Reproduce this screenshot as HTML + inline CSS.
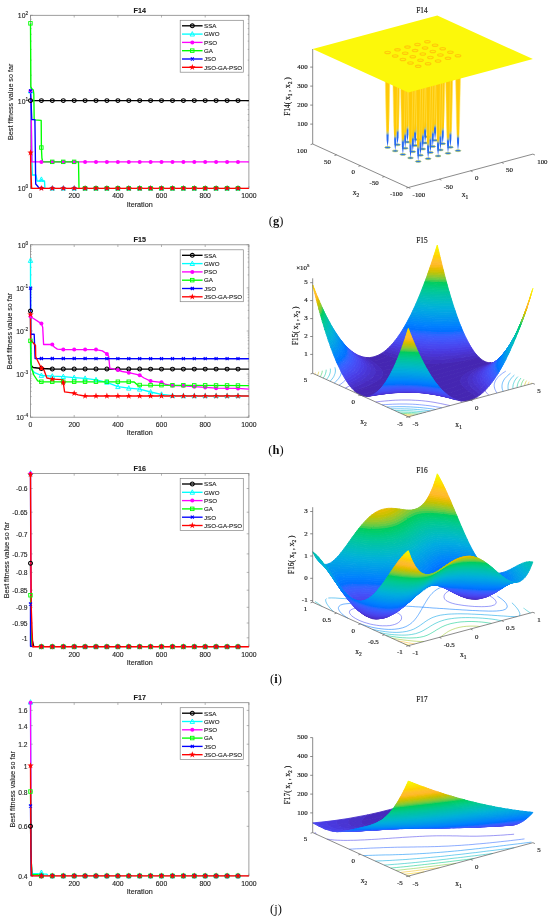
<!DOCTYPE html>
<html><head><meta charset="utf-8"><title>Convergence curves and test functions F14-F17</title>
<style>html,body{margin:0;padding:0;background:#fff}svg{display:block}</style></head>
<body>
<svg width="550" height="921" viewBox="0 0 550 921">
<rect width="550" height="921" fill="#fff"/>
<defs><filter id="sb" x="-5%" y="-5%" width="110%" height="110%"><feGaussianBlur stdDeviation="0.45"/></filter></defs>
<defs><g id="mSSA"><circle cx="0" cy="0" r="1.95" fill="none" stroke="#000000" stroke-width="1.05"/></g><g id="mGWO"><path d="M0,-2.5L-2.2,1.9L2.2,1.9Z" fill="none" stroke="#00ffff" stroke-width="0.95"/></g><g id="mPSO"><circle cx="0" cy="0" r="2" fill="#ff00ff" stroke="none"/></g><g id="mGA"><rect x="-1.8" y="-1.8" width="3.5" height="3.5" fill="none" stroke="#00ff00" stroke-width="0.9"/></g><g id="mJSO"><path d="M-1.5,-1.5L1.5,1.5M-1.5,1.5L1.5,-1.5" stroke="#0000ff" stroke-width="1.15" fill="none"/></g><g id="mHYB"><polygon points="0,-3.4 0.8,-1.1 3.2,-1 1.2,0.4 2,2.7 0,1.3 -2,2.7 -1.2,0.4 -3.2,-1 -0.8,-1.1" fill="#ff0000" stroke="none"/></g></defs>
<g font-family="Liberation Sans, sans-serif" font-size="6.8" fill="#1c1c1c" stroke="#1c1c1c" stroke-width="0.12">
<rect x="30.5" y="15.3" width="218.4" height="173" fill="none" stroke="#858585" stroke-width="0.8"/>
<text x="30.5" y="198.4" text-anchor="middle">0</text>
<text x="74.2" y="198.4" text-anchor="middle">200</text>
<text x="117.9" y="198.4" text-anchor="middle">400</text>
<text x="161.5" y="198.4" text-anchor="middle">600</text>
<text x="205.2" y="198.4" text-anchor="middle">800</text>
<text x="248.9" y="198.4" text-anchor="middle">1000</text>
<text x="28.1" y="18.3" text-anchor="end">10<tspan dy="-3.2" font-size="4.8">2</tspan></text>
<text x="28.1" y="104" text-anchor="end">10<tspan dy="-3.2" font-size="4.8">1</tspan></text>
<text x="28.1" y="191.3" text-anchor="end">10<tspan dy="-3.2" font-size="4.8">0</tspan></text>
<path d="M30.5,188.3v-2.2M30.5,15.3v2.2M74.2,188.3v-2.2M74.2,15.3v2.2M117.9,188.3v-2.2M117.9,15.3v2.2M161.5,188.3v-2.2M161.5,15.3v2.2M205.2,188.3v-2.2M205.2,15.3v2.2M248.9,188.3v-2.2M248.9,15.3v2.2M30.5,15.3h2.2M248.9,15.3h-2.2M30.5,101h2.2M248.9,101h-2.2M30.5,188.3h2.2M248.9,188.3h-2.2M30.5,162h1.2M248.9,162h-1.2M30.5,146.6h1.2M248.9,146.6h-1.2M30.5,135.7h1.2M248.9,135.7h-1.2M30.5,127.3h1.2M248.9,127.3h-1.2M30.5,120.4h1.2M248.9,120.4h-1.2M30.5,114.5h1.2M248.9,114.5h-1.2M30.5,109.5h1.2M248.9,109.5h-1.2M30.5,105h1.2M248.9,105h-1.2M30.5,75.2h1.2M248.9,75.2h-1.2M30.5,60.1h1.2M248.9,60.1h-1.2M30.5,49.4h1.2M248.9,49.4h-1.2M30.5,41.1h1.2M248.9,41.1h-1.2M30.5,34.3h1.2M248.9,34.3h-1.2M30.5,28.6h1.2M248.9,28.6h-1.2M30.5,23.6h1.2M248.9,23.6h-1.2M30.5,19.2h1.2M248.9,19.2h-1.2" stroke="#858585" stroke-width="0.6" fill="none"/>
<path d="M30.5,100.6L248.9,100.6" fill="none" stroke="#000000" stroke-width="1.35" stroke-linejoin="round"/>
<path d="M30.5,91L31.2,120L32.2,175L36,175L37.1,181L40.3,181L41.4,179.4L42.5,181L44.5,181L44.9,188.3" fill="none" stroke="#00ffff" stroke-width="1.35" stroke-linejoin="round"/>
<path d="M30.5,91L31.2,110L31.8,161.9L248.9,161.9" fill="none" stroke="#ff00ff" stroke-width="1.35" stroke-linejoin="round"/>
<path d="M30.5,23.4L30.9,86.5L31.6,88.5L33.3,90L33.8,94L34.2,119.8L41.2,120.4L41.4,147.6L41.9,158L42.7,161.9L78.5,161.9L79,188.3" fill="none" stroke="#00ff00" stroke-width="1.35" stroke-linejoin="round"/>
<path d="M30.5,91L31.2,105L31.8,119.6L34.9,119.6L35.7,184L37.5,186L39.2,188.3" fill="none" stroke="#0000ff" stroke-width="1.35" stroke-linejoin="round"/>
<path d="M30.5,152.7L30.9,170L31.6,188.3L248.9,188.3" fill="none" stroke="#ff0000" stroke-width="1.35" stroke-linejoin="round"/>
<use href="#mSSA" x="30.5" y="100.6"/>
<use href="#mSSA" x="41.4" y="100.6"/>
<use href="#mSSA" x="52.3" y="100.6"/>
<use href="#mSSA" x="63.3" y="100.6"/>
<use href="#mSSA" x="74.2" y="100.6"/>
<use href="#mSSA" x="85.1" y="100.6"/>
<use href="#mSSA" x="96" y="100.6"/>
<use href="#mSSA" x="106.9" y="100.6"/>
<use href="#mSSA" x="117.9" y="100.6"/>
<use href="#mSSA" x="128.8" y="100.6"/>
<use href="#mSSA" x="139.7" y="100.6"/>
<use href="#mSSA" x="150.6" y="100.6"/>
<use href="#mSSA" x="161.5" y="100.6"/>
<use href="#mSSA" x="172.5" y="100.6"/>
<use href="#mSSA" x="183.4" y="100.6"/>
<use href="#mSSA" x="194.3" y="100.6"/>
<use href="#mSSA" x="205.2" y="100.6"/>
<use href="#mSSA" x="216.1" y="100.6"/>
<use href="#mSSA" x="227.1" y="100.6"/>
<use href="#mSSA" x="238" y="100.6"/>
<use href="#mGWO" x="30.5" y="91"/>
<use href="#mGWO" x="41.4" y="179.4"/>
<use href="#mGWO" x="52.3" y="188.3"/>
<use href="#mGWO" x="63.3" y="188.3"/>
<use href="#mGWO" x="74.2" y="188.3"/>
<use href="#mGWO" x="85.1" y="188.3"/>
<use href="#mGWO" x="96" y="188.3"/>
<use href="#mGWO" x="106.9" y="188.3"/>
<use href="#mGWO" x="117.9" y="188.3"/>
<use href="#mGWO" x="128.8" y="188.3"/>
<use href="#mGWO" x="139.7" y="188.3"/>
<use href="#mGWO" x="150.6" y="188.3"/>
<use href="#mGWO" x="161.5" y="188.3"/>
<use href="#mGWO" x="172.5" y="188.3"/>
<use href="#mGWO" x="183.4" y="188.3"/>
<use href="#mGWO" x="194.3" y="188.3"/>
<use href="#mGWO" x="205.2" y="188.3"/>
<use href="#mGWO" x="216.1" y="188.3"/>
<use href="#mGWO" x="227.1" y="188.3"/>
<use href="#mGWO" x="238" y="188.3"/>
<use href="#mPSO" x="30.5" y="91"/>
<use href="#mPSO" x="41.4" y="161.9"/>
<use href="#mPSO" x="52.3" y="161.9"/>
<use href="#mPSO" x="63.3" y="161.9"/>
<use href="#mPSO" x="74.2" y="161.9"/>
<use href="#mPSO" x="85.1" y="161.9"/>
<use href="#mPSO" x="96" y="161.9"/>
<use href="#mPSO" x="106.9" y="161.9"/>
<use href="#mPSO" x="117.9" y="161.9"/>
<use href="#mPSO" x="128.8" y="161.9"/>
<use href="#mPSO" x="139.7" y="161.9"/>
<use href="#mPSO" x="150.6" y="161.9"/>
<use href="#mPSO" x="161.5" y="161.9"/>
<use href="#mPSO" x="172.5" y="161.9"/>
<use href="#mPSO" x="183.4" y="161.9"/>
<use href="#mPSO" x="194.3" y="161.9"/>
<use href="#mPSO" x="205.2" y="161.9"/>
<use href="#mPSO" x="216.1" y="161.9"/>
<use href="#mPSO" x="227.1" y="161.9"/>
<use href="#mPSO" x="238" y="161.9"/>
<use href="#mGA" x="30.5" y="23.4"/>
<use href="#mGA" x="41.4" y="147.6"/>
<use href="#mGA" x="52.3" y="161.9"/>
<use href="#mGA" x="63.3" y="161.9"/>
<use href="#mGA" x="74.2" y="161.9"/>
<use href="#mGA" x="85.1" y="188.3"/>
<use href="#mGA" x="96" y="188.3"/>
<use href="#mGA" x="106.9" y="188.3"/>
<use href="#mGA" x="117.9" y="188.3"/>
<use href="#mGA" x="128.8" y="188.3"/>
<use href="#mGA" x="139.7" y="188.3"/>
<use href="#mGA" x="150.6" y="188.3"/>
<use href="#mGA" x="161.5" y="188.3"/>
<use href="#mGA" x="172.5" y="188.3"/>
<use href="#mGA" x="183.4" y="188.3"/>
<use href="#mGA" x="194.3" y="188.3"/>
<use href="#mGA" x="205.2" y="188.3"/>
<use href="#mGA" x="216.1" y="188.3"/>
<use href="#mGA" x="227.1" y="188.3"/>
<use href="#mGA" x="238" y="188.3"/>
<use href="#mJSO" x="30.5" y="91"/>
<use href="#mJSO" x="41.4" y="188.3"/>
<use href="#mJSO" x="52.3" y="188.3"/>
<use href="#mJSO" x="63.3" y="188.3"/>
<use href="#mJSO" x="74.2" y="188.3"/>
<use href="#mJSO" x="85.1" y="188.3"/>
<use href="#mJSO" x="96" y="188.3"/>
<use href="#mJSO" x="106.9" y="188.3"/>
<use href="#mJSO" x="117.9" y="188.3"/>
<use href="#mJSO" x="128.8" y="188.3"/>
<use href="#mJSO" x="139.7" y="188.3"/>
<use href="#mJSO" x="150.6" y="188.3"/>
<use href="#mJSO" x="161.5" y="188.3"/>
<use href="#mJSO" x="172.5" y="188.3"/>
<use href="#mJSO" x="183.4" y="188.3"/>
<use href="#mJSO" x="194.3" y="188.3"/>
<use href="#mJSO" x="205.2" y="188.3"/>
<use href="#mJSO" x="216.1" y="188.3"/>
<use href="#mJSO" x="227.1" y="188.3"/>
<use href="#mJSO" x="238" y="188.3"/>
<use href="#mHYB" x="30.5" y="152.7"/>
<use href="#mHYB" x="41.4" y="188.3"/>
<use href="#mHYB" x="52.3" y="188.3"/>
<use href="#mHYB" x="63.3" y="188.3"/>
<use href="#mHYB" x="74.2" y="188.3"/>
<use href="#mHYB" x="85.1" y="188.3"/>
<use href="#mHYB" x="96" y="188.3"/>
<use href="#mHYB" x="106.9" y="188.3"/>
<use href="#mHYB" x="117.9" y="188.3"/>
<use href="#mHYB" x="128.8" y="188.3"/>
<use href="#mHYB" x="139.7" y="188.3"/>
<use href="#mHYB" x="150.6" y="188.3"/>
<use href="#mHYB" x="161.5" y="188.3"/>
<use href="#mHYB" x="172.5" y="188.3"/>
<use href="#mHYB" x="183.4" y="188.3"/>
<use href="#mHYB" x="194.3" y="188.3"/>
<use href="#mHYB" x="205.2" y="188.3"/>
<use href="#mHYB" x="216.1" y="188.3"/>
<use href="#mHYB" x="227.1" y="188.3"/>
<use href="#mHYB" x="238" y="188.3"/>
<text x="139.7" y="12.7" text-anchor="middle" font-weight="bold" font-size="7.2">F14</text>
<text x="139.7" y="206.5" text-anchor="middle" font-size="7.2">Iteration</text>
<text transform="translate(13.3,101.8) rotate(-90)" text-anchor="middle" font-size="7.2">Best fitness value so far</text>
<rect x="180.2" y="20.3" width="63.1" height="51.9" fill="#fff" stroke="#858585" stroke-width="0.7"/>
<path d="M182,25.8H202.6" stroke="#000000" stroke-width="1.35"/>
<use href="#mSSA" x="192.3" y="25.8"/>
<text x="204" y="28.1" font-size="6.2">SSA</text>
<path d="M182,34.1H202.6" stroke="#00ffff" stroke-width="1.35"/>
<use href="#mGWO" x="192.3" y="34.1"/>
<text x="204" y="36.4" font-size="6.2">GWO</text>
<path d="M182,42.4H202.6" stroke="#ff00ff" stroke-width="1.35"/>
<use href="#mPSO" x="192.3" y="42.4"/>
<text x="204" y="44.7" font-size="6.2">PSO</text>
<path d="M182,50.7H202.6" stroke="#00ff00" stroke-width="1.35"/>
<use href="#mGA" x="192.3" y="50.7"/>
<text x="204" y="53" font-size="6.2">GA</text>
<path d="M182,59H202.6" stroke="#0000ff" stroke-width="1.35"/>
<use href="#mJSO" x="192.3" y="59"/>
<text x="204" y="61.2" font-size="6.2">JSO</text>
<path d="M182,67.3H202.6" stroke="#ff0000" stroke-width="1.35"/>
<use href="#mHYB" x="192.3" y="67.3"/>
<text x="204" y="69.5" font-size="6.2">JSO-GA-PSO</text>
</g>
<g font-family="Liberation Sans, sans-serif" font-size="6.8" fill="#1c1c1c" stroke="#1c1c1c" stroke-width="0.12">
<rect x="30.5" y="244.8" width="218.4" height="172.4" fill="none" stroke="#858585" stroke-width="0.8"/>
<text x="30.5" y="427.3" text-anchor="middle">0</text>
<text x="74.2" y="427.3" text-anchor="middle">200</text>
<text x="117.9" y="427.3" text-anchor="middle">400</text>
<text x="161.5" y="427.3" text-anchor="middle">600</text>
<text x="205.2" y="427.3" text-anchor="middle">800</text>
<text x="248.9" y="427.3" text-anchor="middle">1000</text>
<text x="28.1" y="247.8" text-anchor="end">10<tspan dy="-3.2" font-size="4.8">0</tspan></text>
<text x="28.1" y="290.9" text-anchor="end">10<tspan dy="-3.2" font-size="4.8">-1</tspan></text>
<text x="28.1" y="334" text-anchor="end">10<tspan dy="-3.2" font-size="4.8">-2</tspan></text>
<text x="28.1" y="377.1" text-anchor="end">10<tspan dy="-3.2" font-size="4.8">-3</tspan></text>
<text x="28.1" y="420.2" text-anchor="end">10<tspan dy="-3.2" font-size="4.8">-4</tspan></text>
<path d="M30.5,417.2v-2.2M30.5,244.8v2.2M74.2,417.2v-2.2M74.2,244.8v2.2M117.9,417.2v-2.2M117.9,244.8v2.2M161.5,417.2v-2.2M161.5,244.8v2.2M205.2,417.2v-2.2M205.2,244.8v2.2M248.9,417.2v-2.2M248.9,244.8v2.2M30.5,244.8h2.2M248.9,244.8h-2.2M30.5,287.9h2.2M248.9,287.9h-2.2M30.5,331h2.2M248.9,331h-2.2M30.5,374.1h2.2M248.9,374.1h-2.2M30.5,417.2h2.2M248.9,417.2h-2.2M30.5,404.2h1.2M248.9,404.2h-1.2M30.5,396.6h1.2M248.9,396.6h-1.2M30.5,391.3h1.2M248.9,391.3h-1.2M30.5,387.1h1.2M248.9,387.1h-1.2M30.5,383.7h1.2M248.9,383.7h-1.2M30.5,380.8h1.2M248.9,380.8h-1.2M30.5,378.3h1.2M248.9,378.3h-1.2M30.5,376.1h1.2M248.9,376.1h-1.2M30.5,361.1h1.2M248.9,361.1h-1.2M30.5,353.5h1.2M248.9,353.5h-1.2M30.5,348.2h1.2M248.9,348.2h-1.2M30.5,344h1.2M248.9,344h-1.2M30.5,340.6h1.2M248.9,340.6h-1.2M30.5,337.7h1.2M248.9,337.7h-1.2M30.5,335.2h1.2M248.9,335.2h-1.2M30.5,333h1.2M248.9,333h-1.2M30.5,318h1.2M248.9,318h-1.2M30.5,310.4h1.2M248.9,310.4h-1.2M30.5,305.1h1.2M248.9,305.1h-1.2M30.5,300.9h1.2M248.9,300.9h-1.2M30.5,297.5h1.2M248.9,297.5h-1.2M30.5,294.6h1.2M248.9,294.6h-1.2M30.5,292.1h1.2M248.9,292.1h-1.2M30.5,289.9h1.2M248.9,289.9h-1.2M30.5,274.9h1.2M248.9,274.9h-1.2M30.5,267.3h1.2M248.9,267.3h-1.2M30.5,262h1.2M248.9,262h-1.2M30.5,257.8h1.2M248.9,257.8h-1.2M30.5,254.4h1.2M248.9,254.4h-1.2M30.5,251.5h1.2M248.9,251.5h-1.2M30.5,249h1.2M248.9,249h-1.2M30.5,246.8h1.2M248.9,246.8h-1.2" stroke="#858585" stroke-width="0.6" fill="none"/>
<path d="M30.5,310.9L30.7,362L31.6,366L33.1,367.5L41.4,368.5L52.3,369L248.9,369.1" fill="none" stroke="#000000" stroke-width="1.35" stroke-linejoin="round"/>
<path d="M30.5,260.5L30.7,345L31.2,369L34.6,372.7L41.4,375.5L52.3,376.2L63.3,376.6L74.2,377.6L85.1,378.4L96,379.8L106.9,382.3L117.9,386.7L128.8,388.2L139.7,389.2L150.6,392L161.5,394.3L172.5,395.6L183.4,395.8L248.9,395.8" fill="none" stroke="#00ffff" stroke-width="1.35" stroke-linejoin="round"/>
<path d="M30.5,316.4L32.7,318L41.4,323.6L42.7,327.3L43.6,344.5L52.3,344.5L54.5,347.3L57.4,349.1L62.8,349.5L96,349.6L102.4,350.9L106.9,354L108.7,356.4L109.8,368.2L117.6,369.8L122.2,371.5L128.8,372.7L139.7,375.2L144.1,378L150.6,381.1L161.5,382.3L165.9,384.5L172.5,385.6L183.4,385.8L194.3,386.7L205.2,387.4L216.1,388.2L238,388.4L248.9,389.2" fill="none" stroke="#ff00ff" stroke-width="1.35" stroke-linejoin="round"/>
<path d="M30.5,340.9L30.9,360L31.6,368L33.8,375L37.7,380.9L41.4,381.8L128.8,381.8L134.2,382L137.5,385.1L248.9,385.6" fill="none" stroke="#00ff00" stroke-width="1.35" stroke-linejoin="round"/>
<path d="M30.5,288.2L30.7,334.2L34.2,334.2L35.1,358.5L248.9,358.7" fill="none" stroke="#0000ff" stroke-width="1.35" stroke-linejoin="round"/>
<path d="M30.5,314.5L30.7,340L35.5,345.5L35.7,356.4L36.4,358.2L41.4,368.2L43.6,369.1L46.9,378L52.3,379.1L62.8,379.6L64.6,391.8L73.7,393.1L78.1,394.9L84.7,396L248.9,396" fill="none" stroke="#ff0000" stroke-width="1.35" stroke-linejoin="round"/>
<use href="#mSSA" x="30.5" y="310.9"/>
<use href="#mSSA" x="41.4" y="368.5"/>
<use href="#mSSA" x="52.3" y="369"/>
<use href="#mSSA" x="63.3" y="369"/>
<use href="#mSSA" x="74.2" y="369"/>
<use href="#mSSA" x="85.1" y="369"/>
<use href="#mSSA" x="96" y="369"/>
<use href="#mSSA" x="106.9" y="369"/>
<use href="#mSSA" x="117.9" y="369"/>
<use href="#mSSA" x="128.8" y="369"/>
<use href="#mSSA" x="139.7" y="369"/>
<use href="#mSSA" x="150.6" y="369.1"/>
<use href="#mSSA" x="161.5" y="369.1"/>
<use href="#mSSA" x="172.5" y="369.1"/>
<use href="#mSSA" x="183.4" y="369.1"/>
<use href="#mSSA" x="194.3" y="369.1"/>
<use href="#mSSA" x="205.2" y="369.1"/>
<use href="#mSSA" x="216.1" y="369.1"/>
<use href="#mSSA" x="227.1" y="369.1"/>
<use href="#mSSA" x="238" y="369.1"/>
<use href="#mGWO" x="30.5" y="260.5"/>
<use href="#mGWO" x="41.4" y="375.5"/>
<use href="#mGWO" x="52.3" y="376.2"/>
<use href="#mGWO" x="63.3" y="376.6"/>
<use href="#mGWO" x="74.2" y="377.6"/>
<use href="#mGWO" x="85.1" y="378.4"/>
<use href="#mGWO" x="96" y="379.8"/>
<use href="#mGWO" x="106.9" y="382.3"/>
<use href="#mGWO" x="117.9" y="386.7"/>
<use href="#mGWO" x="128.8" y="388.2"/>
<use href="#mGWO" x="139.7" y="389.2"/>
<use href="#mGWO" x="150.6" y="392"/>
<use href="#mGWO" x="161.5" y="394.3"/>
<use href="#mGWO" x="172.5" y="395.6"/>
<use href="#mGWO" x="183.4" y="395.8"/>
<use href="#mGWO" x="194.3" y="395.8"/>
<use href="#mGWO" x="205.2" y="395.8"/>
<use href="#mGWO" x="216.1" y="395.8"/>
<use href="#mGWO" x="227.1" y="395.8"/>
<use href="#mGWO" x="238" y="395.8"/>
<use href="#mPSO" x="30.5" y="316.4"/>
<use href="#mPSO" x="41.4" y="323.6"/>
<use href="#mPSO" x="52.3" y="344.5"/>
<use href="#mPSO" x="63.3" y="349.5"/>
<use href="#mPSO" x="74.2" y="349.5"/>
<use href="#mPSO" x="85.1" y="349.6"/>
<use href="#mPSO" x="96" y="349.6"/>
<use href="#mPSO" x="106.9" y="354"/>
<use href="#mPSO" x="117.9" y="369.9"/>
<use href="#mPSO" x="128.8" y="372.7"/>
<use href="#mPSO" x="139.7" y="375.2"/>
<use href="#mPSO" x="150.6" y="381.1"/>
<use href="#mPSO" x="161.5" y="382.3"/>
<use href="#mPSO" x="172.5" y="385.6"/>
<use href="#mPSO" x="183.4" y="385.8"/>
<use href="#mPSO" x="194.3" y="386.7"/>
<use href="#mPSO" x="205.2" y="387.4"/>
<use href="#mPSO" x="216.1" y="388.2"/>
<use href="#mPSO" x="227.1" y="388.3"/>
<use href="#mPSO" x="238" y="388.4"/>
<use href="#mGA" x="30.5" y="340.9"/>
<use href="#mGA" x="41.4" y="381.8"/>
<use href="#mGA" x="52.3" y="381.8"/>
<use href="#mGA" x="63.3" y="381.8"/>
<use href="#mGA" x="74.2" y="381.8"/>
<use href="#mGA" x="85.1" y="381.8"/>
<use href="#mGA" x="96" y="381.8"/>
<use href="#mGA" x="106.9" y="381.8"/>
<use href="#mGA" x="117.9" y="381.8"/>
<use href="#mGA" x="128.8" y="381.8"/>
<use href="#mGA" x="139.7" y="385.1"/>
<use href="#mGA" x="150.6" y="385.2"/>
<use href="#mGA" x="161.5" y="385.2"/>
<use href="#mGA" x="172.5" y="385.3"/>
<use href="#mGA" x="183.4" y="385.3"/>
<use href="#mGA" x="194.3" y="385.4"/>
<use href="#mGA" x="205.2" y="385.4"/>
<use href="#mGA" x="216.1" y="385.5"/>
<use href="#mGA" x="227.1" y="385.5"/>
<use href="#mGA" x="238" y="385.6"/>
<use href="#mJSO" x="30.5" y="288.2"/>
<use href="#mJSO" x="41.4" y="358.5"/>
<use href="#mJSO" x="52.3" y="358.5"/>
<use href="#mJSO" x="63.3" y="358.5"/>
<use href="#mJSO" x="74.2" y="358.5"/>
<use href="#mJSO" x="85.1" y="358.5"/>
<use href="#mJSO" x="96" y="358.6"/>
<use href="#mJSO" x="106.9" y="358.6"/>
<use href="#mJSO" x="117.9" y="358.6"/>
<use href="#mJSO" x="128.8" y="358.6"/>
<use href="#mJSO" x="139.7" y="358.6"/>
<use href="#mJSO" x="150.6" y="358.6"/>
<use href="#mJSO" x="161.5" y="358.6"/>
<use href="#mJSO" x="172.5" y="358.6"/>
<use href="#mJSO" x="183.4" y="358.6"/>
<use href="#mJSO" x="194.3" y="358.6"/>
<use href="#mJSO" x="205.2" y="358.7"/>
<use href="#mJSO" x="216.1" y="358.7"/>
<use href="#mJSO" x="227.1" y="358.7"/>
<use href="#mJSO" x="238" y="358.7"/>
<use href="#mHYB" x="30.5" y="314.5"/>
<use href="#mHYB" x="41.4" y="368.2"/>
<use href="#mHYB" x="52.3" y="379.1"/>
<use href="#mHYB" x="63.3" y="382.7"/>
<use href="#mHYB" x="74.2" y="393.3"/>
<use href="#mHYB" x="85.1" y="396"/>
<use href="#mHYB" x="96" y="396"/>
<use href="#mHYB" x="106.9" y="396"/>
<use href="#mHYB" x="117.9" y="396"/>
<use href="#mHYB" x="128.8" y="396"/>
<use href="#mHYB" x="139.7" y="396"/>
<use href="#mHYB" x="150.6" y="396"/>
<use href="#mHYB" x="161.5" y="396"/>
<use href="#mHYB" x="172.5" y="396"/>
<use href="#mHYB" x="183.4" y="396"/>
<use href="#mHYB" x="194.3" y="396"/>
<use href="#mHYB" x="205.2" y="396"/>
<use href="#mHYB" x="216.1" y="396"/>
<use href="#mHYB" x="227.1" y="396"/>
<use href="#mHYB" x="238" y="396"/>
<text x="139.7" y="242.2" text-anchor="middle" font-weight="bold" font-size="7.2">F15</text>
<text x="139.7" y="435.4" text-anchor="middle" font-size="7.2">Iteration</text>
<text transform="translate(12,331) rotate(-90)" text-anchor="middle" font-size="7.2">Best fitness value so far</text>
<rect x="180.2" y="249.8" width="63.1" height="51.9" fill="#fff" stroke="#858585" stroke-width="0.7"/>
<path d="M182,255.3H202.6" stroke="#000000" stroke-width="1.35"/>
<use href="#mSSA" x="192.3" y="255.3"/>
<text x="204" y="257.6" font-size="6.2">SSA</text>
<path d="M182,263.6H202.6" stroke="#00ffff" stroke-width="1.35"/>
<use href="#mGWO" x="192.3" y="263.6"/>
<text x="204" y="265.9" font-size="6.2">GWO</text>
<path d="M182,271.9H202.6" stroke="#ff00ff" stroke-width="1.35"/>
<use href="#mPSO" x="192.3" y="271.9"/>
<text x="204" y="274.2" font-size="6.2">PSO</text>
<path d="M182,280.2H202.6" stroke="#00ff00" stroke-width="1.35"/>
<use href="#mGA" x="192.3" y="280.2"/>
<text x="204" y="282.4" font-size="6.2">GA</text>
<path d="M182,288.5H202.6" stroke="#0000ff" stroke-width="1.35"/>
<use href="#mJSO" x="192.3" y="288.5"/>
<text x="204" y="290.8" font-size="6.2">JSO</text>
<path d="M182,296.8H202.6" stroke="#ff0000" stroke-width="1.35"/>
<use href="#mHYB" x="192.3" y="296.8"/>
<text x="204" y="299.1" font-size="6.2">JSO-GA-PSO</text>
</g>
<g font-family="Liberation Sans, sans-serif" font-size="6.8" fill="#1c1c1c" stroke="#1c1c1c" stroke-width="0.12">
<rect x="30.5" y="473.5" width="218.4" height="173.2" fill="none" stroke="#858585" stroke-width="0.8"/>
<text x="30.5" y="656.8" text-anchor="middle">0</text>
<text x="74.2" y="656.8" text-anchor="middle">200</text>
<text x="117.9" y="656.8" text-anchor="middle">400</text>
<text x="161.5" y="656.8" text-anchor="middle">600</text>
<text x="205.2" y="656.8" text-anchor="middle">800</text>
<text x="248.9" y="656.8" text-anchor="middle">1000</text>
<text x="27.6" y="491.4" text-anchor="end" font-size="6.7">-0.6</text>
<text x="27.6" y="515.1" text-anchor="end" font-size="6.7">-0.65</text>
<text x="27.6" y="536.7" text-anchor="end" font-size="6.7">-0.7</text>
<text x="27.6" y="556.8" text-anchor="end" font-size="6.7">-0.75</text>
<text x="27.6" y="575.3" text-anchor="end" font-size="6.7">-0.8</text>
<text x="27.6" y="593.1" text-anchor="end" font-size="6.7">-0.85</text>
<text x="27.6" y="610.2" text-anchor="end" font-size="6.7">-0.9</text>
<text x="27.6" y="625.9" text-anchor="end" font-size="6.7">-0.95</text>
<text x="27.6" y="640.7" text-anchor="end" font-size="6.7">-1</text>
<path d="M30.5,646.7v-2.2M30.5,473.5v2.2M74.2,646.7v-2.2M74.2,473.5v2.2M117.9,646.7v-2.2M117.9,473.5v2.2M161.5,646.7v-2.2M161.5,473.5v2.2M205.2,646.7v-2.2M205.2,473.5v2.2M248.9,646.7v-2.2M248.9,473.5v2.2M30.5,488.5h2.2M248.9,488.5h-2.2M30.5,512.2h2.2M248.9,512.2h-2.2M30.5,533.8h2.2M248.9,533.8h-2.2M30.5,553.9h2.2M248.9,553.9h-2.2M30.5,572.4h2.2M248.9,572.4h-2.2M30.5,590.2h2.2M248.9,590.2h-2.2M30.5,607.3h2.2M248.9,607.3h-2.2M30.5,623h2.2M248.9,623h-2.2M30.5,637.8h2.2M248.9,637.8h-2.2" stroke="#858585" stroke-width="0.6" fill="none"/>
<path d="M30.5,563.2L31.2,630L32.2,640L33.8,646.7" fill="none" stroke="#000000" stroke-width="1.35" stroke-linejoin="round"/>
<path d="M30.5,473L30.9,600L31.6,646.7" fill="none" stroke="#00ffff" stroke-width="1.35" stroke-linejoin="round"/>
<path d="M30.5,473.5L30.9,600L31.6,646.7" fill="none" stroke="#ff00ff" stroke-width="1.35" stroke-linejoin="round"/>
<path d="M30.5,595.3L31.2,635L32.2,646.7" fill="none" stroke="#00ff00" stroke-width="1.35" stroke-linejoin="round"/>
<path d="M30.5,604L30.5,646.2L33.6,646.7" fill="none" stroke="#0000ff" stroke-width="1.35" stroke-linejoin="round"/>
<path d="M30.5,474.5L30.9,560L31.2,606L32.7,646.7L248.9,646.7" fill="none" stroke="#ff0000" stroke-width="1.35" stroke-linejoin="round"/>
<use href="#mSSA" x="30.5" y="563.2"/>
<use href="#mSSA" x="41.4" y="646.7"/>
<use href="#mSSA" x="52.3" y="646.7"/>
<use href="#mSSA" x="63.3" y="646.7"/>
<use href="#mSSA" x="74.2" y="646.7"/>
<use href="#mSSA" x="85.1" y="646.7"/>
<use href="#mSSA" x="96" y="646.7"/>
<use href="#mSSA" x="106.9" y="646.7"/>
<use href="#mSSA" x="117.9" y="646.7"/>
<use href="#mSSA" x="128.8" y="646.7"/>
<use href="#mSSA" x="139.7" y="646.7"/>
<use href="#mSSA" x="150.6" y="646.7"/>
<use href="#mSSA" x="161.5" y="646.7"/>
<use href="#mSSA" x="172.5" y="646.7"/>
<use href="#mSSA" x="183.4" y="646.7"/>
<use href="#mSSA" x="194.3" y="646.7"/>
<use href="#mSSA" x="205.2" y="646.7"/>
<use href="#mSSA" x="216.1" y="646.7"/>
<use href="#mSSA" x="227.1" y="646.7"/>
<use href="#mSSA" x="238" y="646.7"/>
<use href="#mGWO" x="30.5" y="473"/>
<use href="#mGWO" x="41.4" y="646.7"/>
<use href="#mGWO" x="52.3" y="646.7"/>
<use href="#mGWO" x="63.3" y="646.7"/>
<use href="#mGWO" x="74.2" y="646.7"/>
<use href="#mGWO" x="85.1" y="646.7"/>
<use href="#mGWO" x="96" y="646.7"/>
<use href="#mGWO" x="106.9" y="646.7"/>
<use href="#mGWO" x="117.9" y="646.7"/>
<use href="#mGWO" x="128.8" y="646.7"/>
<use href="#mGWO" x="139.7" y="646.7"/>
<use href="#mGWO" x="150.6" y="646.7"/>
<use href="#mGWO" x="161.5" y="646.7"/>
<use href="#mGWO" x="172.5" y="646.7"/>
<use href="#mGWO" x="183.4" y="646.7"/>
<use href="#mGWO" x="194.3" y="646.7"/>
<use href="#mGWO" x="205.2" y="646.7"/>
<use href="#mGWO" x="216.1" y="646.7"/>
<use href="#mGWO" x="227.1" y="646.7"/>
<use href="#mGWO" x="238" y="646.7"/>
<use href="#mPSO" x="30.5" y="473.5"/>
<use href="#mPSO" x="41.4" y="646.7"/>
<use href="#mPSO" x="52.3" y="646.7"/>
<use href="#mPSO" x="63.3" y="646.7"/>
<use href="#mPSO" x="74.2" y="646.7"/>
<use href="#mPSO" x="85.1" y="646.7"/>
<use href="#mPSO" x="96" y="646.7"/>
<use href="#mPSO" x="106.9" y="646.7"/>
<use href="#mPSO" x="117.9" y="646.7"/>
<use href="#mPSO" x="128.8" y="646.7"/>
<use href="#mPSO" x="139.7" y="646.7"/>
<use href="#mPSO" x="150.6" y="646.7"/>
<use href="#mPSO" x="161.5" y="646.7"/>
<use href="#mPSO" x="172.5" y="646.7"/>
<use href="#mPSO" x="183.4" y="646.7"/>
<use href="#mPSO" x="194.3" y="646.7"/>
<use href="#mPSO" x="205.2" y="646.7"/>
<use href="#mPSO" x="216.1" y="646.7"/>
<use href="#mPSO" x="227.1" y="646.7"/>
<use href="#mPSO" x="238" y="646.7"/>
<use href="#mGA" x="30.5" y="595.3"/>
<use href="#mGA" x="41.4" y="646.7"/>
<use href="#mGA" x="52.3" y="646.7"/>
<use href="#mGA" x="63.3" y="646.7"/>
<use href="#mGA" x="74.2" y="646.7"/>
<use href="#mGA" x="85.1" y="646.7"/>
<use href="#mGA" x="96" y="646.7"/>
<use href="#mGA" x="106.9" y="646.7"/>
<use href="#mGA" x="117.9" y="646.7"/>
<use href="#mGA" x="128.8" y="646.7"/>
<use href="#mGA" x="139.7" y="646.7"/>
<use href="#mGA" x="150.6" y="646.7"/>
<use href="#mGA" x="161.5" y="646.7"/>
<use href="#mGA" x="172.5" y="646.7"/>
<use href="#mGA" x="183.4" y="646.7"/>
<use href="#mGA" x="194.3" y="646.7"/>
<use href="#mGA" x="205.2" y="646.7"/>
<use href="#mGA" x="216.1" y="646.7"/>
<use href="#mGA" x="227.1" y="646.7"/>
<use href="#mGA" x="238" y="646.7"/>
<use href="#mJSO" x="30.5" y="604"/>
<use href="#mJSO" x="41.4" y="646.7"/>
<use href="#mJSO" x="52.3" y="646.7"/>
<use href="#mJSO" x="63.3" y="646.7"/>
<use href="#mJSO" x="74.2" y="646.7"/>
<use href="#mJSO" x="85.1" y="646.7"/>
<use href="#mJSO" x="96" y="646.7"/>
<use href="#mJSO" x="106.9" y="646.7"/>
<use href="#mJSO" x="117.9" y="646.7"/>
<use href="#mJSO" x="128.8" y="646.7"/>
<use href="#mJSO" x="139.7" y="646.7"/>
<use href="#mJSO" x="150.6" y="646.7"/>
<use href="#mJSO" x="161.5" y="646.7"/>
<use href="#mJSO" x="172.5" y="646.7"/>
<use href="#mJSO" x="183.4" y="646.7"/>
<use href="#mJSO" x="194.3" y="646.7"/>
<use href="#mJSO" x="205.2" y="646.7"/>
<use href="#mJSO" x="216.1" y="646.7"/>
<use href="#mJSO" x="227.1" y="646.7"/>
<use href="#mJSO" x="238" y="646.7"/>
<use href="#mHYB" x="30.5" y="474.5"/>
<use href="#mHYB" x="41.4" y="646.7"/>
<use href="#mHYB" x="52.3" y="646.7"/>
<use href="#mHYB" x="63.3" y="646.7"/>
<use href="#mHYB" x="74.2" y="646.7"/>
<use href="#mHYB" x="85.1" y="646.7"/>
<use href="#mHYB" x="96" y="646.7"/>
<use href="#mHYB" x="106.9" y="646.7"/>
<use href="#mHYB" x="117.9" y="646.7"/>
<use href="#mHYB" x="128.8" y="646.7"/>
<use href="#mHYB" x="139.7" y="646.7"/>
<use href="#mHYB" x="150.6" y="646.7"/>
<use href="#mHYB" x="161.5" y="646.7"/>
<use href="#mHYB" x="172.5" y="646.7"/>
<use href="#mHYB" x="183.4" y="646.7"/>
<use href="#mHYB" x="194.3" y="646.7"/>
<use href="#mHYB" x="205.2" y="646.7"/>
<use href="#mHYB" x="216.1" y="646.7"/>
<use href="#mHYB" x="227.1" y="646.7"/>
<use href="#mHYB" x="238" y="646.7"/>
<text x="139.7" y="470.9" text-anchor="middle" font-weight="bold" font-size="7.2">F16</text>
<text x="139.7" y="664.9" text-anchor="middle" font-size="7.2">Iteration</text>
<text transform="translate(8.5,560.1) rotate(-90)" text-anchor="middle" font-size="7.2">Best fitness value so far</text>
<rect x="180.2" y="478.5" width="63.1" height="51.9" fill="#fff" stroke="#858585" stroke-width="0.7"/>
<path d="M182,484H202.6" stroke="#000000" stroke-width="1.35"/>
<use href="#mSSA" x="192.3" y="484"/>
<text x="204" y="486.2" font-size="6.2">SSA</text>
<path d="M182,492.3H202.6" stroke="#00ffff" stroke-width="1.35"/>
<use href="#mGWO" x="192.3" y="492.3"/>
<text x="204" y="494.6" font-size="6.2">GWO</text>
<path d="M182,500.6H202.6" stroke="#ff00ff" stroke-width="1.35"/>
<use href="#mPSO" x="192.3" y="500.6"/>
<text x="204" y="502.9" font-size="6.2">PSO</text>
<path d="M182,508.9H202.6" stroke="#00ff00" stroke-width="1.35"/>
<use href="#mGA" x="192.3" y="508.9"/>
<text x="204" y="511.1" font-size="6.2">GA</text>
<path d="M182,517.2H202.6" stroke="#0000ff" stroke-width="1.35"/>
<use href="#mJSO" x="192.3" y="517.2"/>
<text x="204" y="519.5" font-size="6.2">JSO</text>
<path d="M182,525.5H202.6" stroke="#ff0000" stroke-width="1.35"/>
<use href="#mHYB" x="192.3" y="525.5"/>
<text x="204" y="527.8" font-size="6.2">JSO-GA-PSO</text>
</g>
<g font-family="Liberation Sans, sans-serif" font-size="6.8" fill="#1c1c1c" stroke="#1c1c1c" stroke-width="0.12">
<rect x="30.5" y="702.7" width="218.4" height="173.2" fill="none" stroke="#858585" stroke-width="0.8"/>
<text x="30.5" y="886" text-anchor="middle">0</text>
<text x="74.2" y="886" text-anchor="middle">200</text>
<text x="117.9" y="886" text-anchor="middle">400</text>
<text x="161.5" y="886" text-anchor="middle">600</text>
<text x="205.2" y="886" text-anchor="middle">800</text>
<text x="248.9" y="886" text-anchor="middle">1000</text>
<text x="27.6" y="713.3" text-anchor="end" font-size="6.7">1.6</text>
<text x="27.6" y="728.5" text-anchor="end" font-size="6.7">1.4</text>
<text x="27.6" y="747.1" text-anchor="end" font-size="6.7">1.2</text>
<text x="27.6" y="768.5" text-anchor="end" font-size="6.7">1</text>
<text x="27.6" y="794.5" text-anchor="end" font-size="6.7">0.8</text>
<text x="27.6" y="829.2" text-anchor="end" font-size="6.7">0.6</text>
<text x="27.6" y="878.8" text-anchor="end" font-size="6.7">0.4</text>
<path d="M30.5,875.9v-2.2M30.5,702.7v2.2M74.2,875.9v-2.2M74.2,702.7v2.2M117.9,875.9v-2.2M117.9,702.7v2.2M161.5,875.9v-2.2M161.5,702.7v2.2M205.2,875.9v-2.2M205.2,702.7v2.2M248.9,875.9v-2.2M248.9,702.7v2.2M30.5,710.4h2.2M248.9,710.4h-2.2M30.5,725.6h2.2M248.9,725.6h-2.2M30.5,744.2h2.2M248.9,744.2h-2.2M30.5,765.6h2.2M248.9,765.6h-2.2M30.5,791.6h2.2M248.9,791.6h-2.2M30.5,826.3h2.2M248.9,826.3h-2.2M30.5,875.9h2.2M248.9,875.9h-2.2" stroke="#858585" stroke-width="0.6" fill="none"/>
<path d="M30.5,826.3L31.2,860L31.8,874.9L33.1,875.9" fill="none" stroke="#000000" stroke-width="1.35" stroke-linejoin="round"/>
<path d="M30.5,702.2L31.2,860L31.8,873.5L37.1,873.7L40.3,873.9L41.4,872.5L42.5,873.9L46.9,874.1L48,875.9" fill="none" stroke="#00ffff" stroke-width="1.35" stroke-linejoin="round"/>
<path d="M30.5,702.7L30.9,800L31.4,874.9L32.7,875.9" fill="none" stroke="#ff00ff" stroke-width="1.35" stroke-linejoin="round"/>
<path d="M30.5,791.6L31.2,860L31.8,874.3L38.1,874.7L39.2,875.9" fill="none" stroke="#00ff00" stroke-width="1.35" stroke-linejoin="round"/>
<path d="M30.5,806L30.9,850L31.6,875.9" fill="none" stroke="#0000ff" stroke-width="1.35" stroke-linejoin="round"/>
<path d="M30.5,765.6L30.9,850L31.6,875.9L248.9,875.9" fill="none" stroke="#ff0000" stroke-width="1.35" stroke-linejoin="round"/>
<use href="#mSSA" x="30.5" y="826.3"/>
<use href="#mSSA" x="41.4" y="875.9"/>
<use href="#mSSA" x="52.3" y="875.9"/>
<use href="#mSSA" x="63.3" y="875.9"/>
<use href="#mSSA" x="74.2" y="875.9"/>
<use href="#mSSA" x="85.1" y="875.9"/>
<use href="#mSSA" x="96" y="875.9"/>
<use href="#mSSA" x="106.9" y="875.9"/>
<use href="#mSSA" x="117.9" y="875.9"/>
<use href="#mSSA" x="128.8" y="875.9"/>
<use href="#mSSA" x="139.7" y="875.9"/>
<use href="#mSSA" x="150.6" y="875.9"/>
<use href="#mSSA" x="161.5" y="875.9"/>
<use href="#mSSA" x="172.5" y="875.9"/>
<use href="#mSSA" x="183.4" y="875.9"/>
<use href="#mSSA" x="194.3" y="875.9"/>
<use href="#mSSA" x="205.2" y="875.9"/>
<use href="#mSSA" x="216.1" y="875.9"/>
<use href="#mSSA" x="227.1" y="875.9"/>
<use href="#mSSA" x="238" y="875.9"/>
<use href="#mGWO" x="30.5" y="702.2"/>
<use href="#mGWO" x="41.4" y="872.5"/>
<use href="#mGWO" x="52.3" y="875.9"/>
<use href="#mGWO" x="63.3" y="875.9"/>
<use href="#mGWO" x="74.2" y="875.9"/>
<use href="#mGWO" x="85.1" y="875.9"/>
<use href="#mGWO" x="96" y="875.9"/>
<use href="#mGWO" x="106.9" y="875.9"/>
<use href="#mGWO" x="117.9" y="875.9"/>
<use href="#mGWO" x="128.8" y="875.9"/>
<use href="#mGWO" x="139.7" y="875.9"/>
<use href="#mGWO" x="150.6" y="875.9"/>
<use href="#mGWO" x="161.5" y="875.9"/>
<use href="#mGWO" x="172.5" y="875.9"/>
<use href="#mGWO" x="183.4" y="875.9"/>
<use href="#mGWO" x="194.3" y="875.9"/>
<use href="#mGWO" x="205.2" y="875.9"/>
<use href="#mGWO" x="216.1" y="875.9"/>
<use href="#mGWO" x="227.1" y="875.9"/>
<use href="#mGWO" x="238" y="875.9"/>
<use href="#mPSO" x="30.5" y="702.7"/>
<use href="#mPSO" x="41.4" y="875.9"/>
<use href="#mPSO" x="52.3" y="875.9"/>
<use href="#mPSO" x="63.3" y="875.9"/>
<use href="#mPSO" x="74.2" y="875.9"/>
<use href="#mPSO" x="85.1" y="875.9"/>
<use href="#mPSO" x="96" y="875.9"/>
<use href="#mPSO" x="106.9" y="875.9"/>
<use href="#mPSO" x="117.9" y="875.9"/>
<use href="#mPSO" x="128.8" y="875.9"/>
<use href="#mPSO" x="139.7" y="875.9"/>
<use href="#mPSO" x="150.6" y="875.9"/>
<use href="#mPSO" x="161.5" y="875.9"/>
<use href="#mPSO" x="172.5" y="875.9"/>
<use href="#mPSO" x="183.4" y="875.9"/>
<use href="#mPSO" x="194.3" y="875.9"/>
<use href="#mPSO" x="205.2" y="875.9"/>
<use href="#mPSO" x="216.1" y="875.9"/>
<use href="#mPSO" x="227.1" y="875.9"/>
<use href="#mPSO" x="238" y="875.9"/>
<use href="#mGA" x="30.5" y="791.6"/>
<use href="#mGA" x="41.4" y="875.9"/>
<use href="#mGA" x="52.3" y="875.9"/>
<use href="#mGA" x="63.3" y="875.9"/>
<use href="#mGA" x="74.2" y="875.9"/>
<use href="#mGA" x="85.1" y="875.9"/>
<use href="#mGA" x="96" y="875.9"/>
<use href="#mGA" x="106.9" y="875.9"/>
<use href="#mGA" x="117.9" y="875.9"/>
<use href="#mGA" x="128.8" y="875.9"/>
<use href="#mGA" x="139.7" y="875.9"/>
<use href="#mGA" x="150.6" y="875.9"/>
<use href="#mGA" x="161.5" y="875.9"/>
<use href="#mGA" x="172.5" y="875.9"/>
<use href="#mGA" x="183.4" y="875.9"/>
<use href="#mGA" x="194.3" y="875.9"/>
<use href="#mGA" x="205.2" y="875.9"/>
<use href="#mGA" x="216.1" y="875.9"/>
<use href="#mGA" x="227.1" y="875.9"/>
<use href="#mGA" x="238" y="875.9"/>
<use href="#mJSO" x="30.5" y="806"/>
<use href="#mJSO" x="41.4" y="875.9"/>
<use href="#mJSO" x="52.3" y="875.9"/>
<use href="#mJSO" x="63.3" y="875.9"/>
<use href="#mJSO" x="74.2" y="875.9"/>
<use href="#mJSO" x="85.1" y="875.9"/>
<use href="#mJSO" x="96" y="875.9"/>
<use href="#mJSO" x="106.9" y="875.9"/>
<use href="#mJSO" x="117.9" y="875.9"/>
<use href="#mJSO" x="128.8" y="875.9"/>
<use href="#mJSO" x="139.7" y="875.9"/>
<use href="#mJSO" x="150.6" y="875.9"/>
<use href="#mJSO" x="161.5" y="875.9"/>
<use href="#mJSO" x="172.5" y="875.9"/>
<use href="#mJSO" x="183.4" y="875.9"/>
<use href="#mJSO" x="194.3" y="875.9"/>
<use href="#mJSO" x="205.2" y="875.9"/>
<use href="#mJSO" x="216.1" y="875.9"/>
<use href="#mJSO" x="227.1" y="875.9"/>
<use href="#mJSO" x="238" y="875.9"/>
<use href="#mHYB" x="30.5" y="765.6"/>
<use href="#mHYB" x="41.4" y="875.9"/>
<use href="#mHYB" x="52.3" y="875.9"/>
<use href="#mHYB" x="63.3" y="875.9"/>
<use href="#mHYB" x="74.2" y="875.9"/>
<use href="#mHYB" x="85.1" y="875.9"/>
<use href="#mHYB" x="96" y="875.9"/>
<use href="#mHYB" x="106.9" y="875.9"/>
<use href="#mHYB" x="117.9" y="875.9"/>
<use href="#mHYB" x="128.8" y="875.9"/>
<use href="#mHYB" x="139.7" y="875.9"/>
<use href="#mHYB" x="150.6" y="875.9"/>
<use href="#mHYB" x="161.5" y="875.9"/>
<use href="#mHYB" x="172.5" y="875.9"/>
<use href="#mHYB" x="183.4" y="875.9"/>
<use href="#mHYB" x="194.3" y="875.9"/>
<use href="#mHYB" x="205.2" y="875.9"/>
<use href="#mHYB" x="216.1" y="875.9"/>
<use href="#mHYB" x="227.1" y="875.9"/>
<use href="#mHYB" x="238" y="875.9"/>
<text x="139.7" y="700.1" text-anchor="middle" font-weight="bold" font-size="7.2">F17</text>
<text x="139.7" y="894.1" text-anchor="middle" font-size="7.2">Iteration</text>
<text transform="translate(14.8,789.3) rotate(-90)" text-anchor="middle" font-size="7.2">Best fitness value so far</text>
<rect x="180.2" y="707.7" width="63.1" height="51.9" fill="#fff" stroke="#858585" stroke-width="0.7"/>
<path d="M182,713.2H202.6" stroke="#000000" stroke-width="1.35"/>
<use href="#mSSA" x="192.3" y="713.2"/>
<text x="204" y="715.5" font-size="6.2">SSA</text>
<path d="M182,721.5H202.6" stroke="#00ffff" stroke-width="1.35"/>
<use href="#mGWO" x="192.3" y="721.5"/>
<text x="204" y="723.8" font-size="6.2">GWO</text>
<path d="M182,729.8H202.6" stroke="#ff00ff" stroke-width="1.35"/>
<use href="#mPSO" x="192.3" y="729.8"/>
<text x="204" y="732.1" font-size="6.2">PSO</text>
<path d="M182,738.1H202.6" stroke="#00ff00" stroke-width="1.35"/>
<use href="#mGA" x="192.3" y="738.1"/>
<text x="204" y="740.4" font-size="6.2">GA</text>
<path d="M182,746.4H202.6" stroke="#0000ff" stroke-width="1.35"/>
<use href="#mJSO" x="192.3" y="746.4"/>
<text x="204" y="748.7" font-size="6.2">JSO</text>
<path d="M182,754.7H202.6" stroke="#ff0000" stroke-width="1.35"/>
<use href="#mHYB" x="192.3" y="754.7"/>
<text x="204" y="757" font-size="6.2">JSO-GA-PSO</text>
</g>
<g fill="#1f6ff0" stroke="#cfd82e" stroke-width="0.55"><ellipse cx="427.4" cy="136.7" rx="2.95" ry="1.0"/><ellipse cx="417.5" cy="139.4" rx="2.95" ry="1.0"/><ellipse cx="407.5" cy="142.1" rx="2.95" ry="1.0"/><ellipse cx="397.5" cy="144.8" rx="2.95" ry="1.0"/><ellipse cx="387.6" cy="147.4" rx="2.95" ry="1.0"/><ellipse cx="435.1" cy="140.2" rx="2.95" ry="1.0"/><ellipse cx="425.1" cy="142.9" rx="2.95" ry="1.0"/><ellipse cx="415.1" cy="145.6" rx="2.95" ry="1.0"/><ellipse cx="405.2" cy="148.2" rx="2.95" ry="1.0"/><ellipse cx="395.2" cy="150.9" rx="2.95" ry="1.0"/><ellipse cx="442.7" cy="143.7" rx="2.95" ry="1.0"/><ellipse cx="432.8" cy="146.4" rx="2.95" ry="1.0"/><ellipse cx="422.8" cy="149" rx="2.95" ry="1.0"/><ellipse cx="412.8" cy="151.7" rx="2.95" ry="1.0"/><ellipse cx="402.9" cy="154.4" rx="2.95" ry="1.0"/><ellipse cx="450.4" cy="147.2" rx="2.95" ry="1.0"/><ellipse cx="440.4" cy="149.9" rx="2.95" ry="1.0"/><ellipse cx="430.4" cy="152.5" rx="2.95" ry="1.0"/><ellipse cx="420.5" cy="155.2" rx="2.95" ry="1.0"/><ellipse cx="410.5" cy="157.9" rx="2.95" ry="1.0"/><ellipse cx="458" cy="150.7" rx="2.95" ry="1.0"/><ellipse cx="448" cy="153.3" rx="2.95" ry="1.0"/><ellipse cx="438.1" cy="156" rx="2.95" ry="1.0"/><ellipse cx="428.1" cy="158.7" rx="2.95" ry="1.0"/><ellipse cx="418.2" cy="161.4" rx="2.95" ry="1.0"/></g>
<defs><linearGradient id="spk" x1="0" y1="0" x2="0" y2="1"><stop offset="0" stop-color="#ffc905"/><stop offset="0.825" stop-color="#ffc905"/><stop offset="0.85" stop-color="#b9c07a"/><stop offset="0.875" stop-color="#2a6ff2"/><stop offset="1" stop-color="#1b5cf0"/></linearGradient><linearGradient id="spk2" x1="0" y1="0" x2="0" y2="1"><stop offset="0" stop-color="#ffe45a"/><stop offset="0.7" stop-color="#ffe45a"/><stop offset="0.8" stop-color="#ffe45a" stop-opacity="0"/><stop offset="1" stop-color="#ffe45a" stop-opacity="0"/></linearGradient></defs>
<g fill="url(#spk)" stroke="url(#spk2)" stroke-width="0.55"><path d="M424.6,42.3L430.3,42.3L428.7,117.7L428.4,129.1L427.4,136.6L426.5,129.1L426.1,117.7Z"/><path d="M414.6,45L420.3,45L418.8,120.4L418.4,131.8L417.5,139.2L416.5,131.8L416.2,120.4Z"/><path d="M404.6,47.7L410.3,47.7L408.8,123.1L408.4,134.5L407.5,141.9L406.5,134.5L406.2,123.1Z"/><path d="M394.7,50.3L400.4,50.3L398.8,125.8L398.5,137.2L397.5,144.6L396.6,137.2L396.2,125.8Z"/><path d="M384.7,53L390.4,53L388.9,128.4L388.5,139.8L387.6,147.2L386.6,139.8L386.3,128.4Z"/><path d="M432.2,45.8L437.9,45.8L436.4,121.2L436,132.6L435.1,140L434.1,132.6L433.8,121.2Z"/><path d="M422.3,48.5L428,48.5L426.4,123.9L426.1,135.3L425.1,142.7L424.2,135.3L423.8,123.9Z"/><path d="M412.3,51.1L418,51.1L416.4,126.6L416.1,138L415.1,145.4L414.2,138L413.8,126.6Z"/><path d="M402.3,53.8L408,53.8L406.5,129.2L406.1,140.6L405.2,148L404.2,140.6L403.9,129.2Z"/><path d="M392.4,56.5L398.1,56.5L396.5,131.9L396.2,143.3L395.2,150.7L394.3,143.3L393.9,131.9Z"/><path d="M439.9,49.3L445.6,49.3L444,124.7L443.7,136.1L442.7,143.5L441.8,136.1L441.4,124.7Z"/><path d="M429.9,51.9L435.6,51.9L434.1,127.4L433.7,138.8L432.8,146.2L431.8,138.8L431.5,127.4Z"/><path d="M419.9,54.6L425.6,54.6L424.1,130L423.7,141.4L422.8,148.9L421.8,141.4L421.5,130Z"/><path d="M410,57.3L415.7,57.3L414.1,132.7L413.8,144.1L412.8,151.5L411.9,144.1L411.5,132.7Z"/><path d="M400,60L405.7,60L404.2,135.4L403.8,146.8L402.9,154.2L401.9,146.8L401.6,135.4Z"/><path d="M447.5,52.8L453.2,52.8L451.7,128.2L451.3,139.6L450.4,147L449.4,139.6L449.1,128.2Z"/><path d="M437.6,55.4L443.3,55.4L441.7,130.9L441.4,142.3L440.4,149.7L439.5,142.3L439.1,130.9Z"/><path d="M427.6,58.1L433.3,58.1L431.7,133.5L431.4,144.9L430.4,152.3L429.5,144.9L429.1,133.5Z"/><path d="M417.6,60.8L423.3,60.8L421.8,136.2L421.4,147.6L420.5,155L419.5,147.6L419.2,136.2Z"/><path d="M407.7,63.4L413.4,63.4L411.8,138.9L411.5,150.3L410.5,157.7L409.6,150.3L409.2,138.9Z"/><path d="M455.2,56.2L460.9,56.2L459.3,131.7L459,143.1L458,150.5L457.1,143.1L456.7,131.7Z"/><path d="M445.2,58.9L450.9,58.9L449.3,134.3L449,145.7L448,153.1L447.1,145.7L446.7,134.3Z"/><path d="M435.2,61.6L440.9,61.6L439.4,137L439,148.4L438.1,155.8L437.1,148.4L436.8,137Z"/><path d="M425.3,64.2L431,64.2L429.4,139.7L429.1,151.1L428.1,158.5L427.2,151.1L426.8,139.7Z"/><path d="M415.3,66.9L421,66.9L419.5,142.4L419.1,153.8L418.2,161.2L417.2,153.8L416.9,142.4Z"/></g>
<polygon points="312.7,49 437.3,15.6 532.9,59.1 408.3,92.5" fill="#fcf80a"/>
<g fill="#fdf208" stroke="#ffc90a" stroke-width="1.1"><ellipse cx="427.4" cy="41.7" rx="2.8" ry="1.2"/><ellipse cx="417.5" cy="44.4" rx="2.8" ry="1.2"/><ellipse cx="407.5" cy="47.1" rx="2.8" ry="1.2"/><ellipse cx="397.5" cy="49.8" rx="2.8" ry="1.2"/><ellipse cx="387.6" cy="52.4" rx="2.8" ry="1.2"/><ellipse cx="435.1" cy="45.2" rx="2.8" ry="1.2"/><ellipse cx="425.1" cy="47.9" rx="2.8" ry="1.2"/><ellipse cx="415.1" cy="50.6" rx="2.8" ry="1.2"/><ellipse cx="405.2" cy="53.2" rx="2.8" ry="1.2"/><ellipse cx="395.2" cy="55.9" rx="2.8" ry="1.2"/><ellipse cx="442.7" cy="48.7" rx="2.8" ry="1.2"/><ellipse cx="432.8" cy="51.4" rx="2.8" ry="1.2"/><ellipse cx="422.8" cy="54" rx="2.8" ry="1.2"/><ellipse cx="412.8" cy="56.7" rx="2.8" ry="1.2"/><ellipse cx="402.9" cy="59.4" rx="2.8" ry="1.2"/><ellipse cx="450.4" cy="52.2" rx="2.8" ry="1.2"/><ellipse cx="440.4" cy="54.9" rx="2.8" ry="1.2"/><ellipse cx="430.4" cy="57.5" rx="2.8" ry="1.2"/><ellipse cx="420.5" cy="60.2" rx="2.8" ry="1.2"/><ellipse cx="410.5" cy="62.9" rx="2.8" ry="1.2"/><ellipse cx="458" cy="55.7" rx="2.8" ry="1.2"/><ellipse cx="448" cy="58.3" rx="2.8" ry="1.2"/><ellipse cx="438.1" cy="61" rx="2.8" ry="1.2"/><ellipse cx="428.1" cy="63.7" rx="2.8" ry="1.2"/><ellipse cx="418.2" cy="66.3" rx="2.8" ry="1.2"/></g>
<g font-family="Liberation Serif, serif" font-size="6.9" fill="#1a1a1a" stroke="#1a1a1a" stroke-width="0.18">
<text x="412.6" y="197">-100</text>
<text x="443.7" y="188.7">-50</text>
<text x="474.9" y="180.3">0</text>
<text x="506" y="172">50</text>
<text x="537.2" y="163.6">100</text>
<text x="402.7" y="196.2" text-anchor="end">-100</text>
<text x="378.8" y="185.3" text-anchor="end">-50</text>
<text x="354.9" y="174.4" text-anchor="end">0</text>
<text x="331" y="163.6" text-anchor="end">50</text>
<text x="307.1" y="152.7" text-anchor="end">100</text>
<text x="307.6" y="125.8" text-anchor="end">100</text>
<text x="307.6" y="106.8" text-anchor="end">200</text>
<text x="307.6" y="87.8" text-anchor="end">300</text>
<text x="307.6" y="68.8" text-anchor="end">400</text>
<path d="M532.9,154.1L408.3,187.5L312.7,144L312.7,49M408.3,187.5l2,0.9M439.4,179.2l2,0.9M470.6,170.8l2,0.9M501.7,162.5l2,0.9M532.9,154.1l2,0.9M408.3,187.5l-2.1,0.6M384.4,176.6l-2.1,0.6M360.5,165.7l-2.1,0.6M336.6,154.9l-2.1,0.6M312.7,144l-2.1,0.6M312.7,124.1h-2.5M312.7,105.1h-2.5M312.7,86.1h-2.5M312.7,67.1h-2.5" fill="none" stroke="#646464" stroke-width="0.75"/>
<text x="421.9" y="13.4" text-anchor="middle" font-size="7.3">F14</text>
<text x="465" y="197.2" text-anchor="middle" font-size="7.6">x<tspan dy="2" font-size="5.4">1</tspan></text>
<text x="356" y="194.5" text-anchor="middle" font-size="7.6">x<tspan dy="2" font-size="5.4">2</tspan></text>
<text transform="translate(289.8,96.5) rotate(-90)" text-anchor="middle" font-size="7.4">F14( x<tspan dy="2" font-size="5.4">1</tspan><tspan dy="-2" font-size="7.4"> , x</tspan><tspan dy="2" font-size="5.4">2</tspan><tspan dy="-2" font-size="7.4"> )</tspan></text>
</g>
<g fill="none" stroke-width="0.55"><path d="M450,405.6L447.3,405L444.1,404.3L440.4,403.5L437.1,402.9L434,402.3L430.8,401.8L428,401.4L425.3,401.1L421.8,400.7L417.9,400.4L415.5,400.3L411.4,400.1L409,400L405,400L401.3,400L398.4,400.1L395.3,400.2L392.1,400.4L388.5,400.7L384.7,401L380.6,401.4L377.3,401.8L375.7,402M499.7,368.3L497.8,369.3L495.2,370.7L493.4,371.7L491.7,372.8L490.1,373.8L488.6,375L487.2,376.1L486,377.3L485.2,378.2L484.3,379.3L483.5,380.7L483.2,381.5L482.8,383L482.7,384L482.7,385.1L482.9,386.4L483.3,387.7L483.9,388.9L484.6,390.1L485.4,391.3L486.3,392.4L487.3,393.6L488.4,394.7L488.9,395.2M345.3,388.1L347.1,387.2L348.9,386.2L350.7,385.1L352.3,384.1L353.9,383L355.3,381.9L356.7,380.7L357.9,379.4L358.8,378.2L359.4,377.4L360.1,375.9L360.4,375L360.6,373.6L360.7,372.6L360.5,371.5L360.2,370.2L359.7,369L359.1,367.8L358.4,366.6L357.5,365.4L356.6,364.3L355.2,362.9L354.4,362.1M393.3,351.7L396.1,352.3L398.9,353L402.2,353.7L405.7,354.3L408.9,354.9L411.9,355.4L414.8,355.8L417.8,356.2L421.5,356.6L425.1,356.9L427.5,357L431.8,357.2L434.3,357.3L438,357.3L441.8,357.3L444.9,357.2L448,357.1L451.3,356.9L454.8,356.6L458.6,356.3L462.6,355.9L465.7,355.5L468.8,355.2L470.4,355" stroke="#4941e9"/><path d="M441.9,407.8L438.7,407.2L435.5,406.7L432.4,406.2L429,405.7L425.5,405.3L421.8,404.9L419.3,404.7L415.8,404.4L412.4,404.2L409.2,404.1L406,404L402,404L399.2,404L396.2,404.1L392.5,404.2L388.9,404.4L385.4,404.6L382,404.8L382,404.8M505.8,371.1L504.2,372.2L502.6,373.2L501.1,374.4L499.7,375.5L498.5,376.7L497.6,377.6L496.8,378.7L495.8,380.1L495.3,381L494.8,382.3L494.5,383.3L494.2,384.7L494.2,385.6L494.3,386.8L494.6,388.1L495,389.4L495.6,390.6L496.2,391.8L497,393L497,393M339,385.2L340.6,384.2L342.1,383L343.5,381.9L344.8,380.7L345.7,379.6L346.5,378.7L347.4,377.4L348.1,376.3L348.5,375.2L348.9,374L349.1,372.7L349.1,371.8L349,370.5L348.7,369.2L348.3,367.9L347.8,366.7L347.2,365.5L346.3,364.3L346.3,364.3M401.4,349.5L404.5,350.1L407.6,350.6L410.9,351.1L414.3,351.6L417.9,352L421.1,352.3L423.6,352.6L427.6,352.9L430.5,353L434.1,353.2L436.9,353.3L441,353.3L444.1,353.3L446.9,353.2L450.5,353.1L454.1,352.9L457.5,352.7L461,352.5L464.3,352.2L464.3,352.2" stroke="#3363ff"/><path d="M435.7,409.5L432.7,409L429.9,408.6L427.2,408.3L423.5,407.9L419.7,407.5L417.2,407.3L413.6,407.1L410.4,406.9L406.9,406.8L404,406.7L400,406.7L396.9,406.7L394.1,406.8L390.5,406.9L386.9,407L386.9,407M510.5,373.2L509,374.4L507.7,375.6L506.6,376.6L505.7,377.6L504.7,378.7L503.8,380.1L503.3,381L502.7,382.3L502.4,383.3L502.1,384.7L502,385.6L502,386.8L502.1,388.2L502.4,389.4L502.8,390.4L503.2,391.4M334.2,383L335.5,381.9L336.8,380.7L337.6,379.7L338.5,378.7L339.4,377.3L340,376.3L340.6,375.2L341,374L341.2,372.8L341.3,371.8L341.4,370.4L341.2,369.1L341,368.1L340.6,367.1L340.2,365.9L340.2,365.9M407.6,347.8L410.9,348.3L414.4,348.8L418,349.2L420.8,349.5L423.6,349.8L427.7,350.1L430.3,350.2L434.1,350.4L436.8,350.5L441,350.6L443.8,350.6L446.9,350.6L450.6,350.5L454.3,350.3L457.9,350.2L459.6,350.1" stroke="#0086fb"/><path d="M430.5,410.9L427,410.4L423.3,410L420.5,409.8L417.5,409.5L413.5,409.2L411.2,409.1L406.9,408.9L404.4,408.9L400.6,408.8L396.8,408.8L394.2,408.8L391,408.9L391,408.9M514.4,375L513.1,376.2L512.2,377.2L511.4,378.1L510.4,379.5L509.7,380.6L509.1,381.6L508.6,383L508.3,383.9L508.1,385.2L508,386.5L508,387.4L508.1,388.7L508.4,390L508.4,390M330.1,381.2L331.1,380.1L331.9,379.2L332.9,377.9L333.7,376.7L334.1,375.8L334.7,374.3L335,373.5L335.3,372.1L335.4,371L335.4,370L335.2,368.6L334.9,367.3L334.9,367.3M412.8,346.4L416.4,346.9L419.8,347.2L422.3,347.5L425.9,347.8L429.4,348L432.1,348.2L436.1,348.3L439,348.4L442.3,348.5L446.3,348.5L449.2,348.5L452,348.4L455.7,348.3L455.7,348.3" stroke="#00a4e5"/><path d="M425.9,412.1L423,411.8L420.2,411.5L416.3,411.2L413.4,411L409.9,410.8L406.8,410.7L403.1,410.6L400.5,410.6L396.5,410.5L394.6,410.5M517.9,376.6L516.7,377.9L515.9,379L515.2,379.9L514.4,381.3L514,382.3L513.5,383.6L513.2,384.5L513,386L512.9,386.9L512.9,388.1L513,388.7M326.5,379.5L327.4,378.3L328,377.5L328.9,376.1L329.4,375L329.8,373.9L330.1,372.8L330.4,371.4L330.4,370.5L330.4,369.2L330.3,368.6M417.4,345.2L421.2,345.6L424.8,345.9L427.2,346.1L431.2,346.4L434,346.5L437.9,346.6L440.4,346.7L444.4,346.8L447.8,346.8L450.5,346.7L452.2,346.7" stroke="#00bac6"/><path d="M421.7,413.2L417.8,412.9L415,412.7L411.6,412.4L408.3,412.3L405,412.2L401.9,412.1L397.8,412L397.8,412M521,378L520.1,379.2L519.5,380.1L518.7,381.5L518.2,382.5L517.8,383.7L517.5,384.8L517.2,386.2L517.2,387.1L517.2,387.6M323.2,378.1L324.1,376.7L324.7,375.6L325.2,374.5L325.6,373.3L325.9,372.1L326.1,371.1L326.2,369.7L326.2,369.7M421.6,344.1L425.5,344.4L427.8,344.6L431.7,344.9L434.6,345L438.3,345.1L441,345.2L445.1,345.3L448.1,345.3L449.1,345.3" stroke="#00c797"/><path d="M417.9,414.2L413.9,413.9L411.6,413.8L407.4,413.6L405,413.5L400.8,413.4L400.8,413.4M523.9,379.3L523.2,380.5L522.6,381.4L521.9,382.9L521.6,383.7L521.2,385.1L521,386.1L521,386.6M320.2,376.7L321,375.3L321.4,374.4L321.9,373L322.1,372.2L322.3,370.7L322.3,370.7M425.4,343.1L429,343.3L431.6,343.5L435.8,343.7L438.2,343.8L442.1,343.9L445.4,344L446.2,344" stroke="#2fcc54"/><path d="M414.3,415.2L412.4,415.1L412.3,415L410.1,414.9L410.1,414.9L408,414.8L407.9,414.8L405.7,414.7L405.7,414.7L403.6,414.7M526.6,380.6L525.9,381.8L525.5,382.7L524.9,384.2L524.7,385.1L524.5,385.6M317.5,375.4L317.8,374.7L317.8,374.7L318.1,373.9L318.1,373.9L318.4,373.2L318.4,373.1L318.6,372.4L318.6,372.4L318.8,371.7M429,342.1L432.8,342.3L435.4,342.5L439.3,342.6L442.2,342.7L443.5,342.7" stroke="#d1c000"/><path d="M411,416.1L410.6,416.1L408.9,416L408.4,415.9L406.7,415.9L406.2,415.8M529.1,381.7L528.8,382.4L528.8,382.4L528.4,383.2L528.4,383.2L528.1,384L528.1,384L527.9,384.7M314.8,374.3L314.9,374.1L315.1,373.5L315.2,373.3L315.4,372.7L315.4,372.6M432.3,341.2L434.5,341.3L434.5,341.3L436.7,341.4L436.7,341.4L438.9,341.5L438.9,341.5L441,341.6" stroke="#ffc128"/><path d="M531.5,382.8L531.4,383.1L531.2,383.5L531,383.9M435.5,340.4L436.5,340.4L437.7,340.5L438.6,340.5" stroke="#fbe600"/></g>
<g filter="url(#sb)" stroke-width="0.9" stroke-linejoin="round" fill-rule="evenodd"><path d="M370.9,360.5l4.9,-0.1 4.1,-0.8 4.2,-1.5 4.8,-2.4 -7.1,-2.4 -3.7,2 -4.1,1.5 -4.2,0.8 -3.8,-0.1z" fill="#4528b2" stroke="#4528b2"/><path d="M367.1,360.1l3.8,0.4 -4.9,-3 -3.3,-0.6zM388.9,355.7l3.7,-2.5 -7.5,-2.3 -3.3,2.4z" fill="#472cbd" stroke="#472cbd"/><path d="M364.2,359.4l2.9,0.7 -4.4,-3.2 -2.5,-0.8zM392.6,353.2l2.9,-2.2 -7.9,-2.2 -2.5,2.1z" fill="#4830c8" stroke="#4830c8"/><path d="M361.8,358.5l2.4,0.9 -4,-3.3 -2.1,-0.9zM394.5,350.7l1,0.3 2.5,-2.2 -8.3,-2.1 -2.1,2.1z" fill="#4934d3" stroke="#4934d3"/><path d="M359.6,357.6l2.2,0.9 -0.5,-0.4 -3.2,-2.9 -1.9,-1zM398,348.8l2.1,-2 -8.5,-2.1 -1.9,2z" fill="#4a39dd" stroke="#4a39dd"/><path d="M357.7,356.6l1.9,1 -0.4,-0.4 -3,-3 -1.7,-1zM400.1,346.8l1.9,-2 -8.7,-2 -1.7,1.9z" fill="#4a3ee5" stroke="#4a3ee5"/><path d="M355.9,355.6l1.8,1 -0.7,-0.8 -2.5,-2.6 -1.6,-1.1zM400.9,344.5l1.1,0.3 1.8,-2 -9,-1.9 -1.5,1.9z" fill="#4944ec" stroke="#4944ec"/><path d="M354.3,354.6l1.6,1 -0.7,-0.9 -2.3,-2.6 -1.4,-1.1zM402.6,342.6l1.2,0.2 1.7,-1.9 -9.2,-1.9 -1.5,1.9z" fill="#4749f1" stroke="#4749f1"/><path d="M352.7,353.5l1.6,1.1 -0.7,-0.9 -2.1,-2.7 -1.4,-1.1zM405.5,340.9l1.5,-1.9 -9.3,-1.8 -1.4,1.8z" fill="#454ff6" stroke="#454ff6"/><path d="M351.2,352.4l1.5,1.1 -0.6,-0.9 -2,-2.7 -1.3,-1.1zM405.8,338.8l1.2,0.2 1.5,-1.9 -9.6,-1.8 -1.2,1.9z" fill="#4254fa" stroke="#4254fa"/><path d="M349.8,351.3l1.4,1.1 -0.5,-0.9 -1.9,-2.7 -1.2,-1.2 1.2,1.8zM408.5,337.1l1.4,-1.9 -9.7,-1.7 -1.3,1.8z" fill="#3d5afd" stroke="#3d5afd"/><path d="M348.5,350.2l1.3,1.1 -0.7,-1.4 -1.5,-2.3 -1.2,-1.2 1.2,1.9zM409.9,335.2l1.3,-1.8 -9.9,-1.7 -1.1,1.8z" fill="#385fff" stroke="#385fff"/><path d="M347.2,349.1l1.3,1.1 -0.6,-1.4 -1.5,-2.4 -1.1,-1.1 1.1,1.8zM409.9,333.2l1.3,0.2 1.3,-1.8 -10,-1.7 -1.2,1.8z" fill="#2f65ff" stroke="#2f65ff"/><path d="M346,347.9l1.2,1.2 -0.5,-1.4 -1.4,-2.4 -1.1,-1.2 1.1,1.8zM411.2,331.4l1.3,0.2 1.2,-1.9 -10.2,-1.5 -1,1.7z" fill="#1b6bff" stroke="#1b6bff"/><path d="M344.8,346.7l1.2,1.2 -0.5,-1.5 -1.3,-2.3 -1,-1.2 0.9,1.9zM413.7,329.7l1.2,-1.8 -10.3,-1.5 -1.1,1.8z" fill="#0071ff" stroke="#0071ff"/><path d="M343.6,345.6l1.2,1.1 -0.5,-1.5 -1.1,-2.3 -1,-1.3 0.9,2zM414.9,327.9l1.2,-1.8 -10.5,-1.5 -1,1.8z" fill="#0077ff" stroke="#0077ff"/><path d="M342.5,344.4l1.1,1.2 -0.4,-1.5 -1,-2.5 -1,-1.2 0.8,2zM416.1,326.1l1.1,-1.7 -10.6,-1.5 -1,1.7z" fill="#007dff" stroke="#007dff"/><path d="M341.4,343.2l1.1,1.2 -0.3,-1.5 -1,-2.5 -0.9,-1.2 0.7,1.9zM417.2,324.4l1.1,-1.8 -10.8,-1.4 -0.9,1.7z" fill="#0083fd" stroke="#0083fd"/><path d="M340.4,342l1,1.2 -0.2,-1.6 -0.9,-2.4 -1,-1.3 0.7,2zM418.3,322.6l1,-1.8 -10.9,-1.4 -0.9,1.8z" fill="#0088f9" stroke="#0088f9"/><path d="M339.4,340.8l1,1.2 -0.2,-1.6 -0.9,-2.5 -0.9,-1.2 0.7,2zM419.3,320.8l1.1,-1.7 -11.1,-1.4 -0.9,1.7z" fill="#008df5" stroke="#008df5"/><path d="M338.4,339.6l1,1.2 -0.2,-1.6 -0.8,-2.5 -0.8,-1.2 0.5,2zM420.4,319.1l1,-1.8 -11.2,-1.3 -0.9,1.7z" fill="#0092f1" stroke="#0092f1"/><path d="M337.4,338.3l1,1.3 -0.2,-1.6 -0.6,-2.5 -0.9,-1.3 0.5,2zM421.4,317.3l0.9,-1.7 -11.2,-1.3 -0.9,1.7z" fill="#0097ed" stroke="#0097ed"/><path d="M336.4,337.1l1,1.2 -0.1,-1.6 -0.6,-2.5 -0.8,-1.3 0.4,2.1zM422.3,315.6l1,-1.8 -11.4,-1.2 -0.8,1.7z" fill="#009cea" stroke="#009cea"/><path d="M335.5,335.9l0.9,1.2 0,-1.6 -0.5,-2.6 -0.8,-1.2 0.4,2zM423.3,313.8l0.9,-1.7 -11.5,-1.2 -0.8,1.7z" fill="#00a1e7" stroke="#00a1e7"/><path d="M334.6,334.6l0.9,1.3 0,-1.6 -0.4,-2.6 -0.8,-1.3 0.3,2.1zM422.7,312l1.5,0.1 1,-1.7 -11.7,-1.2 -0.8,1.7z" fill="#00a5e4" stroke="#00a5e4"/><path d="M333.7,333.4l0.9,1.2 0,-1.6 -0.3,-2.6 -0.8,-1.3 0.3,2.1zM423.6,310.2l1.6,0.2 0.8,-1.8 -11.7,-1.1 -0.8,1.7z" fill="#00aae1" stroke="#00aae1"/><path d="M332.8,332.1l0.9,1.3 0.1,-1.7 -0.3,-2.6 -0.8,-1.2 0.2,2zM424.5,308.5l1.5,0.1 0.9,-1.7 -11.8,-1.1 -0.8,1.7z" fill="#00aedc" stroke="#00aedc"/><path d="M331.9,330.9l0.9,1.2 0.2,-1.7 -0.3,-2.5 -0.7,-1.3 0.1,2.1zM425.4,306.8l1.5,0.1 0.9,-1.7 -12,-1.1 -0.7,1.7z" fill="#00b1d7" stroke="#00b1d7"/><path d="M331.1,329.6l0.8,1.3 0.2,-1.7 -0.1,-2.6 -0.8,-1.3 0.1,2.1zM426.2,305.1l1.6,0.1 0.8,-1.7 -12,-1.1 -0.8,1.7z" fill="#00b5d1" stroke="#00b5d1"/><path d="M330.2,328.4l0.9,1.2 0.2,-1.6 -0.1,-2.7 -0.7,-1.3 0.1,2.1zM428.6,303.5l0.9,-1.7 -12.2,-1.1 -0.7,1.7z" fill="#00b8ca" stroke="#00b8ca"/><path d="M329.4,327.1l0.8,1.3 0.3,-1.7 0,-2.7 -0.7,-1.3 0,2.2zM427.9,301.7l1.6,0.1 0.8,-1.7 -12.3,-1.1 -0.7,1.7z" fill="#00bbc4" stroke="#00bbc4"/><path d="M328.6,325.8l0.8,1.3 0.4,-1.8 0,-2.6 -0.7,-1.3 0,2.2zM428.7,300l1.6,0.1 0.8,-1.7 -12.4,-1 -0.7,1.6z" fill="#00bdbc" stroke="#00bdbc"/><path d="M327.8,324.6l0.8,1.2 0.4,-1.7 0.1,-2.7 -0.7,-1.3 -0.1,2.2zM429.5,298.3l1.6,0.1 0.8,-1.7 -12.5,-1 -0.7,1.7z" fill="#00bfb5" stroke="#00bfb5"/><path d="M327,323.3l0.8,1.3 0.4,-1.8 0.2,-2.7 -0.7,-1.3 -0.1,2.2zM430.2,296.6l1.7,0.1 0.8,-1.7 -12.6,-1 -0.7,1.7z" fill="#00c1ae" stroke="#00c1ae"/><path d="M326.3,322l0.7,1.3 0.5,-2 0.2,-2.5 -0.7,-1.3 -0.1,2.2zM431,294.9l1.7,0.1 0.8,-1.7 -12.7,-0.9 -0.7,1.6z" fill="#00c3a6" stroke="#00c3a6"/><path d="M325.5,320.7l0.8,1.3 0.5,-1.8 0.2,-2.7 -0.7,-1.3 -0.2,2.2zM431.8,293.2l1.7,0.1 0.7,-1.7 -12.8,-0.9 -0.6,1.7z" fill="#00c69e" stroke="#00c69e"/><path d="M324.8,319.5l0.7,1.2 0.5,-1.7 0.3,-2.8 -0.6,-1.3 -0.2,2.2zM432.5,291.5l1.7,0.1 0.8,-1.7 -12.9,-0.9 -0.7,1.7z" fill="#00c895" stroke="#00c895"/><path d="M324,318.2l0.8,1.3 0.6,-2.1 0.3,-2.5 -0.7,-1.3 -0.2,2.2zM433.3,289.8l1.7,0.1 0.7,-1.7 -13,-0.8 -0.6,1.6z" fill="#00ca8c" stroke="#00ca8c"/><path d="M323.3,316.9l0.7,1.3 0.6,-1.9 0.4,-2.7 -0.6,-1.3 -0.3,2.3zM434,288.2l1.7,0 0.7,-1.6 -13,-0.9 -0.7,1.7z" fill="#00cb81" stroke="#00cb81"/><path d="M322.6,315.6l0.7,1.3 0.6,-1.8 0.5,-2.8 -0.6,-1.3 -0.4,2.2zM434.7,286.5l1.7,0.1 0.8,-1.7 -13.2,-0.8 -0.6,1.6z" fill="#00cc76" stroke="#00cc76"/><path d="M321.9,314.3l0.7,1.3 0.7,-2.1 0.5,-2.5 -0.7,-1.4 -0.4,2.3zM435.4,284.8l1.8,0.1 0.7,-1.7 -13.3,-0.8 -0.6,1.7z" fill="#00cd6a" stroke="#00cd6a"/><path d="M321.2,313l0.7,1.3 0.7,-1.9 0.5,-2.8 -0.6,-1.3 -0.4,2.4zM436.1,283.1l1.8,0.1 0.7,-1.7 -13.3,-0.7 -0.7,1.6z" fill="#00cd5e" stroke="#00cd5e"/><path d="M320.5,311.7l0.7,1.3 0.9,-2.3 0.4,-2.4 -0.6,-1.3 -0.5,2.3zM436.8,281.5l1.8,0 0.7,-1.6 -13.4,-0.8 -0.6,1.7z" fill="#3ecc51" stroke="#3ecc51"/><path d="M319.8,310.4l0.7,1.3 0.8,-2.1 0.6,-2.6 -0.6,-1.3 -0.5,2.3zM437.5,279.8l1.8,0.1 0.7,-1.7 -13.5,-0.7 -0.6,1.6z" fill="#67cb44" stroke="#67cb44"/><path d="M319.1,309.1l0.7,1.3 1,-2.4 0.5,-2.3 -0.6,-1.4 -0.5,2.4zM438.2,278.1l1.8,0.1 0.6,-1.7 -13.5,-0.7 -0.6,1.7z" fill="#82c936" stroke="#82c936"/><path d="M318.7,308.3l0.4,0.8 1.2,-3 0.4,-1.8 -0.6,-1.3 -0.6,2.3 -1,2.3zM438.8,276.5l1.8,0 0.7,-1.6 -13.7,-0.7 -0.5,1.6z" fill="#9ac727" stroke="#9ac727"/><path d="M318.1,305.9l0.4,1.7 1,-2.3 0.6,-2.3 -0.5,-1.3 -0.7,2.3zM439.5,274.8l1.8,0.1 0.7,-1.7 -13.8,-0.6 -0.6,1.6z" fill="#afc517" stroke="#afc517"/><path d="M318,305.6l0.1,0.3 0.6,-1.3 0.9,-2.9 -0.6,-1.3 -0.6,2 -0.8,1.9zM440.1,273.1l1.9,0.1 0.6,-1.7 -13.8,-0.6 -0.6,1.7z" fill="#c2c205" stroke="#c2c205"/><path d="M440.8,271.5l1.8,0 0.6,-1.6 -13.8,-0.6 -0.6,1.6zM317.2,302.7l0.4,1.6 0.9,-2.2 0.5,-1.7 -0.6,-1.4z" fill="#d3c000" stroke="#d3c000"/><path d="M441.4,269.8l1.8,0.1 -0.4,-1.7 -12.9,-0.6 -0.5,1.7zM316.7,300.9l0.5,1.7 0.7,-1.8 0.5,-1.8 -0.6,-1.3z" fill="#e3bd00" stroke="#e3bd00"/><path d="M442,268.2l0.8,0 -0.4,-1.7 -11.9,-0.5 -0.6,1.6zM316.5,299.9l0.2,1 1.1,-3.2 -0.5,-1.3 -1,2.8z" fill="#f1bb0a" stroke="#f1bb0a"/><path d="M440.8,266.5l1.6,0 -0.4,-1.7 -11,-0.4 -0.5,1.6zM315.9,297.5l0.4,1.7 0.5,-1.3 0.5,-1.5 -0.6,-1.4z" fill="#fcba1c" stroke="#fcba1c"/><path d="M441.4,264.8l0.6,0 -0.4,-1.6 -10,-0.4 -0.6,1.6zM315.7,297l0.2,0.5 0.8,-2.5 -0.5,-1.3 -0.8,2.1z" fill="#ffba2b" stroke="#ffba2b"/><path d="M440.2,263.1l1.4,0.1 -0.4,-1.7 -9.1,-0.4 -0.5,1.7zM315,294.2l0.4,1.6 0.4,-0.9 0.4,-1.2 -0.6,-1.4z" fill="#ffbc2d" stroke="#ffbc2d"/><path d="M440.8,261.5l0.4,0 -0.4,-1.7 -8.1,-0.3 -0.6,1.6zM315,294l0.6,-1.7 -0.5,-1.3 -0.5,1.5z" fill="#ffc127" stroke="#ffc127"/><path d="M439.6,259.8l1.2,0 -0.4,-1.6 -7.2,-0.3 -0.5,1.6zM314.2,291l0.4,1.5 0.5,-1.5 -0.5,-1.3z" fill="#ffc71d" stroke="#ffc71d"/><path d="M440.1,258.2l0.3,0 -0.4,-1.7 -6.3,-0.3 -0.5,1.7zM313.8,289.1l0.4,1.7 0.4,-1.1 -0.6,-1.4z" fill="#ffcd09" stroke="#ffcd09"/><path d="M438.9,256.5l1.1,0 -0.4,-1.7 -5.3,-0.2 -0.6,1.6zM313.5,288l0.3,1.1 0.2,-0.8 -0.5,-1.3 -0.2,0.5z" fill="#ffd300" stroke="#ffd300"/><path d="M439.5,254.8l-0.3,-1.6 -4.4,-0.2 -0.5,1.6zM312.9,285.8l0.4,1.7 0.2,-0.5 -0.5,-1.4z" fill="#ffda00" stroke="#ffda00"/><path d="M438.2,253.1l1,0.1 -0.4,-1.7 -3.5,-0.1 -0.5,1.6zM312.7,284.9l0.2,0.9 0.1,-0.2z" fill="#fde000" stroke="#fde000"/><path d="M438.8,251.5l-0.4,-1.6 -2.6,-0.2 -0.5,1.7z" fill="#fae600" stroke="#fae600"/><path d="M437.5,249.8l0.9,0.1 -0.4,-1.7 -1.7,-0.1 -0.5,1.6z" fill="#f9ec00" stroke="#f9ec00"/><path d="M436.3,248.1l1.7,0.1 -0.4,-1.7 -0.8,0z" fill="#f8f200" stroke="#f8f200"/><path d="M436.8,246.5l0.8,0 -0.3,-1.5z" fill="#f8f800" stroke="#f8f800"/><path d="M375.3,363.7l5.4,-0.4 5.2,-1 5.2,-1.8 5.3,-2.5 -7.5,-2.3 -4.8,2.4 -4.2,1.5 -4.1,0.8 -4.9,0.1z" fill="#4528b2" stroke="#4528b2"/><path d="M370.9,363.4l4.4,0.3 -4.4,-3.2 -3.8,-0.4zM395.4,357.7l1,0.3 4.4,-2.6 -8.2,-2.2 -3.7,2.5z" fill="#472cbd" stroke="#472cbd"/><path d="M367.6,362.8l3.3,0.6 -3.8,-3.3 -2.9,-0.7zM400.8,355.4l3.3,-2.4 -8.6,-2 -2.9,2.2z" fill="#4830c8" stroke="#4830c8"/><path d="M364.7,362.1l2.9,0.7 -3.4,-3.4 -2.4,-0.9zM404.1,353l2.9,-2.3 -9,-1.9 -2.5,2.2z" fill="#4934d3" stroke="#4934d3"/><path d="M362.2,361.2l2.5,0.9 -0.3,-0.5 -2.6,-3.1 -2.2,-0.9 1.5,1.8zM405.8,350.5l1.2,0.2 2.5,-2.1 -9.4,-1.8 -2.1,2z" fill="#4a39dd" stroke="#4a39dd"/><path d="M360,360.4l2.2,0.8 -0.2,-0.4 -2.4,-3.2 -1.9,-1 1.3,1.9zM409.5,348.6l2.2,-2.1 -9.7,-1.7 -1.9,2z" fill="#4a3ee5" stroke="#4a3ee5"/><path d="M357.9,359.4l2.1,1 -0.5,-1 -1.8,-2.8 -1.8,-1 1.2,1.9zM411.7,346.5l2.1,-2.1 -10,-1.6 -1.8,2z" fill="#4944ec" stroke="#4944ec"/><path d="M356,358.5l1.9,0.9 -0.4,-1 -1.6,-2.8 -1.6,-1 1,1.9zM413.8,344.4l1.9,-2 -10.2,-1.5 -1.7,1.9z" fill="#4749f1" stroke="#4749f1"/><path d="M354.1,357.5l1.9,1 -0.3,-1 -1.4,-2.9 -1.6,-1.1 0.9,2zM415.7,342.4l1.8,-1.9 -10.5,-1.5 -1.5,1.9z" fill="#454ff6" stroke="#454ff6"/><path d="M352.4,356.4l1.7,1.1 -0.3,-1.4 -1.1,-2.6 -1.5,-1.1 0.8,2zM416.1,340.3l1.4,0.2 1.8,-2 -10.8,-1.4 -1.5,1.9z" fill="#4254fa" stroke="#4254fa"/><path d="M350.8,355.4l1.6,1 -0.2,-1.5 -1,-2.5 -1.4,-1.1 0.7,2zM417.8,338.4l1.5,0.1 1.6,-1.9 -11,-1.4 -1.4,1.9z" fill="#3d5afd" stroke="#3d5afd"/><path d="M349.2,354.3l1.6,1.1 -0.2,-1.5 -0.8,-2.6 -1.3,-1.1 0.6,2zM420.9,336.6l1.5,-1.9 -11.2,-1.3 -1.3,1.8z" fill="#385fff" stroke="#385fff"/><path d="M347.7,353.2l1.5,1.1 0,-1.6 -0.7,-2.5 -1.3,-1.1 0.5,2zM420.9,334.6l1.5,0.1 1.5,-1.9 -11.4,-1.2 -1.3,1.8z" fill="#2f65ff" stroke="#2f65ff"/><path d="M346.3,352.1l1.4,1.1 0,-1.6 -0.5,-2.5 -1.2,-1.2 0.4,2.1zM422.4,332.7l1.5,0.1 1.5,-1.9 -11.7,-1.2 -1.2,1.9z" fill="#1b6bff" stroke="#1b6bff"/><path d="M344.9,351l1.4,1.1 0.1,-1.6 -0.4,-2.6 -1.2,-1.2 0.3,2.1zM423.8,330.8l1.6,0.1 1.4,-1.8 -11.9,-1.2 -1.2,1.8z" fill="#0071ff" stroke="#0071ff"/><path d="M343.6,349.9l1.3,1.1 0.2,-1.6 -0.3,-2.7 -1.2,-1.1 0.2,2.1zM425.2,329l1.6,0.1 1.3,-1.9 -12,-1.1 -1.2,1.8z" fill="#0077ff" stroke="#0077ff"/><path d="M342.3,348.8l1.3,1.1 0.2,-1.7 -0.2,-2.6 -1.1,-1.2 0.1,2.1zM426.5,327.1l1.6,0.1 1.3,-1.8 -12.2,-1 -1.1,1.7z" fill="#007dff" stroke="#007dff"/><path d="M341,347.6l1.3,1.2 0.3,-1.7 -0.1,-2.7 -1.1,-1.2 0.1,2.2zM429.4,325.4l1.3,-1.8 -12.4,-1 -1.1,1.8z" fill="#0083fd" stroke="#0083fd"/><path d="M339.8,346.5l1.2,1.1 0.4,-1.7 0,-2.7 -1,-1.2 -0.1,2.2zM429,323.5l1.7,0.1 1.2,-1.8 -12.6,-1 -1,1.8z" fill="#0088f9" stroke="#0088f9"/><path d="M338.6,345.3l1.2,1.2 0.4,-1.8 0.2,-2.7 -1,-1.2 -0.2,2.2zM430.2,321.7l1.7,0.1 1.2,-1.8 -12.7,-0.9 -1.1,1.7z" fill="#008df5" stroke="#008df5"/><path d="M337.4,344.1l1.2,1.2 0.5,-1.8 0.3,-2.7 -1,-1.2 -0.3,2.2zM431.4,319.9l1.7,0.1 1.2,-1.8 -12.9,-0.9 -1,1.8z" fill="#0092f1" stroke="#0092f1"/><path d="M336.3,343l1.1,1.1 0.6,-1.7 0.4,-2.8 -1,-1.3 -0.3,2.3zM432.5,318.1l1.8,0.1 1.1,-1.8 -13.1,-0.8 -0.9,1.7z" fill="#0097ed" stroke="#0097ed"/><path d="M335.2,341.8l1.1,1.2 0.6,-1.9 0.5,-2.8 -1,-1.2 -0.3,2.3zM433.6,316.3l1.8,0.1 1.1,-1.8 -13.2,-0.8 -1,1.8z" fill="#009cea" stroke="#009cea"/><path d="M334.1,340.6l1.1,1.2 0.7,-1.9 0.5,-2.8 -0.9,-1.2 -0.4,2.3zM434.7,314.5l1.8,0.1 1.1,-1.8 -13.4,-0.7 -0.9,1.7z" fill="#00a1e7" stroke="#00a1e7"/><path d="M333,339.4l1.1,1.2 0.8,-1.9 0.6,-2.8 -0.9,-1.3 -0.5,2.3zM435.8,312.8l1.8,0 1.1,-1.7 -13.5,-0.7 -1,1.7z" fill="#00a5e4" stroke="#00a5e4"/><path d="M332,338.2l1,1.2 0.9,-1.9 0.7,-2.9 -0.9,-1.2 -0.6,2.3zM436.9,311l1.8,0.1 1,-1.8 -13.7,-0.7 -0.8,1.8z" fill="#00aae1" stroke="#00aae1"/><path d="M330.9,337l1.1,1.2 0.9,-1.9 0.8,-2.9 -0.9,-1.3 -0.7,2.4zM437.9,309.2l1.8,0.1 1.1,-1.8 -13.9,-0.6 -0.9,1.7z" fill="#00aedc" stroke="#00aedc"/><path d="M329.9,335.8l1,1.2 1,-1.9 0.9,-3 -0.9,-1.2 -0.7,2.5zM438.9,307.5l1.9,0 1,-1.7 -14,-0.6 -0.9,1.7z" fill="#00b1d7" stroke="#00b1d7"/><path d="M328.9,334.5l1,1.3 1.1,-1.9 0.9,-3 -0.8,-1.3 -0.8,2.4zM439.9,305.7l1.9,0.1 1,-1.8 -14.2,-0.5 -0.8,1.7z" fill="#00b5d1" stroke="#00b5d1"/><path d="M328,333.3l0.9,1.2 1.3,-2.3 0.9,-2.6 -0.9,-1.2 -0.8,2.4zM440.8,304l2,0 0.9,-1.7 -14.2,-0.5 -0.9,1.7z" fill="#00b8ca" stroke="#00b8ca"/><path d="M327,332.1l1,1.2 1.3,-2.3 0.9,-2.6 -0.8,-1.3 -0.9,2.4zM441.8,302.3l1.9,0 1,-1.8 -14.4,-0.4 -0.8,1.7z" fill="#00bbc4" stroke="#00bbc4"/><path d="M326.1,330.9l0.9,1.2 1.4,-2.2 1,-2.8 -0.8,-1.3 -0.9,2.5zM442.7,300.5l2,0 0.9,-1.7 -14.5,-0.4 -0.8,1.7z" fill="#00bdbc" stroke="#00bdbc"/><path d="M325.1,329.6l1,1.3 1.3,-2.2 1.2,-2.9 -0.8,-1.2 -1,2.4zM443.7,298.8l1.9,0 0.9,-1.7 -14.6,-0.4 -0.8,1.7z" fill="#00bfb5" stroke="#00bfb5"/><path d="M324.7,329l0.4,0.6 1.4,-2 0.9,-1.8 0.4,-1.2 -0.8,-1.3 -1,2.4 -1.6,2.4zM444.6,297.1l1.9,0 1,-1.8 -14.8,-0.3 -0.8,1.7z" fill="#00c1ae" stroke="#00c1ae"/><path d="M323.9,326.6l0.5,1.5 1.8,-2.9 0.8,-1.9 -0.7,-1.3 -0.8,1.9 -1.6,2.5zM445.5,295.3l2,0 0.9,-1.7 -14.9,-0.3 -0.8,1.7z" fill="#00c3a6" stroke="#00c3a6"/><path d="M446.3,293.6l2.1,0 0.8,-1.7 -15,-0.3 -0.7,1.7zM323.4,324.7l0.5,1.7 1.5,-2.3 0.9,-2.1 -0.8,-1.3 -0.8,1.9z" fill="#00c69e" stroke="#00c69e"/><path d="M447.2,291.9l2,0 -0.5,-1.7 -13.7,-0.3 -0.8,1.7zM323.2,324.1l0.2,0.6 0.1,-0.2 1.2,-1.9 0.8,-1.9 -0.7,-1.2 -2,3.5z" fill="#00c895" stroke="#00c895"/><path d="M448.1,290.2l0.6,0 -0.5,-1.7 -12.5,-0.3 -0.7,1.7zM322.4,321.6l0.4,1.4 1.7,-2.9 0.3,-0.6 -0.8,-1.3 -1.7,3.1z" fill="#00ca8c" stroke="#00ca8c"/><path d="M446.9,288.5l1.3,0 -0.4,-1.7 -11.4,-0.2 -0.7,1.6zM321.8,319.5l0.5,1.8 1.1,-1.8 0.6,-1.3 -0.7,-1.3z" fill="#00cb81" stroke="#00cb81"/><path d="M447.7,286.8l-0.4,-1.7 -10.1,-0.2 -0.8,1.7zM321.7,319l0.1,0.5 1.5,-2.6 -0.7,-1.3 -1.3,2.2z" fill="#00cc76" stroke="#00cc76"/><path d="M446.5,285.1l0.8,0 -0.5,-1.7 -8.9,-0.2 -0.7,1.7zM320.9,316.4l0.4,1.4 1.3,-2.2 -0.7,-1.3 -1,1.8z" fill="#00cd6a" stroke="#00cd6a"/><path d="M445.3,283.4l1.5,0 -0.5,-1.7 -7.7,-0.2 -0.7,1.7zM320.4,314.4l0.5,1.7 1,-1.8 -0.7,-1.3z" fill="#00cd5e" stroke="#00cd5e"/><path d="M446.1,281.7l0.2,0 -0.4,-1.7 -6.6,-0.1 -0.7,1.6zM320.2,313.8l0.2,0.6 0.8,-1.4 -0.7,-1.3 -0.6,1z" fill="#3ecc51" stroke="#3ecc51"/><path d="M444.9,280l1,0 -0.5,-1.7 -5.4,-0.1 -0.7,1.7zM319.4,311.1l0.5,1.6 0.6,-1 -0.7,-1.3z" fill="#67cb44" stroke="#67cb44"/><path d="M443.7,278.3l1.7,0 -0.4,-1.7 -4.4,-0.1 -0.6,1.7zM319,309.3l0.4,1.7 0.4,-0.6 -0.7,-1.3z" fill="#82c936" stroke="#82c936"/><path d="M444.4,276.6l0.6,0 -0.5,-1.7 -3.2,0 -0.7,1.6zM318.7,308.3l0.3,1 0.1,-0.2z" fill="#9ac727" stroke="#9ac727"/><path d="M443.2,274.9l1.3,0 -0.4,-1.7 -2.1,0 -0.7,1.7z" fill="#afc517" stroke="#afc517"/><path d="M443.8,273.2l0.3,0 -0.4,-1.6 -1.1,-0.1 -0.6,1.7z" fill="#c2c205" stroke="#c2c205"/><path d="M442.6,271.5l1.1,0.1 -0.4,-1.7z" fill="#d3c000" stroke="#d3c000"/><path d="M379.2,367l6.5,-0.7 6.2,-1.3 6.2,-2 6.4,-2.8 -8.1,-2.2 -5.3,2.5 -5.2,1.8 -5.2,1 -5.4,0.4z" fill="#4528b2" stroke="#4528b2"/><path d="M373.9,366.9l5.3,0.1 -3.9,-3.3 -4.4,-0.3 1.6,1.7zM403.4,359.9l1.1,0.3 5.2,-2.9 -8.9,-1.9 -4.4,2.6z" fill="#472cbd" stroke="#472cbd"/><path d="M369.9,366.5l4,0.4 -1.4,-1.8 -1.6,-1.7 -3.3,-0.6 1.3,1.8zM408.5,357.1l1.2,0.2 4.1,-2.6 -9.7,-1.7 -3.3,2.4z" fill="#4830c8" stroke="#4830c8"/><path d="M366.5,365.9l3.4,0.6 -0.2,-0.5 -2.1,-3.2 -2.9,-0.7 1.1,1.8zM412.5,354.5l1.3,0.2 3.4,-2.4 -10.2,-1.6 -2.9,2.3z" fill="#4934d3" stroke="#4934d3"/><path d="M363.5,365.2l3,0.7 -0.3,-1 -1.5,-2.8 -2.5,-0.9 0.9,2zM415.8,352.1l1.4,0.2 3,-2.3 -10.7,-1.4 -2.5,2.1z" fill="#4a39dd" stroke="#4a39dd"/><path d="M360.8,364.5l2.7,0.7 -0.2,-1 -1.1,-3 -2.2,-0.8 0.6,1.9zM418.7,349.9l1.5,0.1 2.7,-2.2 -11.2,-1.3 -2.2,2.1z" fill="#4a3ee5" stroke="#4a3ee5"/><path d="M358.3,363.6l2.5,0.9 -0.1,-1.1 -0.2,-1.6 -0.5,-1.4 -2.1,-1 0.4,2.1zM422.9,347.8l2.5,-2.1 -11.6,-1.3 -2.1,2.1z" fill="#4944ec" stroke="#4944ec"/><path d="M356,362.8l2.3,0.8 0.1,-1.1 -0.1,-1.6 -0.4,-1.5 -1.9,-0.9 0.2,2.1zM423.8,345.5l1.6,0.2 2.3,-2.1 -12,-1.2 -1.9,2z" fill="#4749f1" stroke="#4749f1"/><path d="M353.8,361.9l2.2,0.9 0.2,-1.7 -0.2,-2.6 -1.9,-1 0.1,2.1zM426.1,343.5l1.6,0.1 2.2,-2.1 -12.4,-1 -1.8,1.9z" fill="#454ff6" stroke="#454ff6"/><path d="M351.7,361l2.1,0.9 0.4,-1.7 -0.1,-2.7 -1.7,-1.1 0,2.2zM428.2,341.4l1.7,0.1 2,-2 -12.6,-1 -1.8,2z" fill="#4254fa" stroke="#4254fa"/><path d="M349.8,360l1.9,1 0.6,-1.8 0.1,-2.8 -1.6,-1 -0.2,2.3zM430.2,339.4l1.7,0.1 2,-2.1 -13,-0.8 -1.6,1.9z" fill="#3d5afd" stroke="#3d5afd"/><path d="M347.9,359l1.9,1 0.7,-1.8 0.3,-2.8 -1.6,-1.1 -0.3,2.3zM432.1,337.4l1.8,0 1.8,-1.9 -13.3,-0.8 -1.5,1.9z" fill="#385fff" stroke="#385fff"/><path d="M346.1,358l1.8,1 0.8,-1.8 0.5,-2.9 -1.5,-1.1 -0.4,2.3zM433.9,335.4l1.8,0.1 1.8,-2 -13.6,-0.7 -1.5,1.9z" fill="#2f65ff" stroke="#2f65ff"/><path d="M344.4,357l1.7,1 0.9,-1.9 0.7,-2.9 -1.4,-1.1 -0.6,2.4zM435.7,333.5l1.8,0 1.8,-2 -13.9,-0.6 -1.5,1.9z" fill="#1b6bff" stroke="#1b6bff"/><path d="M342.7,355.9l1.7,1.1 1,-1.9 0.9,-3 -1.4,-1.1 -0.7,2.4zM437.4,331.5l1.9,0 1.6,-1.9 -14.1,-0.5 -1.4,1.8z" fill="#0071ff" stroke="#0071ff"/><path d="M341.1,354.9l1.6,1 1.2,-1.9 1,-3 -1.3,-1.1 -0.9,2.4zM439,329.6l1.9,0 1.6,-1.9 -14.4,-0.5 -1.3,1.9z" fill="#0077ff" stroke="#0077ff"/><path d="M339.5,353.8l1.6,1.1 1.3,-2 1.2,-3 -1.3,-1.1 -1.1,2.5zM440.6,327.7l1.9,0 1.6,-1.9 -14.7,-0.4 -1.3,1.8z" fill="#007dff" stroke="#007dff"/><path d="M338,352.8l1.5,1 1.4,-2 1.4,-3 -1.3,-1.2 -1.1,2.5zM442.1,325.8l2,0 1.5,-1.9 -14.9,-0.3 -1.3,1.8z" fill="#0083fd" stroke="#0083fd"/><path d="M336.5,351.7l1.5,1.1 1.6,-2.2 1.4,-3 -1.2,-1.1 -1.4,2.8zM443.6,323.9l2,0 1.5,-1.9 -15.2,-0.2 -1.2,1.8z" fill="#0088f9" stroke="#0088f9"/><path d="M335.1,350.6l1.4,1.1 1.9,-2.4 1.4,-2.8 -1.2,-1.2 -1.4,2.7zM445,322l2.1,0 1.4,-1.8 -7.4,0 -8,-0.2 -1.2,1.8z" fill="#008df5" stroke="#008df5"/><path d="M333.7,349.5l1.4,1.1 1.7,-2.1 1.8,-3.2 -1.2,-1.2 -1.4,2.6zM446.4,320.2l2.1,0 1.4,-1.9 -8,0.1 -7.6,-0.2 -1.2,1.8z" fill="#0092f1" stroke="#0092f1"/><path d="M332.3,348.3l1.4,1.2 1.9,-2.2 1.8,-3.2 -1.1,-1.1 -1.5,2.5zM447.8,318.3l2.1,0 1.4,-1.9 -6.8,0.1 -9.1,-0.1 -1.1,1.8z" fill="#0097ed" stroke="#0097ed"/><path d="M331,347.2l1.3,1.1 2.1,-2.3 1.9,-3 -1.1,-1.2 -1.9,2.9zM449.1,316.5l2.2,-0.1 1.3,-1.8 -7.2,0.1 -8.9,-0.1 -1.1,1.8z" fill="#009cea" stroke="#009cea"/><path d="M330.6,346.9l0.4,0.3 0.8,-0.8 1.7,-2 1.3,-2 0.4,-0.6 -1.1,-1.2 -1.5,2.3 -2.4,2.7zM450.4,314.7l2.2,-0.1 1.3,-1.8 -7.5,0.1 -8.8,-0.1 -1.1,1.8z" fill="#00a1e7" stroke="#00a1e7"/><path d="M329.9,344.8l0.3,0.8 1.9,-2.1 1.6,-2.3 0.4,-0.6 -1.1,-1.2 -1.6,2.3 -1.8,2.1zM451.7,312.8l2.2,0 1.3,-1.9 -7.9,0.2 -8.6,0 -1.1,1.7z" fill="#00a5e4" stroke="#00a5e4"/><path d="M452.9,311l2.3,-0.1 -0.6,-1.7 -14.9,0.1 -1,1.8zM329.2,342.7l0.4,1.1 1.8,-2.1 1.2,-1.7 0.4,-0.6 -1,-1.2 -1.4,2 -1.7,1.9z" fill="#00aae1" stroke="#00aae1"/><path d="M454.2,309.2l0.4,0 -0.6,-1.8 -13.2,0.1 -1.1,1.8zM328.4,340.5l0.5,1.6 2.3,-2.7 0.8,-1.2 -1.1,-1.2 -2.6,3.3z" fill="#00aedc" stroke="#00aedc"/><path d="M453.1,307.5l0.9,-0.1 -0.6,-1.7 -11.6,0.1 -1,1.7zM327.7,338.6l0.6,1.7 2.6,-3.3 -1,-1.2z" fill="#00b1d7" stroke="#00b1d7"/><path d="M452,305.7l1.4,0 -0.5,-1.7 -10.1,0 -1,1.8zM327.7,338.3l0,0.3 0.5,-0.6 1.7,-2.2 -1,-1.3 -1.7,2.3z" fill="#00b5d1" stroke="#00b5d1"/><path d="M450.9,304l2,0 -0.6,-1.8 -8.6,0.1 -0.9,1.7zM326.9,336l0.3,0.8 1.7,-2.3 -0.9,-1.2 -1.4,1.8z" fill="#00b8ca" stroke="#00b8ca"/><path d="M452,302.2l0.3,0 -0.5,-1.7 -7.1,0 -1,1.8zM326.2,333.7l0.4,1.4 1.4,-1.8 -1,-1.2 -1,1.2z" fill="#00bbc4" stroke="#00bbc4"/><path d="M450.8,300.5l1,0 -0.5,-1.7 -5.7,0 -0.9,1.7zM325.5,331.6l0.5,1.7 1,-1.2 -0.9,-1.2z" fill="#00bdbc" stroke="#00bdbc"/><path d="M449.7,298.8l1.6,0 -0.6,-1.8 -4.2,0.1 -0.9,1.7zM325.4,331.4l0.1,0.2 0.6,-0.7 -1,-1.3 -0.2,0.3z" fill="#00bfb5" stroke="#00bfb5"/><path d="M450.7,297l-0.5,-1.7 -2.7,0 -1,1.8zM324.7,329l0.2,0.9 0.2,-0.3z" fill="#00c1ae" stroke="#00c1ae"/><path d="M449.5,295.3l0.7,0 -0.5,-1.7 -1.3,0 -0.9,1.7z" fill="#00c3a6" stroke="#00c3a6"/><path d="M448.4,293.6l1.3,0 -0.5,-1.7z" fill="#00c69e" stroke="#00c69e"/><path d="M382,370.5l7.6,-0.9 8.3,-1.9 8.3,-2.6 7.4,-3.1 -9.1,-1.8 -6.4,2.8 -6.2,2 -6.2,1.3 -6.5,0.7 1.5,1.7z" fill="#4528b2" stroke="#4528b2"/><path d="M375.4,370.8l6.6,-0.3 -1.3,-1.8 -1.5,-1.7 -5.3,-0.1 1,1.9zM412.4,361.8l1.2,0.2 6.6,-3.2 -10.5,-1.5 -5.2,2.9z" fill="#472cbd" stroke="#472cbd"/><path d="M370.3,370.7l5.1,0.1 -0.5,-2 -1,-1.9 -4,-0.4 0.5,2zM418.8,358.6l1.4,0.2 5,-2.8 -11.4,-1.3 -4.1,2.6z" fill="#4830c8" stroke="#4830c8"/><path d="M366.1,370.3l4.2,0.4 0.1,-2.2 -0.5,-2 -3.4,-0.6 0.1,2.1zM423.7,355.8l1.5,0.2 4.3,-2.7 -6.5,-0.4 -5.8,-0.6 -3.4,2.4z" fill="#4934d3" stroke="#4934d3"/><path d="M362.4,369.8l3.7,0.5 0.5,-2.3 -0.1,-2.1 -3,-0.7 -0.2,2.2zM427.8,353.2l1.7,0.1 3.7,-2.5 -6.9,-0.3 -6.1,-0.5 -3,2.3z" fill="#4a39dd" stroke="#4a39dd"/><path d="M359,369.3l3.4,0.5 0.9,-2.4 0.2,-2.2 -2.7,-0.7 -0.5,2.3zM431.4,350.8l1.8,0 3.4,-2.3 -7.3,-0.3 -6.4,-0.4 -2.7,2.2z" fill="#4a3ee5" stroke="#4a3ee5"/><path d="M355.9,368.6l3.1,0.7 1.3,-2.5 0.5,-2.3 -2.5,-0.9 -0.8,2.4zM434.7,348.4l1.9,0.1 3.1,-2.4 -7.3,-0.1 -7,-0.3 -2.5,2.1z" fill="#4944ec" stroke="#4944ec"/><path d="M353,367.9l2.9,0.7 1.6,-2.6 0.8,-2.4 -2.3,-0.8 -1.2,2.7zM437.7,346.1l2,0 2.9,-2.2 -7.9,-0.1 -7,-0.2 -2.3,2.1z" fill="#4749f1" stroke="#4749f1"/><path d="M350.2,367.2l2.8,0.7 1.8,-2.4 1.2,-2.7 -2.2,-0.9 -1.3,2.6zM440.5,343.9l2.1,0 2.7,-2.2 -7.6,0 -7.8,-0.2 -2.2,2.1z" fill="#454ff6" stroke="#454ff6"/><path d="M347.7,366.4l2.5,0.8 2.3,-2.7 1.3,-2.6 -2.1,-0.9 -1.5,2.5zM443.2,341.7l2.1,0 2.6,-2.2 -8.3,0.1 -7.7,-0.1 -2,2z" fill="#4254fa" stroke="#4254fa"/><path d="M345.2,365.5l2.5,0.9 2.5,-2.9 1.5,-2.5 -1.9,-1 -1.7,2.6zM445.7,339.6l2.2,-0.1 2.5,-2.2 -8.8,0.2 -7.7,-0.1 -2,2.1z" fill="#3d5afd" stroke="#3d5afd"/><path d="M342.9,364.7l2.3,0.8 2.9,-2.9 1.7,-2.6 -1.9,-1 -2.3,3.2zM448,337.4l2.4,-0.1 2.3,-2.1 -7.4,0.3 -9.6,0 -1.8,1.9z" fill="#385fff" stroke="#385fff"/><path d="M340.6,363.8l2.3,0.9 2.7,-2.5 2.3,-3.2 -1.8,-1 -2.6,3.2zM450.3,335.3l2.4,-0.1 2.3,-2.1 -9.2,0.4 -8.3,0 -1.8,2z" fill="#2f65ff" stroke="#2f65ff"/><path d="M338.5,362.9l2.1,0.9 2.9,-2.6 2.6,-3.2 -1.7,-1 -2.4,2.8zM452.5,333.3l2.5,-0.2 2.1,-2 -9.1,0.4 -8.7,0 -1.8,2 6.7,0z" fill="#1b6bff" stroke="#1b6bff"/><path d="M336.6,362.1l1.9,0.8 3.5,-3.1 2.4,-2.8 -1.7,-1.1 -2.1,2.5 -4.1,3.5zM454.6,331.2l2.5,-0.1 2.1,-2.1 -9.1,0.5 -9.2,0.1 -1.6,1.9 7.1,0z" fill="#0071ff" stroke="#0071ff"/><path d="M335.9,360.3l0.6,1.6 3.5,-2.9 2.7,-3.1 -1.6,-1 -2.5,2.7 -2.9,2.4zM456.6,329.2l2.6,-0.2 2,-2 -8.9,0.5 -9.8,0.2 -1.6,1.9 7.7,-0.1z" fill="#0077ff" stroke="#0077ff"/><path d="M458.5,327.2l2.7,-0.2 -0.8,-1.8 -8.9,0.5 -7.4,0.1 -1.6,1.9 8.3,-0.1zM335.1,358.5l0.6,1.5 2.9,-2.4 2.5,-2.7 -1.6,-1.1 -2.2,2.4 -2.3,2z" fill="#007dff" stroke="#007dff"/><path d="M457.8,325.4l2.6,-0.2 -0.7,-1.8 -14.1,0.5 -1.5,1.9zM334.4,356.7l0.6,1.5 2.3,-2 2.2,-2.4 -1.5,-1 -3.8,3.6z" fill="#0083fd" stroke="#0083fd"/><path d="M459.6,323.4l-0.6,-1.8 -11.9,0.4 -1.5,1.9zM333.6,354.8l0.6,1.6 3.8,-3.6 -1.5,-1.1 -3,2.9z" fill="#0088f9" stroke="#0088f9"/><path d="M458.7,321.6l0.3,0 -0.7,-1.8 -9.8,0.4 -1.4,1.8zM332.9,352.9l0.6,1.7 3,-2.9 -1.4,-1.1 -2.3,2.1z" fill="#008df5" stroke="#008df5"/><path d="M457.8,319.8l0.5,0 -0.6,-1.8 -7.8,0.3 -1.4,1.9zM332.1,351l0.7,1.7 2.3,-2.1 -1.4,-1.1z" fill="#0092f1" stroke="#0092f1"/><path d="M456.9,318.1l0.8,-0.1 -0.7,-1.8 -5.7,0.2 -1.4,1.9zM331.5,349.2l0.6,1.7 1.6,-1.4 -1.4,-1.2z" fill="#0097ed" stroke="#0097ed"/><path d="M455.9,316.3l1.1,-0.1 -0.6,-1.7 -3.8,0.1 -1.3,1.8zM331.4,349l0.1,0.2 0.8,-0.9 -1.3,-1.1 -0.2,0.2z" fill="#009cea" stroke="#009cea"/><path d="M454.9,314.5l1.5,0 -0.6,-1.8 -1.9,0.1 -1.3,1.8zM330.6,346.9l0.2,0.5 0.2,-0.2z" fill="#00a1e7" stroke="#00a1e7"/><path d="M453.9,312.8l1.9,-0.1 -0.6,-1.7z" fill="#00a5e4" stroke="#00a5e4"/><path d="M382.7,374.7l10.8,-1.8 10.3,-2.4 10.4,-3.2 10.7,-4 -6,-0.5 -5.3,-0.8 -7.4,3.1 -8.3,2.6 -8.3,1.9 -7.6,0.9 0.7,2z" fill="#4528b2" stroke="#4528b2"/><path d="M373.9,375.5l8.8,-0.8 0,-2.2 -0.7,-2 -6.6,0.3 -0.3,2.4zM423.3,363.2l1.6,0.1 8.8,-3.8 -6.6,-0.2 -6.9,-0.5 -6.6,3.2z" fill="#472cbd" stroke="#472cbd"/><path d="M367.2,375.8l6.7,-0.3 1.2,-2.3 0.3,-2.4 -5.1,-0.1 -0.9,2.4 -0.9,1.3zM431.7,359.5l2,0 6.7,-3.3 -8.2,0.1 -7,-0.3 -5,2.8 6.2,0.5z" fill="#4830c8" stroke="#4830c8"/><path d="M361.5,375.9l5.7,-0.1 1.3,-1.4 0.9,-1.3 0.9,-2.4 -4.2,-0.4 -1.6,2.6zM438.2,356.3l2.2,-0.1 5.6,-3 -8.7,0.3 -7.8,-0.2 -4.3,2.7 6.7,0.3z" fill="#4934d3" stroke="#4934d3"/><path d="M356.5,375.7l5,0.2 3,-3 1.6,-2.6 -3.7,-0.5 -1.1,1.6 -1.5,1.6zM443.6,353.3l2.4,-0.1 5,-2.8 -8.1,0.4 -9.7,0 -3.7,2.5 6.1,0.2z" fill="#4a39dd" stroke="#4a39dd"/><path d="M352,375.5l4.5,0.2 3.3,-2.7 1.5,-1.6 1.1,-1.6 -3.4,-0.5 -2.7,2.9zM448.4,350.6l2.6,-0.2 4.5,-2.7 -9.9,0.6 -9,0.2 -3.4,2.3 6.6,0.1z" fill="#4a3ee5" stroke="#4a3ee5"/><path d="M347.8,375.1l4.2,0.4 4.3,-3.3 2.7,-2.9 -3.1,-0.7 -1.8,1.9 -1.7,1.5zM452.7,347.9l2.8,-0.2 4.2,-2.6 -9.7,0.7 -10.3,0.3 -3.1,2.4 7.5,-0.1z" fill="#4944ec" stroke="#4944ec"/><path d="M344,374.6l3.8,0.5 4.6,-3.1 1.7,-1.5 1.8,-1.9 -2.9,-0.7 -3.8,3.4zM456.7,345.4l3,-0.3 3.9,-2.5 -10.6,0.9 -10.4,0.4 -2.9,2.2 7.3,-0.1z" fill="#4749f1" stroke="#4749f1"/><path d="M342.6,374.4l1.4,0.2 2.6,-1.5 3.8,-2.8 2.6,-2.4 -2.8,-0.7 -3.5,2.9 -4.8,3.1zM460.4,342.9l3.2,-0.3 3.5,-2.5 -11,1 -10.8,0.6 -2.7,2.2 9,-0.4z" fill="#454ff6" stroke="#454ff6"/><path d="M341.8,373.1l0.1,0.1 4.2,-2.6 4.1,-3.4 -2.5,-0.8 -3.4,2.7 -3.4,2.2zM463.9,340.5l3.2,-0.4 -0.9,-1.9 -9.7,0.8 -8.6,0.5 -2.6,2.2 9.4,-0.5z" fill="#4254fa" stroke="#4254fa"/><path d="M464,338.4l2.2,-0.2 -1,-1.9 -14.8,1 -2.5,2.2 8.6,-0.5zM340.4,370.1l0.5,1.2 3.4,-2.2 3.4,-2.7 -2.5,-0.9 -2.6,2.1 -2.6,1.8z" fill="#3d5afd" stroke="#3d5afd"/><path d="M463.8,336.4l1.4,-0.1 -0.8,-1.9 -11.7,0.8 -2.3,2.1zM339.6,368.6l0.4,0.8 2.6,-1.8 2.6,-2.1 -2.3,-0.8 -3.8,2.8z" fill="#385fff" stroke="#385fff"/><path d="M463.5,334.5l0.9,-0.1 -0.9,-1.9 -8.5,0.6 -2.3,2.1zM338.9,367l0.2,0.5 3.8,-2.8 -2.3,-0.9 -2.4,1.8z" fill="#2f65ff" stroke="#2f65ff"/><path d="M463.1,332.6l0.4,-0.1 -0.8,-1.8 -5.6,0.4 -2.1,2zM338.1,365.4l0.1,0.2 2.4,-1.8 -2.1,-0.9 -1.2,0.8z" fill="#1b6bff" stroke="#1b6bff"/><path d="M462.6,330.7l0.1,0 -0.8,-1.9 -2.7,0.2 -2.1,2.1zM336.6,362.1l0.7,1.6 1.2,-0.8z" fill="#0071ff" stroke="#0071ff"/><path d="M461.9,328.8l-0.7,-1.8 -2,2z" fill="#0077ff" stroke="#0077ff"/><path d="M378.1,380.2l16.1,-3.2 15.6,-3.8 15.6,-4.5 16.1,-5.5 -8.4,0.4 -8.2,-0.3 -10.7,4 -10.4,3.2 -10.3,2.4 -10.8,1.8 -0.5,1.2 -1,1.5 -1.6,1.6z" fill="#4528b2" stroke="#4528b2"/><path d="M364.9,382.2l13.2,-2 1.5,-1.2 1.6,-1.6 1,-1.5 0.5,-1.2 -8.8,0.8 -1.5,1.7 -1.7,1.5 -2.7,1.8zM438.8,363.4l2.7,-0.2 13.1,-5 -11.2,1 -9.7,0.3 -8.8,3.8 6.6,0.3z" fill="#472cbd" stroke="#472cbd"/><path d="M354.8,383.5l10.1,-1.3 3.1,-1.7 2.7,-1.8 1.7,-1.5 1.5,-1.7 -6.7,0.3 -2.2,1.8 -2.6,1.8 -3.6,2.1zM451.2,358.6l3.4,-0.4 10.1,-4.2 -13,1.5 -11.3,0.7 -6.7,3.3 8.2,-0.2z" fill="#4830c8" stroke="#4830c8"/><path d="M348.6,384.1l6.2,-0.6 4,-2 3.6,-2.1 2.6,-1.8 2.2,-1.8 -5.7,0.1 -2.7,1.9 -3.6,2.2 -7.1,3.5zM460.7,354.6l4,-0.6 8.4,-3.7 -14,1.8 -13.1,1.1 -5.6,3 9.9,-0.6z" fill="#4934d3" stroke="#4934d3"/><path d="M347.8,383l0.3,0.5 5.6,-2.7 4.4,-2.5 3.4,-2.4 -5,-0.2 -3.7,2.4 -6.1,3.2zM468.7,350.9l4.4,-0.6 -1.4,-2.2 -10.3,1.4 -10.4,0.9 -5,2.8 10.4,-0.8z" fill="#4a39dd" stroke="#4a39dd"/><path d="M471.3,348.2l0.4,-0.1 -1.3,-2 -14.9,1.6 -4.5,2.7 10.4,-0.9zM346.3,380.8l0.4,0.5 1.6,-0.8 4.5,-2.4 3.7,-2.4 -4.5,-0.2 -6.6,3.7z" fill="#4a3ee5" stroke="#4a3ee5"/><path d="M468.9,346.3l1.5,-0.2 -1.1,-2 -9.6,1 -4.2,2.6zM344.8,378.4l0.6,0.8 6.6,-3.7 -4.2,-0.4 -3.7,2.1z" fill="#4944ec" stroke="#4944ec"/><path d="M344.1,377.1l3.7,-2 -3.8,-0.5 -1,0.6zM466.3,344.4l3,-0.3 -1.1,-2 -4.6,0.5 -3.9,2.5z" fill="#4749f1" stroke="#4749f1"/><path d="M466.9,342.2l1.3,-0.1 -1.1,-2 -3.5,2.5zM342.6,374.4l0.4,0.8 1,-0.6z" fill="#454ff6" stroke="#454ff6"/><path d="M354.5,390.9l31.2,-7.3 31.1,-8 31.2,-8.7 31.1,-9.4 -11.6,2.2 -9.6,1.6 -8.9,1.2 -7.5,0.7 -16.1,5.5 -15.6,4.5 -15.6,3.8 -16.1,3.2 -3.9,2.3 -4.7,2.4 -6.9,2.8 -8.3,3z" fill="#4528b2" stroke="#4528b2"/><path d="M353.8,390.2l0.5,0.5 11.8,-4.4 7.4,-3.4 4.6,-2.7 -13.2,2 -6.2,3 -6.9,2.9zM471.4,359l7.7,-1.6 -2.5,-2.6 -12,2.1 -10,1.3 -13.1,5 12.7,-1.3z" fill="#472cbd" stroke="#472cbd"/><path d="M351.6,387.9l0.2,0.2 4.3,-1.8 8.8,-4.1 -10.1,1.3 -5,2.2zM472.5,355.6l4.1,-0.8 -1.9,-2.3 -10,1.5 -10.1,4.2 8.7,-1.1z" fill="#4830c8" stroke="#4830c8"/><path d="M474,352.6l0.7,-0.1 -1.6,-2.2 -8.4,3.7zM349.3,385.1l0.5,0.6 5,-2.2 -6.2,0.6z" fill="#4934d3" stroke="#4934d3"/><path d="M360.5,395l124.6,-33.3 -3,-1.8 -3,-2.4 -31.1,9.4 -31.2,8.7 -31.1,8 -31.2,7.3 3,2.4z" fill="#4528b2" stroke="#4528b2"/><path d="M366.5,396.4l31.1,-7.3 31.2,-8 31.1,-8.8 31.1,-9.4 -2.9,-0.3 -3,-0.9 -124.6,33.3 3,1.1z" fill="#4528b2" stroke="#4528b2"/><path d="M491,362.9z" fill="#472cbd" stroke="#472cbd"/><path d="M399,391.3l2.9,-0.2 3.8,-0.7 15.5,-3.2 13.5,-3.4 12.5,-3.6 18.1,-6.1 3.9,-2.4 5.6,-2.7 7,-2.8 9.2,-3.3 -31.1,9.4 -31.1,8.8 -31.2,8 -31.1,7.3 17.9,-3.2 7.5,-1.1z" fill="#4528b2" stroke="#4528b2"/><path d="M385,393.6l16.9,-2.5 -7.4,0.7 -8.9,1.2 -18.9,3.4zM465.3,374.1l13.1,-5 6.4,-3 8.7,-3.6 -2.5,0.4 -13.6,5 -7.4,3.4z" fill="#472cbd" stroke="#472cbd"/><path d="M374.3,395l14.4,-1.9 -9.7,1.4 -9.7,1.6 1.9,-0.6zM478.4,369.1l17,-7.2 -8.9,3.4z" fill="#4830c8" stroke="#4830c8"/><path d="M372.5,395l6.2,-0.6 -7.5,1.1zM488.5,364.9l8.5,-3.7z" fill="#4934d3" stroke="#4934d3"/><path d="M497,361.2l0,-0.1 0,0.1z" fill="#4a39dd" stroke="#4a39dd"/><path d="M416.8,390.9l1.7,0.1 3.5,-0.5 10.4,-1.9 9.3,-2.4 9.4,-2.9 9.6,-3.6 0.4,-1.2 1.1,-1.7 1.6,-1.5 1.5,-1.2 -16,5.4 -15.6,4.6 -15.6,3.8 -16.2,3.2 7.2,-0.3z" fill="#4528b2" stroke="#4528b2"/><path d="M407.6,391.9l4,-0.2 6.9,-0.7 -8,-0.2 -7.7,0.2 -14.1,2.1 10.1,-0.9zM460.7,379.7l8.7,-3.9 1.6,-1.7 1.8,-1.5 2.6,-1.8 3,-1.7 -13.1,5 -1.5,1.2 -1.6,1.5 -1.1,1.7z" fill="#472cbd" stroke="#472cbd"/><path d="M400.6,392.3l9.1,-0.4 -6.5,0.1 -7.3,0.4 -17.2,2 11.8,-1.4zM469.4,375.8l6.8,-3.2 2.2,-1.9 2.6,-1.8 3.7,-2.1 3.8,-1.9 -10.1,4.2 -1.5,0.9 -4.7,3.1 -1.7,1.5z" fill="#4830c8" stroke="#4830c8"/><path d="M394.7,392.4l8.3,-0.2 -12.5,0.8 -18,2 0.4,-0.2 9.5,-1.3zM476.2,372.6l5.6,-3.1 2.8,-2 3.6,-2.1 8.8,-4.2 -8.5,3.7 -4.6,2.3 -4.2,2.6z" fill="#4934d3" stroke="#4934d3"/><path d="M389.5,392.3l2.8,-0.2 5,0.1 -11.5,0.9 -12.9,1.7 1.5,-0.9zM481.8,369.5l5,-2.8 4.6,-2.8 7,-3.6 -1.4,0.8 -8.8,4.3 -3.6,2.1z" fill="#4a39dd" stroke="#4a39dd"/><path d="M384.8,392.1l3,-0.3 4.5,0.3 -9,0.8 -8.9,1 1.3,-0.9zM486.8,366.7l7.5,-4.5 5.4,-2.8 -1.3,0.9 -7.1,3.6z" fill="#4a3ee5" stroke="#4a3ee5"/><path d="M380.5,391.7l3.1,-0.3 4.2,0.4 -12.1,1.2 1.2,-0.9zM491.3,364l5.1,-3.1 4.5,-2.4 -1.2,0.9 -4.6,2.4z" fill="#4944ec" stroke="#4944ec"/><path d="M377.7,391.5l0.3,-0.3 1.8,-0.2 3.8,0.4 -6.7,0.7zM495.5,361.4l3.8,-2.5 2.7,-1.4 -1.1,1z" fill="#4749f1" stroke="#4749f1"/><path d="M378.4,390.8l1.4,0.2 -1.8,0.2zM499.3,358.9l3.7,-2.5 -1,1.1z" fill="#454ff6" stroke="#454ff6"/><path d="M503,356.5l0,-0.1z" fill="#4254fa" stroke="#4254fa"/><path d="M429.7,392.3l6.6,-0.8 7.3,-1.5 7.2,-2.1 6.3,-2.2 4.3,-1.9 -0.8,-2 0.1,-2.1 -10.6,3.9 -10.4,3.2 -10.4,2.4 -10.8,1.8 6,0.5z" fill="#4528b2" stroke="#4528b2"/><path d="M421.7,392.4l2.1,0.2 5.9,-0.3 -5.2,-0.8 -6,-0.5 -8.8,0.9 5.6,0.1zM461.4,383.8l6.5,-3.2 0,-1.2 0.3,-1.3 1.2,-2.3 -8.7,3.9 -0.1,2.1z" fill="#472cbd" stroke="#472cbd"/><path d="M416.5,392.3l5.3,0.3 1.3,0 -1.4,-0.2 -10.5,-0.5 -8.2,0.3 7,-0.1zM467.9,380.6l5.1,-2.9 0.9,-2.4 0.9,-1.3 1.4,-1.4 -6.8,3.2 -1.2,2.3 -0.3,1.3z" fill="#4830c8" stroke="#4830c8"/><path d="M412.1,392l6,0.4 -8.1,-0.3 -12.7,0.1 7.4,-0.2zM473,377.7l4.2,-2.6 1.7,-2.7 2.9,-2.9 -5.6,3.1 -1.4,1.4 -0.9,1.3z" fill="#4934d3" stroke="#4934d3"/><path d="M408.2,391.6l1.9,0 3.8,0.5 -7.6,-0.2 -9,0.3 -5,-0.1 8.4,-0.5zM477.2,375.1l3.8,-2.5 2.1,-2.7 3.7,-3.2 -5,2.8 -0.9,0.8 -2.1,2.2z" fill="#4a39dd" stroke="#4a39dd"/><path d="M404.7,391l2,0 3.4,0.6 -8.1,0 -9.7,0.5 -4.5,-0.3 8.6,-0.6zM481,372.6l3.4,-2.4 2.7,-3 4.2,-3.2 -4.5,2.7 -2.1,1.6 -2.1,2.1z" fill="#4a3ee5" stroke="#4a3ee5"/><path d="M401.5,390.4l2.1,0 3.1,0.6 -8.7,0.2 -10.2,0.6 -4.2,-0.4 8.5,-0.6zM484.4,370.2l3.1,-2.3 1.8,-1.9 1.7,-1.5 4.5,-3.1 -4.7,3 -2.5,1.8 -2.2,2z" fill="#4944ec" stroke="#4944ec"/><path d="M398.5,389.7l2.2,0 2.9,0.7 -9,0.2 -11,0.8 -3.8,-0.4 9.3,-0.8zM487.5,367.9l2.9,-2.3 3.4,-3 5.5,-3.7 -7.7,5.1 -2.3,2z" fill="#4749f1" stroke="#4749f1"/><path d="M395.7,389l2.3,-0.1 2.7,0.8 -10.2,0.4 -10.7,0.9 -1.4,-0.2 0.7,-0.7 9.1,-0.7zM490.4,365.6l6.3,-5.2 6.3,-3.9 -8.8,5.7 -2.3,1.9z" fill="#454ff6" stroke="#454ff6"/><path d="M393,388.2l2.4,-0.1 2.6,0.8 -9.8,0.5 -9.1,0.7 1,-1zM493.1,363.4l5.4,-4.5 5.5,-3.5 -1,1.1 -6.3,3.9z" fill="#4254fa" stroke="#4254fa"/><path d="M390.5,387.4l2.5,-0.1 2.4,0.8 -15.3,1 1,-1zM495.7,361.3l4.4,-3.8 4.8,-3.2 -0.9,1.1 -4.9,3.1z" fill="#3d5afd" stroke="#3d5afd"/><path d="M388.1,386.6l2.5,-0.2 2.4,0.9 -11.9,0.8 0.9,-1.1zM498.1,359.1l3.4,-2.9 4.3,-2.9 -0.9,1 -3.6,2.3z" fill="#385fff" stroke="#385fff"/><path d="M385.8,385.7l2.6,-0.1 2.2,0.8 -8.6,0.6 0.9,-1.1zM500.5,357l2.2,-2.1 3.9,-2.7 -0.8,1.1z" fill="#2f65ff" stroke="#2f65ff"/><path d="M383.7,384.9l2.5,-0.2 2.2,0.9 -5.5,0.3zM502.7,354.9l2.2,-2.1 2.5,-1.8 -0.8,1.2z" fill="#1b6bff" stroke="#1b6bff"/><path d="M384.4,383.8l1.8,0.9 -2.5,0.1zM504.9,352.8l2,-2 1.3,-0.9 -0.8,1.1z" fill="#0071ff" stroke="#0071ff"/><path d="M506.9,350.8l2.1,-2 -0.8,1.1z" fill="#0077ff" stroke="#0077ff"/><path d="M509,348.8z" fill="#007dff" stroke="#007dff"/><path d="M438.9,394.2l6.5,-0.7 6.2,-1.3 6.2,-2 6.4,-2.8 -1.6,-1.8 -1.2,-1.8 -7.4,3.1 -8.4,2.6 -8.3,1.8 -7.6,1z" fill="#4528b2" stroke="#4528b2"/><path d="M433.6,394.1l5.3,0.1 -9.2,-1.9 -6.6,0.3zM464.2,387.4l5.2,-2.9 -1,-1.9 -0.5,-2 -6.5,3.2 1.2,1.8z" fill="#472cbd" stroke="#472cbd"/><path d="M429.6,393.7l4,0.4 -1.2,-0.2 -9.3,-1.3 -5,-0.2zM469.4,384.5l4.1,-2.6 -0.6,-2 0.1,-2.2 -5.1,2.9 0.5,2z" fill="#4830c8" stroke="#4830c8"/><path d="M424.8,392.9l4.8,0.8 -6.9,-0.9 -8.8,-0.7zM473.5,381.9l3.4,-2.4 -0.2,-2.1 0.5,-2.3 -4.2,2.6 -0.1,2.2z" fill="#4934d3" stroke="#4934d3"/><path d="M421.7,392.3l1.5,0.1 3,0.7 -5.8,-0.6 -6.5,-0.4 -3.8,-0.5zM476.9,379.5l3,-2.3 0.1,-2.2 1,-2.4 -3.8,2.5 -0.5,2.3z" fill="#4a39dd" stroke="#4a39dd"/><path d="M420.5,391.7l2.7,0.7 -6.2,-0.5 -6.9,-0.3 -3.4,-0.6 7.3,0.2zM479.9,377.2l2.7,-2.2 0.4,-2.3 1.4,-2.5 -3.4,2.4 -1,2.4z" fill="#4a3ee5" stroke="#4a3ee5"/><path d="M416.4,390.7l1.6,0.2 2.5,0.8 -6.5,-0.5 -7.3,-0.2 -3.1,-0.6zM482.6,375l2.5,-2.1 0.8,-2.5 1.6,-2.5 -3.3,2.5 -1.2,2.3z" fill="#4944ec" stroke="#4944ec"/><path d="M414,389.9l1.7,0.1 2.3,0.9 -6.7,-0.4 -7.7,-0.1 -2.9,-0.7zM485.1,372.9l2.3,-2.1 1,-2.5 2,-2.7 -2.9,2.3 -0.5,0.7 -1.2,1.9z" fill="#4749f1" stroke="#4749f1"/><path d="M411.8,389l1.7,0.1 2.2,0.9 -7,-0.3 -8,0 -2.7,-0.8zM487.4,370.8l2.2,-2.1 1.3,-2.7 2.2,-2.6 -2.7,2.2 -1,1.2 -1.4,2.2z" fill="#454ff6" stroke="#454ff6"/><path d="M409.6,388.1l1.8,0.1 2.1,0.9 -7.5,-0.2 -8,0 -2.6,-0.8zM489.6,368.7l2,-2 1.6,-2.7 2.5,-2.7 -2.6,2.1 -1.3,1.5 -1.4,1.9z" fill="#4254fa" stroke="#4254fa"/><path d="M407.6,387.1l1.9,0.1 1.9,1 -7.4,-0.2 -8.6,0.1 -2.4,-0.8zM491.6,366.7l2,-2 0.9,-1.6 1.3,-1.6 2.3,-2.4 -4.1,3.8 -1.4,1.9z" fill="#3d5afd" stroke="#3d5afd"/><path d="M405.7,386.2l1.9,0 1.9,1 -7.7,-0.1 -8.8,0.2 -2.4,-0.9 7.7,-0.2zM493.6,364.7l1.8,-2 2,-2.7 3.1,-3 -4.7,4.3 -1.3,1.8z" fill="#385fff" stroke="#385fff"/><path d="M403.9,385.2l1.9,0 1.8,1 -7.9,0 -9.1,0.2 -2.2,-0.8 7.8,-0.4zM495.4,362.7l1.8,-2 2.2,-2.8 3.3,-3 -4.8,4.5 -1.4,1.7z" fill="#2f65ff" stroke="#2f65ff"/><path d="M402.1,384.2l2,0 1.7,1 -8.1,0 -9.3,0.4 -2.2,-0.9 7.9,-0.4zM497.2,360.7l4.1,-4.7 3.6,-3.2 -5,4.6 -1.4,1.6z" fill="#1b6bff" stroke="#1b6bff"/><path d="M400.4,383.2l2,0 1.7,1 -8.5,0 -9.4,0.5 -1.8,-0.9 0.1,-0.1 4.8,-0.3zM499,358.8l3.9,-4.6 4,-3.4 -5.5,5z" fill="#0071ff" stroke="#0071ff"/><path d="M398.7,382.1l2.1,0 1.6,1.1 -8.4,0.1 -9.5,0.4 0.8,-1.1zM500.6,356.8l3.7,-4.2 2.2,-1.9 2.5,-1.9 -2.1,2 -3.8,3.2z" fill="#0077ff" stroke="#0077ff"/><path d="M397.1,381.1l2.1,-0.1 1.6,1.1 -15.5,0.5 0.8,-1.2zM502.2,354.9l3.4,-3.9 4.1,-3.4 -0.7,1.2 -4.1,3.2z" fill="#007dff" stroke="#007dff"/><path d="M395.6,380l2.1,0 1.5,1 -13.1,0.4 0.7,-1.1zM503.8,353l2.9,-3.3 3.7,-3.2 -0.7,1.1 -3.6,2.9z" fill="#0083fd" stroke="#0083fd"/><path d="M394.1,378.9l2.1,0 1.5,1.1 -10.9,0.3 0.7,-1.2zM505.3,351.1l2.4,-2.8 3.4,-3 -0.7,1.2 -2.9,2.4z" fill="#0088f9" stroke="#0088f9"/><path d="M392.6,377.8l2.2,0 1.4,1.1 -8.7,0.2 0.7,-1.1zM506.8,349.2l1.7,-2.1 3.3,-3 -0.7,1.2 -2.3,1.9z" fill="#008df5" stroke="#008df5"/><path d="M391.2,376.7l2.2,0 1.4,1.1 -6.6,0.2 0.7,-1.2zM508.2,347.4l1.4,-1.9 2.8,-2.6 -0.6,1.2z" fill="#0092f1" stroke="#0092f1"/><path d="M389.8,375.6l2.2,-0.1 1.4,1.2 -4.5,0.1 0.7,-1.2zM509.6,345.5l1.4,-1.9 2.1,-1.8 -0.7,1.1z" fill="#0097ed" stroke="#0097ed"/><path d="M390.7,374.4l1.3,1.1 -2.4,0.1 0.6,-1.2zM511,343.6l1.3,-1.8 1.4,-1.2 -0.6,1.2z" fill="#009cea" stroke="#009cea"/><path d="M390.4,374.1l0.3,0.3 -0.5,0zM512.3,341.8l1.3,-1.8 0.7,-0.6 -0.6,1.2z" fill="#00a1e7" stroke="#00a1e7"/><path d="M513.6,340l1.3,-1.9 -0.6,1.3z" fill="#00a5e4" stroke="#00a5e4"/><path d="M514.9,338.1z" fill="#00aae1" stroke="#00aae1"/><path d="M447,396.3l5.4,-0.3 5.2,-1.1 5.2,-1.7 5.2,-2.5 -3.8,-3.3 -6.4,2.8 -6.2,2 -6.2,1.3 -6.5,0.7z" fill="#4528b2" stroke="#4528b2"/><path d="M442.6,396l4.4,0.3 -8.1,-2.1 -5.3,-0.1zM468,390.7l4.4,-2.7 -1.6,-1.7 -1.4,-1.8 -5.2,2.9z" fill="#472cbd" stroke="#472cbd"/><path d="M438.1,395.2l4.5,0.8 -9,-1.9 -4,-0.4zM472.4,388l3.4,-2.4 -1.3,-1.8 -1,-1.9 -4.1,2.6 1.4,1.8z" fill="#4830c8" stroke="#4830c8"/><path d="M436.4,394.7l2.8,0.7 -13,-2.3zM475.8,385.6l2.8,-2.2 -1.1,-1.9 -0.6,-2 -3.4,2.4 1,1.9z" fill="#4934d3" stroke="#4934d3"/><path d="M432.6,393.7l1.3,0.2 2.5,0.8 -10.2,-1.6 -3,-0.7zM478.6,383.4l2.5,-2.2 -0.8,-1.9 -0.4,-2.1 -3,2.3 0.6,2z" fill="#4a39dd" stroke="#4a39dd"/><path d="M431.6,393l2.3,0.9 -10.7,-1.5 -2.7,-0.7zM481.1,381.2l2.3,-2.1 -0.7,-2 -0.1,-2.1 -2.7,2.2 0.4,2.1z" fill="#4a3ee5" stroke="#4a3ee5"/><path d="M429.5,392.1l2.1,0.9 -11.1,-1.3 -2.5,-0.8zM483.4,379.1l2,-2 -0.4,-2.1 0.1,-2.1 -2.5,2.1 0.1,2.1z" fill="#4944ec" stroke="#4944ec"/><path d="M426.2,390.9l1.4,0.2 1.9,1 -11.5,-1.2 -2.3,-0.9zM485.4,377.1l2,-2 -0.3,-2.1 0.3,-2.2 -2.3,2.1 -0.1,2.1z" fill="#4749f1" stroke="#4749f1"/><path d="M424.4,389.9l1.4,0.2 1.8,1 -11.9,-1.1 -2.2,-0.9zM487.4,375.1l1.8,-2 -0.1,-2.1 0.5,-2.3 -2.2,2.1 -0.3,2.2z" fill="#454ff6" stroke="#454ff6"/><path d="M424.1,389.1l1.7,1 -12.3,-1 -2.1,-0.9zM489.2,373.1l1.7,-1.9 0.1,-2.2 0.6,-2.3 -2,2 -0.5,2.3z" fill="#4254fa" stroke="#4254fa"/><path d="M421,387.9l1.5,0.1 1.6,1.1 -12.7,-0.9 -1.9,-1zM490.9,371.2l1.6,-1.9 0.2,-2.3 0.9,-2.3 -2,2 -0.6,2.3z" fill="#3d5afd" stroke="#3d5afd"/><path d="M419.4,386.8l1.5,0.2 1.6,1 -13,-0.8 -1.9,-1zM492.5,369.3l1.6,-2 0.3,-2.2 1,-2.4 -2,2.2 -0.7,2.1z" fill="#385fff" stroke="#385fff"/><path d="M417.8,385.8l1.6,0.1 1.5,1.1 -13.3,-0.8 -1.8,-1zM494.1,367.3l1.5,-1.8 0.5,-2.4 1.1,-2.4 -1.8,2 -0.3,0.7 -0.7,1.9z" fill="#2f65ff" stroke="#2f65ff"/><path d="M418,384.8l1.4,1.1 -13.6,-0.7 -1.7,-1zM495.6,365.5l1.4,-1.9 0.6,-2.3 1.4,-2.5 -1.8,1.9 -0.6,1.2 -0.7,1.9z" fill="#1b6bff" stroke="#1b6bff"/><path d="M415,383.6l1.6,0.1 1.4,1.1 -13.9,-0.6 -1.7,-1zM497,363.6l1.4,-1.9 0.8,-2.4 1.4,-2.5 -1.6,2 -0.8,1.2 -0.8,1.9z" fill="#0071ff" stroke="#0071ff"/><path d="M413.6,382.5l1.6,0.1 1.4,1.1 -14.2,-0.5 -1.6,-1.1zM498.4,361.7l1.4,-1.8 0.8,-2.4 1.6,-2.6 -2.4,3.2 -0.9,1.9z" fill="#0077ff" stroke="#0077ff"/><path d="M413.9,381.4l1.3,1.2 -14.4,-0.5 -1.6,-1.1zM499.8,359.9l1.3,-1.8 1.3,-3.1 1.4,-2 -2.6,3.5 -0.9,1.6z" fill="#007dff" stroke="#007dff"/><path d="M411,380.2l1.7,0.1 1.2,1.1 -14.7,-0.4 -1.5,-1zM501.1,358.1l1.2,-1.9 1.5,-3 1.5,-2.1 -2.8,3.8 -0.8,1.4z" fill="#0083fd" stroke="#0083fd"/><path d="M409.7,379l1.7,0.1 1.3,1.2 -15,-0.3 -1.5,-1.1zM502.3,356.2l1.3,-1.8 1.4,-2.9 1.8,-2.3 -3,3.9z" fill="#0088f9" stroke="#0088f9"/><path d="M408.5,377.9l1.7,0.1 1.2,1.1 -15.2,-0.2 -1.4,-1.1zM503.6,354.4l1.2,-1.8 1.4,-2.7 2,-2.5 -3.2,4.1z" fill="#008df5" stroke="#008df5"/><path d="M407.3,376.7l1.8,0.1 1.1,1.2 -7.2,-0.3 -8.2,0.1 -1.4,-1.1zM504.8,352.6l2.5,-4.3 2.3,-2.8 -3.4,4.4z" fill="#0092f1" stroke="#0092f1"/><path d="M406.1,375.5l1.8,0.1 1.2,1.2 -7.4,-0.2 -8.3,0.1 -1.4,-1.2zM505.9,350.8l2.7,-4.3 2.4,-2.9 -3.6,4.6z" fill="#0097ed" stroke="#0097ed"/><path d="M405,374.4l1.8,0 1.1,1.2 -7.5,-0.1 -8.4,0 -1.3,-1.1zM507.1,349l2.6,-4.3 2.6,-2.9 -3.7,4.7z" fill="#009cea" stroke="#009cea"/><path d="M403.9,373.2l1.8,0 1.1,1.2 -7.6,-0.1 -8.5,0.1 -0.3,-0.3 0.5,-0.9zM508.2,347.2l2.6,-4.2 2.8,-3 -1.3,1.8 -2.5,2.8z" fill="#00a1e7" stroke="#00a1e7"/><path d="M402.8,372l1.9,0 1,1.2 -14.8,0 0.6,-1.2zM509.3,345.5l2.7,-4.2 2.9,-3.2 -1.3,1.9 -2.8,3z" fill="#00a5e4" stroke="#00a5e4"/><path d="M401.7,370.8l1.9,0 1.1,1.2 -13.2,0 0.6,-1.2zM510.3,343.7l2.3,-3.6 2.9,-3.2 -0.6,1.2 -2.8,3z" fill="#00aae1" stroke="#00aae1"/><path d="M400.7,369.6l1.9,0 1,1.2 -11.5,0 0.6,-1.2zM511.4,341.9l1.9,-3 2.8,-3.2 -0.6,1.2 -2.5,2.7z" fill="#00aedc" stroke="#00aedc"/><path d="M399.6,368.4l2,0 1,1.2 -9.9,0 0.6,-1.2zM512.4,340.2l1.9,-3 2.4,-2.7 -0.6,1.2 -2,2.1z" fill="#00b1d7" stroke="#00b1d7"/><path d="M398.6,367.2l2,0 1,1.2 -8.3,0 0.6,-1.2zM513.4,338.4l1.5,-2.5 2.3,-2.7 -0.5,1.3 -1.8,1.9z" fill="#00b5d1" stroke="#00b5d1"/><path d="M397.6,365.9l2,0.1 1,1.2 -6.7,0 0.5,-1.2zM514.4,336.7l1.1,-2 2.3,-2.7 -0.6,1.2z" fill="#00b8ca" stroke="#00b8ca"/><path d="M396.7,364.7l2,0 0.9,1.3 -5.2,0 0.6,-1.3zM515.4,334.9l0.9,-1.7 2,-2.4 -0.5,1.2z" fill="#00bbc4" stroke="#00bbc4"/><path d="M395.7,363.5l2,0 1,1.2 -3.7,0zM516.3,333.2l1,-1.8 1.6,-1.9 -0.6,1.3z" fill="#00bdbc" stroke="#00bdbc"/><path d="M396.8,362.3l0.9,1.2 -2.1,0 0.5,-1.2zM517.3,331.4l0.9,-1.7 1.2,-1.4 -0.5,1.2z" fill="#00bfb5" stroke="#00bfb5"/><path d="M396.4,361.7l0.4,0.6 -0.7,0zM518.2,329.7l0.9,-1.7 0.8,-1 -0.5,1.3z" fill="#00c1ae" stroke="#00c1ae"/><path d="M519.1,328l1.3,-2.2 -0.5,1.2z" fill="#00c3a6" stroke="#00c3a6"/><path d="M520,326.3l0.9,-1.8 -0.5,1.3z" fill="#00c69e" stroke="#00c69e"/><path d="M520.9,324.5z" fill="#00c895" stroke="#00c895"/><path d="M454.5,398.6l4.9,-0.1 4.2,-0.9 4.1,-1.4 4.8,-2.4 -4.5,-3.1 -5.2,2.5 -5.2,1.7 -5.2,1.1 -5.4,0.3z" fill="#4528b2" stroke="#4528b2"/><path d="M450.7,398.1l3.8,0.5 -7.5,-2.3 -4.4,-0.3zM472.5,393.8l3.7,-2.5 -3.8,-3.3 -4.4,2.7z" fill="#472cbd" stroke="#472cbd"/><path d="M447.8,397.4l-5.2,-1.4 -3.4,-0.6zM476.2,391.3l2.9,-2.3 -3.3,-3.4 -3.4,2.4z" fill="#4830c8" stroke="#4830c8"/><path d="M445.4,396.6l2.4,0.8 -11.4,-2.7zM479.1,389l2.5,-2.1 -3,-3.5 -2.8,2.2z" fill="#4934d3" stroke="#4934d3"/><path d="M443.2,395.7l2.2,0.9 -9,-1.9 -2.5,-0.8zM481.6,386.9l2.1,-2.1 -1.4,-1.7 -1.2,-1.9 -2.5,2.2z" fill="#4a39dd" stroke="#4a39dd"/><path d="M441.3,394.7l1.9,1 -9.3,-1.8 -2.3,-0.9zM483.7,384.8l1.9,-2 -1.2,-1.8 -1,-1.9 -2.3,2.1 1.2,1.9z" fill="#4a3ee5" stroke="#4a3ee5"/><path d="M439.5,393.7l1.8,1 -9.7,-1.7 -2.1,-0.9zM485.6,382.8l1.8,-1.9 -1.1,-1.9 -0.9,-1.9 -2,2 1,1.9z" fill="#4944ec" stroke="#4944ec"/><path d="M436.7,392.5l1.2,0.2 1.6,1 -10,-1.6 -1.9,-1zM487.4,380.9l1.7,-1.9 -1,-1.9 -0.7,-2 -2,2 0.9,1.9z" fill="#4749f1" stroke="#4749f1"/><path d="M436.3,391.6l1.6,1.1 -10.3,-1.6 -1.8,-1zM489.1,379l1.5,-2 -0.9,-1.9 -0.5,-2 -1.8,2 0.7,2z" fill="#454ff6" stroke="#454ff6"/><path d="M433.6,390.3l1.2,0.2 1.5,1.1 -10.5,-1.5 -1.7,-1zM490.6,377l1.5,-1.8 -0.8,-2 -0.4,-2 -1.7,1.9 0.5,2z" fill="#4254fa" stroke="#4254fa"/><path d="M433.4,389.4l1.4,1.1 -10.7,-1.4 -1.6,-1.1zM492.1,375.2l1.4,-1.9 -0.7,-2 -0.3,-2 -1.6,1.9 0.4,2z" fill="#3d5afd" stroke="#3d5afd"/><path d="M432.1,388.3l1.3,1.1 -10.9,-1.4 -1.6,-1zM493.5,373.3l1.3,-1.8 -0.5,-2 -0.2,-2.2 -1.6,2 0.3,2z" fill="#385fff" stroke="#385fff"/><path d="M429.5,387l1.3,0.1 1.3,1.2 -11.2,-1.3 -1.5,-1.1zM494.8,371.5l1.3,-1.9 -0.5,-2 0,-2.1 -1.5,1.8 0.2,2.2z" fill="#2f65ff" stroke="#2f65ff"/><path d="M428.2,385.8l1.4,0.2 1.2,1.1 -11.4,-1.2 -1.4,-1.1zM496.1,369.6l1.3,-1.8 -0.4,-2 0,-2.2 -1.4,1.9 0,2.1z" fill="#1b6bff" stroke="#1b6bff"/><path d="M427,384.7l1.4,0.1 1.2,1.2 -11.6,-1.2 -1.4,-1.1zM497.4,367.8l1.1,-1.8 -0.2,-2.1 0.1,-2.2 -1.4,1.9 0,2.2z" fill="#0071ff" stroke="#0071ff"/><path d="M425.8,383.5l1.4,0.2 1.2,1.1 -11.8,-1.1 -1.4,-1.1zM498.5,366l1.2,-1.8 -0.2,-2.1 0.3,-2.2 -1.4,1.8 -0.1,2.2z" fill="#0077ff" stroke="#0077ff"/><path d="M426.1,382.5l1.1,1.2 -12,-1.1 -1.3,-1.2zM499.7,364.2l1.1,-1.8 -0.1,-2.1 0.4,-2.2 -1.3,1.8 -0.3,2.2z" fill="#007dff" stroke="#007dff"/><path d="M425,381.3l1.1,1.2 -12.2,-1.1 -1.2,-1.1zM500.8,362.4l1.1,-1.7 0,-2.2 0.4,-2.3 -1.2,1.9 -0.2,0.5 -0.2,1.7z" fill="#0083fd" stroke="#0083fd"/><path d="M424,380.1l1,1.2 -12.3,-1 -1.3,-1.2zM501.9,360.7l1,-1.8 0.1,-2.3 0.6,-2.2 -1.3,1.8 -0.1,0.6 -0.3,1.7z" fill="#0088f9" stroke="#0088f9"/><path d="M423,378.9l1,1.2 -12.6,-1 -1.2,-1.1zM502.9,358.9l1.1,-1.8 0.1,-2.2 0.7,-2.3 -1.2,1.8 -0.2,0.6 -0.4,1.7z" fill="#008df5" stroke="#008df5"/><path d="M422,377.6l1,1.3 -12.8,-0.9 -1.1,-1.2zM504,357.1l1,-1.7 0.2,-2.2 0.7,-2.4 -1.1,1.8 -0.4,0.9 -0.4,2z" fill="#0092f1" stroke="#0092f1"/><path d="M421,376.4l1,1.2 -12.9,-0.8 -1.2,-1.2zM505,355.4l1,-1.8 0.2,-2.2 0.9,-2.4 -1.2,1.8 -0.4,1 -0.4,1.9z" fill="#0097ed" stroke="#0097ed"/><path d="M418.5,375.1l1.5,0.1 1,1.2 -13.1,-0.8 -1.1,-1.2zM506,353.6l0.9,-1.7 0.4,-2.3 0.9,-2.4 -1.1,1.8 -0.5,1.2 -0.5,1.8z" fill="#009cea" stroke="#009cea"/><path d="M417.5,373.8l1.6,0.2 0.9,1.2 -13.2,-0.8 -1.1,-1.2zM506.9,351.9l0.9,-1.7 0.5,-2.3 1,-2.4 -1.7,3 -0.5,1.7z" fill="#00a1e7" stroke="#00a1e7"/><path d="M416.6,372.6l1.6,0.1 0.9,1.3 -13.4,-0.8 -1,-1.2zM507.8,350.2l1,-1.8 0.5,-2.3 1,-2.4 -1.6,3 -0.6,1.8z" fill="#00a5e4" stroke="#00a5e4"/><path d="M415.7,371.4l1.6,0.1 0.9,1.2 -13.5,-0.7 -1.1,-1.2zM508.8,348.4l0.9,-1.7 0.6,-2.4 1.1,-2.4 -1.9,3.5z" fill="#00aae1" stroke="#00aae1"/><path d="M414.8,370.1l1.6,0.1 0.9,1.3 -13.7,-0.7 -1,-1.2zM509.7,346.7l0.8,-1.7 0.9,-2.9 1,-1.9 -1.9,3.5z" fill="#00aedc" stroke="#00aedc"/><path d="M413.9,368.9l1.6,0.1 0.9,1.2 -13.8,-0.6 -1,-1.2zM510.5,345l0.9,-1.7 0.8,-2.6 1.2,-2.3 -2,3.7z" fill="#00b1d7" stroke="#00b1d7"/><path d="M414.7,367.7l0.8,1.3 -13.9,-0.6 -1,-1.2zM511.4,343.3l0.8,-1.7 0.9,-2.7 1.3,-2.2 -2,3.6z" fill="#00b5d1" stroke="#00b5d1"/><path d="M412.2,366.4l1.7,0.1 0.8,1.2 -14.1,-0.5 -1,-1.2zM512.2,341.6l0.9,-1.7 0.8,-2.4 1.5,-2.6 -2.3,4z" fill="#00b8ca" stroke="#00b8ca"/><path d="M411.4,365.1l1.6,0.1 0.9,1.3 -14.3,-0.5 -0.9,-1.3zM513.1,339.9l1.7,-4.1 1.5,-2.6 -2.2,3.9z" fill="#00bbc4" stroke="#00bbc4"/><path d="M410.6,363.8l1.6,0.1 0.8,1.3 -14.3,-0.5 -1,-1.2zM513.9,338.2l1.8,-4.2 1.6,-2.6 -2.3,3.9z" fill="#00bdbc" stroke="#00bdbc"/><path d="M409.7,362.6l1.7,0.1 0.8,1.2 -14.5,-0.4 -0.9,-1.2zM514.7,336.5l1.8,-4.2 1.7,-2.6 -2.5,4.3z" fill="#00bfb5" stroke="#00bfb5"/><path d="M408.9,361.3l1.8,0.1 0.7,1.3 -14.6,-0.4 -0.4,-0.6 0.2,-0.7zM515.5,334.8l1.9,-4.2 1.7,-2.6 -2.5,4.3z" fill="#00c1ae" stroke="#00c1ae"/><path d="M408.2,360l1.7,0.1 0.8,1.3 -14.1,-0.4 0.6,-1.2zM516.3,333.1l1.7,-3.9 2,-2.9 -0.9,1.7 -1.7,2.6z" fill="#00c3a6" stroke="#00c3a6"/><path d="M407.4,358.7l1.7,0.1 0.8,1.3 -12.7,-0.3 0.5,-1.3zM517.1,331.4l1.8,-4 2,-2.9 -0.9,1.8 -1.8,2.6z" fill="#00c69e" stroke="#00c69e"/><path d="M406.6,357.5l1.8,0 0.7,1.3 -11.4,-0.3 0.5,-1.2zM517.8,329.7l1.7,-3.6 1.9,-2.8 -0.5,1.2 -1.9,2.7z" fill="#00c895" stroke="#00c895"/><path d="M405.9,356.2l1.7,0.1 0.8,1.2 -10.2,-0.2 0.5,-1.3zM518.6,328l1.6,-3.6 1.7,-2.4 -0.5,1.3 -1.6,2.2z" fill="#00ca8c" stroke="#00ca8c"/><path d="M405.1,354.9l1.8,0.1 0.7,1.3 -8.9,-0.3 0.5,-1.2zM519.3,326.3l1.3,-2.9 1.8,-2.7 -0.5,1.3 -1.6,2.3z" fill="#00cb81" stroke="#00cb81"/><path d="M404.4,353.6l1.8,0.1 0.7,1.3 -7.7,-0.2 0.5,-1.3zM520,324.6l1.3,-2.8 1.5,-2.3 -0.4,1.2 -1.4,2.1z" fill="#00cc76" stroke="#00cc76"/><path d="M403.7,352.3l1.8,0.1 0.7,1.3 -6.5,-0.2 0.5,-1.3zM520.8,323l1,-2.5 1.5,-2.3 -0.5,1.3z" fill="#00cd6a" stroke="#00cd6a"/><path d="M403,351l1.8,0.1 0.7,1.3 -5.3,-0.2 0.5,-1.2zM521.5,321.3l1,-2.3 1.3,-2.1 -0.5,1.3z" fill="#00cd5e" stroke="#00cd5e"/><path d="M402.2,349.7l1.9,0.1 0.7,1.3 -4.1,-0.1 0.4,-1.3zM522.2,319.6l0.7,-1.7 1.3,-2.2 -0.4,1.2z" fill="#3ecc51" stroke="#3ecc51"/><path d="M401.6,348.5l1.8,0 0.7,1.3 -3,-0.1zM522.9,317.9l0.7,-1.6 1.1,-1.9 -0.5,1.3z" fill="#67cb44" stroke="#67cb44"/><path d="M402.7,347.2l0.7,1.3 -1.8,-0.1 0.5,-1.2zM523.6,316.3l0.6,-1.7 0.9,-1.5 -0.4,1.3z" fill="#82c936" stroke="#82c936"/><path d="M402.3,346.5l0.4,0.7 -0.6,0zM524.2,314.6l1.4,-2.8 -0.5,1.3z" fill="#9ac727" stroke="#9ac727"/><path d="M524.9,312.9l1.1,-2.4 -0.4,1.3z" fill="#afc517" stroke="#afc517"/><path d="M525.6,311.3l0.9,-2.1z" fill="#c2c205" stroke="#c2c205"/><path d="M526.2,309.6l0.7,-1.6z" fill="#d3c000" stroke="#d3c000"/><path d="M526.9,308l0,-0.1 0,0.1z" fill="#e3bd00" stroke="#e3bd00"/><path d="M461.6,401l3.8,0.1 4.1,-0.7 4.2,-1.6 3.6,-2 -4.8,-3 -4.8,2.4 -4.1,1.4 -4.2,0.9 -4.9,0.1z" fill="#4528b2" stroke="#4528b2"/><path d="M457.3,400.1l4.3,0.9 -7.1,-2.4 -3.8,-0.5zM477.3,396.8l3.3,-2.3 -4.4,-3.2 -3.7,2.5z" fill="#472cbd" stroke="#472cbd"/><path d="M455.8,399.6l-8,-2.2zM480.6,394.5l2.5,-2.2 -4,-3.3 -2.9,2.3z" fill="#4830c8" stroke="#4830c8"/><path d="M453.6,398.7l2.2,0.9 -10.4,-3zM483.1,392.3l2.2,-2.1 -3.7,-3.3 -2.5,2.1z" fill="#4934d3" stroke="#4934d3"/><path d="M451.7,397.7l1.9,1 -8.2,-2.1 -2.2,-0.9zM485.3,390.2l1.8,-2 -3.4,-3.4 -2.1,2.1z" fill="#4a39dd" stroke="#4a39dd"/><path d="M449,396.4l1.1,0.3 1.6,1 -8.5,-2 -1.9,-1zM487.1,388.2l1.7,-1.9 -3.2,-3.5 -1.9,2z" fill="#4a3ee5" stroke="#4a3ee5"/><path d="M448.5,395.6l1.6,1.1 -8.8,-2 -1.8,-1zM488.8,386.3l1.6,-1.9 -3,-3.5 -1.8,1.9z" fill="#4944ec" stroke="#4944ec"/><path d="M445.9,394.3l1.1,0.2 1.5,1.1 -9,-1.9 -1.6,-1zM490.4,384.4l1.4,-1.9 -2.7,-3.5 -1.7,1.9z" fill="#4749f1" stroke="#4749f1"/><path d="M444.6,393.2l1.1,0.2 1.3,1.1 -9.1,-1.8 -1.6,-1.1zM491.8,382.5l1.4,-1.8 -2.6,-3.7 -1.5,2z" fill="#454ff6" stroke="#454ff6"/><path d="M444.4,392.3l1.3,1.1 -9.4,-1.8 -1.5,-1.1zM493.2,380.7l1.3,-1.8 -1.3,-1.9 -1.1,-1.8 -1.5,1.8z" fill="#4254fa" stroke="#4254fa"/><path d="M443.2,391.1l1.2,1.2 -9.6,-1.8 -1.4,-1.1zM494.5,378.9l1.2,-1.9 -1.2,-1.8 -1,-1.9 -1.4,1.9 1.1,1.8z" fill="#3d5afd" stroke="#3d5afd"/><path d="M442,390l1.2,1.1 -9.8,-1.7 -1.3,-1.1zM495.7,377l1.2,-1.8 -1.2,-1.8 -0.9,-1.9 -1.3,1.8 1,1.9z" fill="#385fff" stroke="#385fff"/><path d="M439.7,388.6l1.2,0.2 1.1,1.2 -9.9,-1.7 -1.3,-1.2zM496.9,375.2l1.1,-1.7 -1.1,-1.9 -0.8,-2 -1.3,1.9 0.9,1.9z" fill="#2f65ff" stroke="#2f65ff"/><path d="M438.6,387.4l1.2,0.2 1.1,1.2 -10.1,-1.7 -1.2,-1.1zM498,373.5l1.1,-1.8 -1,-1.9 -0.7,-2 -1.3,1.8 0.8,2z" fill="#1b6bff" stroke="#1b6bff"/><path d="M437.5,386.2l1.3,0.2 1,1.2 -10.2,-1.6 -1.2,-1.2zM499.1,371.7l1,-1.8 -0.9,-1.9 -0.7,-2 -1.1,1.8 0.7,2z" fill="#0071ff" stroke="#0071ff"/><path d="M436.5,385l1.3,0.2 1,1.2 -10.4,-1.6 -1.2,-1.1zM500.1,369.9l1,-1.7 -0.8,-2 -0.6,-2 -1.2,1.8 0.7,2z" fill="#0077ff" stroke="#0077ff"/><path d="M435.5,383.7l1.3,0.2 1,1.3 -10.6,-1.5 -1.1,-1.2zM501.1,368.2l1,-1.8 -0.8,-1.9 -0.5,-2.1 -1.1,1.8 0.6,2z" fill="#007dff" stroke="#007dff"/><path d="M435.8,382.7l1,1.2 -10.7,-1.4 -1.1,-1.2zM502.1,366.4l1,-1.7 -0.8,-2 -0.4,-2 -1.1,1.7 0.5,2.1z" fill="#0083fd" stroke="#0083fd"/><path d="M434.9,381.5l0.9,1.2 -10.8,-1.4 -1,-1.2zM503.1,364.7l0.9,-1.8 -0.7,-1.9 -0.4,-2.1 -1,1.8 0.4,2z" fill="#0088f9" stroke="#0088f9"/><path d="M434,380.2l0.9,1.3 -10.9,-1.4 -1,-1.2zM504,362.9l0.9,-1.7 -0.6,-2 -0.3,-2.1 -1.1,1.8 0.4,2.1z" fill="#008df5" stroke="#008df5"/><path d="M433.1,379l0.9,1.2 -11,-1.3 -1,-1.3zM504.9,361.2l0.9,-1.7 -0.6,-2 -0.2,-2.1 -1,1.7 0.3,2.1z" fill="#0092f1" stroke="#0092f1"/><path d="M430.9,377.5l1.4,0.2 0.8,1.3 -11.1,-1.4 -1,-1.2zM505.8,359.5l0.8,-1.7 -0.5,-2 -0.1,-2.2 -1,1.8 0.2,2.1z" fill="#0097ed" stroke="#0097ed"/><path d="M430.1,376.3l1.3,0.2 0.9,1.2 -11.3,-1.3 -1,-1.2zM506.6,357.8l0.8,-1.7 -0.4,-2.1 -0.1,-2.1 -0.9,1.7 0.1,2.2z" fill="#009cea" stroke="#009cea"/><path d="M429.3,375l1.3,0.2 0.8,1.3 -11.4,-1.3 -0.9,-1.2zM507.4,356.1l0.9,-1.7 -0.4,-2.1 -0.1,-2.1 -0.9,1.7 0.1,2.1z" fill="#00a1e7" stroke="#00a1e7"/><path d="M429.8,373.9l0.8,1.3 -11.5,-1.2 -0.9,-1.3zM508.3,354.4l0.8,-1.7 -0.4,-2.1 0.1,-2.2 -1,1.8 0.1,2.1z" fill="#00a5e4" stroke="#00a5e4"/><path d="M429,372.6l0.8,1.3 -11.6,-1.2 -0.9,-1.2zM509.1,352.7l0.8,-1.7 -0.3,-2.1 0.1,-2.2 -0.9,1.7 -0.1,2.2z" fill="#00aae1" stroke="#00aae1"/><path d="M426.9,371.2l1.4,0.2 0.7,1.2 -11.7,-1.1 -0.9,-1.3zM509.9,351l0.7,-1.7 -0.2,-2.1 0.1,-2.2 -0.9,2 0,1.9z" fill="#00aedc" stroke="#00aedc"/><path d="M426.1,369.9l1.4,0.2 0.8,1.3 -11.9,-1.2 -0.9,-1.2zM510.6,349.3l0.8,-1.7 -0.2,-2.1 0.2,-2.2 -0.9,1.7 0,0.6 -0.1,1.8z" fill="#00b1d7" stroke="#00b1d7"/><path d="M426.8,368.8l0.7,1.3 -12,-1.1 -0.8,-1.3zM511.4,347.6l0.7,-1.7 -0.1,-2.1 0.2,-2.2 -0.8,1.7 -0.1,0.5 -0.1,2.2z" fill="#00b5d1" stroke="#00b5d1"/><path d="M424.6,367.4l1.4,0.1 0.8,1.3 -12.1,-1.1 -0.8,-1.2zM512.1,345.9l0.8,-1.7 -0.1,-2.1 0.3,-2.2 -0.9,1.7 -0.1,0.6 -0.1,1.6z" fill="#00b8ca" stroke="#00b8ca"/><path d="M423.9,366.1l1.4,0.1 0.7,1.3 -12.1,-1 -0.9,-1.3zM512.9,344.2l0.7,-1.6 -0.1,-2.2 0.4,-2.2 -0.9,2.2 -0.2,1.7z" fill="#00bbc4" stroke="#00bbc4"/><path d="M424.6,364.9l0.7,1.3 -12.3,-1 -0.8,-1.3zM513.6,342.6l0.7,-1.7 0,-2.2 0.4,-2.2 -0.8,1.7 -0.2,1 -0.2,1.8z" fill="#00bdbc" stroke="#00bdbc"/><path d="M422.4,363.5l1.5,0.1 0.7,1.3 -12.4,-1 -0.8,-1.2zM514.3,340.9l0.7,-1.7 0,-2.2 0.5,-2.2 -0.8,1.7 -0.3,1.1z" fill="#00bfb5" stroke="#00bfb5"/><path d="M421.8,362.2l1.4,0.1 0.7,1.3 -12.5,-0.9 -0.7,-1.3zM515,339.2l0.7,-1.6 0.1,-2.2 0.5,-2.3 -0.8,1.7 -0.3,1.1z" fill="#00c1ae" stroke="#00c1ae"/><path d="M422.6,361l0.6,1.3 -12.5,-0.9 -0.8,-1.3zM515.7,337.6l0.6,-1.7 0.2,-2.2 0.6,-2.3 -1.1,2.9z" fill="#00c3a6" stroke="#00c3a6"/><path d="M420.4,359.6l1.5,0.1 0.7,1.3 -12.7,-0.9 -0.8,-1.3zM516.3,335.9l0.7,-1.7 0.2,-2.2 0.6,-2.3 -1.1,2.8z" fill="#00c69e" stroke="#00c69e"/><path d="M419.7,358.3l1.5,0.1 0.7,1.3 -12.8,-0.9 -0.7,-1.3zM517,334.2l0.7,-1.6 0.2,-2.3 0.7,-2.3 -1.2,3.2z" fill="#00c895" stroke="#00c895"/><path d="M420.6,357.1l0.6,1.3 -12.8,-0.9 -0.8,-1.2zM517.7,332.6l0.6,-1.7 0.3,-2.2 0.7,-2.4 -1.2,3z" fill="#00ca8c" stroke="#00ca8c"/><path d="M418.4,355.7l1.5,0.1 0.7,1.3 -13,-0.8 -0.7,-1.3zM518.3,330.9l0.6,-1.6 0.4,-2.3 0.7,-2.4 -1.3,3.5z" fill="#00cb81" stroke="#00cb81"/><path d="M417.8,354.3l1.5,0.2 0.6,1.3 -13,-0.8 -0.7,-1.3zM518.9,329.3l0.7,-1.7 0.4,-2.6 0.8,-2 -1.4,3.4z" fill="#00cc76" stroke="#00cc76"/><path d="M417.1,353l1.6,0.2 0.6,1.3 -13.1,-0.8 -0.7,-1.3zM519.6,327.6l0.6,-1.7 0.6,-2.8 0.7,-1.8 -1.4,3.5z" fill="#00cd6a" stroke="#00cd6a"/><path d="M416.5,351.7l1.6,0.1 0.6,1.4 -13.2,-0.8 -0.7,-1.3zM520.2,325.9l0.6,-1.6 0.5,-2.5 0.9,-2.2 -1.4,3.5z" fill="#00cd5e" stroke="#00cd5e"/><path d="M417.5,350.5l0.6,1.3 -13.3,-0.7 -0.7,-1.3zM520.8,324.3l0.6,-1.7 0.6,-2.7 0.9,-2 -1.5,3.5z" fill="#3ecc51" stroke="#3ecc51"/><path d="M415.3,349.1l1.6,0.1 0.6,1.3 -13.4,-0.7 -0.7,-1.3zM521.4,322.6l0.6,-1.6 0.6,-2.3 1,-2.4 -1.6,3.6z" fill="#67cb44" stroke="#67cb44"/><path d="M414.7,347.8l1.6,0.1 0.6,1.3 -13.5,-0.7 -0.7,-1.3zM522,321l1.2,-3.9 1,-2.5 -1.5,3.5z" fill="#82c936" stroke="#82c936"/><path d="M414.1,346.4l1.6,0.1 0.6,1.4 -13.6,-0.7 -0.4,-0.7 0.2,-0.6zM522.6,319.4l1.2,-4 1.1,-2.5 -1.6,3.9z" fill="#9ac727" stroke="#9ac727"/><path d="M413.5,345.1l1.6,0.1 0.6,1.3 -13.2,-0.6 0.5,-1.3zM523.2,317.7l1.2,-4 1.2,-2.4 -1.8,4.1z" fill="#afc517" stroke="#afc517"/><path d="M412.9,343.8l1.6,0.1 0.6,1.3 -12.1,-0.6 0.4,-1.3zM523.8,316.1l1.2,-4 1.2,-2.5 -1.7,4z" fill="#c2c205" stroke="#c2c205"/><path d="M412.3,342.4l1.7,0.2 0.5,1.3 -11.1,-0.6 0.5,-1.2zM524.4,314.4l1.2,-4 1.3,-2.4 -1.9,4.1z" fill="#d3c000" stroke="#d3c000"/><path d="M413.4,341.2l0.6,1.4 -10.1,-0.5 0.4,-1.3zM524.9,312.8l1.2,-3.7 1.2,-2.4 -0.4,1.3 -1.3,2.4z" fill="#e3bd00" stroke="#e3bd00"/><path d="M411.2,339.8l1.6,0.1 0.6,1.3 -9.1,-0.4 0.5,-1.3zM525.5,311.2l1.1,-3.4 1.1,-2.4 -0.4,1.3 -1.2,2.4z" fill="#f1bb0a" stroke="#f1bb0a"/><path d="M410.6,338.4l1.7,0.1 0.5,1.4 -8,-0.4 0.4,-1.3zM526,309.5l1.2,-3.4 0.9,-2 -1.5,3.7z" fill="#fcba1c" stroke="#fcba1c"/><path d="M410.1,337.1l1.6,0.1 0.6,1.3 -7.1,-0.3 0.4,-1.3zM526.6,307.9l1.1,-3.3 0.9,-1.8z" fill="#ffba2b" stroke="#ffba2b"/><path d="M409.5,335.8l1.7,0.1 0.5,1.3 -6.1,-0.3 0.4,-1.3zM527.1,306.3l1,-3 0.9,-1.8z" fill="#ffbc2d" stroke="#ffbc2d"/><path d="M409,334.4l1.7,0.1 0.5,1.4 -5.2,-0.3 0.5,-1.3zM527.7,304.6l1.7,-4.4z" fill="#ffc127" stroke="#ffc127"/><path d="M408.4,333.1l1.7,0.1 0.6,1.3 -4.2,-0.2 0.4,-1.3zM528.2,303l1.6,-4.1z" fill="#ffc71d" stroke="#ffc71d"/><path d="M407.9,331.8l1.7,0 0.5,1.4 -3.2,-0.2 0.4,-1.3zM528.8,301.4l1.4,-3.8z" fill="#ffcd09" stroke="#ffcd09"/><path d="M409.1,330.5l0.5,1.3 -2.3,-0.1 0.4,-1.3zM529.3,299.8l1.3,-3.5z" fill="#ffd300" stroke="#ffd300"/><path d="M408.6,329.2l0.5,1.3 -1.4,-0.1 0.4,-1.3zM529.8,298.1l1.2,-3.1z" fill="#ffda00" stroke="#ffda00"/><path d="M408.3,328.5l0.3,0.7 -0.5,-0.1zM530.3,296.5l1,-2.8z" fill="#fde000" stroke="#fde000"/><path d="M530.8,294.9l0.9,-2.6z" fill="#fae600" stroke="#fae600"/><path d="M531.3,293.3l0.8,-2.3z" fill="#f9ec00" stroke="#f9ec00"/><path d="M531.9,291.6l0.6,-1.9z" fill="#f8f200" stroke="#f8f200"/><path d="M532.4,290l0.5,-1.6 -0.4,1.3z" fill="#f8f800" stroke="#f8f800"/></g>
<g font-family="Liberation Serif, serif" font-size="6.9" fill="#1a1a1a" stroke="#1a1a1a" stroke-width="0.18">
<text x="412.6" y="426.3">-5</text>
<text x="474.9" y="409.6">0</text>
<text x="537.2" y="392.9">5</text>
<text x="402.7" y="425.5" text-anchor="end">-5</text>
<text x="354.9" y="403.7" text-anchor="end">0</text>
<text x="307.1" y="382" text-anchor="end">5</text>
<text x="307.6" y="356.1" text-anchor="end">1</text>
<text x="307.6" y="338.2" text-anchor="end">2</text>
<text x="307.6" y="320.3" text-anchor="end">3</text>
<text x="307.6" y="302.3" text-anchor="end">4</text>
<text x="307.6" y="284.4" text-anchor="end">5</text>
<path d="M532.9,383.4L408.3,416.8L312.7,373.3L312.7,278.3M408.3,416.8l2,0.9M470.6,400.1l2,0.9M532.9,383.4l2,0.9M408.3,416.8l-2.1,0.6M360.5,395l-2.1,0.6M312.7,373.3l-2.1,0.6M312.7,354.4h-2.5M312.7,336.5h-2.5M312.7,318.6h-2.5M312.7,300.6h-2.5M312.7,282.7h-2.5" fill="none" stroke="#646464" stroke-width="0.75"/>
<text x="421.9" y="242.9" text-anchor="middle" font-size="7.3">F15</text>
<text x="296.2" y="269.7" font-size="6.9">×10<tspan dy="-2.7" font-size="4.8">5</tspan></text>
<text x="458.6" y="426.8" text-anchor="middle" font-size="7.6">x<tspan dy="2" font-size="5.4">1</tspan></text>
<text x="363.5" y="423.8" text-anchor="middle" font-size="7.6">x<tspan dy="2" font-size="5.4">2</tspan></text>
<text transform="translate(297.5,325.8) rotate(-90)" text-anchor="middle" font-size="7.4">F15( x<tspan dy="2" font-size="5.4">1</tspan><tspan dy="-2" font-size="7.4"> , x</tspan><tspan dy="2" font-size="5.4">2</tspan><tspan dy="-2" font-size="7.4"> )</tspan></text>
</g>
<g fill="none" stroke-width="0.55"><path d="M476.3,599.2L472.9,599.4L470.3,599.2L467,598.2L465.4,596.9L466.4,595.6L470.2,595.2L473.4,595.8L476.5,597L477.4,598.1L476.3,599.2L476.3,599.2M376,619.3L373.5,619.1L370,618L368.2,616.6L369.1,615.4L370.7,615.1L374.8,615.3L377.6,615.9L380,617.3L380,618.4L376,619.3L376,619.3" stroke="#4528b1"/><path d="M488.2,606.4L484.8,606.6L481.6,606.7L478.9,606.6L474.7,606.5L472.2,606.3L468.6,606L464.9,605.6L461.9,605.2L458.8,604.7L455.4,604.1L452.7,603.4L450,602.5L447.4,601.3L445.9,600.4L444.9,599.3L444.2,598.1L444,596.7L444.2,595.4L444.6,594.5L445.5,593.3L446.9,592.1L448.5,591L451,590L453.5,589.3L457.4,588.8L461,588.6L463.6,588.7L467.5,589L470.9,589.5L473.9,590.1L476.6,590.8L479.1,591.5L482.6,592.6L485.7,593.8L488.5,595.2L491,596.6L492.5,597.6L494.4,599.1L495.3,600.2L496,601.5L496.2,602.8L495.9,603.6L494.6,604.8L491.2,606L488.2,606.4M392.6,625L389.8,625.6L386.4,625.8L382.5,625.8L379.9,625.7L376.3,625.2L373.2,624.7L370.3,624.1L366.5,623L364.1,622.3L360.9,621.1L358,619.8L355.4,618.4L353.2,617L351.8,615.9L350.7,614.8L349.9,613.7L349.4,612.4L349.7,611L350.5,610L353.1,608.8L357.4,608.1L360.8,607.9L363.9,607.8L366.7,607.8L370.9,608L373.4,608.2L376.9,608.5L380.6,608.9L383.7,609.3L386.7,609.8L390.2,610.4L392.9,611.1L395.5,612L398.2,613.2L399.6,614.1L400.7,615.2L401.4,616.4L401.6,617.8L401.4,619.1L401,620L400.1,621.2L398.7,622.4L397,623.5L394.5,624.5L392.6,625" stroke="#464cf4"/><path d="M497.4,596.2L499,597.2L501.2,598.7L502.5,599.7L503.9,600.9L505.3,602.4L506.2,603.6L506.8,604.8L507.2,606L507.2,606.9L506.5,608.3L505.1,609.4L502.6,610.3L499.7,610.7L496.4,611L492.6,611.1L488.7,611.1L486,611L482.3,610.9L479.2,610.8L475.8,610.6L472.6,610.5L469,610.3L466.2,610.1L462.2,609.9L459.9,609.7L455.8,609.5L453,609.3L449.6,609.1L446,608.8L443.4,608.6L439.2,608.4L436.7,608.2L433,608L429.7,607.7L426.8,607.5L422.8,607.2L421.9,608.7L421.5,609.7L420.7,610.8L420,612.1L419.5,613L418.6,614.4L417.9,615.5L417.3,616.4L416.3,617.8L415.4,618.9L414.7,619.8L413.5,621.1L412.3,622.3L410.9,623.5L409.4,624.6L407.7,625.6L405.9,626.6L402.6,627.8L398.8,628.7L394.9,629.2L391.7,629.4L388.3,629.4L384.8,629.2L381.1,628.8L378.2,628.4L375,627.9L371.7,627.2L369,626.5L366.4,625.8L362.8,624.7L360.5,623.9M348.1,618.3L346.5,617.3L344.4,615.8L343.1,614.8L341.6,613.5L340.3,612.1L339.4,610.9L338.8,609.7L338.4,608.5L338.4,607.6L339.1,606.2L340.5,605.1L343,604.2L345.9,603.8L349.2,603.5L352.9,603.4L356.9,603.4L359.6,603.4L363.2,603.6L366.4,603.7L369.8,603.9L373,604L376.6,604.2L379.3,604.4L383.4,604.6L385.7,604.8L389.8,605L392.6,605.2L396,605.4L399.5,605.7L402.2,605.8L406.3,606.1L408.8,606.3L412.5,606.5L415.8,606.8L418.7,606.9L422.8,607.2L423.6,605.8L424.1,604.8L424.8,603.7L425.6,602.4L426.1,601.5L427,600.1L427.6,599L428.3,598.1L429.3,596.7L430.1,595.6L430.9,594.7L432,593.4L433.3,592.2L434.7,591L436.2,589.9L437.8,588.9L439.7,587.9L442.9,586.7L446.8,585.8L450.6,585.3L453.9,585.1L457.3,585.1L460.8,585.3L464.5,585.7L467.3,586.1L470.5,586.6L473.9,587.3L476.6,588L479.2,588.7L482.8,589.8L485.1,590.6" stroke="#0077ff"/><path d="M517.3,616.5L514.2,616.6L510.4,616.5L507.6,616.3L503.5,616L501.1,615.9L497.4,615.6L494,615.4L491.3,615.2L487.1,614.9L484.8,614.8L480.8,614.5L478,614.4L474.2,614.2L471.4,614.1L467.4,613.9L465.1,613.9L461,613.8L457.5,613.8L454.8,613.9L451.5,614L448,614.2L444.5,614.6L440.3,615.2L436.4,616.2L433.1,617.3L431.1,618.2L428.7,619.5L426.7,620.7L425.1,621.8L423.6,622.9L422,624L420.5,625.1L418.9,626.2L417.2,627.2L415.5,628.2L413.6,629.2L410.3,630.4L406.6,631.4L402.6,632L399,632.3L396.2,632.4L392.7,632.3L389.4,632.1L385.7,631.7L382.7,631.3L379.6,630.8L376.3,630.2L373.1,629.6L372.6,629.4M511.9,602.8L513.6,604.3L514.6,605.4L515.6,606.6L516.6,607.7L517.5,608.9L518.4,610.2L519,611.4L519.5,612.6L519.9,613.7L519.8,615.1L519,616L519,616M333.7,611.7L332,610.2L330.9,609.1L329.9,607.9L329,606.8L328.1,605.6L327.2,604.3L326.5,603.1L326,601.9L325.7,600.8L325.8,599.4L326.6,598.5L326.6,598.5M328.3,598L331.4,597.9L335.2,598L338,598.2L342.1,598.5L344.5,598.6L348.2,598.9L351.5,599.1L354.3,599.3L358.5,599.6L360.8,599.7L364.8,600L367.6,600.1L371.3,600.3L374.1,600.4L378.1,600.5L380.5,600.6L384.6,600.7L388,600.7L390.8,600.6L394.1,600.5L397.6,600.3L401.1,599.9L405.3,599.3L409.2,598.3L412.5,597.2L414.5,596.3L416.9,595L418.9,593.8L420.5,592.7L422,591.6L423.6,590.5L425.1,589.4L426.7,588.3L428.3,587.2L430.1,586.3L432,585.3L435.2,584.1L439,583.1L443,582.5L446.6,582.2L449.4,582.1L452.9,582.2L456.1,582.4L459.9,582.8L462.9,583.2L465.9,583.6L469.3,584.3L472.5,584.9L473,585.1" stroke="#009ee8"/><path d="M501.4,620.7L498.4,620.2L495.3,619.6L491.9,619.1L488.3,618.7L484.9,618.4L482.5,618.2L478.3,617.9L475.7,617.8L471.6,617.7L469.2,617.6L465.4,617.6L461.6,617.7L458.1,617.9L454.7,618.2L451.6,618.6L448.1,619.1L444.6,619.9L441.1,621L438.9,621.8L436,623.1L434,624.1L432.3,625.1L430.6,626.1L428.9,627.2L427.3,628.2L425.3,629.4L423,630.7L421,631.7L419,632.5L415.5,633.7L411.4,634.5L408.3,634.9L404.8,635.1L401.4,635.1L398.8,635L394.8,634.8L391.6,634.5L389,634.2L385.8,633.8L382.6,633.2L379.8,632.7M523.7,608.1L524.1,608.4L524.7,609L525.4,609.5L526.1,610L526.6,610.4L526.8,610.5L527.5,611L528.2,611.5L529,612L529.7,612.5L530.5,612.9M321.9,606.4L321.5,606L320.9,605.5L320.2,605L319.5,604.5L318.9,604.1L318.8,604L318.1,603.5L317.4,603L316.6,602.5L315.9,602L315,601.6M344.2,593.7L347.2,594.3L350.3,594.9L353.7,595.3L357.3,595.8L360.7,596.1L363.1,596.3L367.3,596.6L369.9,596.7L374,596.8L376.4,596.9L380.2,596.9L384,596.8L387.5,596.6L390.9,596.3L394,595.9L397.5,595.4L400.9,594.6L404.5,593.5L406.7,592.7L409.5,591.4L411.5,590.4L413.3,589.4L415,588.4L416.7,587.3L418.3,586.3L420.2,585.1L422.6,583.8L424.6,582.8L426.6,582L430.1,580.8L434.1,580L437.3,579.6L440.8,579.4L444.2,579.4L446.8,579.4L450.8,579.7L454,580L456.6,580.3L459.8,580.7L463,581.3L465.8,581.8" stroke="#00bac4"/><path d="M491.4,623.4L488.4,622.9L485,622.4L481.3,622L478.4,621.8L475.1,621.6L471.9,621.5L468,621.5L464.5,621.7L461,621.9L457.8,622.3L454.9,622.8L450.9,623.6L447.3,624.7L445.1,625.5L442.1,626.8L440.2,627.8L438.5,628.8L436.7,629.8L434.9,631L432.9,632.2L430.8,633.4L429,634.4L427,635.3L423.6,636.5L419.6,637.3L416.5,637.7L413,637.9L409.1,638L406.5,637.9L402.5,637.7L400.1,637.5L396.6,637.1L393.1,636.6L389.8,636.1L386.6,635.6L385.9,635.5M354.1,591.1L357.2,591.6L360.6,592.1L364.3,592.5L367.2,592.7L370.5,592.9L373.7,593L377.6,593L381.1,592.8L384.6,592.6L387.8,592.2L390.7,591.7L394.7,590.9L398.3,589.8L400.5,589L403.5,587.7L405.4,586.7L407.1,585.7L408.8,584.7L410.7,583.5L412.6,582.3L414.8,581.1L416.6,580.1L418.6,579.2L422,578L426,577.2L429.1,576.8L432.6,576.6L436.4,576.5L439.1,576.6L443.1,576.8L445.5,577L449,577.4L452.5,577.9L455.8,578.3L459,578.9L459.7,579" stroke="#00ca87"/><path d="M423.9,641.5L420.8,641.5L416.9,641.3L414,641.1L411,640.8L407.3,640.4L403.8,640L400.9,639.6L397.9,639.2L394.9,638.7L391.7,638.1L391.7,638.1M479.8,626.5L476.4,626.2L473.6,626.1L470.2,626.1L466.6,626.3L463.4,626.6L459.1,627.4L455.4,628.4L452.1,629.6L450.1,630.5L448.2,631.5L446.3,632.8L444.7,633.9L443.2,635L441.9,636L440.4,637.1L440.4,637.1M365.8,588L369.2,588.3L372,588.4L375.4,588.4L378.9,588.2L382.2,587.8L386.4,587.1L390.2,586.1L393.5,584.9L395.4,584L397.4,583L399.3,581.7L400.9,580.6L402.3,579.5L403.7,578.5L405.1,577.4L405.1,577.4M421.7,573L424.7,573L428.6,573.2L431.5,573.4L434.6,573.7L438.3,574.1L441.8,574.5L444.7,574.9L447.7,575.3L450.7,575.8L453.9,576.4L453.9,576.4" stroke="#9ac727"/><path d="M414.7,644L411.7,643.4L408.6,642.9L405.5,642.3L402.4,641.7L399.4,641.2L397.6,640.8M430.8,570.5L433.9,571.1L437,571.6L440.1,572.2L443.2,572.8L446.2,573.3L447.9,573.6" stroke="#ffbb2e"/><path d="M410,645.2L408.7,644.9L408.4,644.9L407.3,644.6L405.9,644.3L404.5,644L404.4,643.9M435.5,569.3L436.9,569.6L437.1,569.6L438.3,569.9L439.7,570.2L441.1,570.5L441.2,570.6" stroke="#fae600"/></g>
<g filter="url(#sb)" stroke-width="0.9" stroke-linejoin="round" fill-rule="evenodd"><path d="M330.7,570.5l1.5,0.1 2.1,-0.4 3,-1.5 -3.9,0.5 -1.8,0.6z" fill="#0092f1" stroke="#0092f1"/><path d="M328.1,569.7l2.6,0.8 0.9,-0.7 1.8,-0.6 3.9,-0.5 3.1,-2.3 -6.5,0 -3.8,0.5 -1.4,0.9 -0.4,0.5z" fill="#0097ed" stroke="#0097ed"/><path d="M326.4,568.7l1.7,1 0.2,-1.4 0.4,-0.5 1.4,-0.9 3.8,-0.5 6.5,0 2.2,-2.1 -11.4,-0.6 -2.6,0.1 -2.3,0.6 -0.5,0.6 -0.2,0.6 0.2,1.6z" fill="#009cea" stroke="#009cea"/><path d="M325.1,567.6l1.3,1.1 -0.6,-1.5 -0.2,-1.6 0.2,-0.6 0.5,-0.6 -2.2,0 -1.6,-0.5zM341,564.2l1.6,0.1 1.9,-1.9 -11.5,-1.3 -2.6,1.8 -1.8,0.9 4.3,-0.1z" fill="#00a1e7" stroke="#00a1e7"/><path d="M324,566.4l1.1,1.2 -2.6,-3.7 -1.8,-0.9zM344.5,562.4l1.7,-2 -10.8,-1.4 -2.4,2.1z" fill="#00a5e4" stroke="#00a5e4"/><path d="M323.1,565.2l0.9,1.2 -2.4,-2.6 -2.3,-1.9zM344.8,560.3l1.4,0.1 1.6,-1.9 -10.5,-1.5 -1.9,2z" fill="#00aae1" stroke="#00aae1"/><path d="M322.2,563.9l0.9,1.3 -5,-4.5zM346.4,558.4l1.4,0.1 1.5,-1.9 -10.2,-1.5 -1.8,1.9z" fill="#00aedc" stroke="#00aedc"/><path d="M321.4,562.6l0.8,1.3 -4.1,-3.2 -1,-1.2zM347.9,556.5l1.4,0.1 1.4,-1.8 -10.1,-1.7 -1.5,2z" fill="#00b1d7" stroke="#00b1d7"/><path d="M320.7,561.3l0.7,1.3 -4.3,-3.1 -0.9,-1.3zM350.7,554.8l1.4,-1.9 -10,-1.6 -1.5,1.8z" fill="#00b5d1" stroke="#00b5d1"/><path d="M320,560l0.7,1.3 -4.5,-3.1 -0.8,-1.2zM350.7,552.7l1.4,0.2 1.4,-1.9 -10,-1.6 -1.4,1.9z" fill="#00b8ca" stroke="#00b8ca"/><path d="M319.4,558.7l0.6,1.3 -4.6,-3 -0.7,-1.3zM352.1,550.9l1.4,0.1 1.4,-1.8 -10,-1.7 -1.4,1.9z" fill="#00bbc4" stroke="#00bbc4"/><path d="M318.7,557.4l0.7,1.3 -4.7,-3 -0.7,-1.3zM354.9,549.2l1.3,-1.9 -5.2,-0.7 -4.7,-0.9 -1.4,1.8z" fill="#00bdbc" stroke="#00bdbc"/><path d="M318.7,557.3l-4.7,-2.9 -0.7,-1.3 3.1,1.8zM354.8,547.2l1.4,0.1 1.4,-1.8 -5.3,-0.7 -4.7,-0.9 -1.3,1.8z" fill="#00bfb5" stroke="#00bfb5"/><path d="M356.2,545.3l1.4,0.2 1.4,-1.9 -5.4,-0.7 -4.7,-0.9 -1.3,1.9zM315.7,554.2l0.7,0.7 -3.1,-1.8 -0.6,-1.4z" fill="#00c1ae" stroke="#00c1ae"/><path d="M359,543.6l1.4,-1.8 -5.4,-0.7 -4.8,-0.9 -1.3,1.8 4.7,0.9z" fill="#00c3a6" stroke="#00c3a6"/><path d="M358.9,541.6l1.5,0.2 1.4,-1.9 -5.5,-0.7 -4.8,-0.9 -1.3,1.9z" fill="#00c69e" stroke="#00c69e"/><path d="M360.3,539.8l1.5,0.1 1.4,-1.9 -5.5,-0.6 -4.9,-0.9 -1.3,1.8z" fill="#00c895" stroke="#00c895"/><path d="M363.2,538l1.6,-1.9 -5.7,-0.6 -4.9,-0.8 -1.4,1.8 4.9,0.9z" fill="#00ca8c" stroke="#00ca8c"/><path d="M363.3,536l1.5,0.1 1.6,-1.9 -5.9,-0.6 -5,-0.8 -1.3,1.9z" fill="#00cb81" stroke="#00cb81"/><path d="M366.4,534.2l1.6,-1.9 -6,-0.6 -5.1,-0.7 -1.4,1.8 5,0.8zM414.2,519.9l4.1,0 3.2,-0.6 3.1,-1.3 2.3,-1.5 -3,0.4 -3.4,0.6 -3,0.9z" fill="#00cc76" stroke="#00cc76"/><path d="M366.4,532.2l1.6,0.1 1.8,-2 -6.2,-0.5 -5.2,-0.7 -1.5,1.9 3.8,0.6zM410.4,519.5l3.8,0.4 3.3,-1.5 3,-0.9 3.4,-0.6 3,-0.4 2.3,-2.1 -6.3,0.5 -4.6,0.9 -3.6,1.4z" fill="#00cd6a" stroke="#00cd6a"/><path d="M368.2,530.2l1.6,0.1 2,-2 -6,-0.3 -5.9,-0.8 -1.5,1.9 5.2,0.7zM407.1,518.8l3.3,0.7 4.3,-2.3 3.6,-1.4 4.6,-0.9 6.3,-0.5 1.8,-1.9 -3.6,0 -4.3,0.2 -3.8,0.6 -2.1,0.5 -4.5,1.7z" fill="#00cd5e" stroke="#00cd5e"/><path d="M370,528.3l1.8,0 2.2,-2.1 -5.9,-0.2 -6.7,-0.7 -1.5,1.9 5.3,0.7zM403.9,518.2l3.2,0.6 4.8,-2.9 4.3,-1.8 3.1,-0.8 3.8,-0.6 4.3,-0.2 3.6,0 1.3,-1.9 -4.3,-0.1 -4.7,0.1 -4,0.4 -3.4,0.8 -2.8,0.9 -2.4,1.2z" fill="#3ecc51" stroke="#3ecc51"/><path d="M372.1,526.2l1.9,0 2.6,-2.1 -6.3,-0.1 -7.2,-0.6 -1.7,1.9 4.7,0.6zM400.5,517.7l3.4,0.5 6.8,-4.3 2.4,-1.2 2.8,-0.9 3.4,-0.8 4,-0.4 4.7,-0.1 4.3,0.1 1.2,-1.8 -6.6,-0.3 -4.8,0.1 -4.1,0.4 -3.4,0.6 -2.9,1 -2.4,1.2z" fill="#67cb44" stroke="#67cb44"/><path d="M374.4,524.1l2.2,0 3.5,-2.4 -7.9,0.2 -7.3,-0.5 -1.8,2 5.3,0.5zM396.4,517.3l4.1,0.4 8.8,-5.9 2.4,-1.2 2.9,-1 3.4,-0.6 4.1,-0.4 4.8,-0.1 6.6,0.3 1.1,-1.7 -7.1,-0.6 -7.1,0 -2.8,1.8 -3.2,1.2 -3.1,0.5 -4.1,0.1 -7.1,5z" fill="#82c936" stroke="#82c936"/><path d="M377.3,521.8l2.8,-0.1 4,-2.2 4.1,-1.4 4.2,-0.7 4,-0.1 3.7,-2.2 7.1,-5 -4,-0.5 -4.3,3.4 -3.6,2.2 -4.2,1.8 -5.1,1.5 -4.8,0.8 -4.1,0.3 -4.8,0.1 -5.5,-0.3 -1.9,2 6.2,0.5zM433.1,506.9l1.5,0.2 0.9,-1.8 -11,-0.9 -1.7,0 -2.4,2.1 5.3,0z" fill="#9ac727" stroke="#9ac727"/><path d="M381.5,519.3l6.7,-1.4 5.5,-1.9 4.4,-2.5 5.1,-3.9 -3.5,-0.5 -3.3,2.5 -3.2,1.9 -4.4,1.8 -4.1,1.1 -3.6,0.6 -4.1,0.4 -4.5,0.1 -3.5,-0.2 -2.2,2.1 7.2,0.3zM434.1,505.2l1.4,0.1 0.9,-1.7 -11.4,-1.1 -0.4,0 -1.8,1.9z" fill="#afc517" stroke="#afc517"/><path d="M435,503.4l1.4,0.2 0.8,-1.7 -9.3,-1.1 -1.9,-0.2 -1.4,1.9zM384.5,516.4l4.3,-1.1 4.4,-1.8 3.2,-1.9 3.3,-2.5 -3.7,-0.5 -2.7,1.9 -3.2,1.6 -3.6,1.3 -3.3,0.8 -5,0.8 -6.6,0.1 -2.6,2.2 3.5,0.2 4.5,-0.1 4.1,-0.4z" fill="#c2c205" stroke="#c2c205"/><path d="M435.8,501.7l1.4,0.2 0.7,-1.7 -9.1,-1.2 -1.6,-0.2 -1.2,1.8zM382.6,514.4l3.9,-1 3.6,-1.3 3.2,-1.6 2.7,-1.9 -4.2,-0.3 -4,2 -3.9,1.2 -4.7,0.9 -4.2,0.3 -3.4,2.4 5.2,0z" fill="#d3c000" stroke="#d3c000"/><path d="M437.9,500.2l0.7,-1.6 -8.7,-1.4 -1.7,-0.2 -1,1.8zM381.9,512l5,-1.4 2.5,-1 2.4,-1.3 -3.3,0 -3.1,0.4 -3.1,0.7 -2.1,0.7 -2.1,0.9 -3.1,1.7 2.9,-0.1z" fill="#e3bd00" stroke="#e3bd00"/><path d="M438.6,498.6l0.7,-1.7 -8.1,-1.3 -2,-0.3 -1,1.7z" fill="#f1bb0a" stroke="#f1bb0a"/><path d="M438,496.7l1.3,0.2 0.6,-1.7 -9.9,-1.7 -0.8,1.8z" fill="#fcba1c" stroke="#fcba1c"/><path d="M439.9,495.2l0.6,-1.6 -9.1,-1.7 -0.6,0 -0.8,1.6z" fill="#ffba2b" stroke="#ffba2b"/><path d="M439.3,493.4l1.2,0.2 0.6,-1.6 -8.2,-1.6 -1.3,-0.2 -0.8,1.7z" fill="#ffbc2d" stroke="#ffbc2d"/><path d="M441.1,492l0.5,-1.7 -9.3,-1.8 -0.7,1.7z" fill="#ffc127" stroke="#ffc127"/><path d="M440.4,490.1l1.2,0.2 0.5,-1.6 -8.7,-1.8 -0.4,-0.1 -0.7,1.7z" fill="#ffc71d" stroke="#ffc71d"/><path d="M442.1,488.7l0.5,-1.6 -7.3,-1.6 -1.7,-0.3 -0.6,1.6z" fill="#ffcd09" stroke="#ffcd09"/><path d="M442.6,487.1l0.5,-1.6 -8.9,-2 -0.6,1.7z" fill="#ffd300" stroke="#ffd300"/><path d="M443.1,485.5l0.2,-0.6 -0.7,-1.3 -6.4,-1.4 -1.5,-0.3 -0.5,1.6z" fill="#ffda00" stroke="#ffda00"/><path d="M442.4,483.6l0.2,0 -0.9,-1.9 -6.4,-1.4 -0.6,1.6z" fill="#fde000" stroke="#fde000"/><path d="M440.7,481.5l1,0.2 -1.1,-1.9 -4.8,-1.1 -0.5,1.6z" fill="#fae600" stroke="#fae600"/><path d="M440.1,479.7l0.5,0.1 -1,-2 -3.3,-0.8 -0.5,1.7z" fill="#f9ec00" stroke="#f9ec00"/><path d="M439.5,477.8l-1,-2 -1.7,-0.4 -0.5,1.6z" fill="#f8f200" stroke="#f8f200"/><path d="M437.8,475.7l0.7,0.1 -1.2,-2 -0.5,1.6z" fill="#f8f800" stroke="#f8f800"/><path d="M339.1,578.5l2.3,-0.6z" fill="#007dff" stroke="#007dff"/><path d="M335.2,578.1l1.9,0.5 2,-0.1 3.2,-1 3.6,-2.3 -3.6,0.2 -3.6,0.6 -2.6,1.1z" fill="#0083fd" stroke="#0083fd"/><path d="M333.3,577.1l1.9,1 0.9,-1 2.6,-1.1 3.6,-0.6 3.6,-0.2 2.5,-2.1 -6.2,0.1 -5.1,0.6 -2.6,1.1 -0.9,1.1z" fill="#0088f9" stroke="#0088f9"/><path d="M331.9,576l1.4,1.1 0.3,-1.1 0.4,-0.6 0.5,-0.5 1.6,-0.8 2.1,-0.5 2.6,-0.4 7.6,-0.1 2,-2.1 -9.7,0 -2.9,0.1 -2.4,0.4 -1.9,0.7 -1.2,0.9 -0.6,1.3z" fill="#008df5" stroke="#008df5"/><path d="M330.7,574.9l1.2,1.1 -0.2,-1.6 0.6,-1.3 1.2,-0.9 1.9,-0.7 2.4,-0.4 2.9,-0.1 9.7,0 1.8,-1.9 -9.9,-0.4 -5,0 -3,1.5 -2.1,0.4 -1.5,-0.1 -0.6,0.9 -0.1,0.7 0.2,1.6z" fill="#0092f1" stroke="#0092f1"/><path d="M329.7,573.6l1,1.3 -0.5,-1.2 -0.2,-1.6 0.1,-0.7 0.6,-0.9 -2.6,-0.8 0.4,1.8zM350.5,569l1.7,0.1 1.6,-1.9 -13.3,-0.8 -3.2,2.3 5,0z" fill="#0097ed" stroke="#0097ed"/><path d="M328.8,572.4l0.9,1.2 -1.2,-2.1 -0.4,-1.8 -1.7,-1zM352.2,567.1l1.6,0.1 1.6,-1.9 -12.8,-1 -2.2,2.1z" fill="#009cea" stroke="#009cea"/><path d="M327.9,571.1l-1.5,-2.4 -1.3,-1.1zM353.8,565.1l1.6,0.2 1.5,-1.9 -12.1,-1 -0.3,0 -1.9,1.9z" fill="#00a1e7" stroke="#00a1e7"/><path d="M327.2,569.9l0.7,1.2 -3.9,-4.7zM355.3,563.3l1.6,0.1 1.4,-1.9 -12.1,-1.1 -1.7,2z" fill="#00a5e4" stroke="#00a5e4"/><path d="M326.5,568.6l0.7,1.3 -4.1,-4.7zM356.8,561.4l1.5,0.1 1.5,-1.9 -12,-1.1 -1.6,1.9z" fill="#00aae1" stroke="#00aae1"/><path d="M325.8,567.2l0.7,1.4 -3.4,-3.4 -0.9,-1.3zM359.8,559.6l1.4,-1.8 -11.9,-1.2 -1.5,1.9z" fill="#00aedc" stroke="#00aedc"/><path d="M325.2,565.9l0.6,1.3 -3.6,-3.3 -0.8,-1.3zM359.6,557.6l1.6,0.2 1.4,-1.9 -11.9,-1.1 -1.4,1.8z" fill="#00b1d7" stroke="#00b1d7"/><path d="M324.7,564.7l0.5,1.2 -3.8,-3.3 -0.7,-1.3zM361,555.8l1.6,0.1 1.4,-1.9 -11.9,-1.1 -1.4,1.9z" fill="#00b5d1" stroke="#00b5d1"/><path d="M323.9,563.7l0.6,0.8 -3.8,-3.2 -0.7,-1.3 2.8,2.2zM364,554l1.5,-1.9 -12,-1.1 -1.4,1.9z" fill="#00b8ca" stroke="#00b8ca"/><path d="M363.9,552l1.6,0.1 1.5,-1.8 -12.1,-1.1 -1.4,1.8zM322.4,561.8l0.4,0.4 -2.8,-2.2 -0.6,-1.3 1.6,1.2z" fill="#00bbc4" stroke="#00bbc4"/><path d="M365.3,550.2l1.7,0.1 1.5,-1.9 -12.3,-1.1 -1.3,1.9zM320.9,559.9l-1.5,-1.2 -0.7,-1.3z" fill="#00bdbc" stroke="#00bdbc"/><path d="M366.8,548.3l1.7,0.1 1.5,-1.9 -12.4,-1 -1.4,1.8zM425,531.7l2.4,-0.4 2.8,-0.9zM318.7,557.3l0.2,0.2 -0.2,-0.1z" fill="#00bfb5" stroke="#00bfb5"/><path d="M368.3,546.4l1.7,0.1 1.7,-1.9 -6.8,-0.4 -5.9,-0.6 -1.4,1.9zM420,531.6l2.2,0.2 2.8,-0.1 5.2,-1.3 2.4,-1.4 1.5,-1.2 -4.4,0.6 -3.3,0.7 -2.9,1z" fill="#00c1ae" stroke="#00c1ae"/><path d="M369.9,544.5l1.8,0.1 1.7,-2 -7,-0.3 -6,-0.5 -1.4,1.8zM416.6,531l3.4,0.6 3.5,-1.5 2.9,-1 3.3,-0.7 4.4,-0.6 2.1,-2 -6.2,0.5 -4.5,0.9 -4.7,1.7z" fill="#00c3a6" stroke="#00c3a6"/><path d="M371.5,542.6l1.9,0 1.8,-2 -6.5,-0.2 -6.9,-0.5 -1.4,1.9zM413.6,530.3l3,0.7 4.2,-2.1 4.7,-1.7 4.5,-0.9 6.2,-0.5 1.6,-1.9 -7.4,0.3 -5.9,1.1 -2.9,0.9 -2.6,1.1z" fill="#00c69e" stroke="#00c69e"/><path d="M373.3,540.6l1.9,0 2.1,-2 -6.2,-0.1 -7.9,-0.5 -1.4,1.9 5,0.4zM410.7,529.6l2.9,0.7 4.6,-2.6 4.3,-1.8 3.1,-0.9 3.5,-0.6 4.1,-0.4 4.6,-0.1 1.3,-1.9 -3.8,0 -4.5,0.2 -3.9,0.5 -3.3,0.7 -3,0.9 -2.5,1.1 -3.1,1.6z" fill="#00c895" stroke="#00c895"/><path d="M375.2,538.6l2.1,0 2.3,-2.1 -8,0 -6.8,-0.4 -1.6,1.9 6.1,0.5zM407.7,529l3,0.6 5.8,-3.4 5.1,-2.2 4.2,-1.1 3.7,-0.6 4.3,-0.3 5.3,0 1.1,-1.7 -5.8,-0.2 -4.5,0.2 -3.9,0.5 -3.4,0.7 -3,0.9 -3.3,1.4z" fill="#00ca8c" stroke="#00ca8c"/><path d="M377.3,536.6l2.3,-0.1 2.7,-2.2 -6.9,0.3 -9,-0.4 -1.6,1.9 6.8,0.4zM404.3,528.4l3.4,0.6 8.6,-5.2 3.3,-1.4 3,-0.9 3.4,-0.7 3.9,-0.5 4.5,-0.2 5.8,0.2 1,-1.8 -6,-0.3 -4.8,0.1 -4.2,0.3 -4.6,0.9 -3,0.9 -3.4,1.5z" fill="#00cb81" stroke="#00cb81"/><path d="M379.7,534.4l2.6,-0.1 3.8,-2.5 -8.7,0.7 -9.4,-0.2 -1.6,1.9 7.4,0.3zM400,528.1l4.3,0.3 10.9,-6.5 3.4,-1.5 3,-0.9 4.6,-0.9 4.2,-0.3 4.8,-0.1 6,0.3 0.9,-1.7 -7.8,-0.5 -7.4,0.2 -2.3,1.5 -3.1,1.3 -3.2,0.6 -4.1,0 -9.9,6z" fill="#00cc76" stroke="#00cc76"/><path d="M382.7,532.2l3.4,-0.4 4,-1.9 3.1,-1 3.1,-0.6 3.7,-0.2 4.3,-2.2 9.9,-6 -3.8,-0.4 -5.9,3.7 -4.3,2.4 -4.4,1.7 -5.1,1.5 -4.7,0.8 -5.3,0.6 -4.5,0.2 -6.4,-0.1 -1.8,2 7.8,0.2zM440.6,516.7l1.5,0.1 0.9,-1.7 -6,-0.5 -5.3,-0.2 -2.5,0 -2.3,2.1 5.7,-0.2z" fill="#00cd6a" stroke="#00cd6a"/><path d="M387.1,529.5l5.8,-1.3 5.6,-1.9 4.7,-2.3 7.2,-4.5 -3.3,-0.7 -4.3,2.8 -4.5,2.4 -4.5,1.7 -4.2,1.1 -4.7,0.8 -4,0.5 -9.1,0.2 -2,2 9.4,0zM443,515.1l0.7,-1.7 -9.5,-0.8 -3.2,-0.1 -1.8,1.9 6,0.1z" fill="#00cd5e" stroke="#00cd5e"/><path d="M443.7,513.4l0.7,-1.7 -9.2,-0.9 -2.9,-0.2 -1.3,1.9 7.1,0.3zM389.2,526.9l4.6,-1.2 4.5,-1.7 4.5,-2.4 4.3,-2.8 -3.2,-0.6 -3.6,2.2 -3.9,2 -3.7,1.3 -4.2,1.1 -7.4,1.1 -7.1,0.3 -2.2,2.1 9.1,-0.2 4,-0.5z" fill="#3ecc51" stroke="#3ecc51"/><path d="M443,511.5l1.4,0.2 0.7,-1.7 -8.8,-1 -2.8,-0.2 -1.2,1.8zM385,525.5l5.7,-1.2 4.8,-1.6 4.1,-1.9 4.3,-2.6 -3.4,-0.5 -5.3,2.7 -5.7,1.9 -5.7,1.1 -7.2,0.7 -2.6,2.1 5.7,-0.2z" fill="#67cb44" stroke="#67cb44"/><path d="M443.8,509.9l1.3,0.1 0.7,-1.6 -10.5,-1.3 -0.7,0 -1.1,1.7zM387.4,522.8l3.2,-0.8 3.8,-1.3 3.3,-1.5 2.8,-1.5 -4.1,-0.4 -3.2,1.4 -3.8,1.3 -4.4,1 -4.9,0.7 -3.5,2.4 5.9,-0.5z" fill="#82c936" stroke="#82c936"/><path d="M445.8,508.4l0.6,-1.7 -7.7,-1 -3.2,-0.4 -0.9,1.8zM383.8,521.2l6.6,-1.5 2.8,-1 3.2,-1.4 -5,0.2 -4.2,0.9 -3.1,1.1 -4,2.2z" fill="#9ac727" stroke="#9ac727"/><path d="M445.1,506.5l1.3,0.2 0.5,-1.6 -9.1,-1.3 -1.4,-0.2 -0.9,1.7z" fill="#afc517" stroke="#afc517"/><path d="M446.9,505.1l0.6,-1.6 -8.3,-1.3 -2,-0.3 -0.8,1.7z" fill="#c2c205" stroke="#c2c205"/><path d="M446.2,503.3l1.3,0.2 0.5,-1.7 -9.8,-1.6 -0.3,0 -0.7,1.7z" fill="#d3c000" stroke="#d3c000"/><path d="M448,501.8l0.5,-1.6 -8.7,-1.5 -1.2,-0.1 -0.7,1.6z" fill="#e3bd00" stroke="#e3bd00"/><path d="M447.3,500l1.2,0.2 0.5,-1.6 -7.6,-1.4 -2.1,-0.3 -0.7,1.7z" fill="#f1bb0a" stroke="#f1bb0a"/><path d="M449,498.6l0.2,-0.7 -0.4,-1.1 -8.3,-1.5 -0.6,-0.1 -0.6,1.7z" fill="#fcba1c" stroke="#fcba1c"/><path d="M448.3,496.8l0.5,0 -0.9,-1.8 -5.6,-1.1 -1.8,-0.3 -0.6,1.6z" fill="#ffba2b" stroke="#ffba2b"/><path d="M447.6,494.9l0.3,0.1 -0.8,-1.9 -5.7,-1.1 -0.3,0 -0.6,1.6z" fill="#ffbc2d" stroke="#ffbc2d"/><path d="M446.9,493.1l0.2,0 -0.9,-1.9 -4.6,-0.9 -0.5,1.7z" fill="#ffc127" stroke="#ffc127"/><path d="M446.2,491.2l-0.8,-1.9 -3.3,-0.6 -0.5,1.6z" fill="#ffc71d" stroke="#ffc71d"/><path d="M444.4,489.2l1,0.1 -0.9,-1.8 -1.9,-0.4 -0.5,1.6z" fill="#ffcd09" stroke="#ffcd09"/><path d="M443.7,487.3l0.8,0.2 -0.9,-1.9 -0.5,-0.1 -0.5,1.6z" fill="#ffd300" stroke="#ffd300"/><path d="M443.1,485.5l0.5,0.1 -0.3,-0.7z" fill="#ffda00" stroke="#ffda00"/><path d="M343.5,587.6l2.7,-0.1 2.1,-0.7 1.7,-0.9 -4.3,0.7z" fill="#2f65ff" stroke="#2f65ff"/><path d="M340.8,586.9l2.7,0.7 2.2,-1 4.3,-0.7 3.3,-2.4 -5.5,0.4 -3.4,0.6 -2.6,1.2z" fill="#1b6bff" stroke="#1b6bff"/><path d="M339.1,585.8l1.7,1.1 1,-1.2 2.6,-1.2 3.4,-0.6 5.5,-0.4 2.3,-2.1 -7.8,0.2 -4.8,0.8 -1.8,0.7 -1.3,0.9 -0.4,0.6z" fill="#0071ff" stroke="#0071ff"/><path d="M337.7,584.7l1.4,1.1 0.4,-1.2 0.4,-0.6 1.3,-0.9 1.8,-0.7 4.8,-0.8 7.8,-0.2 2,-2 -9.7,0 -4,0.4 -2.3,0.5 -1.8,0.7 -1.3,0.9 -0.7,1.2z" fill="#0077ff" stroke="#0077ff"/><path d="M336.6,583.5l1.1,1.2 0.1,-1.6 0.7,-1.2 1.3,-0.9 1.8,-0.7 2.3,-0.5 4,-0.4 9.7,0 1.8,-2 -6.4,-0.1 -6.4,0.1 -4.1,0.3 -3.4,0.8 -1.5,0.8 -1,1 -0.4,1.3z" fill="#007dff" stroke="#007dff"/><path d="M335.6,582.3l1,1.2 -0.4,-1.9 0.4,-1.3 1,-1 1.5,-0.8 -2,0.1 -1.9,-0.5 -0.3,0.7 -0.1,1.5zM357.6,577.4l1.8,0 1.6,-1.9 -14.3,-0.3 -0.8,0 -2.5,1.8 -2,0.9 2.4,-0.3 4.3,-0.3z" fill="#0083fd" stroke="#0083fd"/><path d="M334.7,581l0.9,1.3 -0.8,-2 0.1,-1.5 0.3,-0.7 -1.9,-1 0.3,1.9zM359.3,575.4l1.7,0.1 1.6,-1.9 -14,-0.5 -0.2,0 -2.5,2.1 5.8,0z" fill="#0088f9" stroke="#0088f9"/><path d="M333.9,579.8l0.8,1.2 -1.1,-2 -0.3,-1.9 -1.4,-1.1 0.7,1.8zM360.9,573.5l1.7,0.1 1.5,-1.9 -13.3,-0.6 -0.4,-0.1 -2,2.1z" fill="#008df5" stroke="#008df5"/><path d="M333.2,578.5l0.7,1.3 -1.3,-2 -0.7,-1.8 -1.2,-1.1 1.1,1.8zM362.4,571.6l1.7,0.1 1.5,-1.9 -12.5,-0.7 -0.9,0 -1.8,1.9z" fill="#0092f1" stroke="#0092f1"/><path d="M332.5,577.2l0.7,1.3 -0.7,-0.9 -1.8,-2.7 -1,-1.3zM364,569.7l1.6,0.1 1.5,-1.9 -13.3,-0.7 -1.6,1.9z" fill="#0097ed" stroke="#0097ed"/><path d="M331.9,575.9l0.6,1.3 -0.8,-0.9 -2.9,-3.9zM365.4,567.8l1.7,0.1 1.5,-1.9 -13.2,-0.7 -1.6,1.9z" fill="#009cea" stroke="#009cea"/><path d="M331.3,574.6l0.6,1.3 -0.5,-0.4 -2.3,-2.6 -1.2,-1.8zM366.9,565.9l1.7,0.1 1.5,-1.9 -13.2,-0.7 -1.5,1.9z" fill="#00a1e7" stroke="#00a1e7"/><path d="M330.7,573.2l0.6,1.4 -3.4,-3.5 -0.7,-1.2zM368.4,564.1l1.7,0 1.5,-1.9 -13.3,-0.7 -1.4,1.9z" fill="#00a5e4" stroke="#00a5e4"/><path d="M330.6,573.2l-3.4,-3.3 -0.7,-1.3 2.7,2.5zM369.9,562.2l1.7,0 1.6,-1.8 -13.4,-0.8 -1.5,1.9zM431.8,544.6l2.6,-0.5 2.2,-0.8z" fill="#00aae1" stroke="#00aae1"/><path d="M371.4,560.3l1.8,0.1 1.5,-2 -13.5,-0.6 -1.4,1.8zM426.9,544.5l2.4,0.2 2.5,-0.1 4.8,-1.3 2,-1 1.9,-1.5 -3.7,0.5 -3.3,0.7 -3,0.9zM329.2,571l-2.7,-2.4 -0.7,-1.4 1.9,1.7z" fill="#00aedc" stroke="#00aedc"/><path d="M372.9,558.4l1.8,0 1.7,-1.9 -13.8,-0.6 -1.4,1.9zM423.6,543.9l3.3,0.6 3.6,-1.6 3,-0.9 3.3,-0.7 3.7,-0.5 2.1,-2 -5.3,0.4 -4.7,0.9 -4.7,1.6zM327.7,568.9l-1.9,-1.7 -0.6,-1.3 0.9,0.8z" fill="#00b1d7" stroke="#00b1d7"/><path d="M374.5,556.5l1.9,0 1.7,-1.9 -14.1,-0.6 -1.4,1.9zM420.8,543.1l2.8,0.8 4.3,-2.2 4.7,-1.6 4.7,-0.9 5.3,-0.4 1.5,-1.9 -6.4,0.3 -5.9,1.1 -3,0.9 -2.6,1zM325.4,565.7l0.7,1 -0.9,-0.8 -0.5,-1.2z" fill="#00b5d1" stroke="#00b5d1"/><path d="M376.2,554.5l1.9,0.1 1.9,-2 -7.7,-0.1 -6.8,-0.4 -1.5,1.9zM418.1,542.4l2.7,0.7 5.4,-2.9 2.6,-1 3,-0.9 5.9,-1.1 6.4,-0.3 1.3,-1.8 -7.1,0.1 -4,0.5 -3.4,0.7 -2.9,0.9 -3.5,1.4z" fill="#00b8ca" stroke="#00b8ca"/><path d="M378,552.6l2,0 2,-2.1 -7.4,0.1 -7.6,-0.3 -1.5,1.8zM415.4,541.6l2.7,0.8 4.1,-2.5 3.1,-1.6 3.6,-1.3 3.1,-0.9 6.3,-0.9 7.1,-0.1 1.2,-1.8 -4.6,-0.1 -4.6,0.2 -3.9,0.4 -4.5,1 -2.8,0.9 -3.4,1.5z" fill="#00bbc4" stroke="#00bbc4"/><path d="M379.9,550.6l2.1,-0.1 2.3,-2.1 -7.4,0.2 -8.4,-0.2 -1.5,1.9zM412.6,540.9l2.8,0.7 7.4,-4.4 3.4,-1.5 2.8,-0.9 4.5,-1 3.9,-0.4 4.6,-0.2 4.6,0.1 0.9,-1.8 -6.4,-0.2 -4.5,0.2 -4,0.4 -4.4,1 -2.9,1 -3.4,1.4z" fill="#00bdbc" stroke="#00bdbc"/><path d="M382,548.5l2.3,-0.1 2.8,-2.2 -8,0.4 -9.1,-0.1 -1.5,1.9 6.7,0.2zM409.4,540.3l3.2,0.6 9.3,-5.6 3.4,-1.4 2.9,-1 4.4,-1 4,-0.4 4.5,-0.2 6.4,0.2 0.9,-1.7 -6.4,-0.3 -6.2,0.1 -5.2,0.7 -3.2,1 -2.4,0.4 -2.3,1 -3.2,1.5z" fill="#00bfb5" stroke="#00bfb5"/><path d="M384.3,546.4l2.8,-0.2 3.6,-2.4 -9.6,0.8 -9.4,0 -1.7,1.9 7.4,0.1zM405.3,539.9l4.1,0.4 10.1,-6.1 3.2,-1.5 2.3,-1 -2.8,0.1 -2.2,-0.2 -10,5.9zM446.9,529.7l1.5,0.1 0.9,-1.7 -6.4,-0.4 -6.5,0 -2.3,0.1 -1.5,1.2 -2.4,1.4 2.8,-0.5 4.2,-0.4 4.8,0z" fill="#00c1ae" stroke="#00c1ae"/><path d="M387.2,544.2l3.5,-0.4 3.3,-1.7 4.1,-1.5 3.1,-0.6 4.1,-0.1 4.7,-2.4 10,-5.9 -3.4,-0.6 -7.5,4.5 -3.9,2 -4.3,1.8 -5.1,1.4 -4.7,0.9 -5.2,0.6 -5.9,0.4 -6.6,0 -1.7,2 7.9,0zM447.7,528l1.6,0.1 0.7,-1.7 -6,-0.5 -5.3,-0.2 -2.5,0.1 -2.1,2 7.1,-0.2z" fill="#00c3a6" stroke="#00c3a6"/><path d="M391.3,541.6l6.6,-1.4 5.7,-1.9 4.8,-2.3 8.2,-5 -3,-0.7 -5.4,3.3 -3.9,2 -4.4,1.8 -5.1,1.4 -4.7,0.9 -3.9,0.4 -5.8,0.4 -5.2,0.1 -1.8,2 9.6,-0.2zM448.6,526.3l1.4,0.1 0.7,-1.7 -9.4,-0.8 -3.5,0 -1.6,1.9 5.9,0z" fill="#00c69e" stroke="#00c69e"/><path d="M450.7,524.7l0.7,-1.6 -9.1,-0.9 -3.2,-0.2 -1.3,1.9 7.3,0.3zM392.2,539.3l5.7,-1.3 4.7,-1.6 4.8,-2.4 6.2,-3.7 -2.9,-0.7 -4.2,2.5 -4,2 -4.6,1.7 -4.1,1.1 -7.3,1.1 -9.2,0.6 -2.1,2 9.6,-0.3z" fill="#00c895" stroke="#00c895"/><path d="M450,522.9l1.4,0.2 0.7,-1.7 -8.6,-0.9 -3.3,-0.2 -1.1,1.7 5.2,0.3zM394.4,536.7l4.5,-1.3 3.6,-1.3 4,-2 4.2,-2.5 -3,-0.6 -6.2,3.1 -3.6,1.4 -3,0.9 -6.9,1.4 -8.4,0.7 -2.3,2.1 9.2,-0.6 3.8,-0.5z" fill="#00ca8c" stroke="#00ca8c"/><path d="M452.1,521.4l0.6,-1.6 -8,-1 -3.5,-0.3 -1,1.8 5.3,0.3zM388.9,535.6l4.9,-0.9 5,-1.5 4.4,-1.8 4.5,-2.4 -3.4,-0.6 -5.5,2.5 -4.9,1.5 -5.7,1.2 -5.9,0.7 -2.7,2.2 4.5,-0.3z" fill="#00cb81" stroke="#00cb81"/><path d="M451.3,519.6l1.4,0.2 0.5,-1.7 -9.3,-1.2 -1.8,-0.1 -0.9,1.7zM390,533.3l3.9,-0.9 4,-1.2 3.5,-1.4 2.9,-1.4 -4.3,-0.3 -6.1,2.1 -3.2,0.8 -4.6,0.8 -3.8,2.5z" fill="#00cc76" stroke="#00cc76"/><path d="M451.9,517.9l1.3,0.2 0.6,-1.6 -8.6,-1.2 -2.2,-0.2 -0.9,1.7zM386.1,531.8l4.6,-0.8 3.2,-0.8 6.1,-2.1 -3.7,0.2 -3.1,0.6 -3.1,1z" fill="#00cd6a" stroke="#00cd6a"/><path d="M453.8,516.5l0.5,-1.6 -7.7,-1.2 -2.9,-0.3 -0.7,1.7z" fill="#00cd5e" stroke="#00cd5e"/><path d="M453,514.7l1.3,0.2 0.5,-1.6 -6.6,-1.1 -3.8,-0.5 -0.7,1.7z" fill="#3ecc51" stroke="#3ecc51"/><path d="M454.8,513.3l0.4,-1.4 -0.2,-0.3 -7.6,-1.3 -2.3,-0.3 -0.7,1.7z" fill="#67cb44" stroke="#67cb44"/><path d="M454.1,511.4l0.9,0.2 -0.7,-1.9 -5.2,-0.8 -3.3,-0.5 -0.7,1.6z" fill="#82c936" stroke="#82c936"/><path d="M453.3,509.6l1,0.1 -0.8,-1.8 -5.2,-0.9 -1.9,-0.3 -0.6,1.7z" fill="#9ac727" stroke="#9ac727"/><path d="M452.6,507.8l0.9,0.1 -0.8,-1.8 -5.3,-0.9 -0.5,-0.1 -0.5,1.6z" fill="#afc517" stroke="#afc517"/><path d="M451.9,505.9l0.8,0.2 -0.8,-1.9 -4.4,-0.7 -0.6,1.6z" fill="#c2c205" stroke="#c2c205"/><path d="M451.2,504.1l0.7,0.1 -0.7,-1.8 -3.2,-0.6 -0.5,1.7z" fill="#d3c000" stroke="#d3c000"/><path d="M450.4,502.3l0.8,0.1 -0.8,-1.9 -1.9,-0.3 -0.5,1.6z" fill="#e3bd00" stroke="#e3bd00"/><path d="M449.7,500.4l0.7,0.1 -0.8,-1.8 -0.6,-0.1 -0.5,1.6z" fill="#f1bb0a" stroke="#f1bb0a"/><path d="M449,498.6l0.6,0.1 -0.4,-0.8z" fill="#fcba1c" stroke="#fcba1c"/><path d="M348.4,596.6l2.7,0.2 2.1,-0.3 2.1,-0.8 2.9,-1.8 -3.8,0.4 -2.3,0.4 -1.9,0.7z" fill="#454ff6" stroke="#454ff6"/><path d="M346.3,595.6l2.1,1 1.8,-1.2 1.9,-0.7 2.3,-0.4 3.8,-0.4 2.7,-2.2 -5.2,0.2 -5,0.7 -1.9,0.6 -1.5,0.9 -0.5,0.5z" fill="#4254fa" stroke="#4254fa"/><path d="M344.8,594.6l1.5,1 0.5,-1 0.5,-0.5 2.4,-1.2 4.7,-0.9 6.5,-0.3 2.2,-2.1 -8.7,0.2 -5,0.7 -2,0.6 -1.5,0.9 -0.9,1 -0.2,0.7z" fill="#3d5afd" stroke="#3d5afd"/><path d="M343.5,593.4l1.3,1.2 0,-0.9 0.2,-0.7 0.9,-1 1.5,-0.9 3.1,-0.8 5.4,-0.6 7.2,-0.1 1.9,-2 -10.4,0.1 -4.2,0.3 -3.4,0.7 -1.7,0.7 -1.3,1 -0.7,1.2 0,0.7z" fill="#385fff" stroke="#385fff"/><path d="M342.5,592.2l1,1.2 -0.2,-1.1 0,-0.7 0.7,-1.2 1.3,-1 1.7,-0.7 3.4,-0.7 4.2,-0.3 10.4,-0.1 1.8,-1.9 -8.8,-0.2 -6.2,0.2 -1.8,0.2 -1.7,0.9 -2.1,0.7 -2.7,0.1 -0.9,0.6 -0.7,1.2 0,1.5z" fill="#2f65ff" stroke="#2f65ff"/><path d="M341.5,591l1,1.2 -0.6,-1.3 0,-1.5 0.7,-1.2 0.9,-0.6 -2.7,-0.7 -0.4,1.1 0.1,0.8zM365,585.6l1.8,0.1 1.6,-1.9 -13.3,-0.4 -1.8,0.1 -3.3,2.4 6.4,-0.4z" fill="#1b6bff" stroke="#1b6bff"/><path d="M340.7,589.7l0.8,1.3 -1,-2.2 -0.1,-0.8 0.4,-1.1 -1.7,-1.1 0.2,1.7zM366.7,583.7l1.7,0.1 1.6,-2 -12.8,-0.4 -1.6,0 -2.3,2.1z" fill="#0071ff" stroke="#0071ff"/><path d="M339.9,588.5l0.8,1.2 -1.4,-2.2 -0.2,-1.7 -1.4,-1.1 0.7,1.7zM368.3,581.8l1.7,0 1.6,-1.9 -12.2,-0.5 -1.8,0 -2,2z" fill="#0077ff" stroke="#0077ff"/><path d="M339.2,587.2l0.7,1.3 -1.5,-2.1 -0.7,-1.7 -1.1,-1.2 1,1.8zM369.9,579.8l1.7,0.1 1.6,-1.9 -11.5,-0.5 -2.3,-0.1 -1.8,2z" fill="#007dff" stroke="#007dff"/><path d="M338.5,585.9l0.7,1.3 -1.2,-1.3 -1.4,-2.4 -1,-1.2 1.3,1.8zM371.5,577.9l1.7,0.1 1.5,-1.9 -12.3,-0.6 -1.4,0 -1.6,1.9z" fill="#0083fd" stroke="#0083fd"/><path d="M337.8,584.5l0.7,1.4 -1.2,-1.3 -2.6,-3.6 1.5,1.8zM373,576l1.7,0.1 1.6,-1.9 -13.3,-0.6 -0.4,0 -1.6,1.9zM437.8,557.7l2.6,-0.3 3.2,-1.2 -3.4,0.7z" fill="#0088f9" stroke="#0088f9"/><path d="M337.3,583.2l0.5,1.3 -0.8,-0.8 -1.6,-1.7 -1.5,-2.2zM374.6,574.1l1.7,0.1 1.6,-1.9 -13.8,-0.6 -1.5,1.9zM433.3,557.4l1.9,0.3 2.6,0 2.4,-0.8 3.4,-0.7 2,-1.2 1.5,-1.2 -4.4,0.5 -3.3,0.8 -2.9,0.9z" fill="#008df5" stroke="#008df5"/><path d="M336.7,581.9l0.6,1.3 -1.4,-1.2 -2,-2.2 -0.7,-1.3zM376.1,572.2l1.8,0.1 1.6,-1.9 -13.9,-0.6 -1.5,1.9zM430.3,556.8l3,0.6 3.2,-1.4 2.9,-0.9 3.3,-0.8 4.4,-0.5 2,-2 -6.1,0.5 -4.5,0.9 -4.6,1.7z" fill="#0092f1" stroke="#0092f1"/><path d="M336.6,581.8l-3.4,-3.3 -0.7,-1.3 2.7,2.6zM377.7,570.3l1.8,0.1 1.7,-1.9 -14.1,-0.6 -1.5,1.9zM427.6,556l2.7,0.8 3.6,-1.9 4.6,-1.7 4.5,-0.9 6.1,-0.5 1.5,-1.9 -7.1,0.3 -5.8,1.1 -2.9,1 -2.6,1.1z" fill="#0097ed" stroke="#0097ed"/><path d="M379.4,568.4l1.8,0.1 1.8,-2 -14.4,-0.5 -1.5,1.9zM425.1,555.2l2.5,0.8 4.6,-2.6 2.6,-1.1 2.9,-1 5.8,-1.1 7.1,-0.3 1.3,-1.9 -3.5,0 -4.4,0.2 -3.8,0.5 -3.4,0.8 -2.9,0.9 -2.5,1.1 -3.1,1.6zM335.1,579.7l-2.6,-2.5 -0.6,-1.3 1.8,1.7z" fill="#009cea" stroke="#009cea"/><path d="M381.1,566.5l1.9,0 1.8,-2 -14.7,-0.4 -1.5,1.9zM422.6,554.4l2.5,0.8 4.7,-2.9 5,-2.2 4.2,-1.2 3.6,-0.5 4.3,-0.4 5,0 1.1,-1.8 -5.4,-0.1 -4.4,0.3 -3.9,0.5 -3.3,0.7 -2.9,0.9 -3.4,1.5 -3,1.6zM333.6,577.5l-1.7,-1.6 -0.6,-1.3 0.9,0.8z" fill="#00a1e7" stroke="#00a1e7"/><path d="M382.9,564.5l1.9,0 2.1,-2 -15.3,-0.3 -1.5,1.9zM420.1,553.6l2.5,0.8 4.1,-2.8 3,-1.6 3.4,-1.5 2.9,-0.9 3.3,-0.7 3.9,-0.5 4.4,-0.3 5.4,0.1 1,-1.7 -5.6,-0.2 -4.6,0.1 -4.1,0.4 -4.5,0.9 -3.9,1.3 -3.3,1.5 -3.5,2.1zM332.1,575.3l-0.8,-0.7 -0.6,-1.4z" fill="#00a5e4" stroke="#00a5e4"/><path d="M384.8,562.5l2.1,0 2.3,-2.1 -7.4,0.1 -8.6,-0.1 -1.6,1.8zM417.4,552.8l2.7,0.8 4.4,-3 3.5,-2.1 3.3,-1.5 3.9,-1.3 4.5,-0.9 4.1,-0.4 4.6,-0.1 5.6,0.2 0.9,-1.7 -5.6,-0.4 -4.9,0.1 -4.2,0.3 -3.6,0.5 -2.2,0.8 -3,0.7 -3.4,1.4 -3.7,2.1zM330.6,573.2l0.1,0.1 0,-0.1z" fill="#00aae1" stroke="#00aae1"/><path d="M386.9,560.5l2.3,-0.1 2.7,-2.2 -7.9,0.3 -9.3,-0.1 -1.5,2zM414.3,552.2l3.1,0.6 8.3,-5.4 3.1,-1.6 3,-1.2 -2.5,0.1 -2.4,-0.2 -3.5,1.9zM454.9,542.8l0.8,-1.7 -5.4,-0.4 -6.7,-0.1 -3.1,0.2 -1.9,1.5 -2,1 3.6,-0.5 4.2,-0.3 4.9,-0.1z" fill="#00aedc" stroke="#00aedc"/><path d="M389.3,558.3l2.6,-0.1 3.6,-2.5 -8,0.7 -11.1,0.1 -1.7,1.9 7.7,0.1zM410.4,551.7l3.9,0.5 9.1,-5.8 3.5,-1.9 -3.3,-0.6 -8.7,5.4zM454.2,540.9l1.5,0.2 0.7,-1.7 -5,-0.5 -5.4,-0.2 -3.4,0.1 -2.1,2 6.3,-0.2z" fill="#00b1d7" stroke="#00b1d7"/><path d="M392.1,556.1l3.4,-0.4 3.4,-1.8 4.1,-1.4 3.2,-0.6 4.2,-0.2 4.5,-2.4 8.7,-5.4 -2.8,-0.8 -6.8,4.3 -3.8,2 -4.4,1.8 -5.1,1.5 -4.6,0.8 -5.3,0.6 -5.9,0.4 -6.8,0.1 -1.7,1.9 8.1,0zM455,539.3l1.4,0.1 0.7,-1.7 -4.5,-0.5 -5.7,-0.3 -2.8,0 -1.5,1.9 5.1,-0.1z" fill="#00b5d1" stroke="#00b5d1"/><path d="M396.2,553.5l6.7,-1.4 5.6,-1.9 4.7,-2.4 7.6,-4.7 -2.7,-0.7 -5.8,3.5 -3.9,2 -4.5,1.7 -4.2,1.1 -4.7,0.9 -3.9,0.4 -5.7,0.4 -5.4,0.2 -1.9,2 9.8,-0.3zM455.7,537.6l1.4,0.1 0.7,-1.6 -8,-0.9 -4.4,-0.1 -1.3,1.8 6.5,0.2z" fill="#00b8ca" stroke="#00b8ca"/><path d="M457.8,536.1l0.6,-1.7 -7.4,-0.9 -4.4,-0.2 -1.2,1.8 6.4,0.3zM397.2,551.2l5.7,-1.3 4.6,-1.6 4.8,-2.4 5.8,-3.5 -2.7,-0.8 -4,2.4 -4,2 -4.5,1.6 -4.2,1.2 -7.3,1.1 -9.4,0.6 -2,2.1 9.7,-0.4z" fill="#00bbc4" stroke="#00bbc4"/><path d="M457.1,534.2l1.3,0.2 0.6,-1.6 -8.7,-1.1 -2.8,-0.2 -0.9,1.8 4.4,0.2zM399.6,548.5l3.3,-0.9 3.6,-1.3 3.3,-1.5 3,-1.6 2.6,-1.6 -2.8,-0.7 -5.3,2.8 -5.4,2 -4.2,1.1 -3.5,0.7 -5.2,0.6 -4.7,0.3 -2.3,2.1 9.4,-0.6 3.8,-0.5z" fill="#00bdbc" stroke="#00bdbc"/><path d="M459,532.8l0.6,-1.7 -8.1,-1 -3.1,-0.3 -0.9,1.7 4.8,0.4zM393.9,547.5l4.9,-0.9 5,-1.5 4.3,-1.8 4.5,-2.4 -3.2,-0.6 -4.8,2.2 -5.8,1.9 -5.6,1.1 -6.1,0.7 -2.8,2.2 4.7,-0.3z" fill="#00bfb5" stroke="#00bfb5"/><path d="M458.3,530.9l1.3,0.2 0.5,-1.6 -7.2,-1 -3.6,-0.4 -0.9,1.7zM394.9,545.2l3.9,-0.8 4,-1.2 3.5,-1.4 3.1,-1.5 -4.1,-0.4 -3.5,1.3 -2.9,0.9 -4.4,1.1 -3.8,0.6 -3.6,2.4z" fill="#00c1ae" stroke="#00c1ae"/><path d="M460.1,529.5l0.5,-1.6 -6.1,-1 -4.5,-0.5 -0.7,1.7zM397.1,542.6l3.8,-1.1 4.4,-1.6 -3,0 -2.1,0.3 -4.2,1.1 -3.1,1.3 -2.2,1.2z" fill="#00c3a6" stroke="#00c3a6"/><path d="M460.6,527.9l0.5,-1.6 -5,-0.9 -5.4,-0.7 -0.7,1.7z" fill="#00c69e" stroke="#00c69e"/><path d="M461.1,526.3l-0.6,-1.9 -5.2,-0.8 -3.9,-0.5 -0.7,1.6z" fill="#00c895" stroke="#00c895"/><path d="M460.4,524.4l-0.7,-1.8 -5.2,-0.9 -2.4,-0.3 -0.7,1.7z" fill="#00ca8c" stroke="#00ca8c"/><path d="M458.5,522.4l1.2,0.2 -0.8,-1.9 -2.6,-0.4 -3.6,-0.5 -0.6,1.6z" fill="#00cb81" stroke="#00cb81"/><path d="M457.7,520.6l1.2,0.1 -0.8,-1.8 -2.6,-0.4 -2.3,-0.4 -0.5,1.7z" fill="#00cc76" stroke="#00cc76"/><path d="M457,518.7l1.1,0.2 -0.7,-1.8 -3.6,-0.6 -0.6,1.6z" fill="#00cd6a" stroke="#00cd6a"/><path d="M456.3,516.9l1.1,0.2 -0.8,-1.9 -2.3,-0.3 -0.5,1.6z" fill="#00cd5e" stroke="#00cd5e"/><path d="M455.5,515.1l1.1,0.1 -0.8,-1.8 -1,-0.1 -0.5,1.6z" fill="#3ecc51" stroke="#3ecc51"/><path d="M454.8,513.3l1,0.1 -0.6,-1.5z" fill="#67cb44" stroke="#67cb44"/><path d="M355,605l2.1,0.3 2.1,-0.3 2.1,-0.7 3.1,-1.8 -4.2,0.4 -2.2,0.5 -1.8,0.6z" fill="#4a39dd" stroke="#4a39dd"/><path d="M352.8,604.2l2.2,0.8 1.2,-1 1.8,-0.6 2.2,-0.5 4.2,-0.4 2.8,-2.2 -5.9,0.1 -4.9,0.7 -2.6,1.1 -0.9,1.1z" fill="#4a3ee5" stroke="#4a3ee5"/><path d="M351.2,603.1l1.6,1.1 0.1,-0.9 0.9,-1.1 2.6,-1.1 4.9,-0.7 5.9,-0.1 2.3,-2.1 -8.2,-0.1 -4.1,0.4 -2.3,0.5 -1.9,0.6 -1.3,0.9 -0.7,1.2z" fill="#4944ec" stroke="#4944ec"/><path d="M349.9,601.9l1.3,1.2 -0.2,-1.4 0.7,-1.2 1.3,-0.9 1.9,-0.6 2.3,-0.5 4.1,-0.4 8.2,0.1 2,-2 -6.9,-0.3 -4.7,0.1 -4.1,0.4 -2.3,0.4 -2.7,1.1 -1.1,1 -0.4,1.3z" fill="#4749f1" stroke="#4749f1"/><path d="M348.8,600.8l1.1,1.1 -0.6,-1.7 0.4,-1.3 1.1,-1 2.7,-1.1 2.3,-0.4 4.1,-0.4 4.7,-0.1 6.9,0.3 1.8,-2 -8.4,-0.4 -6.7,0.1 -2.9,1.8 -2.1,0.8 -2.1,0.3 -2.7,-0.2 -0.5,0.7 -0.1,1.1 0.3,1.3z" fill="#454ff6" stroke="#454ff6"/><path d="M347.9,599.5l0.9,1.3 -0.7,-1.1 -0.3,-1.3 0.1,-1.1 0.5,-0.7 -2.1,-1 -0.1,1 0.3,0.9zM371.7,594.1l1.6,0.1 1.7,-2 -11.4,-0.5 -2.7,0 -2.7,2.2 6.7,-0.1z" fill="#4254fa" stroke="#4254fa"/><path d="M347,598.3l0.9,1.2 -1.4,-2 -0.3,-0.9 0.1,-1 -1.5,-1 0.5,1.6zM373.4,592.1l1.6,0.1 1.7,-1.9 -11,-0.6 -2.6,-0.1 -2.2,2.1z" fill="#3d5afd" stroke="#3d5afd"/><path d="M346.2,597l0.8,1.3 -1.7,-2.1 -0.5,-1.6 -1.3,-1.2 0.9,1.7zM376.7,590.3l1.6,-1.9 -8.5,-0.6 -4.8,-0.2 -1.9,2z" fill="#385fff" stroke="#385fff"/><path d="M345.5,595.7l0.7,1.3 -1.2,-1.3 -1.5,-2.3 -1,-1.2 1.2,1.8zM376.8,588.3l1.5,0.1 1.7,-1.9 -9.6,-0.6 -3.6,-0.2 -1.8,1.9zM441.7,569.9l2.6,0.1 3.1,-0.5 2.1,-0.7 2.9,-1.7 -5.7,0.9 -2.9,1z" fill="#2f65ff" stroke="#2f65ff"/><path d="M344.8,594.4l0.7,1.3 -1.3,-1.2 -2.7,-3.5 1.5,1.8zM378.4,586.3l1.6,0.2 1.6,-2 -8.1,-0.5 -5.1,-0.2 -1.6,1.9zM438.4,569.3l3.3,0.6 2.1,-0.9 2.9,-1 5.7,-0.9 2.3,-2.2 -4.3,0.4 -4.7,0.8 -3.8,1.3z" fill="#1b6bff" stroke="#1b6bff"/><path d="M344.2,593.1l0.6,1.3 -1.4,-1.2 -1.3,-1.4 -1.4,-2.1 1.6,1.8zM380,584.4l1.6,0.1 1.7,-1.9 -6.6,-0.4 -6.7,-0.4 -1.6,2zM435.7,568.6l2.7,0.7 3.5,-1.9 3.8,-1.3 4.7,-0.8 4.3,-0.4 1.7,-1.9 -5.6,0.2 -2.6,0.3 -3.4,0.7 -4.6,1.7 -2.3,1.2z" fill="#0071ff" stroke="#0071ff"/><path d="M343.5,591.8l0.7,1.3 -1.5,-1.2 -1.7,-1.7 -1.1,-1.7 1.7,1.7zM381.6,582.5l1.7,0.1 1.7,-1.9 -13.4,-0.8 -1.6,1.9zM433.3,567.7l2.4,0.9 2.2,-1.5 2.3,-1.2 4.6,-1.7 3.4,-0.7 2.6,-0.3 5.6,-0.2 1.3,-1.8 -3.3,-0.1 -4.5,0.2 -6,1 -2.9,0.9 -2.6,1.1 -2.9,1.7z" fill="#0077ff" stroke="#0077ff"/><path d="M343,590.5l0.5,1.3 -1.5,-1.2 -2.1,-2.1 -0.7,-1.3zM383.3,580.6l1.7,0.1 1.7,-2 -13.5,-0.7 -1.6,1.9zM430.9,566.9l2.4,0.8 2.2,-1.7 2.9,-1.7 3.5,-1.4 3.1,-0.8 3.6,-0.6 2.7,-0.3 6.4,0 1.2,-1.8 -3.7,-0.2 -4.7,0.1 -4.1,0.4 -3.4,0.7 -3,0.9 -3.3,1.5 -2.8,1.7z" fill="#007dff" stroke="#007dff"/><path d="M342.6,589.5l0.4,1 -2.5,-2.1 -1.3,-1.2 -0.7,-1.3 3.5,2.9zM385,578.6l1.7,0.1 1.9,-2 -13.9,-0.6 -1.5,1.9zM428.6,566l2.3,0.9 3,-2.4 2.8,-1.7 3.3,-1.5 3,-0.9 3.4,-0.7 4.1,-0.4 4.7,-0.1 3.7,0.2 1,-1.8 -5.6,-0.3 -4.7,0.1 -4,0.5 -4.5,0.9 -3.7,1.3 -3.1,1.6 -2.8,1.9z" fill="#0083fd" stroke="#0083fd"/><path d="M341.8,588.6l-3.3,-2.7 -0.7,-1.4 2.3,2zM386.8,576.7l1.8,0 1.9,-2 -14.2,-0.5 -1.6,1.9zM426.3,565.1l2.3,0.9 2.9,-2.4 2.8,-1.9 3.1,-1.6 3.7,-1.3 4.5,-0.9 4,-0.5 4.7,-0.1 5.6,0.3 0.9,-1.7 -3.8,-0.3 -5.2,-0.2 -4.5,0.3 -3.7,0.5 -3.2,1.2 -2.6,0.3 -2.9,1.3 -4.3,2.6z" fill="#0088f9" stroke="#0088f9"/><path d="M388.7,574.7l1.8,0 2.2,-2 -14.8,-0.4 -1.6,1.9zM423.8,564.3l2.5,0.8 2.8,-2.3 2.9,-2.1 2.9,-1.7 2.9,-1.3 -2.6,0 -1.9,-0.3 -4.2,2.7zM460.8,555.9l0.8,-1.7 -5.5,-0.5 -5.2,-0.1 -3.8,0.2 -1.5,1.2 -2,1.2 3.7,-0.5 4.5,-0.3 5.2,0.2zM339.6,585.8l0.5,0.7 -2.3,-2 -0.5,-1.3 1.1,1z" fill="#008df5" stroke="#008df5"/><path d="M390.7,572.7l2,0 2.4,-2.2 -7.5,0.1 -8.1,-0.2 -1.6,1.9zM421,563.6l2.8,0.7 5.3,-4.2 4.2,-2.7 -3,-0.6 -2.8,1.9zM461.6,554.2l0.8,-1.7 -9,-0.8 -4.3,0.1 -2,2 7.2,-0.2zM338.1,583.8l0.3,0.4 -1.1,-1 -0.6,-1.3z" fill="#0092f1" stroke="#0092f1"/><path d="M393,570.6l2.1,-0.1 3,-2.3 -8.4,0.3 -8.5,0 -1.7,1.9zM417.8,563l3.2,0.6 6.5,-4.9 2.8,-1.9 -2.7,-0.8 -6.7,4.9zM461,552.3l1.4,0.2 0.7,-1.7 -8.7,-0.8 -3.8,-0.1 -1.5,1.9 6.2,0zM336.6,581.8l0.2,0.2 -0.1,-0.1z" fill="#0097ed" stroke="#0097ed"/><path d="M395.6,568.4l2.5,-0.2 4.4,-2.6 -7.8,0.7 -11.7,0.2 -1.8,2 8.5,0zM413.3,562.7l4.5,0.3 3.1,-2.1 6.7,-4.9 -2.5,-0.8 -6.6,4.7 -2.9,1.7zM461.8,550.7l1.3,0.1 0.7,-1.6 -8.3,-1 -3.6,-0.2 -1.3,1.9 5.7,0.2z" fill="#009cea" stroke="#009cea"/><path d="M398.9,566l3.6,-0.4 3.4,-1.5 3.1,-0.9 4.3,-0.5 2.3,-1.1 2.9,-1.7 6.6,-4.7 -2.5,-0.8 -4.5,3.1 -3.6,2.1 -4.2,1.8 -4,1.2 -4.7,0.9 -3.9,0.5 -5.7,0.4 -7.2,0.1 -1.8,2 8.7,-0.1zM463.8,549.2l0.6,-1.7 -7.7,-1 -3.7,-0.3 -1.1,1.8 5.6,0.4z" fill="#00a1e7" stroke="#00a1e7"/><path d="M405.1,562.9l3.2,-0.9 2.9,-0.9 3.3,-1.5 2.9,-1.7 5.2,-3.5 -2.5,-0.8 -5.9,3.6 -3.3,1.5 -2.7,1 -4.2,1.1 -4.8,0.9 -5.4,0.5 -6.9,0.3 -2.1,2 11.6,-0.4 5.2,-0.6zM463.1,547.3l1.3,0.2 0.6,-1.6 -7,-1 -4,-0.4 -1,1.7 5.8,0.5z" fill="#00a5e4" stroke="#00a5e4"/><path d="M465,545.9l0.6,-1.7 -6.2,-0.9 -4.5,-0.5 -0.9,1.7 6.2,0.6zM401.1,561.4l5.1,-1.1 4.7,-1.6 4,-1.9 5.2,-3.2 -2.7,-0.8 -3.5,2.1 -3.2,1.5 -3.6,1.3 -4.2,1.1 -6.1,1 -7.6,0.6 -2.3,2.1 8.3,-0.4z" fill="#00aae1" stroke="#00aae1"/><path d="M465.6,544.2l0.5,-1.6 -5.2,-0.9 -5.2,-0.6 -0.8,1.7 4.5,0.5zM403.9,558.6l3.2,-0.9 3.6,-1.3 3.2,-1.5 2.9,-1.7 0.6,-0.4 -3.1,-0.6 -4.6,2.2 -5.8,1.9 -5.7,1.2 -6.3,0.7 -2.7,2.2 7.6,-0.6z" fill="#00aedc" stroke="#00aedc"/><path d="M464.9,542.4l1.2,0.2 0.6,-1.6 -6.6,-1.1 -3.7,-0.5 -0.7,1.7zM398.9,557.4l4,-0.8 4,-1.1 3.6,-1.4 3.8,-1.9 -3.9,-0.5 -2.6,1.1 -3.9,1.3 -4.4,1 -4,0.6 -3.6,2.5z" fill="#00b1d7" stroke="#00b1d7"/><path d="M466.7,541l0.4,-1.7 -5.4,-0.9 -4.6,-0.7 -0.7,1.7 6.1,0.8zM400.7,554.9l5.2,-1.4 4.5,-1.8 -4.2,0.2 -4.2,0.9 -3.1,1.1 -3.4,1.8z" fill="#00b5d1" stroke="#00b5d1"/><path d="M466,539.1l1.1,0.2 -0.9,-1.9 -5.3,-0.9 -3.1,-0.4 -0.7,1.6z" fill="#00b8ca" stroke="#00b8ca"/><path d="M465.3,537.3l0.9,0.1 -0.8,-1.8 -5.4,-1 -1.6,-0.2 -0.6,1.7z" fill="#00bbc4" stroke="#00bbc4"/><path d="M464.6,535.5l0.8,0.1 -0.9,-1.9 -2.7,-0.5 -2.8,-0.4 -0.6,1.6z" fill="#00bdbc" stroke="#00bdbc"/><path d="M463.9,533.6l0.6,0.1 -0.8,-1.9 -4.1,-0.7 -0.6,1.7z" fill="#00bfb5" stroke="#00bfb5"/><path d="M463.3,531.8l0.4,0 -0.8,-1.8 -2.8,-0.5 -0.5,1.6z" fill="#00c1ae" stroke="#00c1ae"/><path d="M462.5,529.9l0.4,0.1 -0.8,-1.9 -1.5,-0.2 -0.5,1.6z" fill="#00c3a6" stroke="#00c3a6"/><path d="M461.8,528.1l0.3,0 -1,-1.8 -0.5,1.6z" fill="#00c69e" stroke="#00c69e"/><path d="M461.1,526.3l0.2,0 -0.1,-0.2z" fill="#00c895" stroke="#00c895"/><path d="M361.9,612l2.2,0.1 2.1,-0.4 2.1,-0.9 2,-1.1 -3,0.1 -2.5,0.3 -1.9,0.7 -0.7,0.5z" fill="#472cbd" stroke="#472cbd"/><path d="M359.4,611.2l2.5,0.8 0.3,-0.7 0.7,-0.5 1.9,-0.7 2.5,-0.3 3,-0.1 3.1,-2.3 -6.9,-0.2 -2.7,0.3 -2.3,0.4 -1.6,0.8 -0.5,0.5 -0.3,1z" fill="#4830c8" stroke="#4830c8"/><path d="M357.7,610.1l1.7,1.1 -0.3,-1 0.3,-1 0.5,-0.5 1.6,-0.8 2.3,-0.4 2.7,-0.3 6.9,0.2 2.4,-2.1 -4.5,-0.4 -5.2,-0.1 -4.2,0.3 -2.2,0.5 -1.8,0.7 -1,1.1 -0.2,0.6 0.2,0.7z" fill="#4934d3" stroke="#4934d3"/><path d="M356.4,609l1.3,1.1 -0.8,-1.4 -0.2,-0.7 0.2,-0.6 1,-1.1 1.8,-0.7 2.2,-0.5 4.2,-0.3 5.2,0.1 4.5,0.4 2,-2.1 -6.6,-0.6 -6.8,-0.1 -3.1,1.8 -2.1,0.7 -2.1,0.3 -2.1,-0.3 -0.3,0.7 0.1,1 0.5,1z" fill="#4a39dd" stroke="#4a39dd"/><path d="M355.3,607.8l1.1,1.2 -1.1,-1.3 -0.5,-1 -0.1,-1 0.3,-0.7 -2.2,-0.8 0.1,0.6 0.4,1zM376.4,603.1l1.4,0.1 1.9,-2 -10.2,-0.9 -2.3,0 -2.8,2.2 5,0z" fill="#4a3ee5" stroke="#4a3ee5"/><path d="M354.3,606.6l1,1.2 -0.5,-0.4 -1.5,-1.6 -0.4,-1 -0.1,-0.6 -1.6,-1.1 1.2,1.8zM378.4,601.1l1.3,0.1 1.8,-1.9 -8.7,-0.9 -3.3,-0.2 -2.3,2.1 6,0.3zM450.7,580.7l2.7,-0.3 2.1,-0.7 1.3,-0.6 -3.7,0.8z" fill="#4944ec" stroke="#4944ec"/><path d="M353.4,605.3l0.9,1.3 -1.4,-1.2 -0.9,-1 -0.8,-1.3 -1.3,-1.2 1.5,1.8zM381.5,599.3l1.8,-2 -7.1,-0.8 -4.7,-0.3 -2,2 6.4,0.4zM446.6,580.3l4.1,0.4 2.4,-0.8 3.7,-0.8 1.8,-1.1 1.4,-1.2 -4.7,0.3 -3.4,0.7 -2.8,1z" fill="#4749f1" stroke="#4749f1"/><path d="M352.6,604.1l0.8,1.2 -1.5,-1.2 -3.1,-3.3 1.7,1.7zM381.9,597.1l1.4,0.2 1.7,-1.9 -7.1,-0.8 -4.6,-0.4 -1.8,2zM443.8,579.6l2.8,0.7 2.5,-1.5 2.8,-1 3.4,-0.7 4.7,-0.3 2,-2 -3.7,-0.1 -2.9,0.3 -4.6,0.8 -3.6,1.4 -2.1,1.3z" fill="#454ff6" stroke="#454ff6"/><path d="M351.9,602.8l0.7,1.3 -1.6,-1.2 -1.4,-1.3 -1.7,-2.1 1.8,1.7zM383.7,595.2l1.3,0.2 1.7,-2 -7.1,-0.8 -4.6,-0.4 -1.7,2zM441.4,578.8l2.4,0.8 2.6,-2 3.4,-1.5 3.1,-0.8 2.5,-0.3 2.9,-0.3 3.7,0.1 1.4,-1.9 -3,-0.2 -4.7,0.2 -2.6,0.3 -3.4,0.7 -2.8,0.9 -2.4,1.2 -1.9,1.4z" fill="#4254fa" stroke="#4254fa"/><path d="M351.2,601.5l0.7,1.3 -1.7,-1.2 -1.9,-1.6 -1.3,-1.7 1.9,1.6zM386.7,593.4l1.7,-1.9 -5.6,-0.7 -6.1,-0.5 -1.7,1.9zM439.1,577.9l2.3,0.9 1.8,-1.9 2.1,-1.3 3.4,-1.4 3.2,-0.8 5.3,-0.6 6.2,0.1 1.3,-1.8 -3.7,-0.3 -4.9,0 -4.1,0.4 -3.4,0.7 -2.8,1 -3.1,1.6 -1.8,1.4z" fill="#3d5afd" stroke="#3d5afd"/><path d="M350.5,600.2l0.7,1.3 -2.3,-1.6 -1.9,-1.6 -0.8,-1.3 2,1.6zM387.1,591.3l1.3,0.2 1.8,-2 -5.8,-0.6 -6.1,-0.5 -1.6,1.9zM436.9,577l2.2,0.9 1.8,-2 1.8,-1.4 3.1,-1.6 2.8,-1 3.4,-0.7 4.1,-0.4 4.9,0 3.7,0.3 1,-1.8 -5.7,-0.5 -4.9,0.1 -4.1,0.4 -3.4,0.7 -2.8,0.9 -3.2,1.6 -2.4,1.9z" fill="#385fff" stroke="#385fff"/><path d="M349.9,598.9l0.6,1.3 -1.7,-1.2 -2.6,-2 -0.7,-1.3zM388.8,589.4l1.4,0.1 1.8,-1.9 -4.4,-0.5 -7.6,-0.6 -1.7,1.9zM434.8,576.1l2.1,0.9 2.3,-2.6 2.4,-1.9 3.2,-1.6 2.8,-0.9 3.4,-0.7 4.1,-0.4 4.9,-0.1 5.7,0.5 1,-1.7 -7.7,-0.7 -6.6,0.2 -2.9,1.7 -2.1,0.7 -2,0.4 -3.7,0 -0.4,0.2 -2.1,1.3 -1.7,1.5 -1.5,1.5z" fill="#2f65ff" stroke="#2f65ff"/><path d="M349.3,597.5l0.6,1.4 -1.8,-1.2 -2.6,-2 -0.7,-1.3zM392,587.6l2,-2 -3.1,-0.3 -9.3,-0.8 -1.6,2zM432.6,575.2l2.2,0.9 1.5,-2 1.4,-1.5 2.2,-1.6 1.8,-1.1 -3.3,-0.6 -3.1,2.6zM466.7,567.6l0.8,-1.7 -3.7,-0.6 -5.8,-0.4 -3.3,0 -2.3,2.2 6.6,-0.2z" fill="#1b6bff" stroke="#1b6bff"/><path d="M348.8,596.2l0.5,1.3 -2.4,-1.5 -2.1,-1.6 -0.6,-1.3zM394,585.6l2,-2.1 -12.7,-0.9 -1.7,1.9zM430.3,574.3l2.3,0.9 2.7,-3.3 3.1,-2.6 -2.7,-0.7 -2.6,2.3zM467.5,565.9l0.8,-1.7 -7.6,-1 -4.3,-0.2 -1.7,1.9 7,0.2z" fill="#0071ff" stroke="#0071ff"/><path d="M348.6,595.7l0.2,0.5 -0.7,-0.4 -3.9,-2.7 -0.7,-1.3 3,2zM394.4,583.4l1.6,0.1 2.3,-2.1 -13.3,-0.7 -1.7,1.9zM427.8,573.5l2.5,0.8 2.8,-3.4 2.6,-2.3 -2.4,-0.9 -2.4,2.3zM467.1,563.9l1.2,0.3 0.8,-1.7 -7.3,-1 -4.1,-0.3 -1.3,1.8 4.3,0.2z" fill="#0077ff" stroke="#0077ff"/><path d="M396.6,581.3l1.7,0.1 2.6,-2.2 -14.2,-0.5 -1.7,2zM425.1,572.8l2.7,0.7 3.1,-3.5 2.4,-2.3 -2.4,-0.8zM467.8,562.3l1.3,0.2 0.6,-1.7 -6.8,-1 -4,-0.4 -1.2,1.8 6.2,0.5zM346.3,593.6l-2.8,-1.8 -0.5,-1.3 1,0.7z" fill="#007dff" stroke="#007dff"/><path d="M399,579.2l1.9,0 3.2,-2.3 -7.3,0.1 -8.2,-0.3 -1.9,2zM421.7,572.2l3.4,0.6 5.8,-5.9 -2.3,-0.9 -4.3,4zM469.7,560.8l0.7,-1.6 -6.2,-1.1 -4.3,-0.5 -1,1.8 6.3,0.6zM343.3,590.4l0.7,0.8 -1,-0.7 -0.4,-1z" fill="#0083fd" stroke="#0083fd"/><path d="M401.9,577l2.2,-0.1 2.6,-1.6 2.8,-1.3 -7.8,0.7 -11.2,0 -1.9,2zM416.1,572.2l3,-0.2 2.6,0.2 2.6,-2.2 4.3,-4 -2.3,-0.9 -5.7,4.7 -2.1,1.3zM469.2,558.9l1.2,0.3 0.6,-1.7 -7.7,-1.3 -2.5,-0.3 -0.9,1.7z" fill="#0088f9" stroke="#0088f9"/><path d="M405.8,574.4l3.7,-0.4 3.4,-1.2 3.2,-0.6 0.8,-0.3 2.3,-1.2 2,-1.4 5.1,-4.2 -2.5,-0.8 -3.9,2.9 -2.9,1.7 -3.4,1.5 -3.1,0.8 -3.5,0.7 -4,0.4 -10.3,0.4 -2.2,2 9.6,0zM471,557.5l0.6,-1.6 -6.9,-1.3 -3.1,-0.4 -0.8,1.7 4.9,0.6z" fill="#008df5" stroke="#008df5"/><path d="M471.6,555.9l0.5,-1.7 -5.8,-1.1 -3.9,-0.6 -0.8,1.7 5.6,0.8zM409,571.5l3.6,-0.8 3.6,-1.4 3.7,-2.1 3.9,-2.9 -2.8,-0.7 -2.3,1.6 -3,1.6 -3.6,1.4 -3.1,0.9 -6.1,0.9 -7.8,0.5 -2.4,2.2 8.9,-0.3 4.1,-0.4z" fill="#0092f1" stroke="#0092f1"/><path d="M471,554l1.1,0.2 0.6,-1.6 -7.4,-1.4 -2.2,-0.4 -0.7,1.7zM407.4,569.4l3.8,-0.9 3.6,-1.3 3.2,-1.6 3,-2 -3.2,-0.6 -3.4,1.8 -4.6,1.6 -5.6,1.2 -6.1,0.6 -3,2.3 6.5,-0.3z" fill="#0097ed" stroke="#0097ed"/><path d="M472.7,552.6l0.4,-1.4 -0.1,-0.3 -6,-1.2 -3.2,-0.5 -0.7,1.6zM405,567.5l3.8,-0.8 3,-0.9 3.4,-1.4 2.6,-1.4 -4.5,-0.3 -4.8,1.7 -6,1.2 -4.4,2.6z" fill="#009cea" stroke="#009cea"/><path d="M472.1,550.7l0.9,0.2 -1.1,-2 -3.1,-0.6 -4.4,-0.8 -0.6,1.7zM402.5,565.6l6,-1.2 4.8,-1.7 -2.2,0.2 -3.1,0.6 -3.1,1z" fill="#00a1e7" stroke="#00a1e7"/><path d="M471.5,548.9l0.4,0 -1,-1.9 -3,-0.6 -2.9,-0.5 -0.6,1.6z" fill="#00a5e4" stroke="#00a5e4"/><path d="M469.8,546.8l1.1,0.2 -1,-2 -4.3,-0.8 -0.6,1.7z" fill="#00aae1" stroke="#00aae1"/><path d="M469.1,544.9l0.8,0.1 -1,-1.9 -2.8,-0.5 -0.5,1.6z" fill="#00aedc" stroke="#00aedc"/><path d="M468.5,543.1l0.4,0 -0.9,-1.9 -1.3,-0.2 -0.6,1.6z" fill="#00b1d7" stroke="#00b1d7"/><path d="M467.8,541.2l0.2,0 -0.9,-1.8 -0.4,1.6z" fill="#00b5d1" stroke="#00b5d1"/><path d="M367.2,616.4l2.9,0.3 2.1,-0.3 3.1,-1.2 2.7,-1.8 -2.2,-0.4 -4,-0.4 -3.1,0.1 -1.2,0.2 -1.7,0.7 -0.4,0.6 0.3,0.9z" fill="#4528b2" stroke="#4528b2"/><path d="M365.1,615.4l2.1,1 -1.5,-1.3 -0.3,-0.9 0.4,-0.6 1.7,-0.7 1.2,-0.2 3.1,-0.1 4,0.4 2.2,0.4 2.9,-2.2 -4.5,-1 -6.1,-0.5 -2,1.1 -2.1,0.9 -2.1,0.4 -2.2,-0.1 0,0.6 0.7,1.1z" fill="#472cbd" stroke="#472cbd"/><path d="M363.6,614.4l1.5,1 -2.5,-1.7 -0.7,-1.1 0,-0.6 -2.5,-0.8 1.7,1.7zM380.9,611.2l2.3,-2.1 -3.2,-0.8 -3.7,-0.6 -2.9,-0.3 -3.1,2.3 6.1,0.5zM457.2,589.2l3.2,-0.4 2.9,-1.2 -3.4,0.6z" fill="#4830c8" stroke="#4830c8"/><path d="M362.3,613.2l1.3,1.2 -2,-1.2 -1.5,-1.2 -0.7,-0.8 -1.7,-1.1 2,1.6zM383.2,609.1l2,-2 -5.5,-1.3 -3.9,-0.5 -2.4,2.1 5.4,0.7zM453.2,588.8l4,0.4 2.7,-1 3.4,-0.6 3.1,-2.3 -4.5,0 -3.7,0.6 -1.9,0.6 -1.5,0.8z" fill="#4934d3" stroke="#4934d3"/><path d="M361.3,612l1,1.2 -2,-1.1 -1.6,-1.1 -2.3,-2 2.2,1.6zM385.2,607.1l2,-2 -4.3,-1.1 -5.1,-0.8 -2,2.1 5.1,0.7zM450.5,588.1l2.7,0.7 1.6,-1.5 1.5,-0.8 1.9,-0.6 3.7,-0.6 4.5,0 1.9,-2 -3.2,-0.2 -3.3,0 -2.7,0.2 -2.4,0.4 -1.9,0.7 -2.3,1.2 -1.4,1.2z" fill="#4a39dd" stroke="#4a39dd"/><path d="M360.3,610.8l1,1.2 -2.1,-1.1 -2.3,-1.5 -1.6,-1.6 2.3,1.6zM387.2,605.1l1.8,-2 -4.3,-1 -5,-0.9 -1.9,2 5.1,0.8zM448.2,587.2l2.3,0.9 0.8,-1.5 1.8,-1.5 2.6,-1.1 2.1,-0.5 2.6,-0.3 3,-0.2 4.9,0.3 1.5,-1.9 -4.4,-0.4 -3.4,-0.1 -3,0.1 -3.6,0.6 -2.9,1 -2.2,1.2 -1.5,1.6z" fill="#4a3ee5" stroke="#4a3ee5"/><path d="M359.4,609.5l0.9,1.3 -2.1,-1.1 -2.9,-1.9 -1,-1.2 2.4,1.5zM388,602.8l1,0.3 1.8,-2 -4.3,-1 -5,-0.8 -1.8,1.9 5,0.9zM446,586.3l2.2,0.9 0.6,-1.8 1.5,-1.6 2.2,-1.2 2.9,-1 3.6,-0.6 3,-0.1 3.4,0.1 4.4,0.4 1.2,-1.8 -7,-0.8 -3.4,0 -3.8,0.3 -1.3,0.6 -2.1,0.7 -2.7,0.3 -1.8,1 -1.2,1 -1.1,1.3 -0.5,1.2z" fill="#4944ec" stroke="#4944ec"/><path d="M358.6,608.3l0.8,1.2 -2.1,-1 -3,-1.9 -0.9,-1.3 2.5,1.5zM390.8,601.1l1.8,-2 -4.3,-1 -5,-0.8 -1.8,2 5,0.8zM443.9,585.4l2.1,0.9 0.3,-1.7 0.9,-1.4 1.7,-1.5 1.8,-1 -4.1,-0.4 -1.3,1.3 -0.8,1.1 -0.5,1.3zM469.7,579.4l1.3,0.2 1,-1.7 -5.4,-0.9 -3.9,-0.2 -2.7,0 -1.4,1.2 -1.8,1.1 5.5,-0.3 3.7,0.2z" fill="#4749f1" stroke="#4749f1"/><path d="M357.9,607l0.7,1.3 -2.7,-1.5 -2.5,-1.5 -0.8,-1.2 2.5,1.5zM392.6,599.1l1.9,-1.9 -4.5,-1 -5,-0.8 -1.7,1.9 5,0.8zM441.9,584.4l2,1 0.1,-1.4 0.5,-1.3 0.8,-1.1 1.3,-1.3 -2.8,-0.7 -1.1,1.4 -0.6,1.2 -0.2,1.2zM470.8,577.6l1.2,0.3 1,-1.8 -7.7,-1.1 -3.3,-0.2 -2,2 4.6,0.1z" fill="#454ff6" stroke="#454ff6"/><path d="M357.2,605.7l0.7,1.3 -2.8,-1.4 -2.5,-1.5 -0.7,-1.3zM394.5,597.2l1.8,-2 -3.3,-0.8 -6.3,-1 -1.7,2 5,0.8zM439.9,583.5l2,0.9 0,-1 0.2,-1.2 0.6,-1.2 1.1,-1.4 -2.4,-0.8 -0.9,1.3 -0.5,1.2 -0.2,1.1zM471.8,575.9l1.2,0.2 0.8,-1.7 -7.6,-1.3 -2.8,-0.2 -1.4,1.9 5.5,0.4z" fill="#4254fa" stroke="#4254fa"/><path d="M356.6,604.4l0.6,1.3 -2.1,-1.1 -3.2,-1.8 -0.7,-1.3zM395.3,594.9l1,0.3 2,-2 -4.6,-1 -5.3,-0.7 -1.7,1.9zM437.8,582.6l2.1,0.9 -0.1,-1.1 0.2,-1.1 0.5,-1.2 0.9,-1.3 -2.3,-0.9 -1.2,2.5 -0.2,1.1zM473.8,574.4l0.8,-1.7 -7.4,-1.3 -2.5,-0.3 -1.3,1.8 5.1,0.5z" fill="#3d5afd" stroke="#3d5afd"/><path d="M356,603.1l0.6,1.3 -2.9,-1.4 -2.5,-1.5 -0.7,-1.3zM397.2,592.9l1.1,0.3 2,-2.1 -3.5,-0.6 -6.6,-1 -1.8,2zM435.6,581.7l2.2,0.9 -0.1,-1.1 0.2,-1.1 1.2,-2.5 -2.2,-0.9 -1.1,2.5zM474.6,572.7l0.7,-1.7 -6.9,-1.4 -2.7,-0.3 -1,1.8 5,0.6z" fill="#385fff" stroke="#385fff"/><path d="M355.4,601.7l0.6,1.4 -2.9,-1.4 -2.6,-1.5 -0.6,-1.3zM399.2,590.9l1.1,0.2 2.3,-2.1 -3.7,-0.6 -6.9,-0.8 -1.8,1.9zM433.3,580.8l2.3,0.9 0.2,-2.2 1.1,-2.5 -2.1,-0.9 -1.2,2.5zM475.3,571l0.7,-1.6 -6.3,-1.4 -3,-0.4 -1,1.7 5.3,0.8z" fill="#2f65ff" stroke="#2f65ff"/><path d="M354.8,600.4l0.6,1.3 -2.2,-1 -3.3,-1.8 -0.6,-1.4zM401.4,588.8l1.2,0.2 2.5,-2.1 -2.6,-0.4 -8.5,-0.9 -2,2zM430.7,580l2.6,0.8 0.3,-2.2 1.2,-2.5 -2.2,-0.9 -1.3,2.5zM475,569.1l1,0.3 0.7,-1.7 -5.5,-1.2 -3.7,-0.6 -0.8,1.7z" fill="#1b6bff" stroke="#1b6bff"/><path d="M354.5,599.6l0.3,0.8 -5.5,-2.9 -0.5,-1.3 3.5,2.3zM405.1,586.9l3,-2.3 -12.1,-1.1 -2,2.1zM427.6,579.4l3.1,0.6 0.6,-2.3 1.3,-2.5 -2.3,-0.9 -1.6,2.6zM476.7,567.7l0.6,-1.6 -4.4,-1.1 -4.6,-0.8 -0.8,1.7 3.7,0.6z" fill="#0071ff" stroke="#0071ff"/><path d="M406.7,584.4l1.4,0.2 4.5,-2.7 -14.3,-0.5 -2.3,2.1zM423.1,579.1l4.5,0.3 1.1,-2.5 1.6,-2.6 -2.5,-0.8 -2.8,3.5zM476.3,565.8l1,0.3 0.6,-1.7 -6.3,-1.5 -2.5,-0.4 -0.8,1.7zM349.3,596.3l0.7,0.6 -1.2,-0.7 -0.2,-0.5z" fill="#0077ff" stroke="#0077ff"/><path d="M410.6,581.9l2,0 2.1,-1 3.2,-1 2,-0.5 3.2,-0.3 1.9,-2.1 2.8,-3.5 -2.7,-0.7 -2,1.8 -2.5,1.9 -2.4,1.2 -3.1,0.8 -5.2,0.7 -9,0 -2.6,2.2zM477.9,564.4l0.5,-1.6 -4.9,-1.2 -3.8,-0.8 -0.6,1.7z" fill="#007dff" stroke="#007dff"/><path d="M478.4,562.8l0.5,-1.6 -3.3,-0.9 -5.2,-1.1 -0.7,1.6zM411.9,579l4.3,-0.7 2.8,-1 2.9,-1.7 3.2,-2.8 -3.4,-0.6 -3.1,1.9 -3.6,1.4 -4.5,0.9 -6.4,0.5 -3.2,2.3 6,0.1z" fill="#0083fd" stroke="#0083fd"/><path d="M478.9,561.2l0.2,-0.5 -1.1,-1.6 -3.7,-0.9 -3.3,-0.7 -0.6,1.7zM409.5,576.5l3.4,-0.5 3.1,-0.8 3.4,-1.5 2.3,-1.5 -2.6,-0.2 -3,0.2 -2.9,1 -3.7,0.8 -2.8,1.3 -2.6,1.6z" fill="#0088f9" stroke="#0088f9"/><path d="M477.5,559l0.5,0.1 -1.4,-2.1 -5,-1.1 -0.6,1.6zM409.5,574l3.7,-0.8 2.9,-1 -3.2,0.6z" fill="#008df5" stroke="#008df5"/><path d="M475.9,556.9l0.7,0.1 -1.3,-2.1 -3.2,-0.7 -0.5,1.7z" fill="#0092f1" stroke="#0092f1"/><path d="M474.3,554.7l1,0.2 -1.2,-2 -1.4,-0.3 -0.6,1.6z" fill="#0097ed" stroke="#0097ed"/><path d="M473.8,552.8l0.3,0.1 -1,-1.7 -0.4,1.4z" fill="#009cea" stroke="#009cea"/><path d="M374.8,618.6l2.3,0.1 2.1,-0.5 3.1,-1.3 0.8,-0.5 -0.1,-0.2 -0.5,-0.7 -1.1,-0.8 -3.4,-1.3 -2.7,1.8 -3.1,1.2 -2.1,0.3 -2.9,-0.3 3.1,1.3zM462.5,595.1l1.8,0 2.1,-0.3 2.1,-0.6 2.2,-1.3 -3.8,-0.1 -2.4,0.4 -1.6,0.8 -0.4,0.6z" fill="#4528b2" stroke="#4528b2"/><path d="M371.1,617.6l3.7,1 -2.4,-0.4 -3,-0.8 -4.3,-2 3.2,1.4zM383.1,616.4l3.3,-2.4 -1.5,-1.2 -1.4,-0.7 -2.6,-0.9 -2.9,2.2 3.4,1.3 1.1,0.8zM459.1,594.5l3.4,0.6 0,-0.5 0.4,-0.6 1.6,-0.8 2.4,-0.4 3.8,0.1 2.6,-2.2 -2.4,-0.4 -3.6,-0.3 -3.1,0.1 -2.3,0.4 -1.8,0.7 -1.2,1 -0.2,0.6 -0.1,0.8z" fill="#472cbd" stroke="#472cbd"/><path d="M370.5,616.8l1.7,1 -3.9,-1 -3.2,-1.4 -1.5,-1 3.1,1.3zM386.4,614l2.6,-2.1 -2.4,-1.6 -3.4,-1.2 -2.3,2.1 3.4,1.3 1.2,0.7zM456.6,593.7l2.5,0.8 -0.5,-0.9 0.1,-0.8 0.2,-0.6 1.2,-1 1.8,-0.7 2.3,-0.4 3.1,-0.1 3.6,0.3 2.4,0.4 1.8,-1.9 -4.1,-0.8 -5.9,-0.5 -1.8,0.1 -2.9,1.2 -3.2,0.4 -1.1,1 -0.6,1.2 0.2,1z" fill="#4830c8" stroke="#4830c8"/><path d="M369.1,615.7l1.4,1.1 -3.8,-1.1 -3.1,-1.3 -1.3,-1.2 3.2,1.3zM389,611.9l2.2,-2.1 -2.5,-1.5 -3.5,-1.2 -2,2 3.4,1.2zM454.4,592.8l2.2,0.9 -0.9,-1.3 -0.2,-1 0.6,-1.2 1.1,-1 -4,-0.4 -0.3,1.2 0.1,1 0.6,1zM475.1,588.8l1.3,-1.9 -2.4,-0.6 -5.2,-0.8 -2.4,-0.2 -3.1,2.3 5.5,0.1z" fill="#4934d3" stroke="#4934d3"/><path d="M367,614.2l1,0.3 1.1,1.2 -4.5,-1.5 -2.3,-1 -1,-1.2zM391.2,609.8l2,-2 -2.6,-1.5 -3.4,-1.2 -2,2 3.5,1.2zM452.4,591.9l2,0.9 -0.8,-0.8 -0.6,-1 -0.1,-1 0.3,-1.2 -2.7,-0.7 0,1.1 0.3,1 0.6,0.9zM476.4,586.9l1.2,-1.8 -6,-1.3 -3.3,-0.5 -1.9,2 4.8,0.5z" fill="#4a39dd" stroke="#4a39dd"/><path d="M367,613.3l1,1.2 -3.6,-1.2 -3.1,-1.3 -1,-1.2 3.1,1.3zM393.2,607.8l2,-2.1 -2.7,-1.4 -3.5,-1.2 -1.8,2 3.4,1.2zM450.4,590.9l2,1 -1,-0.8 -0.6,-0.9 -0.3,-1 0,-1.1 -2.3,-0.9 0.1,1.1 0.4,0.9zM477.6,585.1l1,-1.7 -6.3,-1.6 -2.5,-0.4 -1.5,1.9 6.2,1z" fill="#4a3ee5" stroke="#4a3ee5"/><path d="M366.1,612.1l0.9,1.2 -3.6,-1.2 -3.1,-1.3 -0.9,-1.3zM395.2,605.7l1.9,-2 -2.7,-1.4 -3.6,-1.2 -1.8,2 3.5,1.2zM448.5,590l1.9,0.9 -1.7,-1.7 -0.4,-0.9 -0.1,-1.1 -2.2,-0.9 0.2,1 0.5,1zM478.6,583.4l0.9,-1.7 -6.1,-1.6 -2.4,-0.5 -1.2,1.8 5.6,1.1z" fill="#4944ec" stroke="#4944ec"/><path d="M365.2,610.8l0.9,1.3 -3.5,-1.2 -3.2,-1.4 -0.8,-1.2zM397.1,603.7l1.9,-2 -2.8,-1.4 -3.6,-1.2 -1.8,2 3.6,1.2zM446.6,589l1.9,1 -1.8,-1.7 -0.5,-1 -0.2,-1 -2.1,-0.9 0.3,1 0.6,0.9zM479.5,581.7l0.8,-1.7 -5.9,-1.7 -2.4,-0.4 -1,1.7 5.6,1.2z" fill="#4749f1" stroke="#4749f1"/><path d="M364.5,609.5l0.7,1.3 -3.4,-1.2 -3.2,-1.3 -0.7,-1.3zM399,601.7l1.9,-2 -2.8,-1.4 -3.6,-1.1 -1.9,1.9 3.6,1.2zM444.6,588l2,1 -1.8,-1.7 -0.6,-0.9 -0.3,-1 -2,-1 0.3,1 0.6,1zM480.3,580l0.8,-1.7 -5.2,-1.5 -2.9,-0.7 -1,1.8 5.5,1.2z" fill="#454ff6" stroke="#454ff6"/><path d="M362.9,607.9l0.9,0.3 0.7,1.3 -3.5,-1.2 -3.1,-1.3 -0.7,-1.3zM400.9,599.7l2,-2 -2.8,-1.4 -3.8,-1.1 -1.8,2 3.6,1.1zM442.6,587.1l2,0.9 -1.8,-1.6 -0.6,-1 -0.3,-1 -2,-0.9 0.3,1 0.6,0.9zM481.1,578.3l0.7,-1.7 -4.2,-1.3 -3.8,-0.9 -0.8,1.7z" fill="#4254fa" stroke="#4254fa"/><path d="M363.1,606.9l0.7,1.3 -3.5,-1.2 -3.1,-1.3 -0.6,-1.3zM402.9,597.7l2.1,-2 -2.9,-1.4 -3.8,-1.1 -2,2 3.8,1.1zM440.5,586.2l2.1,0.9 -1.8,-1.7 -0.6,-0.9 -0.3,-1 -2.1,-0.9 0.3,1 0.6,0.9zM481.8,576.6l0.7,-1.7 -2.8,-0.9 -5.1,-1.3 -0.8,1.7z" fill="#3d5afd" stroke="#3d5afd"/><path d="M362.5,605.6l0.6,1.3 -3.4,-1.2 -3.1,-1.3 -0.6,-1.3zM405,595.7l2.3,-2.1 -2.1,-1.1 -4.9,-1.4 -2,2.1 3.8,1.1zM438.3,585.3l2.2,0.9 -1.8,-1.7 -0.6,-0.9 -0.3,-1 -2.2,-0.9 0.3,1 0.5,0.9 0.8,0.9zM482.5,574.9l0.6,-1.6 -5.5,-1.7 -2.3,-0.6 -0.7,1.7 5.1,1.3z" fill="#385fff" stroke="#385fff"/><path d="M361.9,604.3l0.6,1.3 -3.4,-1.2 -3.1,-1.3 -0.6,-1.4zM407.3,593.6l2.6,-2.2 -2.2,-1 -5.1,-1.4 -2.3,2.1 4,1.1zM435.7,584.5l2.6,0.8 -1.1,-0.8 -0.8,-0.9 -0.5,-0.9 -0.3,-1 -2.3,-0.9 0.2,1 0.4,1 0.8,0.9zM482.2,573l0.9,0.3 0.6,-1.7 -7.7,-2.2 -0.7,1.6z" fill="#2f65ff" stroke="#2f65ff"/><path d="M361.3,603l0.6,1.3 -3.4,-1.3 -3.1,-1.3 -0.6,-1.3zM409.9,591.4l3,-2.3 -2.3,-1 -5.5,-1.2 -2.5,2.1 4.2,1.1zM432.7,583.8l3,0.7 -1,-0.8 -0.8,-0.9 -0.4,-1 -0.2,-1 -2.6,-0.8 0,1.1 0.3,1 0.7,0.9zM483.7,571.6l0.6,-1.6 -7.6,-2.3 -0.7,1.7z" fill="#1b6bff" stroke="#1b6bff"/><path d="M360.8,601.6l0.5,1.4 -6.5,-2.6 -0.3,-0.8zM412.9,589.1l4.3,-2.6 -1.6,-0.7 -3.4,-0.7 -4.1,-0.5 -3,2.3 4.5,0.9zM428.4,583.5l4.3,0.3 -1,-0.8 -0.7,-0.9 -0.3,-1 0,-1.1 -3.1,-0.6 -0.5,1.7 0.1,1.1 0.6,0.9zM484.3,570l0.5,-1.6 -7.5,-2.3 -0.6,1.6z" fill="#0071ff" stroke="#0071ff"/><path d="M360.5,601l0.3,0.6 -2.1,-0.7zM417.2,586.5l2.5,-1.2 3.1,-1 3.1,-0.6 2.5,-0.2 -0.6,-0.4 -0.6,-0.9 -0.1,-1.1 0.5,-1.7 -4.5,-0.3 -2,1.4 -1.7,0.7 -3.6,0.6 -3.2,0.1 -4.1,2.4 -0.4,0.3 6.5,0.9zM484.8,568.4l0.3,-0.8 -1.5,-1.5 -5.7,-1.7 -0.6,1.7z" fill="#0077ff" stroke="#0077ff"/><path d="M483.6,566.1l-2.2,-2.5 -3,-0.8 -0.5,1.6zM418.2,581.5l2.9,-1 2,-1.4 -1.1,0.1 -3.1,0.4 -2.1,0.6 -4.2,1.7 3.2,-0.1z" fill="#007dff" stroke="#007dff"/><path d="M481.3,563.6l-1.7,-2.3 -0.7,-0.1 -0.5,1.6z" fill="#0083fd" stroke="#0083fd"/><path d="M478.9,561.2l0.7,0.1 -0.5,-0.6z" fill="#0088f9" stroke="#0088f9"/><path d="M467.5,598.1l2.8,0.2 3.1,-0.4 2.1,-0.8 2.9,-1.9 -3.2,-1.3 -4.5,-1 -2.2,1.3 -2.1,0.6 -2.1,0.3 -1.8,0 0.6,1 0.9,0.6 1.7,0.8zM378.4,618.8l1.6,-0.2 2,-0.6 0.7,-0.5 0.3,-0.5 0.1,-0.6 -1.8,1 -2.1,0.8 -2.1,0.5 -2.3,-0.1z" fill="#4528b2" stroke="#4528b2"/><path d="M464.7,597.4l2.8,0.7 -1.8,-0.6 -1.7,-0.8 -0.9,-0.6 -0.6,-1 -3.4,-0.6 1,0.9 1.2,0.7zM478.4,595.2l2.1,-2 -4.1,-1.7 -3.1,-0.8 -2.6,2.2 4.5,1zM383.3,618.1l2.2,-0.8 1.1,-0.9 0.3,-0.7 0.1,-0.7 -0.6,-1 -3.3,2.4 0,0.6 -0.4,0.5 -1.6,0.8 -2.4,0.4 -2.3,0.1 -2.4,-0.3 -1.8,-0.7 2.5,0.5 3.6,0.3 3,-0.2z" fill="#472cbd" stroke="#472cbd"/><path d="M380,618.1l4.1,-0.3 2.1,-0.5 2.2,-1 1,-0.8 0.5,-0.7 0.1,-1.1 -0.3,-1 -0.7,-0.8 -2.6,2.1 0.6,1 -0.1,0.7 -0.3,0.7 -1.1,0.9 -2.2,0.8 -3.4,0.4 -3.8,-0.1 -3.9,-0.6 -1.7,-1 4.7,0.9zM462.4,596.5l2.3,0.9 -3.4,-1.3 -1.2,-0.7 -1,-0.9 -2.5,-0.8 2.4,1.6zM480.5,593.2l1.5,-1.9 -4,-1.7 -2.9,-0.8 -1.8,1.9 4,1.1z" fill="#4830c8" stroke="#4830c8"/><path d="M377.6,617.2l1.5,0.1 1.9,0.6 1.3,0.1 -1.9,0.1 -3.8,-0.2 -3.9,-0.6 -2.2,-0.5 -1.4,-1.1 4.4,1zM388.4,616.3l3.9,-2.5 0.3,-0.6 0.1,-0.8 -0.1,-0.8 -0.6,-1 -0.8,-0.8 -2.2,2.1 0.9,1.3 0.1,1 -0.5,1.2zM460.3,595.6l2.1,0.9 -3.4,-1.2 -2.4,-1.6 -2.2,-0.9 2.5,1.5zM482,591.3l1.2,-1.9 -3.9,-1.6 -2.9,-0.9 -1.3,1.9 2.9,0.8z" fill="#4934d3" stroke="#4934d3"/><path d="M375.9,616.2l1.4,0.2 1.8,0.9 -3,-0.2 -3.8,-0.6 -3.2,-0.8 -1.1,-1.2 4.2,1.1zM392.3,613.8l2.8,-2.2 0,-0.3 0,-0.8 -0.3,-1 -0.7,-0.9 -0.9,-0.8 -2,2 0.8,0.8 0.6,1 0.1,1zM458.4,594.6l1.9,1 -3.4,-1.3 -2.5,-1.5 -2,-0.9 2.5,1.5zM483.2,589.4l1.1,-1.7 -4,-1.7 -2.7,-0.9 -1.2,1.8 3.7,1.2z" fill="#4a39dd" stroke="#4a39dd"/><path d="M375.8,615.3l1.5,1.1 -5.1,-0.8 -4.2,-1.1 -1,-1.2 4,1.1zM395.1,611.6l2.3,-2.1 -0.1,-1.1 -0.4,-0.9 -1.7,-1.8 -2,2.1 0.9,0.8 0.7,0.9 0.3,1zM456.6,593.6l1.8,1 -3.5,-1.2 -4.5,-2.5 2.7,1.5zM484.3,587.7l1,-1.8 -4,-1.6 -2.7,-0.9 -1,1.7 3.6,1.3z" fill="#4a3ee5" stroke="#4a3ee5"/><path d="M374.6,614.1l1.2,1.2 -4.8,-0.9 -4,-1.1 -0.9,-1.2 3.9,1.1zM397.4,609.5l2.2,-2.1 -0.2,-1 -0.5,-1 -1.8,-1.7 -1.9,2 1.7,1.8 0.4,0.9zM453.8,592.3l0.9,0.3 1.9,1 -3.5,-1.2 -4.6,-2.4 1.9,1.1zM485.3,585.9l0.8,-1.7 -3.9,-1.6 -2.7,-0.9 -0.9,1.7 3.6,1.2z" fill="#4944ec" stroke="#4944ec"/><path d="M373.5,612.9l1.1,1.2 -4.6,-0.9 -3.9,-1.1 -0.9,-1.3 3.9,1.1zM399.6,607.4l2,-2 -0.2,-1 -0.6,-1 -1.8,-1.7 -1.9,2 1.8,1.7 0.5,1zM452.9,591.6l1.8,1 -3.5,-1.2 -4.6,-2.4 2.7,1.4zM486.1,584.2l0.8,-1.7 -6.6,-2.5 -0.8,1.7 2.7,0.9z" fill="#4749f1" stroke="#4749f1"/><path d="M372.6,611.7l0.9,1.2 -4.4,-1 -3.9,-1.1 -0.7,-1.3 3.8,1.2zM401.6,605.4l2.1,-2.1 -0.3,-1 -0.6,-0.9 -1.9,-1.7 -1.9,2 1.8,1.7 0.6,1zM451.1,590.6l1.8,1 -3.6,-1.2 -4.7,-2.4 2.8,1.4zM486.9,582.5l0.8,-1.7 -6.6,-2.5 -0.8,1.7z" fill="#454ff6" stroke="#454ff6"/><path d="M370.7,610.2l1,0.2 0.9,1.3 -5.3,-1.3 -2.8,-0.9 -0.7,-1.3zM403.7,603.3l2,-2 -0.3,-1 -0.6,-0.9 -1.9,-1.7 -2,2 1.9,1.7 0.6,0.9zM449.2,589.6l1.9,1 -3.7,-1.2 -4.8,-2.3 2.9,1.4zM487.7,580.8l0.7,-1.6 -6.6,-2.6 -0.7,1.7z" fill="#4254fa" stroke="#4254fa"/><path d="M369.9,608.9l1.1,0.3 0.7,1.2 -5.1,-1.3 -2.8,-0.9 -0.7,-1.3zM405.7,601.3l2.1,-2 -0.3,-1 -0.6,-1 -1.9,-1.6 -2.1,2 1.9,1.7 0.6,0.9zM447.3,588.7l1.9,0.9 -3.7,-1.1 -5,-2.3 3,1.3zM488.4,579.2l0.6,-1.7 -6.5,-2.6 -0.7,1.7z" fill="#3d5afd" stroke="#3d5afd"/><path d="M370.2,607.9l0.8,1.3 -4.2,-1.1 -3.7,-1.2 -0.6,-1.3zM407.8,599.3l2.2,-2.1 -0.3,-1 -0.5,-1 -0.8,-0.8 -1.1,-0.8 -2.3,2.1 1.9,1.6 0.6,1zM445.3,587.7l2,1 -3.8,-1.2 -5.2,-2.2 3,1.3zM489,577.5l0.6,-1.6 -6.5,-2.6 -0.6,1.6z" fill="#385fff" stroke="#385fff"/><path d="M369.5,606.6l0.7,1.3 -4,-1.1 -3.7,-1.2 -0.6,-1.3zM410,597.2l2.3,-2.1 -0.2,-1.1 -0.4,-0.9 -0.8,-0.9 -1,-0.8 -2.6,2.2 1.1,0.8 0.8,0.8 0.5,1zM443,586.8l2.3,0.9 -3.6,-0.9 -3.4,-1.5 -2.6,-0.8 3.1,1.3zM489.6,575.9l0.6,-1.7 -6.5,-2.6 -0.6,1.7z" fill="#2f65ff" stroke="#2f65ff"/><path d="M368.9,605.3l0.6,1.3 -4.9,-1.4 -2.7,-0.9 -0.6,-1.3zM412.3,595.1l2.6,-2.2 0,-1.1 -0.3,-1 -0.7,-0.9 -1,-0.8 -3,2.3 1,0.8 0.8,0.9 0.4,0.9zM439.3,585.8l3.7,1 -4.2,-1 -3.1,-1.3 -3,-0.7 2.3,1zM490.2,574.2l0.5,-1.6 -6.4,-2.6 -0.6,1.6z" fill="#1b6bff" stroke="#1b6bff"/><path d="M368.3,603.9l0.6,1.4 -3.9,-1.1 -3.7,-1.2 -0.5,-1.4zM414.9,592.9l3.1,-2.3 0.4,-1.8 -0.1,-1 -0.5,-0.9 -0.6,-0.4 -4.3,2.6 1,0.8 0.7,0.9 0.3,1zM436,585.2l4.5,0.8 -4.6,-0.9 -3.2,-1.3 -4.3,-0.3 2.6,0.9zM490.7,572.6l0.3,-0.9 -2.2,-1.2 -1.9,-1.4 -2.1,-0.7 -0.5,1.6z" fill="#0071ff" stroke="#0071ff"/><path d="M366.7,602.3l1,0.3 0.6,1.3 -7.5,-2.3 -0.3,-0.6 1.5,-0.1zM418,590.6l4.5,-2.7 1.9,-1.4 1.8,-0.7 2.3,-0.5 2.8,-0.2 3.7,0 2.5,0.3 -6.5,-1 -2.6,-0.9 -2.5,0.2 -3.1,0.6 -3.1,1 -2.5,1.2 0.6,0.4 0.5,0.9 0.1,1zM486.5,569l0.4,0.1 -1.8,-1.5 -0.3,0.8z" fill="#0077ff" stroke="#0077ff"/><path d="M367.2,601.3l0.5,1.3 -5.7,-1.7 2.2,-0.5zM422.5,587.9l3.2,-1.4 2,-0.6 3.1,-0.7 2.2,-0.1 -4.5,0.2 -2.3,0.5 -1.8,0.7z" fill="#007dff" stroke="#007dff"/><path d="M366.6,599.9l0.6,1.4 -3,-0.9 1.8,-0.7z" fill="#0083fd" stroke="#0083fd"/><path d="M366.5,599.5l0.1,0.4 -0.6,-0.2z" fill="#0088f9" stroke="#0088f9"/><path d="M476.7,598.9l2.4,-0.5 0.7,-0.5 0.3,-0.5 -0.2,-1 -1.5,-1.2 -2.9,1.9 -2.1,0.8 -3.1,0.4 -2.8,-0.2 4.4,0.7z" fill="#4528b2" stroke="#4528b2"/><path d="M473.6,598.8l3.7,0.1 2.1,-0.3 3.1,-1.2 1.2,-0.8 0,-0.6 -0.9,-1.3 -2.3,-1.5 -2.1,2 1.5,1.2 0.2,1 -0.7,0.8 -1.3,0.5 -2.6,0.3 -3.6,-0.2 -3.3,-0.5 -3.9,-0.9 4.3,0.9z" fill="#472cbd" stroke="#472cbd"/><path d="M470.7,598.1l4.6,0.7 -3.3,-0.1 -4,-0.6 -3.3,-0.7 -2.3,-0.9 4.4,1zM483.7,596.6l2.5,-2.1 -0.4,-0.5 -1.3,-1.3 -2.5,-1.4 -1.5,1.9 2.5,1.7 0.7,1.1zM382.3,618l3.4,-0.6 2.7,-1.1 -3.2,1.3z" fill="#4830c8" stroke="#4830c8"/><path d="M469.8,597.4l2.4,0.8 -5.4,-0.7 -4.4,-1 -2.1,-0.9 4.3,1zM486.2,594.5l1.6,-2 -1.5,-1.3 -3.1,-1.8 -1.2,1.9 2.5,1.4 1.3,1.3zM383.2,617.3l3,-0.3 3.1,-0.9 1.5,-0.8 1.5,-1.5 -4,2.6 -2.6,1 -3.4,0.6 -1.3,-0.1 -1.9,-0.6z" fill="#4934d3" stroke="#4934d3"/><path d="M467.7,596.4l2.1,1 -5.2,-0.8 -4.3,-1 -1.9,-1 4.3,1zM487.8,592.5l1.3,-1.8 -1.5,-1.2 -3.3,-1.8 -1.1,1.7 3.1,1.8zM384.6,616.6l4.2,-0.7 2.9,-1 2.1,-1.4 0.9,-1 0.4,-0.9 -2.8,2.2 -1.5,1.5 -1.5,0.8 -1.9,0.6 -4.2,0.6 -4.1,0 -1.8,-0.9 3.2,0.2z" fill="#4a39dd" stroke="#4a39dd"/><path d="M465.8,595.4l1.9,1 -5,-0.8 -4.3,-1 -1.8,-1 4.2,1zM489.1,590.7l1.2,-1.8 -1.7,-1.2 -3.3,-1.8 -1,1.8 3.3,1.8zM386.4,615.7l3.8,-0.7 2,-0.6 1.9,-0.8 1.2,-0.8 1.1,-1 0.7,-1.1 0.3,-1.2 -2.3,2.1 -0.6,1.2 -1.4,1.3 -2.3,1.2 -2,0.6 -4.2,0.7 -4.2,0 -3.1,-0.2 -1.5,-1.1 6.1,0.5z" fill="#4a3ee5" stroke="#4a3ee5"/><path d="M385.8,614.9l5.3,-0.5 2.1,-0.7 2.8,-1.3 1.8,-1.3 1,-1.1 0.6,-1.3 0.2,-1.3 -2.2,2.1 -0.6,1.7 -1.3,1.5 -2.4,1.4 -2.9,0.9 -5,0.7 -5.1,0 -4.3,-0.4 -1.2,-1.2 5.5,0.7zM462.7,594.3l1.3,0.1 1.8,1 -5,-0.8 -4.2,-1 -1.9,-1 3.4,0.8zM490.3,588.9l1,-1.7 -2,-1.4 -3.2,-1.6 -0.8,1.7 3.3,1.8z" fill="#4944ec" stroke="#4944ec"/><path d="M383.5,614l2,0 1.5,0.4 1.8,0.2 -5.2,0.3 -5,-0.2 -4,-0.6 -1.1,-1.2 5.2,0.8zM394.9,613l3.5,-2.2 1.9,-1.6 1.1,-1.8 0.2,-1 0,-1 -2,2 -0.3,1.7 -0.9,1.4 -1.6,1.4zM462.3,593.4l1.7,1 -4.9,-0.8 -4.4,-1 -1.8,-1 4.4,1zM491.3,587.2l0.8,-1.8 -2.4,-1.5 -2.8,-1.4 -0.8,1.7 3.2,1.6z" fill="#4749f1" stroke="#4749f1"/><path d="M381.9,613l1.7,0 1.9,1 -3.7,-0.1 -4.5,-0.4 -3.8,-0.6 -0.9,-1.2 4.9,0.8zM399,610.4l2.8,-2.2 1.1,-1.4 0.7,-1.8 0.1,-1.7 -2.1,2.1 0,1.3 -0.5,1.3 -0.8,1.2zM460.6,592.4l1.7,1 -5,-0.8 -4.4,-1 -1.8,-1 4.7,1zM492.1,585.4l0.9,-1.7 -5.3,-2.9 -0.8,1.7 2.8,1.4z" fill="#454ff6" stroke="#454ff6"/><path d="M380.6,611.8l1.6,0.2 1.4,1 -7.4,-0.7 -3.6,-0.6 -0.9,-1.3 4.8,0.9zM401.8,608.2l2.4,-2.2 0.9,-1.3 0.6,-1.8 0,-1.6 -2,2 0,1.1 -0.2,1.2 -0.6,1.2zM457.5,591.2l1.4,0.2 1.7,1 -4.8,-0.8 -4.7,-1 -1.9,-1zM493,583.7l0.7,-1.6 -5.3,-2.9 -0.7,1.6z" fill="#4254fa" stroke="#4254fa"/><path d="M379.5,610.6l1.4,0.2 1.3,1.2 -7,-0.9 -3.5,-0.7 -0.7,-1.2zM404.2,606l2.3,-2.1 0.4,-0.7 0.8,-1.9 0.1,-2 -2.1,2 0.1,1.1 -0.2,1.1 -0.5,1.2zM455.8,590.2l1.3,0.2 1.8,1 -5.1,-0.8 -4.6,-1 -1.9,-0.9zM493.7,582.1l0.7,-1.7 -5.4,-2.9 -0.6,1.7z" fill="#3d5afd" stroke="#3d5afd"/><path d="M378.5,609.4l1.4,0.2 1,1.2 -6.5,-0.9 -3.4,-0.7 -0.8,-1.3zM406.5,603.9l2.2,-2 0.3,-0.7 0.9,-2.4 0.1,-1.6 -2.2,2.1 0,1 -0.1,1.2zM455.4,589.3l1.7,1.1 -3.7,-0.6 -6.1,-1.1 -2,-1zM494.4,580.4l0.7,-1.7 -5.5,-2.8 -0.6,1.6z" fill="#385fff" stroke="#385fff"/><path d="M377.6,608.2l1.3,0.2 1,1.2 -6.3,-1 -3.4,-0.7 -0.7,-1.3zM408.7,601.9l2.1,-2.1 0.4,-0.6 0.9,-2.5 0.2,-1.6 -2.3,2.1 -0.2,2.2zM452.1,588.2l1.4,0.1 1.9,1 -4.4,-0.5 -5.7,-1.1 -2.3,-0.9zM495.1,578.7l0.6,-1.6 -5.5,-2.9 -0.6,1.7z" fill="#2f65ff" stroke="#2f65ff"/><path d="M376.8,606.9l1.3,0.2 0.8,1.3 -7.2,-1.3 -2.2,-0.5 -0.6,-1.3zM410.8,599.8l2.2,-2.1 0.4,-0.6 1.1,-2.5 0.4,-1.7 -2.6,2.2 -0.3,2.2zM450.1,587.2l1.5,0.2 1.9,0.9 -2.4,-0.2 -7.3,-1.1 -3.3,-1zM495.7,577.1l0.6,-1.7 -5.6,-2.8 -0.5,1.6z" fill="#1b6bff" stroke="#1b6bff"/><path d="M377.3,605.9l0.8,1.2 -4.9,-0.8 -4.3,-1 -0.6,-1.4zM413,597.7l2.3,-2.1 1.6,-2.6 1.1,-2.4 -3.1,2.3 -0.6,2.3zM448,586.3l1.6,0.1 2,1 -0.6,-0.1 -8.8,-1 -4.7,-0.9zM496.3,575.4l0.5,-1.6 -1.3,-0.8 -2.2,-0.5 -2.3,-0.8 -0.3,0.9z" fill="#0071ff" stroke="#0071ff"/><path d="M376.5,604.5l0.8,1.4 -5.8,-1.2 -3.2,-0.8 -0.6,-1.3zM415.3,595.6l2.5,-2.1 2.7,-3.5 2,-2.1 -4.5,2.7 -1.1,2.4zM445.6,585.5l1.7,0.1 2.3,0.8 -13.6,-1.2 -3,-0.1zM496.8,573.8l0.2,-0.6 -1.5,-0.2z" fill="#0077ff" stroke="#0077ff"/><path d="M374.7,603l1.1,0.3 0.7,1.2 -4.6,-0.9 -4.2,-1 -0.5,-1.3zM417.8,593.5l6.5,-5.5 2.2,-1.3 2.8,-1 4.4,-0.7 6.6,-0.3 4.4,0.1 2.6,0.8 -14.3,-0.5 -2.2,0.1 -3.1,0.7 -2,0.6 -3.2,1.4 -2,2.1z" fill="#007dff" stroke="#007dff"/><path d="M375.2,602l0.6,1.3 -5.6,-1.2 -3,-0.8 -0.6,-1.4zM420.5,591.3l5.7,-3.9 2.4,-1.2 1.9,-0.6 3.4,-0.8 5.2,-0.5 2.4,-0.2 3.2,0.7 -9,0.1 -4.1,0.4 -2.3,0.4 -1.9,0.7 -2.4,1.1 -1.9,1.4z" fill="#0083fd" stroke="#0083fd"/><path d="M373.4,600.4l1.2,0.2 0.6,1.4 -7.6,-1.8 -1,-0.3 -0.1,-0.4 1.1,-0.5zM423.9,588.9l4.6,-2.6 3.9,-1.4 4.4,-0.9 2.1,0 2.6,0.1 -6.4,0.5 -4.6,1 -3.5,1.3z" fill="#0088f9" stroke="#0088f9"/><path d="M374,599.3l0.6,1.3 -7,-1.6 1.4,-0.9zM429.5,585.9l3.2,-1.1 3.4,-0.7 -3.7,0.8z" fill="#008df5" stroke="#008df5"/><path d="M373.4,598l0.6,1.3 -5,-1.2 1.3,-0.9z" fill="#0092f1" stroke="#0092f1"/><path d="M372.9,596.6l0.5,1.4 -3.1,-0.8 1.2,-0.9z" fill="#0097ed" stroke="#0097ed"/><path d="M372.5,595.4l0.4,1.2 -1.4,-0.3z" fill="#009cea" stroke="#009cea"/><path d="M477.5,598.8l2.1,-0.2 2.3,-0.5 1.4,-0.8 0.4,-0.7 -2.3,1.3 -2,0.7 -2.1,0.3 -2,-0.1z" fill="#472cbd" stroke="#472cbd"/><path d="M479.8,598.3l3.2,-0.4 1.9,-0.6 0.8,-0.4 0.5,-0.5 0.3,-0.6 -0.1,-0.8 -0.2,-0.5 -2.5,2.1 -0.4,0.7 -0.6,0.5 -1.9,0.6 -2.5,0.4 -3,0 -3.1,-0.6 3.6,0.2z" fill="#4830c8" stroke="#4830c8"/><path d="M483.2,597.6l2.7,-0.6 1.5,-0.6 0.9,-0.6 0.4,-0.5 0.1,-0.9 -0.1,-0.6 -0.9,-1.3 -1.6,2 0.3,1 -0.3,0.9 -0.5,0.5 -1.7,0.7 -3.5,0.7 -4.7,0.1 -3.6,-0.2 -2.4,-0.8 8,0.4z" fill="#4934d3" stroke="#4934d3"/><path d="M479.1,597.2l5.2,0 3.1,-0.7 3.2,-1.9 0.3,-1.1 -0.3,-1.1 -1.5,-1.7 -1.3,1.8 0.9,1.3 0.1,0.6 -0.4,1.2 -1.6,1.1 -3.1,0.8 -4.3,0.3 -6.6,-0.2 -3,-0.2 -2.1,-1 6,0.6z" fill="#4a39dd" stroke="#4a39dd"/><path d="M476.5,596.4l1.8,0 2.9,0.7 -4.1,0 -5,-0.2 -4.4,-0.5 -1.9,-1 5.8,0.7zM490.6,594.6l2.2,-2.1 -0.1,-0.6 -0.5,-1 -1,-1.2 -0.9,-0.8 -1.2,1.8 1.5,1.7 0.3,1.1z" fill="#4a3ee5" stroke="#4a3ee5"/><path d="M474.4,595.4l1.7,0.1 2.2,0.9 -8.2,-0.5 -4.3,-0.5 -1.8,-1zM492.8,592.5l1.6,-1.9 -0.9,-1.4 -2.2,-2 -1,1.7 0.9,0.8 1,1.2 0.5,1zM388.8,614.6l3.7,-0.7 2.4,-0.9 -2.7,1.1 -2.1,0.5z" fill="#4944ec" stroke="#4944ec"/><path d="M472.5,594.5l1.6,0.1 2,0.9 -8.1,-0.6 -4,-0.5 -1.7,-1zM494.4,590.6l1.3,-1.8 -1.1,-1.3 -2.5,-2.1 -0.8,1.8 2.2,2zM392.5,613.2l3.9,-1.3 2.6,-1.5 -3.7,2.4 -2.8,1.1 -3.7,0.7 -1.8,-0.2 -1.5,-0.4 3.5,-0.2z" fill="#4749f1" stroke="#4749f1"/><path d="M470.7,593.5l1.6,0.1 1.8,1 -7.7,-0.7 -4.1,-0.5 -1.7,-1zM495.7,588.8l1.1,-1.8 -1.3,-1.3 -2.5,-2 -0.9,1.7 2.5,2.1zM390.7,612.8l4.1,-0.9 2.8,-0.9 2.3,-1.3 1.9,-1.5 -4.2,3.1 -2,1 -1.9,0.6 -3.4,0.7 -4.8,0.4 -1.9,-1 4.1,0z" fill="#454ff6" stroke="#454ff6"/><path d="M469,592.4l1.6,0.2 1.7,1 -7,-0.6 -4.7,-0.6 -1.7,-1zM496.8,587l0.9,-1.7 -1.7,-1.6 -2.3,-1.6 -0.7,1.6 2.5,2zM390.3,611.9l4.5,-0.7 3.9,-1.2 3.1,-1.7 2.4,-2.3 -4.4,3.8 -2.2,1.2 -2.8,0.9 -4.1,0.9 -5.2,0.3 -1.9,-0.1 -1.4,-1 3.4,0.1z" fill="#4254fa" stroke="#4254fa"/><path d="M467.3,591.4l1.6,0.1 1.7,1.1 -5.6,-0.5 -6.1,-0.7 -1.8,-1zM497.7,585.3l0.9,-1.7 -2.5,-2.1 -1.7,-1.1 -0.7,1.7 2.3,1.6zM393.6,610.6l4.3,-1 3.5,-1.4 2.7,-1.7 1.3,-1.2 1.1,-1.4 -3.6,3.5 -1.2,0.9 -3,1.7 -2.8,0.9 -4.7,0.9 -5.6,0.3 -3.4,-0.1 -1.3,-1.2 6.9,0.3z" fill="#3d5afd" stroke="#3d5afd"/><path d="M393.2,609.8l4.7,-0.9 2,-0.6 2.6,-1.1 3.4,-2.2 1.5,-1.5 1.3,-1.6 -2.2,2 -1.8,2.1 -1.8,1.4 -3.1,1.6 -2.9,0.9 -4.6,0.9 -6.4,0.3 -5,-0.3 -1,-1.2 6.3,0.5 4.1,-0.1zM465.7,590.4l1.5,0.1 1.7,1 -6.4,-0.5 -5.4,-0.6 -1.7,-1.1zM498.6,583.6l0.8,-1.7 -1,-0.9 -3.3,-2.3 -0.7,1.7 1.7,1.1z" fill="#385fff" stroke="#385fff"/><path d="M390.6,609l2.6,-0.2 2.9,0.2 2.1,-0.3 2,-0.7 2.1,-1.1 4.6,-2.8 2.2,-2.1 1.7,-2.2 -2.1,2.1 -1.7,2.1 -2.4,1.9 -2.9,1.7 -3.8,1.3 -3.4,0.7 -2.6,0.3 -5.7,0.2 -6.3,-0.5 -1,-1.2 5.9,0.5zM465.6,589.4l1.6,1.1 -5.1,-0.5 -6.7,-0.7 -1.9,-1zM499.4,581.9l0.7,-1.7 -1.8,-1.4 -2.6,-1.7 -0.6,1.6 3.3,2.3z" fill="#2f65ff" stroke="#2f65ff"/><path d="M388.8,608l2.1,0 2.3,0.8 -4.8,0.3 -5.2,-0.3 -4.3,-0.4 -0.8,-1.3 5.5,0.7zM403.9,606l5.9,-4.4 1.7,-1.9 1.5,-2 -2.2,2.1 -1.2,1.7 -1.8,1.8 -2.1,1.6zM462.4,588.3l1.6,0.1 1.6,1 -4,-0.3 -8.1,-0.8 -1.9,-0.9zM500.1,580.2l0.7,-1.7 -4.5,-3.1 -0.6,1.7 2.6,1.7z" fill="#1b6bff" stroke="#1b6bff"/><path d="M387.4,606.9l1.8,0.1 1.7,1 -4,0 -4.8,-0.4 -4,-0.5 -0.8,-1.2 5.3,0.7zM407.2,603.6l4.8,-4 1.7,-1.9 1.6,-2.1 -2.3,2.1 -1.2,1.8 -1.6,1.7zM460.7,587.2l1.6,0.1 1.7,1.1 -0.8,-0.1 -11.6,-0.9 -2,-1zM500.8,578.5l0.6,-1.6 -4.6,-3.1 -0.5,1.6z" fill="#0071ff" stroke="#0071ff"/><path d="M386.2,605.7l1.7,0.1 1.3,1.2 -8,-0.6 -3.9,-0.5 -0.8,-1.4 3.8,0.7zM409.9,601.4l4.2,-3.8 3.7,-4.1 -2.5,2.1 -2.8,3.5zM459,586.2l1.6,0.1 1.7,1 -12.7,-0.9 -2.3,-0.8zM501.4,576.9l0.6,-1.7 -3,-2 -2,0 -0.2,0.6z" fill="#0077ff" stroke="#0077ff"/><path d="M386.7,604.7l1.2,1.1 -7.6,-0.6 -3.8,-0.7 -0.7,-1.2 5.1,0.8zM412.3,599.3l4,-3.7 4.2,-4.3 -2.7,2.2 -3.1,3.5zM457.2,585.2l1.7,0.1 1.7,1 -13.3,-0.7 -2.6,-0.8zM502,575.2l0.6,-1.6 -1.1,-0.8 -2.5,0.4z" fill="#007dff" stroke="#007dff"/><path d="M385.7,603.4l1,1.3 -7.1,-0.8 -3.8,-0.6 -0.6,-1.3 4.9,0.8zM414.7,597.2l6.5,-6.1 2.7,-2.2 -3.4,2.4zM455.2,584.2l1.8,0.1 1.9,1 -14.2,-0.5 -3.2,-0.7zM502.6,573.6l0.4,-1.1 -1.5,0.3z" fill="#0083fd" stroke="#0083fd"/><path d="M383.4,602.1l1.4,0.1 0.9,1.2 -8.1,-1 -2.4,-0.4 -0.6,-1.4zM417,595.1l7.4,-6.3 2.6,-1.7 2.5,-1.2 -3.1,1.5 -2.5,1.5zM453.2,583.3l1.9,0.1 1.9,0.9 -9.2,-0.2 -6.3,0 -2.6,-0.1 -2.8,0.1 6.4,-0.6z" fill="#0088f9" stroke="#0088f9"/><path d="M382.6,600.8l1.4,0.2 0.8,1.2 -6.7,-0.9 -3.5,-0.7 -0.6,-1.3zM419.3,592.9l4.4,-3.6 3.4,-2.3 3.1,-1.6 3.8,-1.2 5.8,-1.1 6.6,-0.5 6.5,-0.2 2.2,1 -12.6,0.1 -5.5,0.5 -4.3,0.8 -3.2,1.1 -3.1,1.5 -3.3,2.3z" fill="#008df5" stroke="#008df5"/><path d="M383.2,599.7l0.8,1.3 -6.5,-1 -3.5,-0.7 -0.6,-1.3zM421.8,590.8l3.1,-2.5 3.5,-2.2 3.2,-1.5 3.9,-1.3 5.8,-1 6.8,-0.6 2.3,-0.1 2.5,0.8 -6.5,0.2 -5.2,0.3 -3.8,0.5 -3.4,0.8 -2.9,0.9 -3.3,1.5 -2.8,1.7z" fill="#0092f1" stroke="#0092f1"/><path d="M382.5,598.4l0.7,1.3 -5.1,-0.8 -4.7,-0.9 -0.5,-1.4zM424.6,588.6l3.2,-2.4 1.8,-1 2.9,-1.3 3.3,-1.1 4.7,-1.1 7,-0.8 2.9,0.7 -7.8,0.5 -3.8,0.5 -3.3,0.7 -3,1 -2.6,1 -2.6,1.5z" fill="#0097ed" stroke="#0097ed"/><path d="M380.5,596.9l1.3,0.2 0.7,1.3 -3.8,-0.6 -5.8,-1.2 -0.4,-1.2 0.1,-0.1zM427.8,586.2l4.5,-2.7 4.8,-1.6 6,-1.3 4.4,0.3 -7,0.8 -4.7,1.1 -3.8,1.3z" fill="#009cea" stroke="#009cea"/><path d="M381.2,595.8l0.6,1.3 -9.2,-1.8 1.1,-1zM432.3,583.5l2.2,-1 3.1,-1.1 3.1,-0.6 2.4,-0.2 -6,1.3z" fill="#00a1e7" stroke="#00a1e7"/><path d="M379.3,594.2l1.3,0.2 0.6,1.4 -7.5,-1.5 1,-1z" fill="#00a5e4" stroke="#00a5e4"/><path d="M380,593.1l0.6,1.3 -5.9,-1.1 1,-1z" fill="#00aae1" stroke="#00aae1"/><path d="M379.4,591.8l0.6,1.3 -4.3,-0.8 1,-1.1z" fill="#00aedc" stroke="#00aedc"/><path d="M378.9,590.4l0.5,1.4 -2.7,-0.6 0.9,-1z" fill="#00b1d7" stroke="#00b1d7"/><path d="M378.4,589.1l0.5,1.3 -1.3,-0.2z" fill="#00b5d1" stroke="#00b5d1"/><path d="M483.9,596.9l2.6,-0.3 2.1,-0.6 1.2,-0.6 0.8,-0.8 -2.1,1.4 -2.1,0.8 -2.1,0.4 -3.1,-0.1z" fill="#4a39dd" stroke="#4a39dd"/><path d="M485.2,596.2l2.9,-0.4 2.9,-0.9 1.3,-1 0.4,-0.5 0.1,-0.9 -2.7,2.7 -0.7,0.4 -1.8,0.7 -2.3,0.5 -4.1,0.3 -2.9,-0.7z" fill="#4a3ee5" stroke="#4a3ee5"/><path d="M486.7,595.4l4,-0.7 2.6,-1 0.8,-0.8 0.4,-0.7 0.1,-1 -0.2,-0.6 -1.6,1.9 -0.1,0.9 -0.4,0.5 -1.3,1 -1.8,0.6 -4,0.7 -4.9,0.2 -2,0 -2.2,-0.9 5.6,0.1z" fill="#4944ec" stroke="#4944ec"/><path d="M488.4,594.5l2.6,-0.4 2.1,-0.5 2.3,-1.2 0.7,-1 0.2,-0.9 -0.2,-0.8 -0.4,-0.9 -1.3,1.8 0.1,1.4 -0.6,1.2 -1.4,0.9 -1.8,0.6 -5,0.8 -6,0.1 -3.6,-0.1 -2,-0.9 8.5,0.2z" fill="#4749f1" stroke="#4749f1"/><path d="M485,594l6.3,0 3.1,-1 2.1,-1.2 0.8,-0.8 0.5,-1.2 -0.4,-1.7 -0.6,-1.1 -1.1,1.8 0.4,0.9 0.2,0.8 -0.2,0.9 -0.7,1 -1.4,0.9 -3,0.8 -5.4,0.6 -8.1,0 -3.4,-0.1 -1.8,-1 6.8,0.3z" fill="#454ff6" stroke="#454ff6"/><path d="M482.7,593.1l2,0 2.7,0.8 -4.5,0.1 -5.8,-0.1 -4.8,-0.3 -1.7,-1zM497.2,591.2l1.4,-1.2 0.7,-1 -0.2,-1.6 -1.4,-2.1 -0.9,1.7 0.6,1.1 0.4,1.4 -0.1,0.9z" fill="#4254fa" stroke="#4254fa"/><path d="M480.6,592.2l1.9,0 2.2,0.9 -9.3,-0.2 -4.8,-0.3 -1.7,-1.1zM499.3,589.2l1.5,-1.9 -0.6,-1.7 -1.6,-2 -0.9,1.7 1.4,2.1 0.2,0.8z" fill="#3d5afd" stroke="#3d5afd"/><path d="M478.8,591.2l1.8,0 1.9,1 -8.8,-0.3 -4.8,-0.4 -1.7,-1zM500.8,587.3l1.3,-1.8 -0.9,-1.7 -1.8,-1.9 -0.8,1.7 1.6,2z" fill="#385fff" stroke="#385fff"/><path d="M478.8,590.2l1.8,1 -6.9,-0.3 -6.5,-0.4 -1.6,-1.1zM502.1,585.5l1,-1.8 -1.2,-1.8 -1.8,-1.7 -0.7,1.7 1.8,1.9zM398.6,608l3.2,-1.1 2.1,-0.9 -2.6,1.5 -3.1,1.2 -2.1,0.3 -2.9,-0.2z" fill="#2f65ff" stroke="#2f65ff"/><path d="M475.4,589.1l1.7,0.1 1.7,1 -7.4,-0.4 -5.8,-0.4 -1.6,-1zM503.1,583.7l1,-1.7 -1.8,-2.1 -1.5,-1.4 -0.7,1.7 1.8,1.7zM397.1,607.4l2.8,-0.6 2.9,-0.9 2.5,-1.1 1.9,-1.2 -3.3,2.4 -4.4,1.7 -2.8,0.7 -3.5,0.4 -2.3,-0.8z" fill="#1b6bff" stroke="#1b6bff"/><path d="M473.9,588l1.6,0.1 1.6,1.1 -6.2,-0.4 -6.9,-0.4 -1.7,-1.1zM504.1,582l0.8,-1.7 -0.9,-1.2 -2.6,-2.2 -0.6,1.6 1.5,1.4zM396.9,606.5l3.9,-0.8 2.9,-0.9 3.3,-1.5 2.9,-1.9 -2.7,2.2 -1.6,1 -2.8,1.3 -2.9,0.9 -4.7,0.9 -4.3,0.3 -1.7,-1 4.5,-0.2z" fill="#0071ff" stroke="#0071ff"/><path d="M472.3,587l1.7,0.1 1.5,1 -5.2,-0.3 -8,-0.5 -1.7,-1zM504.9,580.3l0.8,-1.7 -1.5,-1.6 -2.2,-1.8 -0.6,1.7 2.6,2.2zM397,605.5l4.7,-0.8 3.8,-1.3 3.9,-2 2.9,-2.1 -2.4,2.1 -2.7,1.8 -3.5,1.6 -2.9,0.9 -3.9,0.8 -5.6,0.5 -2.1,0 -1.3,-1.2 3.8,0.1z" fill="#0077ff" stroke="#0077ff"/><path d="M470.7,585.9l1.7,0.1 1.6,1.1 -13.4,-0.8 -1.7,-1zM505.7,578.6l0.7,-1.7 -2.3,-2.2 -1.5,-1.1 -0.6,1.6 2.2,1.8zM397.3,604.5l5.3,-0.9 4.7,-1.6 3.7,-2.1 3.7,-2.7 -3.4,2.9 -2.6,1.8 -3.2,1.5 -3.8,1.3 -4.7,0.8 -5.3,0.4 -3.8,-0.1 -1.2,-1.1 5.4,0.1z" fill="#007dff" stroke="#007dff"/><path d="M402.2,602.8l3.5,-0.9 4.1,-1.8 3.5,-2.1 3.7,-2.9 -4,3.5 -2.9,1.9 -3.7,1.8 -3.8,1.3 -5.3,0.9 -7.1,0.3 -3.5,-0.1 -1,-1.3 5,0.3 4.2,0 3.8,-0.3zM469.2,584.8l1.7,0.1 1.5,1.1 -13.5,-0.7 -1.9,-1zM506.4,576.9l0.7,-1.7 -3.5,-2.9 -0.6,0.2 -0.4,1.1 1.5,1.1z" fill="#0083fd" stroke="#0083fd"/><path d="M398,602.4l6.1,-0.7 2.1,-0.7 2.9,-1.2 2.4,-1.1 2.7,-1.7 5.1,-4.1 -4.1,3.7 -3.2,2.3 -3.8,2 -3.7,1.3 -5.8,1.2 -6,0.3 -7,-0.3 -0.9,-1.2 6.5,0.4zM467.6,583.8l1.7,0.1 1.6,1 -13.9,-0.6 -1.9,-0.9zM507.1,575.2l0.6,-1.6 -0.2,-0.3 -2,-1.7 -1.9,0.7z" fill="#0088f9" stroke="#0088f9"/><path d="M395.9,601.5l2.6,-0.1 1.5,0.4 1.9,0.1 -5,0.6 -7.4,0.1 -4.7,-0.4 -0.8,-1.2 6.1,0.5zM407.7,600.4l7.8,-4.7 6.3,-4.9 -4.4,3.8 -3.2,2.4 -3.3,2zM465.9,582.7l1.8,0.1 1.6,1.1 -14.2,-0.5 -2.2,-1zM507.7,573.6l0.6,-1.7 -1.1,-1 -1.7,0.7z" fill="#008df5" stroke="#008df5"/><path d="M394.3,600.5l2.2,-0.1 2,1 -4.7,0.2 -5.4,-0.2 -4.4,-0.4 -0.8,-1.3 5.8,0.6zM412.2,597.7l12.4,-9.1 -7.9,6.3zM464.3,581.7l1.8,0.1 1.6,1 -14.8,-0.4 -2.5,-0.8zM508.3,571.9l0.5,-1.7 -1.6,0.7z" fill="#0092f1" stroke="#0092f1"/><path d="M393,599.3l1.9,0 1.6,1.1 -4.1,0 -4.9,-0.3 -4.3,-0.4 -0.7,-1.3 5.6,0.6zM415.3,595.4l2.7,-2.2 9.8,-7 -9.7,7.3zM462.5,580.7l1.9,0 1.7,1.1 -15.7,-0.2 -2.9,-0.7 7.1,-0.2zM508.9,570.3l0.1,-0.2 -0.2,0.1z" fill="#0097ed" stroke="#0097ed"/><path d="M391.9,598.1l1.8,0.1 1.2,1.1 -8.3,-0.4 -4.1,-0.5 -0.7,-1.3 5.5,0.7zM418,593.2l2.5,-2.2 5.9,-4.2 2.8,-1.7 3.1,-1.6 -6.3,3.8zM460.7,579.7l1.9,0 1.8,1 -9.8,0 -7.1,0.2 -4.4,-0.3 7.8,-0.7z" fill="#009cea" stroke="#009cea"/><path d="M392.6,597l1.1,1.2 -6.4,-0.4 -5.5,-0.7 -0.6,-1.3 6.7,0.9zM420.5,591l2.4,-2.1 7,-4.6 3.6,-1.8 4.8,-1.6 5.6,-1.1 7.9,-0.8 8.9,-0.3 1.9,1 -6,0 -7,0.3 -8.9,0.8 -3.1,0.6 -3.1,1.1 -5.3,2.6 -3.4,2.1z" fill="#00a1e7" stroke="#00a1e7"/><path d="M391.6,595.8l1,1.2 -7.5,-0.7 -3.9,-0.5 -0.6,-1.4 5.1,0.8zM422.9,588.9l2.6,-2.2 5.1,-3.2 4.1,-2 4.7,-1.5 7,-1.4 7.7,-0.6 4.6,-0.2 2,0.9 -6.5,0.2 -6.4,0.4 -5.1,0.6 -4.4,1 -3.9,1.3 -3.3,1.5 -3.6,2.1z" fill="#00a5e4" stroke="#00a5e4"/><path d="M389.2,594.4l1.5,0.1 0.9,1.3 -7.2,-0.8 -3.8,-0.6 -0.6,-1.3zM425.5,586.7l2.7,-2.2 4.2,-2.4 4.2,-1.9 4,-1.2 5.7,-1.2 7.6,-0.7 2.5,-0.2 2.3,0.9 -10.3,0.6 -4.5,0.6 -4.5,1 -3.9,1.2 -3.3,1.5 -3,1.6z" fill="#00aae1" stroke="#00aae1"/><path d="M388.5,593.1l1.4,0.2 0.8,1.2 -8.2,-1 -2.5,-0.4 -0.6,-1.3zM428.2,584.5l3.1,-2.3 2.1,-1.2 4.3,-1.8 3.9,-1.2 5,-1 7.1,-0.8 2.7,0.7 -8.7,0.7 -7.1,1.4 -3,0.9 -3.6,1.4z" fill="#00aedc" stroke="#00aedc"/><path d="M387.8,591.8l1.4,0.2 0.7,1.3 -6.8,-0.9 -3.7,-0.6 -0.5,-1.4zM431.3,582.2l3.9,-2.6 3.5,-1.4 3,-0.9 4.4,-1 4,-0.7 3.6,0.6 -7.1,0.8 -5,1 -5.3,1.7z" fill="#00b1d7" stroke="#00b1d7"/><path d="M388.5,590.7l0.7,1.3 -5.4,-0.7 -4.9,-0.9 -0.5,-1.3zM435.2,579.6l4.2,-2.1 3.1,-1.1 4.2,-0.7 3.4,-0.1 -4,0.7 -4.4,1 -3,0.9z" fill="#00b5d1" stroke="#00b5d1"/><path d="M386.5,589.2l1.3,0.2 0.7,1.3 -10,-1.6 0.9,-1.1z" fill="#00b8ca" stroke="#00b8ca"/><path d="M387.2,588.1l0.6,1.3 -8.4,-1.4 0.8,-1.1z" fill="#00bbc4" stroke="#00bbc4"/><path d="M385.3,586.6l1.3,0.1 0.6,1.4 -7,-1.2 0.9,-1.1z" fill="#00bdbc" stroke="#00bdbc"/><path d="M386,585.4l0.6,1.3 -5.5,-0.9 0.8,-1.1z" fill="#00bfb5" stroke="#00bfb5"/><path d="M384.3,583.9l1.2,0.2 0.5,1.3 -4.1,-0.7 0.8,-1.1z" fill="#00c1ae" stroke="#00c1ae"/><path d="M385,582.7l0.5,1.4 -2.8,-0.5 0.8,-1.1z" fill="#00c3a6" stroke="#00c3a6"/><path d="M384.5,581.4l0.5,1.3 -1.5,-0.2z" fill="#00c69e" stroke="#00c69e"/><path d="M384.4,581.2l0.1,0.2 -0.2,-0.1z" fill="#00c895" stroke="#00c895"/><path d="M490.4,593.6l4.1,-0.8 1.6,-0.7 1.1,-0.9 -1.7,1.3 -2.1,0.9 -3.1,0.7 -2.9,-0.2z" fill="#454ff6" stroke="#454ff6"/><path d="M492.5,592.6l2.4,-0.4 2.3,-0.8 1.3,-0.9 0.8,-1.3 -3.1,2.8 -2.7,1 -3.1,0.6 -3,0.3 -2.7,-0.8 4.6,-0.2z" fill="#4254fa" stroke="#4254fa"/><path d="M495,591.5l3,-0.7 1.6,-0.9 1,-1.1 0.2,-0.7 0,-0.8 -2.5,3.4 -1.5,0.9 -1.9,0.6 -3.7,0.6 -6.5,0.3 -2.2,-0.9 7.2,-0.1z" fill="#3d5afd" stroke="#3d5afd"/><path d="M493.4,591l3,-0.4 2.2,-0.5 2.4,-1.1 0.8,-0.7 0.4,-1 0.1,-0.7 -0.2,-1.1 -1.3,1.8 0,0.8 -0.6,1.3 -1.2,0.9 -2.8,1 -4.9,0.7 -6.9,0.2 -1.9,0 -1.9,-1 7.8,0.1z" fill="#385fff" stroke="#385fff"/><path d="M492.7,590.3l5.6,-0.4 2.1,-0.7 1.7,-0.9 1,-0.8 0.5,-1 0,-1.5 -0.5,-1.3 -1,1.8 0.2,1.6 -0.5,1.2 -1.5,1.1 -1.7,0.7 -2.2,0.5 -3,0.4 -7.1,0.3 -5.7,-0.1 -1.8,-1 7.4,0.2z" fill="#2f65ff" stroke="#2f65ff"/><path d="M490.1,589.5l2.2,0 3.2,0.6 -5.2,0.3 -7.9,-0.1 -3.6,-0.1 -1.7,-1zM502.1,588.3l2.5,-1.9 0.4,-0.8 0.1,-1.5 -0.3,-0.8 -0.7,-1.3 -1,1.7 0.5,1.3 0,1.5 -0.5,1z" fill="#1b6bff" stroke="#1b6bff"/><path d="M488,588.6l1.9,0 2.4,0.9 -11.7,-0.2 -3.5,-0.1 -1.6,-1.1zM504.8,586.1l1.7,-2 -0.3,-1.7 -1.3,-2.1 -0.8,1.7 0.7,1.3 0.3,0.8 0,0.8z" fill="#0071ff" stroke="#0071ff"/><path d="M486.1,587.6l1.9,0 1.9,1 -10.9,-0.3 -3.5,-0.2 -1.5,-1zM506.5,584.1l1.4,-1.8 -0.7,-1.7 -1.5,-2 -0.8,1.7 1.3,2.1z" fill="#0077ff" stroke="#0077ff"/><path d="M484.4,586.6l1.8,0 1.8,1 -10.6,-0.4 -3.4,-0.1 -1.6,-1.1zM507.9,582.3l1.1,-1.8 -1,-1.7 -1.6,-1.9 -0.7,1.7 1.5,2z" fill="#007dff" stroke="#007dff"/><path d="M482.8,585.5l1.8,0.1 1.6,1 -8.7,-0.4 -5.1,-0.2 -1.5,-1.1zM509,580.5l1,-1.7 -1.4,-2 -1.5,-1.6 -0.7,1.7 1.6,1.9z" fill="#0083fd" stroke="#0083fd"/><path d="M481.3,584.4l1.7,0.1 1.6,1.1 -5.2,-0.3 -8.5,-0.4 -1.6,-1zM510,578.8l0.8,-1.8 -1.9,-2.3 -1.2,-1.1 -0.6,1.6 1.5,1.6zM401.9,601.9l3.5,-0.8 2.3,-0.7 -2.5,1z" fill="#0088f9" stroke="#0088f9"/><path d="M479.7,583.4l1.7,0 1.6,1.1 -13.7,-0.6 -1.6,-1.1zM510.8,577l0.8,-1.6 -1.2,-1.5 -2.1,-2 -0.6,1.7 1.2,1.1zM402.1,601l5.1,-1.2 2.2,-0.8 2.8,-1.3 -3.9,2.4 -1.9,0.7 -4.5,1.1 -1.9,-0.1 -1.5,-0.4z" fill="#008df5" stroke="#008df5"/><path d="M478.2,582.3l1.7,0.1 1.5,1 -13.7,-0.6 -1.6,-1zM511.6,575.4l0.8,-1.7 -3.5,-3.4 -0.6,1.6 2.1,2zM402.3,599.9l3.7,-0.7 3,-0.9 3.5,-1.4 2.8,-1.5 -3.1,2.3 -2.8,1.3 -3.2,1 -4.1,1 -3.6,0.4 -2,-1z" fill="#0092f1" stroke="#0092f1"/><path d="M476.8,581.2l1.7,0.1 1.4,1.1 -13.8,-0.6 -1.7,-1.1zM512.4,573.7l0.7,-1.7 -2.7,-2.6 -1.4,0.7 -0.1,0.2zM402.7,598.9l4.2,-0.8 3.9,-1.2 3.3,-1.5 3.9,-2.2 -2.7,2.2 -1.8,1 -3.5,1.6 -2.9,1 -4.8,0.9 -5.8,0.5 -1.6,-1.1 4.6,-0.1z" fill="#0097ed" stroke="#0097ed"/><path d="M475.3,580.1l1.7,0.1 1.5,1.1 -14.1,-0.6 -1.8,-1zM513.1,572l0.6,-1.6 -0.2,-0.3 -1.6,-1.5 -1.5,0.8zM403.1,597.8l4.6,-0.8 4.9,-1.5 3.9,-2 4,-2.5 -2.5,2.2 -3.2,1.9 -3.1,1.5 -3.8,1.3 -5.2,1 -5.6,0.4 -2.2,0 -1.2,-1.1 3.9,0z" fill="#009cea" stroke="#009cea"/><path d="M475.5,579.1l1.5,1.1 -14.4,-0.5 -1.9,-1zM513.7,570.4l0.6,-1.7 -0.9,-0.9 -1.5,0.8zM403.6,596.8l4.9,-0.9 4.9,-1.5 4.7,-2.4 4.8,-3.1 -2.4,2.1 -4.5,2.8 -3.4,1.7 -3.8,1.2 -5.7,1.1 -5.5,0.4 -3.9,0 -1.1,-1.2 5.7,0.1z" fill="#00a1e7" stroke="#00a1e7"/><path d="M409.2,594.8l4.2,-1.2 3.4,-1.4 3.6,-2.1 5.1,-3.4 -2.6,2.2 -5.7,3.7 -3.8,1.8 -3.8,1.2 -6,1.2 -5.3,0.3 -5.7,-0.1 -1,-1.2 5.2,0.2 4.4,-0.1 4.7,-0.4zM472.2,578l1.8,0 1.5,1.1 -14.8,-0.4 -2,-0.9zM514.3,568.7l0.6,-1.7 -1.5,0.8z" fill="#00a5e4" stroke="#00a5e4"/><path d="M404.6,594.6l6.5,-1 4.9,-1.8 4.6,-2.4 7.6,-4.9 -2.7,2.2 -7.1,4.6 -4.1,2 -3.9,1.2 -6.3,1.2 -7.3,0.3 -5.2,-0.2 -0.9,-1.3 6.8,0.4zM470.6,576.9l1.8,0.1 1.6,1 -15.3,-0.2 -2.3,-0.9 6.6,-0.1zM514.9,567z" fill="#00aae1" stroke="#00aae1"/><path d="M402.4,593.7l2.7,-0.2 1.9,0.4 1.9,0.1 -1,0.2 -6.1,0.6 -6.2,0.1 -4.9,-0.4 -0.8,-1.2 6.4,0.4zM413.8,592.7l7.7,-4.3 9.8,-6.2 -3.1,2.3 -7.6,4.9 -3.1,1.7zM469,575.8l1.8,0.1 1.6,1.1 -9.4,-0.2 -6.6,0.1 -2.7,-0.7 7.3,-0.4z" fill="#00aedc" stroke="#00aedc"/><path d="M400.8,592.7l2.2,-0.1 2.1,0.9 -5,0.3 -5.5,-0.2 -4.7,-0.3 -0.7,-1.3 6.1,0.5zM418.7,589.9l3.3,-2.4 7.4,-4.7 5.8,-3.2 -12.8,8.2zM467.3,574.8l1.9,0.1 1.6,1 -9.8,-0.1 -7.3,0.4 -3.6,-0.6 8.6,-0.7z" fill="#00b1d7" stroke="#00b1d7"/><path d="M399.5,591.5l1.9,0 1.6,1.1 -4.2,0.1 -5.1,-0.3 -4.5,-0.4 -0.7,-1.3 5.8,0.6zM422,587.5l2.8,-2.2 8.3,-5.1 4.8,-2.3 4.8,-1.6 6.7,-1.4 9.3,-0.9 8.7,-0.2 1.8,1.1 -6,-0.1 -7,0.3 -6.1,0.5 -3.4,0.1 -4.2,0.7 -4.1,1.6 -5.6,2.8z" fill="#00b5d1" stroke="#00b5d1"/><path d="M398.3,590.4l1.8,0 1.3,1.1 -5.4,-0.1 -4.7,-0.4 -2.8,-0.3 -0.7,-1.3zM424.8,585.3l2.7,-2.2 6.5,-4 4.9,-2.3 4.8,-1.5 6.9,-1.4 8.1,-0.8 6.9,-0.3 1.8,1 -8.7,0.2 -5.5,0.4 -6.1,0.9 -4.4,1 -3.9,1.2 -4.4,1.9 -3.7,2.1z" fill="#00b8ca" stroke="#00b8ca"/><path d="M397.3,589.1l1.7,0.1 1.1,1.2 -9.5,-0.7 -2.8,-0.3 -0.6,-1.3zM427.5,583.1l2.7,-2.2 5.2,-3.1 4.5,-2 4.8,-1.6 6.9,-1.3 7.1,-0.8 4.8,-0.2 2.1,0.9 -6.9,0.3 -5.9,0.5 -4.5,0.6 -4.6,1.1 -4.1,1.3 -3.5,1.4 -4,2.2z" fill="#00bbc4" stroke="#00bbc4"/><path d="M396.4,587.9l1.6,0.1 1,1.2 -7.7,-0.6 -4.1,-0.5 -0.6,-1.4zM430.2,580.9l2.8,-2.3 3.9,-2.1 4,-1.8 4.8,-1.5 6,-1.2 6.9,-0.8 2.6,-0.2 2.3,0.9 -4.8,0.2 -5.8,0.6 -3.7,0.5 -4.5,1 -3.9,1.2 -2.9,1.2 -3.7,1.8z" fill="#00bdbc" stroke="#00bdbc"/><path d="M395.6,586.6l1.5,0.2 0.9,1.2 -7.4,-0.7 -4,-0.6 -0.6,-1.3zM433,578.6l3.2,-2.3 2.3,-1.2 3.7,-1.5 4.5,-1.4 5.7,-1.2 6.1,-0.7 2.7,0.7 -8.6,0.8 -6.9,1.4 -3,0.9 -3.6,1.4z" fill="#00bfb5" stroke="#00bfb5"/><path d="M396.3,585.5l0.8,1.3 -8.5,-1 -2.6,-0.4 -0.5,-1.3zM436.2,576.3l4.1,-2.6 3.5,-1.4 2.9,-0.9 4.4,-1 3.8,-0.6 3.6,0.5 -6.1,0.7 -5.7,1.2 -5.7,1.8z" fill="#00c1ae" stroke="#00c1ae"/><path d="M395.5,584.2l0.8,1.3 -7,-0.8 -3.8,-0.6 -0.5,-1.4zM440.3,573.7l4.1,-2 3.1,-1.1 4.1,-0.8 3.3,0 -3.8,0.6 -4.4,1 -2.9,0.9z" fill="#00c3a6" stroke="#00c3a6"/><path d="M393.4,582.8l1.4,0.1 0.7,1.3 -8,-1 -2.5,-0.5 -0.5,-1.3z" fill="#00c69e" stroke="#00c69e"/><path d="M394.2,581.6l0.6,1.3 -6.6,-0.9 -3.7,-0.6 -0.1,-0.2 0.7,-1z" fill="#00c895" stroke="#00c895"/><path d="M392.2,580.1l1.3,0.2 0.7,1.3 -9.1,-1.4 0.8,-1.1z" fill="#00ca8c" stroke="#00ca8c"/><path d="M391.6,578.8l1.3,0.2 0.6,1.3 -7.6,-1.2 0.8,-1.1z" fill="#00cb81" stroke="#00cb81"/><path d="M392.4,577.6l0.5,1.4 -6.2,-1 0.8,-1.2z" fill="#00cc76" stroke="#00cc76"/><path d="M390.5,576.1l1.3,0.2 0.6,1.3 -4.9,-0.8 0.7,-1.1z" fill="#00cd6a" stroke="#00cd6a"/><path d="M391.3,575l0.5,1.3 -3.6,-0.6 0.8,-1.1z" fill="#00cd5e" stroke="#00cd5e"/><path d="M390.8,573.6l0.5,1.4 -2.3,-0.4 0.8,-1.2z" fill="#3ecc51" stroke="#3ecc51"/><path d="M390.4,572.5l0.4,1.1 -1,-0.2z" fill="#67cb44" stroke="#67cb44"/><path d="M495.5,590.1l4.4,-0.8 2.2,-1 -2.7,1.3 -2.1,0.4z" fill="#2f65ff" stroke="#2f65ff"/><path d="M497.7,589.1l2.5,-0.4 2,-0.6 1.5,-0.8 1.1,-1.2 -2.7,2.2 -2.2,1 -4.4,0.8 -3.2,-0.6z" fill="#1b6bff" stroke="#1b6bff"/><path d="M500,588.1l2.6,-0.6 2.5,-1.1 1,-1 0.4,-1.3 -2.8,3.2 -2.5,1.1 -3.5,0.7 -5.4,0.4 -2.4,-0.9 6.4,-0.2z" fill="#0071ff" stroke="#0071ff"/><path d="M502.2,587.1l3,-0.8 1.7,-1 0.9,-1.4 0.1,-1.6 -1.4,1.8 -0.3,1.2 -0.5,0.6 -1.3,0.9 -1.8,0.7 -4.9,0.8 -5.7,0.3 -2.1,0 -1.9,-1 8.1,0z" fill="#0077ff" stroke="#0077ff"/><path d="M500.4,586.6l4.9,-0.7 2.7,-1.1 0.9,-1 0.3,-0.7 0.1,-1.5 -0.3,-1.1 -1.1,1.8 -0.1,1.6 -0.7,1.2 -1.3,0.9 -1.8,0.7 -2.3,0.4 -3.1,0.4 -6.8,0.2 -3.8,-0.1 -1.8,-1 7.5,0.2z" fill="#007dff" stroke="#007dff"/><path d="M497.5,585.9l2.2,-0.1 2.5,0.4 2,-0.1 -2.4,0.4 -3.9,0.2 -8,0 -3.7,-0.1 -1.6,-1zM506.5,585.5l2,-1 2,-1.6 0.3,-1.3 0,-0.8 -0.8,-2 -1,1.7 0.4,1.9 -0.4,1.3 -1,1.1z" fill="#0083fd" stroke="#0083fd"/><path d="M495.3,585l1.9,0 2.5,0.8 -13.4,-0.2 -1.7,0 -1.6,-1.1zM510.4,583l1.9,-2 0,-0.2 -0.3,-1.7 -1.2,-2.1 -0.8,1.8 0.8,2 -0.1,1.5z" fill="#0088f9" stroke="#0088f9"/><path d="M493.4,584l1.8,0.1 2,0.9 -14.2,-0.5 -1.6,-1.1zM512.3,581l1.4,-1.9 -0.7,-1.8 -1.4,-1.9 -0.8,1.6 1.2,2.1z" fill="#008df5" stroke="#008df5"/><path d="M491.7,583l1.7,0.1 1.8,1 -13.8,-0.7 -1.5,-1zM513.7,579.1l1.2,-1.8 -1.1,-1.8 -1.4,-1.8 -0.8,1.7 1.4,1.9z" fill="#0092f1" stroke="#0092f1"/><path d="M491.8,582l1.6,1.1 -13.5,-0.7 -1.4,-1.1zM514.9,577.3l1,-1.7 -1.5,-2.1 -1.3,-1.5 -0.7,1.7 1.4,1.8z" fill="#0097ed" stroke="#0097ed"/><path d="M488.6,580.9l1.6,0.1 1.6,1 -13.3,-0.7 -1.5,-1.1zM515.9,575.6l0.9,-1.8 -3.1,-3.4 -0.6,1.6 1.3,1.5z" fill="#009cea" stroke="#009cea"/><path d="M488.7,579.9l1.5,1.1 -13.2,-0.8 -1.5,-1.1zM516.8,573.8l0.8,-1.7 -3.3,-3.4 -0.6,1.7z" fill="#00a1e7" stroke="#00a1e7"/><path d="M485.6,578.7l1.6,0.1 1.5,1.1 -13.2,-0.8 -1.5,-1.1zM517.6,572.1l0.8,-1.6 -3.5,-3.5 -0.6,1.7z" fill="#00a5e4" stroke="#00a5e4"/><path d="M484.2,577.6l1.6,0.1 1.4,1.1 -13.2,-0.8 -1.6,-1zM518.4,570.5l0.7,-1.7 -2.7,-2.6 -1.5,0.8zM408.9,594l4.9,-1.3 -2.7,0.9z" fill="#00aae1" stroke="#00aae1"/><path d="M482.8,576.5l1.6,0.1 1.4,1.1 -13.4,-0.7 -1.6,-1.1zM519.1,568.8l0.7,-1.7 -0.2,-0.2 -1.7,-1.5 -1.5,0.8zM409.1,593l5,-1.3 4.6,-1.8 -3.4,2 -2,0.9 -4.4,1.2 -1.9,-0.1 -1.9,-0.4z" fill="#00aedc" stroke="#00aedc"/><path d="M481.4,575.4l1.6,0.1 1.4,1.1 -13.6,-0.7 -1.6,-1zM519.8,567.1l0.6,-1.6 -1,-0.9 -1.5,0.8zM409.3,592l3.6,-0.8 3,-0.9 2.6,-1 3.5,-1.8 -3.3,2.4 -3.3,1.4 -3.3,1 -3,0.7 -4,0.5 -2.1,-0.9z" fill="#00b1d7" stroke="#00b1d7"/><path d="M479.9,574.3l1.6,0.1 1.5,1.1 -13.8,-0.6 -1.8,-1.1zM520.4,565.5l0.5,-1.5 -1.5,0.6zM409.6,591l4.2,-0.9 3.9,-1.2 3.5,-1.6 3.6,-2 -2.8,2.2 -2,1.1 -3.2,1.4 -3.9,1.2 -4.6,0.9 -5.3,0.5 -1.6,-1.1 4.8,-0.1z" fill="#00b5d1" stroke="#00b5d1"/><path d="M478.4,573.2l1.7,0.1 1.4,1.1 -14.1,-0.6 -1.8,-1zM409.9,589.9l4.7,-0.9 3.9,-1.2 4,-1.8 5,-2.9 -2.7,2.2 -3.6,2 -3.5,1.6 -3.9,1.2 -5.9,1.1 -6.5,0.3 -1.3,-1.1 5.8,-0.1z" fill="#00b8ca" stroke="#00b8ca"/><path d="M476.9,572.1l1.7,0.1 1.5,1.1 -6.8,-0.4 -7.7,-0.1 -2.1,-0.9 6.2,0zM410.3,588.9l5.2,-1 4.8,-1.5 4,-2 5.9,-3.5 -2.7,2.2 -4.1,2.4 -3.5,1.8 -4.2,1.5 -5.8,1.1 -5.7,0.5 -4.1,0 -1.1,-1.2 5.8,0.1z" fill="#00bbc4" stroke="#00bbc4"/><path d="M416.3,586.9l4,-1.3 3.4,-1.4 9.3,-5.6 -2.8,2.3 -5.9,3.5 -4,2 -3.8,1.3 -6.2,1.2 -5.5,0.4 -5.8,-0.1 -1,-1.2 5.4,0.2 4.4,-0.1 3.9,-0.4zM475.4,571l1.7,0.1 1.5,1.1 -7,-0.3 -8.1,0 -2.3,-0.9 6.7,-0.1z" fill="#00bdbc" stroke="#00bdbc"/><path d="M411.1,586.8l6,-0.9 5,-1.7 4.2,-2 9.9,-5.9 -3.2,2.3 -8,4.9 -3.8,1.8 -3.5,1.2 -6,1.2 -6.2,0.5 -7.5,-0.2 -0.9,-1.2 6.9,0.3zM473.8,570l1.8,0 1.5,1.1 -8.4,-0.2 -7.5,0.1 -2.7,-0.7 7.4,-0.4z" fill="#00bfb5" stroke="#00bfb5"/><path d="M408.9,585.9l2.6,-0.2 1.5,0.4 2,0.1 -6.7,0.8 -6.2,0 -5,-0.2 -0.8,-1.3 6.5,0.4zM420.6,584.8l2.7,-1.4 12.4,-7.4 4.6,-2.3 -14,8.5 -2.5,1.3zM472.1,568.9l1.8,0.1 1.7,1 -9.7,-0.1 -7.4,0.4 -3.6,-0.5 8.8,-0.8z" fill="#00c1ae" stroke="#00c1ae"/><path d="M407.2,584.9l2.2,-0.1 2.1,0.9 -4.8,0.3 -7.3,-0.3 -3.1,-0.2 -0.8,-1.3 6.2,0.5zM425.6,582l3.4,-2.4 9,-5.4 4.9,-2.2 4.8,-1.6 4.4,-1 3.6,-0.6 8,-0.7 8.5,-0.1 1.7,1 -5.8,-0.1 -6.9,0.3 -6.3,0.6 -3.3,0 -4.1,0.8 -4.2,1.5 -5.6,2.8z" fill="#00c3a6" stroke="#00c3a6"/><path d="M405.9,583.7l1.9,0.1 1.6,1 -6,0 -4.9,-0.3 -3,-0.3 -0.7,-1.3 6,0.6zM429,579.6l3,-2.3 6.9,-4.1 5,-2.3 4.8,-1.6 6.8,-1.4 8.2,-0.8 6.6,-0.1 1.9,1 -6.6,0 -7.4,0.5 -6.1,0.9 -4.4,1 -3.9,1.2 -4.5,2 -3.6,1.9z" fill="#00c69e" stroke="#00c69e"/><path d="M404.7,582.6l1.8,0 1.3,1.2 -8.6,-0.4 -4.4,-0.5 -0.6,-1.3zM432,577.3l2.9,-2.3 5.8,-3.3 4.1,-1.8 4.9,-1.6 6.8,-1.4 7.1,-0.7 4.7,-0.2 2,1 -6.6,0.1 -5.9,0.5 -4.5,0.7 -4.6,1 -4.2,1.4 -3.6,1.5 -3.5,1.8z" fill="#00c895" stroke="#00c895"/><path d="M403.7,581.3l1.7,0.2 1.1,1.1 -8.1,-0.5 -4.2,-0.5 -0.7,-1.3zM434.9,575l3,-2.3 3.9,-2.1 4,-1.8 4.9,-1.5 6,-1.3 6.8,-0.7 2.5,-0.1 2.3,0.8 -5,0.2 -5.5,0.6 -3.7,0.5 -4.4,1 -4,1.2 -3.4,1.4 -3.2,1.6z" fill="#00ca8c" stroke="#00ca8c"/><path d="M402.8,580.1l1.6,0.1 1,1.3 -9.1,-0.8 -2.8,-0.4 -0.6,-1.3zM437.9,572.7l3.4,-2.4 2.3,-1.1 3.6,-1.6 4.5,-1.3 5.7,-1.2 5.8,-0.7 2.8,0.8 -8.4,0.7 -6.9,1.4 -3,0.9 -3.6,1.3z" fill="#00cb81" stroke="#00cb81"/><path d="M403.5,579l0.9,1.2 -8.8,-0.8 -2.7,-0.4 -0.5,-1.4zM441.3,570.3l4.3,-2.6 6.1,-2.2 3.2,-0.8 4.6,-0.7 3.7,0.4 -5.8,0.7 -5.7,1.2 -5.8,1.8z" fill="#00cc76" stroke="#00cc76"/><path d="M401.2,577.6l1.4,0.1 0.9,1.3 -7.2,-0.8 -3.9,-0.6 -0.6,-1.3zM445.6,567.7l3.7,-1.8 3.1,-1.1 3.1,-0.6 4,-0.2 -4.6,0.7 -3.2,0.8z" fill="#00cd6a" stroke="#00cd6a"/><path d="M400.5,576.3l1.4,0.2 0.7,1.2 -8.2,-1 -2.6,-0.4 -0.5,-1.3z" fill="#00cd5e" stroke="#00cd5e"/><path d="M401.1,575.2l0.8,1.3 -6.8,-0.9 -3.8,-0.6 -0.5,-1.4z" fill="#3ecc51" stroke="#3ecc51"/><path d="M400.5,573.8l0.6,1.4 -2.7,-0.4 -7.6,-1.2 -0.4,-1.1 0.1,-0.2z" fill="#67cb44" stroke="#67cb44"/><path d="M398.5,572.4l1.3,0.2 0.7,1.2 -10,-1.5 0.8,-1.1z" fill="#82c936" stroke="#82c936"/><path d="M399.2,571.2l0.6,1.4 -8.5,-1.4 0.8,-1.2z" fill="#9ac727" stroke="#9ac727"/><path d="M397.4,569.7l1.2,0.2 0.6,1.3 -7.1,-1.2 0.8,-1.1z" fill="#afc517" stroke="#afc517"/><path d="M398.1,568.6l0.5,1.3 -5.7,-1 0.7,-1.1z" fill="#c2c205" stroke="#c2c205"/><path d="M396.3,567l1.3,0.2 0.5,1.4 -4.5,-0.8 0.8,-1.2z" fill="#d3c000" stroke="#d3c000"/><path d="M397.1,565.9l0.5,1.3 -3.2,-0.6 0.8,-1.1z" fill="#e3bd00" stroke="#e3bd00"/><path d="M396.6,564.5l0.5,1.4 -1.9,-0.4 0.8,-1.1z" fill="#f1bb0a" stroke="#f1bb0a"/><path d="M396.4,563.9l0.2,0.6 -0.6,-0.1z" fill="#fcba1c" stroke="#fcba1c"/><path d="M504.2,586.1l2.3,-0.6z" fill="#007dff" stroke="#007dff"/><path d="M505.8,585.3l3,-0.9 1,-0.7 0.6,-0.7 -3,2.1 -2,0.7 -1.2,0.3 -2,0.1 -2.5,-0.4z" fill="#0083fd" stroke="#0083fd"/><path d="M506.9,584.6l2.6,-0.6 1.6,-0.8 0.9,-1.1 0.3,-1.1 -2.8,3 -2.6,1 -3.6,0.6 -3.6,0.2 -2.5,-0.8 6.5,-0.1z" fill="#0088f9" stroke="#0088f9"/><path d="M507.6,584l3.6,-0.7 1.6,-0.8 0.5,-0.6 0.6,-1.2 -0.2,-1.6 -1.4,1.9 -0.3,1.1 -0.5,0.7 -1.1,0.8 -1.9,0.7 -4.8,0.6 -6.5,0.1 -2,-0.9 7.6,0.1z" fill="#008df5" stroke="#008df5"/><path d="M506.1,583.5l3.1,-0.1 2.1,-0.2 2.1,-0.7 1.5,-0.9 0.6,-0.9 0.1,-0.7 -0.2,-1.6 -0.5,-1.1 -1.2,1.8 0.2,1.6 -0.6,1.3 -1.2,0.9 -1.9,0.7 -2.6,0.4 -2.7,0.2 -7.9,-0.1 -1.8,0 -1.8,-1z" fill="#0092f1" stroke="#0092f1"/><path d="M503.4,582.7l1.8,0.1 3.1,0.6 -6.1,0 -8.8,-0.3 -1.6,-1.1zM514.9,581.6l2.6,-2.2 -0.4,-1.7 -1.2,-2.1 -1,1.7 0.5,1.1 0.2,1.6 -0.1,0.7z" fill="#0097ed" stroke="#0097ed"/><path d="M502.9,581.9l2.3,0.9 -13.4,-0.8 -1.6,-1zM517.5,579.4l1.7,-1.9 -0.8,-1.4 -1.6,-2.3 -0.9,1.8 1.2,2.1z" fill="#009cea" stroke="#009cea"/><path d="M499.6,580.8l1.5,0.1 1.8,1 -12.7,-0.9 -1.5,-1.1zM519.2,577.5l1.3,-1.8 -2.9,-3.6 -0.8,1.7 1.6,2.3z" fill="#00a1e7" stroke="#00a1e7"/><path d="M497.9,579.7l1.5,0.2 1.7,1 -12.4,-1 -1.5,-1.1zM520.5,575.7l1.1,-1.8 -3.2,-3.4 -0.8,1.6z" fill="#00a5e4" stroke="#00a5e4"/><path d="M497.8,578.8l1.6,1.1 -12.2,-1.1 -1.4,-1.1zM521.6,573.9l0.9,-1.7 -3.4,-3.4 -0.7,1.7z" fill="#00aae1" stroke="#00aae1"/><path d="M494.9,577.5l1.4,0.2 1.5,1.1 -12,-1.1 -1.4,-1.1zM522.5,572.2l0.9,-1.7 -3.6,-3.4 -0.7,1.7z" fill="#00aedc" stroke="#00aedc"/><path d="M493.5,576.4l1.4,0.2 1.4,1.1 -11.9,-1.1 -1.4,-1.1zM523.4,570.5l0.8,-1.7 -3.8,-3.3 -0.6,1.6z" fill="#00b1d7" stroke="#00b1d7"/><path d="M493.5,575.5l1.4,1.1 -11.9,-1.1 -1.5,-1.1zM524.2,568.8l0.7,-1.7 -3.8,-3.2 -0.2,0.1 -0.5,1.5z" fill="#00b5d1" stroke="#00b5d1"/><path d="M490.7,574.2l1.4,0.2 1.4,1.1 -12,-1.1 -1.4,-1.1zM524.9,567.1l0.7,-1.7 -2.8,-2.2 -1.7,0.7z" fill="#00b8ca" stroke="#00b8ca"/><path d="M489.3,573.1l1.4,0.2 1.4,1.1 -12,-1.1 -1.5,-1.1zM525.6,565.4l0.6,-1.6 -1.6,-1.3 -1.8,0.7z" fill="#00bbc4" stroke="#00bbc4"/><path d="M489.4,572.1l1.3,1.2 -12.1,-1.1 -1.5,-1.1zM526.2,563.8l0.6,-1.7 -0.1,-0.1 -2.1,0.5z" fill="#00bdbc" stroke="#00bdbc"/><path d="M486.6,570.9l1.4,0.1 1.4,1.1 -12.3,-1 -1.5,-1.1zM526.8,562.1l0.1,-0.1 -0.2,0zM415.4,586.2l5.2,-1.4 -2.4,0.9z" fill="#00bfb5" stroke="#00bfb5"/><path d="M485.2,569.8l1.4,0.1 1.4,1.1 -12.4,-1 -1.7,-1zM415.2,585.3l5,-1.2 2.4,-0.8 3,-1.3 -3.3,1.9 -3,1.3 -4.3,1 -2,-0.1 -1.5,-0.4z" fill="#00c1ae" stroke="#00c1ae"/><path d="M485.2,568.8l1.4,1.1 -5.9,-0.6 -6.8,-0.3 -1.7,-1 6.9,0.3zM415.2,584.3l3.9,-0.7 3,-0.8 3.5,-1.5 3.4,-1.7 -3.4,2.4 -4.4,1.8 -4.2,1.1 -5.5,0.8 -2.1,-0.9z" fill="#00c3a6" stroke="#00c3a6"/><path d="M482.3,567.6l1.5,0.1 1.4,1.1 -6.1,-0.5 -6.9,-0.3 -1.9,-1 5.6,0.1zM415.3,583.4l4.7,-0.8 4,-1.2 3.3,-1.5 4.7,-2.6 -3,2.3 -1.9,1 -3.2,1.5 -3.8,1.3 -4.9,0.9 -5.8,0.5 -1.6,-1z" fill="#00c69e" stroke="#00c69e"/><path d="M480.8,566.5l1.5,0.1 1.5,1.1 -6.9,-0.5 -6.6,-0.2 -2,-1 5.9,0.1zM419.7,581.8l3.3,-0.8 3.7,-1.4 3.4,-1.7 4.8,-2.9 -2.9,2.3 -3.9,2.2 -3.2,1.5 -3.8,1.3 -5.8,1.1 -5.4,0.3 -2.1,0.1 -1.3,-1.2 6.2,0 2.8,-0.2z" fill="#00c895" stroke="#00c895"/><path d="M479.3,565.4l1.5,0.1 1.5,1.1 -6.4,-0.4 -7.6,-0.2 -2.3,-0.8 6.3,-0.1zM419.1,581l4.9,-1.1 3.7,-1.3 4,-2 6.2,-3.9 -3,2.3 -5.8,3.5 -3.3,1.5 -3.8,1.3 -5.9,1 -5.7,0.4 -3.9,-0.1 -1.1,-1.1 7.7,0z" fill="#00ca8c" stroke="#00ca8c"/><path d="M418.8,580.1l5.2,-0.9 4.7,-1.6 3.9,-2 8.7,-5.3 -3.4,2.4 -7.8,4.7 -3.3,1.6 -3.8,1.2 -6,1.1 -6.1,0.3 -5.5,-0.1 -1,-1.3 7,0.3zM477.6,564.4l1.6,0.1 1.6,1 -6.8,-0.4 -8,0.1 -2.8,-0.8 7.1,-0.2z" fill="#00cb81" stroke="#00cb81"/><path d="M416.1,579.4l2.6,-0.2 1.3,0.2 2,0 2.1,-0.3 2.1,-0.6 3.1,-1.5 4.3,-2.4 7.4,-4.6 4.6,-2.3 -14.5,8.7 -3.2,1.5 -3.9,1.3 -5.2,0.9 -7.4,0.4 -7,-0.3 -0.9,-1.2 6.5,0.4zM475.9,563.3l1.6,0.1 1.7,1.1 -7.4,-0.3 -8.6,0.2 -3.7,-0.4 7.2,-0.7z" fill="#00cc76" stroke="#00cc76"/><path d="M414.2,578.4l2.1,0 2.4,0.8 -4.8,0.2 -7.3,-0.2 -3.1,-0.2 -0.9,-1.3 6.2,0.5zM431.4,575.8l8.8,-5.7 3.7,-2.1 4.1,-1.9 4.7,-1.6 6.9,-1.4 8.2,-0.7 7.9,0 1.8,1 -6.1,-0.2 -5.7,0.2 -6.2,0.6 -2.9,0 -4.2,0.8 -4.1,1.6 -5.5,2.6z" fill="#00cd6a" stroke="#00cd6a"/><path d="M412.8,577.3l1.8,0.1 1.7,1 -5.8,-0.1 -4.9,-0.3 -3,-0.3 -0.7,-1.2zM435.2,573.3l5.4,-3.8 4.3,-2.5 4.1,-1.9 4.8,-1.6 6.9,-1.4 6.8,-0.6 6.3,0 1.9,0.9 -6.3,0 -5.9,0.3 -5.2,0.6 -5.6,1.2 -3.8,1.3 -4.3,1.8 -3.6,2z" fill="#00cd5e" stroke="#00cd5e"/><path d="M411.6,576.2l1.6,0 1.4,1.2 -9.8,-0.6 -2.9,-0.3 -0.8,-1.3zM438.4,571l4,-2.9 4.3,-2.5 4.3,-1.8 3.9,-1.3 5.7,-1.1 6.5,-0.7 4.5,-0.1 2.2,0.9 -4.7,0 -5.8,0.3 -5.1,0.7 -4.4,1 -3.9,1.3 -3.4,1.4 -3.7,2z" fill="#3ecc51" stroke="#3ecc51"/><path d="M410.5,575l1.5,0.1 1.2,1.1 -7.8,-0.6 -4.3,-0.4 -0.6,-1.4zM441.6,568.6l3.5,-2.4 3.6,-2 3.4,-1.4 3.9,-1.2 5.8,-1.2 5.4,-0.5 1.7,-0.1 2.7,0.8 -8.5,0.4 -3.7,0.6 -4.5,0.9 -3,0.9 -3.5,1.4 -3.2,1.6z" fill="#67cb44" stroke="#67cb44"/><path d="M409.5,573.7l1.5,0.2 1,1.2 -10.2,-1.1 -1.3,-0.2 -0.7,-1.2zM445.1,566.2l4.8,-2.9 3.4,-1.5 2.9,-0.9 4.4,-1 4.9,-0.7 3.4,0.6 -7.1,0.6 -5.8,1.2 -5.7,1.9z" fill="#82c936" stroke="#82c936"/><path d="M408.6,572.5l1.5,0.1 0.9,1.3 -8.5,-1 -2.7,-0.3 -0.6,-1.4zM449.2,563.6l4,-2 4.1,-1.6 4.2,-0.7 4,-0.1 -4.9,0.7 -4.4,1 -3.8,1.3z" fill="#9ac727" stroke="#9ac727"/><path d="M409.2,571.4l0.9,1.2 -7,-0.8 -3.9,-0.6 -0.6,-1.3z" fill="#afc517" stroke="#afc517"/><path d="M408.4,570.1l0.8,1.3 -8,-1.1 -2.6,-0.4 -0.5,-1.3z" fill="#c2c205" stroke="#c2c205"/><path d="M406.4,568.6l1.3,0.2 0.7,1.3 -7.8,-1.1 -2.5,-0.4 -0.5,-1.4z" fill="#d3c000" stroke="#d3c000"/><path d="M405.7,567.3l1.3,0.2 0.7,1.3 -8.9,-1.4 -1.2,-0.2 -0.5,-1.3z" fill="#e3bd00" stroke="#e3bd00"/><path d="M406.3,566.2l0.7,1.3 -7.5,-1.2 -2.4,-0.4 -0.5,-1.4z" fill="#f1bb0a" stroke="#f1bb0a"/><path d="M404.5,564.7l1.2,0.2 0.6,1.3 -9.7,-1.7 -0.2,-0.6 0.4,-0.6z" fill="#fcba1c" stroke="#fcba1c"/><path d="M405.1,563.6l0.6,1.3 -8.9,-1.6 0.9,-1.1z" fill="#ffba2b" stroke="#ffba2b"/><path d="M403.4,562l1.1,0.2 0.6,1.4 -7.4,-1.4 0.8,-1.1z" fill="#ffbc2d" stroke="#ffbc2d"/><path d="M404,560.9l0.5,1.3 -6,-1.1 0.8,-1.1z" fill="#ffc127" stroke="#ffc127"/><path d="M402.3,559.3l1.2,0.3 0.5,1.3 -4.7,-0.9 0.9,-1.1z" fill="#ffc71d" stroke="#ffc71d"/><path d="M403,558.2l0.5,1.4 -3.3,-0.7 0.9,-1.1z" fill="#ffcd09" stroke="#ffcd09"/><path d="M402.5,556.9l0.5,1.3 -1.9,-0.4 0.9,-1.1z" fill="#ffd300" stroke="#ffd300"/><path d="M402.3,556.4l0.2,0.5 -0.5,-0.2z" fill="#ffda00" stroke="#ffda00"/><path d="M511.6,583.1l1.8,-0.5 1.5,-1 -1.5,0.9 -2.1,0.7 -3,0.2z" fill="#0092f1" stroke="#0092f1"/><path d="M513.9,582.6l1.5,-0.4 1.5,-0.8 0.4,-0.6 0.2,-1.4 -3.5,2.9 -1.9,0.7 -3.8,0.4 -3.1,-0.6 5.8,0z" fill="#0097ed" stroke="#0097ed"/><path d="M514.6,582.5l2.4,-0.1 2.3,-0.6 0.5,-0.6 0.2,-1.4 -0.8,-2.3 -1.7,1.9 -0.2,1.4 -0.4,0.6 -1.5,0.8 -1.5,0.4 -2.2,0.2 -4.7,0 -1.8,0 -2.3,-0.9z" fill="#009cea" stroke="#009cea"/><path d="M511.2,582l4,0.5 1.8,-0.1 -4.3,0.1 -9.8,-0.6 -1.8,-1zM519.2,581.8l2.2,-1.2 1.6,-1.3 -2.5,-3.6 -1.3,1.8 0.6,1.5 0.2,1.6 -0.2,0.6z" fill="#00a1e7" stroke="#00a1e7"/><path d="M508.9,581.1l1.3,0.2 2.4,0.8 -11.5,-1.2 -1.7,-1zM523,579.3l1.9,-2 -3.3,-3.4 -1.1,1.8z" fill="#00a5e4" stroke="#00a5e4"/><path d="M507,580.1l1.2,0.2 2,1 -10.8,-1.4 -1.6,-1.1zM524.9,577.3l1.4,-1.8 -3.8,-3.3 -0.9,1.7z" fill="#00aae1" stroke="#00aae1"/><path d="M506.5,579.3l1.7,1 -10.4,-1.5 -1.5,-1.1zM526.3,575.5l1.2,-1.8 -4.1,-3.2 -0.9,1.7z" fill="#00aedc" stroke="#00aedc"/><path d="M503.8,578l1.1,0.2 1.6,1.1 -10.2,-1.6 -1.4,-1.1zM527.5,573.7l1,-1.8 -4.3,-3.1 -0.8,1.7z" fill="#00b1d7" stroke="#00b1d7"/><path d="M503.5,577.1l1.4,1.1 -10,-1.6 -1.4,-1.1zM528.5,571.9l0.9,-1.7 -4.5,-3.1 -0.7,1.7z" fill="#00b5d1" stroke="#00b5d1"/><path d="M500.9,575.8l1.1,0.2 1.5,1.1 -10,-1.6 -1.4,-1.1zM529.4,570.2l0.8,-1.7 -4.6,-3.1 -0.7,1.7z" fill="#00b8ca" stroke="#00b8ca"/><path d="M500.7,574.9l1.3,1.1 -9.9,-1.6 -1.4,-1.1zM530.2,568.5l0.7,-1.7 -4.7,-3 -0.6,1.6z" fill="#00bbc4" stroke="#00bbc4"/><path d="M499.3,573.8l1.4,1.1 -10,-1.6 -1.3,-1.2 5.1,0.8zM530.9,566.8l0.7,-1.6 -4.8,-3.1 -0.6,1.7z" fill="#00bdbc" stroke="#00bdbc"/><path d="M498,572.7l1.3,1.1 -4.8,-0.9 -5.1,-0.8 -1.4,-1.1 5.9,0.9zM531.6,565.2l0.6,-1.7 -3,-1.8 -2.3,0.3 -0.1,0.1 1.2,0.8z" fill="#00bfb5" stroke="#00bfb5"/><path d="M495.6,571.3l1.1,0.2 1.3,1.2 -4.1,-0.8 -5.9,-0.9 -1.4,-1.1zM532.2,563.5l0.7,-1.6 -3.7,-0.2z" fill="#00c1ae" stroke="#00c1ae"/><path d="M495.4,570.4l1.3,1.1 -4.7,-0.9 -5.4,-0.7 -1.4,-1.1 5,0.6z" fill="#00c3a6" stroke="#00c3a6"/><path d="M494.1,569.3l1.3,1.1 -5.2,-1 -5,-0.6 -1.4,-1.1 5.8,0.7z" fill="#00c69e" stroke="#00c69e"/><path d="M491.6,567.9l1.2,0.2 1.3,1.2 -4.5,-0.9 -5.8,-0.7 -1.5,-1.1z" fill="#00c895" stroke="#00c895"/><path d="M490.3,566.8l1.1,0.2 1.4,1.1 -4.9,-0.8 -5.6,-0.7 -1.5,-1.1z" fill="#00ca8c" stroke="#00ca8c"/><path d="M490.1,565.9l1.3,1.1 -5.4,-0.9 -5.2,-0.6 -1.6,-1 5.8,0.6z" fill="#00cb81" stroke="#00cb81"/><path d="M487.5,564.6l1.2,0.2 1.4,1.1 -5.1,-0.8 -5.8,-0.6 -1.7,-1.1 5.2,0.5zM422.5,578.7l4.6,-1.1 4.3,-1.8 -3.1,1.7 -3.1,1.3 -2.1,0.5 -2.1,0.2 -2.3,-0.3z" fill="#00cc76" stroke="#00cc76"/><path d="M486,563.5l1.2,0.2 1.5,1.1 -5.2,-0.8 -6,-0.6 -1.8,-1 4.8,0.4zM421.7,578l4.5,-0.8 3,-0.9 2.5,-1.1 3.5,-1.9 -4.6,2.9 -2.6,1.1 -2.9,0.9 -2.6,0.5 -3.8,0.5 -2.4,-0.8z" fill="#00cd6a" stroke="#00cd6a"/><path d="M485.7,562.6l1.5,1.1 -5.2,-0.8 -6.3,-0.5 -1.9,-0.9 6,0.3zM424.8,576.8l3.6,-0.8 2.8,-1 3.2,-1.5 4,-2.5 -3.2,2.3 -2.7,1.5 -2.4,1.2 -2.9,0.9 -5.5,1.1 -5.4,0.4 -1.7,-1 5.1,-0.1z" fill="#00cd5e" stroke="#00cd5e"/><path d="M482.9,561.3l1.3,0.2 1.5,1.1 -5.9,-0.8 -6,-0.3 -2.2,-0.9 5.8,0.2zM428.5,575.4l3.1,-0.9 2.7,-1.2 2.8,-1.6 4.5,-3.1 -3.2,2.4 -4,2.5 -3.2,1.5 -2.8,1 -4.6,0.9 -5,0.4 -4.2,0.1 -1.4,-1.2 7.9,0.1 3.9,-0.3z" fill="#3ecc51" stroke="#3ecc51"/><path d="M426,575.1l5,-0.9 3.7,-1.3 3,-1.7 7.4,-5 -9.4,6.3 -3.2,1.6 -2.8,1 -2.2,0.5 -3.8,0.5 -6.9,0.3 -3.6,-0.2 -1.2,-1.1 7,0.3zM481.2,560.3l1.3,0.2 1.7,1 -5.6,-0.6 -7,-0.3 -2.7,-0.8 6.1,0z" fill="#67cb44" stroke="#67cb44"/><path d="M422.9,574.4l6.2,0.2 2,-0.5 2.1,-0.6 5.2,-2.7 7.1,-5 3.7,-2.2 -5.6,3.5 -6.6,4.6 -3.1,1.5 -2.9,1 -5,0.9 -7,0.3 -7,-0.3 -1,-1.2 6.4,0.4zM480.7,559.5l1.8,1 -7.2,-0.7 -6.4,0 -3.4,-0.6 7.9,-0.2z" fill="#82c936" stroke="#82c936"/><path d="M421,573.5l1.7,0 2.5,0.9 -6.1,0 -5,-0.3 -3.1,-0.2 -0.9,-1.3zM438.4,570.8l4,-2.5 4.4,-3.4 2.8,-1.7 4,-2 3.8,-1.2 5.7,-1.2 6.9,-0.6 3.9,0 4.9,0.3 1.9,1 -4.5,-0.4 -5.6,-0.1 -9.1,0.3 -4.2,0.7 -4.1,1.6 -5.6,2.9 -2.8,1.7z" fill="#9ac727" stroke="#9ac727"/><path d="M419.4,572.4l1.6,0.1 1.7,1 -6.7,-0.3 -5.9,-0.6 -0.9,-1.2zM442.4,568.3l3.5,-2.5 2.9,-2.2 2.1,-1.3 4,-1.9 3.8,-1.3 5.8,-1.1 5.6,-0.5 6.5,0.1 2.2,0.9 -5.5,-0.3 -6,0.2 -5.4,0.6 -4.5,1 -3.8,1.2 -3.9,1.9 -3.6,2.2z" fill="#afc517" stroke="#afc517"/><path d="M419.6,571.4l1.4,1.1 -11.8,-1.1 -0.8,-1.3zM445.9,565.8l7.2,-4.8 3.2,-1.5 3.8,-1.2 4.6,-1 5.2,-0.4 4.1,-0.1 2.6,0.8 -5,-0.1 -4.5,0.2 -3.9,0.4 -4.5,1 -3.8,1.3 -3.3,1.5 -2.8,1.7z" fill="#c2c205" stroke="#c2c205"/><path d="M418.4,570.3l1.2,1.1 -9.9,-1.1 -1.3,-0.2 -0.7,-1.3zM449.6,563.4l6.5,-3.9 2.7,-1.2 2.9,-0.8 3.4,-0.7 4,-0.5 1.5,0 3.4,0.5 -6.8,0.2 -3.7,0.5 -3.4,0.8 -2.9,0.9 -2.6,1 -2.6,1.4z" fill="#d3c000" stroke="#d3c000"/><path d="M417.4,569.1l1,1.2 -9.4,-1.3 -1.3,-0.2 -0.7,-1.3zM453.8,560.8l4.3,-2.2 4.2,-1.5 4.1,-0.8 4.2,0 -4.2,0.3 -4.7,0.9 -3.9,1.2z" fill="#e3bd00" stroke="#e3bd00"/><path d="M416.4,567.8l1,1.3 -10.4,-1.6 -0.7,-1.3z" fill="#f1bb0a" stroke="#f1bb0a"/><path d="M415.5,566.6l0.9,1.2 -8.8,-1.4 -1.3,-0.2 -0.6,-1.3z" fill="#fcba1c" stroke="#fcba1c"/><path d="M413.5,565.1l1.2,0.2 0.8,1.3 -9.8,-1.7 -0.6,-1.3z" fill="#ffba2b" stroke="#ffba2b"/><path d="M414,564l0.7,1.3 -9.6,-1.7 -0.6,-1.4z" fill="#ffbc2d" stroke="#ffbc2d"/><path d="M413.3,562.7l0.7,1.3 -8.3,-1.5 -1.2,-0.3 -0.5,-1.3z" fill="#ffc127" stroke="#ffc127"/><path d="M411.5,561.2l1.1,0.2 0.7,1.3 -9.3,-1.8 -0.5,-1.3z" fill="#ffc71d" stroke="#ffc71d"/><path d="M412,560.1l0.6,1.3 -8,-1.6 -1.1,-0.2 -0.5,-1.4z" fill="#ffcd09" stroke="#ffcd09"/><path d="M411.4,558.8l0.6,1.3 -9,-1.9 -0.5,-1.3z" fill="#ffd300" stroke="#ffd300"/><path d="M410.8,557.5l0.6,1.3 -8.9,-1.9 -0.2,-0.5 0.7,-0.7z" fill="#ffda00" stroke="#ffda00"/><path d="M410.3,556.1l0.5,1.4 -7.8,-1.8 0.9,-1.1z" fill="#fde000" stroke="#fde000"/><path d="M409.8,554.8l0.5,1.3 -6.4,-1.5 1,-1z" fill="#fae600" stroke="#fae600"/><path d="M409.3,553.4l0.5,1.4 -4.9,-1.2 1.1,-1z" fill="#f9ec00" stroke="#f9ec00"/><path d="M408.8,552.1l0.5,1.3 -3.3,-0.8 1.1,-1z" fill="#f8f200" stroke="#f8f200"/><path d="M408.3,550.7l0.5,1.4 -1.7,-0.5z" fill="#f8f800" stroke="#f8f800"/></g>
<g font-family="Liberation Serif, serif" font-size="6.9" fill="#1a1a1a" stroke="#1a1a1a" stroke-width="0.18">
<text x="412.6" y="655.2">-1</text>
<text x="443.7" y="646.9">-0.5</text>
<text x="474.9" y="638.5">0</text>
<text x="506" y="630.2">0.5</text>
<text x="537.2" y="621.8">1</text>
<text x="402.7" y="654.4" text-anchor="end">-1</text>
<text x="378.8" y="643.5" text-anchor="end">-0.5</text>
<text x="354.9" y="632.6" text-anchor="end">0</text>
<text x="331" y="621.8" text-anchor="end">0.5</text>
<text x="307.1" y="610.9" text-anchor="end">1</text>
<text x="307.6" y="602.3" text-anchor="end">-1</text>
<text x="307.6" y="580" text-anchor="end">0</text>
<text x="307.6" y="557.7" text-anchor="end">1</text>
<text x="307.6" y="535.5" text-anchor="end">2</text>
<text x="307.6" y="513.2" text-anchor="end">3</text>
<path d="M532.9,612.3L408.3,645.7L312.7,602.2L312.7,507.2M408.3,645.7l2,0.9M439.4,637.4l2,0.9M470.6,629l2,0.9M501.7,620.7l2,0.9M532.9,612.3l2,0.9M408.3,645.7l-2.1,0.6M384.4,634.8l-2.1,0.6M360.5,623.9l-2.1,0.6M336.6,613.1l-2.1,0.6M312.7,602.2l-2.1,0.6M312.7,600.6h-2.5M312.7,578.3h-2.5M312.7,556h-2.5M312.7,533.8h-2.5M312.7,511.5h-2.5" fill="none" stroke="#646464" stroke-width="0.75"/>
<text x="421.9" y="472.6" text-anchor="middle" font-size="7.3">F16</text>
<text x="463.3" y="656.6" text-anchor="middle" font-size="7.6">x<tspan dy="2" font-size="5.4">1</tspan></text>
<text x="358.4" y="654.3" text-anchor="middle" font-size="7.6">x<tspan dy="2" font-size="5.4">2</tspan></text>
<text transform="translate(294.4,554.7) rotate(-90)" text-anchor="middle" font-size="7.4">F16( x<tspan dy="2" font-size="5.4">1</tspan><tspan dy="-2" font-size="7.4"> , x</tspan><tspan dy="2" font-size="5.4">2</tspan><tspan dy="-2" font-size="7.4"> )</tspan></text>
</g>
<g fill="none" stroke-width="0.55"><path d="M514.1,834.2L510.8,834.5L507.4,834.7L504,835L500.6,835.2L497.1,835.4L493.6,835.6L490,835.8L486.3,835.9L482.9,836L480.1,836.1L476.9,836.2L473,836.2L469.6,836.2L467,836.1L462.9,836.1L459.8,836L456.7,835.9L452.6,835.9L450.2,835.8L446.4,835.8L442.6,835.8L440,835.8L436.6,835.8L432.8,835.9L429.1,836L425.9,836.1L422.8,836.3L419.7,836.4L416.5,836.6L412.9,836.8L409.4,837L406,837.2L402.5,837.4L399.1,837.7L395.6,837.9L392.2,838.1L388.7,838.4L385.3,838.6L381.9,838.8L378.4,839.1L374.9,839.3L371.4,839.5L367.9,839.7L364.4,839.9L360.8,840L357.1,840.2L353.6,840.3L350.8,840.3L347.7,840.4L343.7,840.4L340.6,840.3L337.3,840.2L334.2,840L330.5,839.6L327.2,839.1L326.8,839M316.6,834.4L316.6,834.3L316.1,833.8L315.6,833.2L315.4,832.9L315.2,832.6L314.8,832" stroke="#4942eb"/><path d="M524.5,838.9L521.4,839.3L518.2,839.7L513.9,840.2L510.4,840.6L507.2,841L504.1,841.3L500.5,841.7L496.1,842.2L492.9,842.5L489.6,842.9L486.4,843.2L483.1,843.5L479.8,843.8L475.9,844.1L472.1,844.5L468.4,844.8L464.9,845L461.3,845.3L457.9,845.5L454.6,845.7L451.3,845.9L448.1,846.1L445,846.2L441.9,846.3L438.2,846.5L434.5,846.6L430.8,846.7L427.5,846.8L424.7,846.8L421.3,846.9L417.4,846.9L413.8,847L411.1,847L407.8,847.1L404,847.1L400.2,847.2L397.3,847.2L394.5,847.3L390.8,847.4L387.1,847.5L383.4,847.6L379.9,847.8L376.9,847.9L373.8,848L370.7,848.1L367.1,848.3L363.5,848.5L359.9,848.7L356.3,848.8L352.8,849L349.2,849.2L349.2,849.2" stroke="#2d66ff"/><path d="M531.5,842.1L528.4,842.5L523.8,843.1L520.7,843.5L517.6,843.9L513.9,844.3L509.8,844.8L506.7,845.2L503.6,845.6L499.5,846.1L495.8,846.6L492.7,846.9L489.5,847.3L485.6,847.8L481.6,848.2L478.5,848.6L475.3,848.9L472.1,849.3L468,849.7L464.1,850.1L460.8,850.5L457.6,850.8L454.3,851.1L451,851.4L447.7,851.7L444.1,852L440.3,852.3L436.7,852.6L433.1,852.8L429.7,853.1L426.3,853.3L422.9,853.5L419.6,853.7L416.4,853.9L413.3,854L409.7,854.2L406,854.3L402.4,854.5L398.7,854.6L395.3,854.7L392.4,854.8L389.3,854.9L385.6,854.9L381.8,855L378.2,855.1L375.4,855.2L372.4,855.3L368.7,855.4L364.9,855.5L363.1,855.5" stroke="#008af7"/><path d="M514.2,847.7L511.1,848.1L508,848.5L504.3,849L500.3,849.5L497.2,849.9L494.1,850.3L489.7,850.8L486.3,851.2L483.2,851.6L480.1,852L475.5,852.6L472.2,852.9L469.1,853.3L465.9,853.7L461.8,854.2L458,854.6L454.8,854.9L451.6,855.3L448.4,855.6L444.4,856.1L440.4,856.5L437.1,856.8L433.9,857.1L430.6,857.4L427.3,857.7L424,858L420.4,858.3L416.7,858.6L413,858.9L409.4,859.2L405.9,859.5L402.4,859.7L399.1,859.9L395.7,860.1L392.5,860.3L389.2,860.5L386.1,860.6L382.6,860.8L379,860.9L375.3,861.1L375.3,861.1" stroke="#00a9e2"/><path d="M492.8,853.4L488.4,854L485.3,854.4L482.2,854.8L478.2,855.3L474.4,855.8L471.3,856.1L468.2,856.5L463.8,857.1L460.4,857.5L457.3,857.9L454.1,858.2L449.9,858.7L446.3,859.2L443.1,859.5L439.9,859.9L436.4,860.3L432.1,860.7L428.8,861.1L425.6,861.4L422.3,861.8L419.1,862.1L415.3,862.5L411.2,862.9L407.7,863.2L404.4,863.5L401,863.8L397.7,864.1L394.4,864.3L391,864.6L387.6,864.9L384.2,865.1L384.2,865.1" stroke="#00bdbb"/><path d="M473.5,858.6L469.9,859.1L466.8,859.5L463.6,859.9L459,860.4L455.9,860.8L452.8,861.2L449.5,861.6L445,862.2L441.8,862.5L438.7,862.9L435.5,863.3L430.9,863.8L427.7,864.2L424.5,864.5L421.3,864.9L417.5,865.3L413.3,865.8L410.1,866.1L406.9,866.5L403.7,866.8L400.5,867.1L396.5,867.5L392.4,867.9L390.7,868.1" stroke="#00ca86"/><path d="M455.9,863.3L452.5,863.8L449.4,864.2L446.2,864.5L441.6,865.1L438.5,865.5L435.3,865.9L432,866.3L427.5,866.8L424.4,867.2L421.2,867.6L418.1,868L413.5,868.5L410.2,868.9L407,869.2L403.9,869.6L400.2,870L395.9,870.4L395.9,870.4" stroke="#7ec938"/><path d="M439.5,867.7L436.3,868.1L433.2,868.5L429.9,868.9L425.4,869.5L422.3,869.9L419.2,870.2L415.7,870.7L411.3,871.2L408.2,871.6L405.1,871.9L401.9,872.3L400.3,872.5" stroke="#f4bb0c"/><path d="M424.2,871.8L419.9,872.4L416.8,872.8L413.7,873.1L409.9,873.6L405.9,874.1L404.3,874.3" stroke="#ffd000"/><path d="M409.7,875.7L409.5,875.7L407.9,875.9" stroke="#f8f700"/></g>
<g filter="url(#sb)" stroke-width="0.9" stroke-linejoin="round" fill-rule="evenodd"><path d="M384.7,816.1l15,-3.7 15.2,-4.4 -9.1,1.7 -8.7,2 -6.9,2.1z" fill="#4528b2" stroke="#4528b2"/><path d="M361.7,820.8l11,-2.1 12,-2.6 5.5,-2.3 6.9,-2.1 8.7,-2 9.1,-1.7 11.7,-3.7 11.3,-3.9 -12.5,0.9 -11.4,1.2 -12,3.7 -11.4,3.2 -11.4,2.9 -11.5,2.6 -2.5,1.8 -1.6,1.4 -1.2,1.4z" fill="#472cbd" stroke="#472cbd"/><path d="M348.1,823l13.6,-2.2 0.7,-1.3 1.2,-1.4 1.6,-1.4 2.5,-1.8 -18.8,3.5 -0.9,2.5zM435.2,800.6l2.7,-0.2 5.4,-2 -4,-2.7 -6.5,0.2 -18.8,6.6z" fill="#4830c8" stroke="#4830c8"/><path d="M337.3,824.4l10.8,-1.4 -0.1,-2.1 0.9,-2.5 -12.7,1.9 0.3,2.2zM437.5,795.8l1.8,-0.1 -2,-1.4 -4.5,1.6z" fill="#4934d3" stroke="#4934d3"/><path d="M328.2,825.3l9.1,-0.9 -0.8,-1.9 -0.3,-2.2 -10.2,1.3 0.9,1.9z" fill="#4a39dd" stroke="#4a39dd"/><path d="M320.1,826l8.1,-0.7 -1.3,-1.8 -0.9,-1.9 -8.8,0.9 1.2,1.8z" fill="#4a3ee5" stroke="#4a3ee5"/><path d="M318.7,826.1l1.4,-0.1 -1.7,-1.7 -1.2,-1.8 -4.5,0.4z" fill="#4944ec" stroke="#4944ec"/><path d="M379,822l15.2,-3.2 15.6,-3.9 15.6,-4.5 15.5,-5 -12.7,0.9 -13.3,1.7 -15.2,4.4 -15,3.7 -3.3,1.9 -1.8,1.5 -0.7,1.4z" fill="#4528b2" stroke="#4528b2"/><path d="M363.3,824.7l15.7,-2.7 -0.1,-1.1 0.7,-1.4 1.8,-1.5 3.3,-1.9 -12,2.6 -11,2.1 -0.3,1.2 0.2,1 0.6,0.9zM438.4,805.5l2.5,-0.1 8.3,-3 -3.7,-2.4 -7.6,0.4 -11.3,3.9 -11.7,3.7 11.8,-1.5z" fill="#472cbd" stroke="#472cbd"/><path d="M351.6,826.3l11.7,-1.6 -1.1,-0.8 -0.6,-0.9 -0.2,-1 0.3,-1.2 -13.6,2.2 0.4,0.9 0.7,0.9 1,0.8zM445.5,800l-2.2,-1.6 -5.4,2z" fill="#4830c8" stroke="#4830c8"/><path d="M342,827.5l9.6,-1.2 -1.4,-0.7 -1,-0.8 -0.7,-0.9 -0.4,-0.9 -10.8,1.4 1.8,1.7z" fill="#4934d3" stroke="#4934d3"/><path d="M333.5,828.2l8.5,-0.7 -2.9,-1.4 -1.8,-1.7 -9.1,0.9 2.2,1.6z" fill="#4a39dd" stroke="#4a39dd"/><path d="M324.9,828.5l1,0.3 7.6,-0.6 -3.1,-1.3 -2.2,-1.6 -8.1,0.7 2.4,1.5z" fill="#4a3ee5" stroke="#4a3ee5"/><path d="M324.7,828.9l1.2,-0.1 -3.4,-1.3 -2.4,-1.5 -1.4,0.1z" fill="#4944ec" stroke="#4944ec"/><path d="M386.4,824.3l16.9,-3.4 17.6,-4.4 16.7,-4.7 17.6,-5.8 -1.1,-0.6 -0.9,-0.1 -5.6,-0.1 -6.7,0.2 -15.5,5 -15.6,4.5 -15.6,3.9 -15.2,3.2 0.9,0.8 1.6,0.7 2.2,0.5z" fill="#4528b2" stroke="#4528b2"/><path d="M372,826.7l14.4,-2.4 -2.7,-0.3 -2.2,-0.5 -1.6,-0.7 -0.9,-0.8 -15.7,2.7 1.5,0.7 1.9,0.5zM453.2,805.3l0.9,0.1 -4.9,-3 -8.3,3 6.7,-0.2z" fill="#472cbd" stroke="#472cbd"/><path d="M359.4,828.1l1.4,0.1 11.2,-1.5 -5.3,-0.8 -1.9,-0.5 -1.5,-0.7 -11.7,1.6 3.9,1.2z" fill="#4830c8" stroke="#4830c8"/><path d="M350,829.1l1.5,0.1 9.3,-1 -5.3,-0.7 -3.9,-1.2 -9.6,1.2 4,1z" fill="#4934d3" stroke="#4934d3"/><path d="M341.7,829.8l1.5,0.2 8.3,-0.8 -5.5,-0.7 -4,-1 -8.5,0.7 4.2,1.1z" fill="#4a39dd" stroke="#4a39dd"/><path d="M335.7,830.5l7.5,-0.5 -5.5,-0.7 -4.2,-1.1 -7.6,0.6 4.3,1z" fill="#4a3ee5" stroke="#4a3ee5"/><path d="M330.6,830.7l5.1,-0.2 -5.5,-0.7 -4.3,-1 -1.2,0.1 3,1z" fill="#4944ec" stroke="#4944ec"/><path d="M400.9,824.2l2.8,-0.2 6.6,-1.3 18.7,-4.4 15.6,-4.3 16.6,-5.2 -6,-2.8 -17.6,5.8 -16.7,4.7 -17.6,4.4 -16.9,3.4 7.4,0.2z" fill="#4528b2" stroke="#4528b2"/><path d="M385.4,826.9l3.1,-0.2 15.2,-2.7 -9.9,0.5 -7.4,-0.2 -14.4,2.4 5.8,0.3z" fill="#472cbd" stroke="#472cbd"/><path d="M373.8,828.5l2.2,-0.1 11.7,-1.6 -8.7,0.2 -7,-0.3 -11.2,1.5 5.5,0.3z" fill="#4830c8" stroke="#4830c8"/><path d="M364.2,829.6l2.1,0 9.7,-1.2 -8.3,0.1 -6.9,-0.3 -9.3,1 5.5,0.3z" fill="#4934d3" stroke="#4934d3"/><path d="M355.7,830.4l2.1,0 8.5,-0.8 -8.1,0 -6.7,-0.4 -8.3,0.8 5.5,0.3z" fill="#4a39dd" stroke="#4a39dd"/><path d="M348.1,830.9l9.7,-0.5 -7.9,-0.1 -6.7,-0.3 -7.5,0.5 5.9,0.3z" fill="#4a3ee5" stroke="#4a3ee5"/><path d="M341.2,831.3l9,-0.4 -7.8,-0.1 -6.7,-0.3 -5.1,0.2 1.6,0.4z" fill="#4944ec" stroke="#4944ec"/><path d="M336.7,831.6l6.5,-0.3 -11,-0.2z" fill="#4749f1" stroke="#4749f1"/><path d="M336.6,831.6l0.1,0 -0.1,0z" fill="#454ff6" stroke="#454ff6"/><path d="M429.2,820.9l5.4,-0.9 5.6,-1.3 19.7,-5.4 1.6,-0.5 1.1,-0.6 1.3,-0.9 1.1,-1 -3.8,-1.5 -14.6,4.6 -14.5,4.1 -14.5,3.6 -13.9,2.9 12.7,-1.3z" fill="#4528b2" stroke="#4528b2"/><path d="M407.4,825.3l3.2,-0.3 6.7,-1.3 17.3,-3.7 -15.6,2.4 -15.3,1.6 -16,2.8 9.8,-0.6zM461.5,812.8l5.6,-1.7 -2.1,-0.8 -1.7,1.5z" fill="#472cbd" stroke="#472cbd"/><path d="M394,827.4l3.6,-0.3 13,-2.1 -12.3,1.1 -10.6,0.7 -11.7,1.6z" fill="#4830c8" stroke="#4830c8"/><path d="M383.3,828.8l2.9,-0.2 10.6,-1.4 -11,0.8 -9.8,0.4 -9.7,1.2z" fill="#4934d3" stroke="#4934d3"/><path d="M374.3,829.7l11.7,-1.1 -19.7,1 -8.5,0.8z" fill="#4a39dd" stroke="#4a39dd"/><path d="M366.2,830.4l10.7,-0.8 -19.1,0.8 -7.6,0.5z" fill="#4a3ee5" stroke="#4a3ee5"/><path d="M358.9,830.9l9.8,-0.6 -25.5,1z" fill="#4944ec" stroke="#4944ec"/><path d="M352.2,831.2l9.2,-0.4 -24.7,0.8z" fill="#4749f1" stroke="#4749f1"/><path d="M345.9,831.4l8.7,-0.3 -18,0.5z" fill="#454ff6" stroke="#454ff6"/><path d="M342.6,831.4l5.7,-0.1 -8.4,0.3z" fill="#4254fa" stroke="#4254fa"/><path d="M441.6,818.7l7,-1.6 5.2,-1.4 4.4,-1.5 3.3,-1.4 -13,3.7 -13.9,3.5z" fill="#4528b2" stroke="#4528b2"/><path d="M436.8,821.7l4.4,-0.6 10.1,-2.3 10.4,-2.6 11.4,-3.2 -6,-1.9 -5.6,1.7 -5.8,2.3 -7.1,2 -26.1,5.6 -11.9,2.3z" fill="#472cbd" stroke="#472cbd"/><path d="M418.6,825.1l3.3,-0.3 4.5,-0.8 14.8,-2.9 -15.5,2.1 -15.1,1.8 -13.8,2.2z" fill="#4830c8" stroke="#4830c8"/><path d="M406.1,827l4.7,-0.5 11.1,-1.7 -25.1,2.4 -10.8,1.4z" fill="#4934d3" stroke="#4934d3"/><path d="M396,828.2l13.1,-1.5 -23.1,1.9 -9.1,1z" fill="#4a39dd" stroke="#4a39dd"/><path d="M387.2,829.1l11.6,-1.1 -30.1,2.3z" fill="#4a3ee5" stroke="#4a3ee5"/><path d="M379.4,829.7l10.6,-0.8 -28.6,1.9z" fill="#4944ec" stroke="#4944ec"/><path d="M372.2,830.1l-17.6,1z" fill="#4749f1" stroke="#4749f1"/><path d="M365.6,830.4l-17.3,0.9z" fill="#454ff6" stroke="#454ff6"/><path d="M359.4,830.6l8.8,-0.3 -14.6,0.8 -11,0.3z" fill="#4254fa" stroke="#4254fa"/><path d="M353.6,830.7l8.4,-0.2 -19.3,0.9 2.6,-0.3z" fill="#3d5afd" stroke="#3d5afd"/><path d="M348.1,830.7l8,-0.1 -10.8,0.5z" fill="#385fff" stroke="#385fff"/><path d="M348.6,830.5l1.9,0.1 -2.8,0.1z" fill="#2f65ff" stroke="#2f65ff"/><path d="M462.7,817.5l7.8,-1.7 6.1,-1.7 -3.5,-1.1 -15.5,4.3 -16.4,3.8 12,-1.9z" fill="#472cbd" stroke="#472cbd"/><path d="M445.3,822.3l3.3,-0.3 9.7,-2 10.4,-2.4 10.4,-2.6 -2.5,-0.9 -6.1,1.7 -7.9,1.7 -9.4,1.7 -12,1.9 -19.3,3.7z" fill="#4830c8" stroke="#4830c8"/><path d="M430,824.9l4.5,-0.5 14.1,-2.4 -26.7,2.8 -12.8,1.9z" fill="#4934d3" stroke="#4934d3"/><path d="M418.6,826.5l3.4,-0.3 10.9,-1.5 -23.8,2 -10.3,1.3z" fill="#4a39dd" stroke="#4a39dd"/><path d="M409,827.6l12.3,-1.3 -22.5,1.7 -8.8,0.9z" fill="#4a3ee5" stroke="#4a3ee5"/><path d="M400.6,828.3l9.6,-0.8 -28.2,2z" fill="#4944ec" stroke="#4944ec"/><path d="M393,828.9l-18.2,1.1z" fill="#4749f1" stroke="#4749f1"/><path d="M386.1,829.3l-17.9,1z" fill="#454ff6" stroke="#454ff6"/><path d="M379.6,829.5l9,-0.4 -20.4,1.2 -6.2,0.2z" fill="#4254fa" stroke="#4254fa"/><path d="M373.6,829.6l8.5,-0.2 -20.1,1.1 -5.9,0.1z" fill="#3d5afd" stroke="#3d5afd"/><path d="M367.9,829.7l8.2,-0.2 -20,1.1 -5.6,0z" fill="#385fff" stroke="#385fff"/><path d="M362.4,829.7l7.9,-0.1 -21.7,0.9 1.4,-0.2z" fill="#2f65ff" stroke="#2f65ff"/><path d="M357.2,829.6l7.7,0 -14.9,0.7 2.3,-0.5z" fill="#1b6bff" stroke="#1b6bff"/><path d="M354.7,829.3l5,0.2 -7.4,0.3z" fill="#0071ff" stroke="#0071ff"/><path d="M354.5,829.3l0.2,0 -0.2,0z" fill="#0077ff" stroke="#0077ff"/><path d="M468.9,820.3l2.3,-0.1 13.9,-3.1 -6,-2.1 -15.6,3.8 -14.9,3.2 12.3,-1.2z" fill="#4830c8" stroke="#4830c8"/><path d="M451.4,823.5l3.6,-0.3 16.2,-3 -10.3,0.6 -12.3,1.2 -15.7,2.7z" fill="#4934d3" stroke="#4934d3"/><path d="M439.2,825.3l2.3,-0.1 12.3,-1.8 -7.3,0.3 -13.6,1 -11.6,1.6z" fill="#4a39dd" stroke="#4a39dd"/><path d="M429.2,826.5l2.3,-0.1 10,-1.2 -7.6,0.3 -12.6,0.8 -9.6,1.1z" fill="#4a3ee5" stroke="#4a3ee5"/><path d="M420.5,827.3l11,-0.9 -8.1,0.3 -11.7,0.7 -8.5,0.8z" fill="#4944ec" stroke="#4944ec"/><path d="M412.7,827.9l10.1,-0.6 -9.1,0.3 -18.1,1.1z" fill="#4749f1" stroke="#4749f1"/><path d="M405.6,828.4l9.4,-0.5 -9.4,0.3 -17,0.9z" fill="#454ff6" stroke="#454ff6"/><path d="M399,828.6l-16.9,0.8z" fill="#4254fa" stroke="#4254fa"/><path d="M392.9,828.8l-16.8,0.7z" fill="#3d5afd" stroke="#3d5afd"/><path d="M387.1,828.9l8.1,-0.2 -19.1,0.8 -5.8,0.1z" fill="#385fff" stroke="#385fff"/><path d="M381.5,828.9l7.9,-0.1 -19.1,0.8 -5.4,0z" fill="#2f65ff" stroke="#2f65ff"/><path d="M376.3,828.8l7.5,0 -18.9,0.8 -5.2,-0.1z" fill="#1b6bff" stroke="#1b6bff"/><path d="M371.2,828.7l7.4,0 -18.9,0.8 -5,-0.2z" fill="#0071ff" stroke="#0071ff"/><path d="M366.4,828.5l7.2,0.1 -19.1,0.7 2.2,-0.5z" fill="#0077ff" stroke="#0077ff"/><path d="M361.7,828.2l2.3,0 4.7,0.2 -12,0.4 2.1,-0.5z" fill="#007dff" stroke="#007dff"/><path d="M360.5,827.9l3.5,0.3 -5.2,0.1z" fill="#0083fd" stroke="#0083fd"/><path d="M483.9,820.6l1.4,0.2 5.7,-1.2 -5.9,-2.5 -13.9,3.1 6.2,0z" fill="#4830c8" stroke="#4830c8"/><path d="M467.9,823.4l1.8,0.1 15.6,-2.7 -6.1,-0.6 -8,0 -17.4,3.2 6.5,-0.1z" fill="#4934d3" stroke="#4934d3"/><path d="M456.2,825.1l1.8,0 11.7,-1.6 -11,-0.2 -4.9,0.1 -12.3,1.8z" fill="#4a39dd" stroke="#4a39dd"/><path d="M446.4,826.2l2,0 9.6,-1.1 -10.3,0 -6.2,0.1 -10,1.2z" fill="#4a3ee5" stroke="#4a3ee5"/><path d="M437.9,827l2,0 8.5,-0.8 -10.2,0 -6.7,0.2 -8.7,0.9z" fill="#4944ec" stroke="#4944ec"/><path d="M430.3,827.6l9.6,-0.6 -10.4,0.1 -6.7,0.2 -7.8,0.6z" fill="#4749f1" stroke="#4749f1"/><path d="M423.3,827.9l9,-0.4 -10.6,0.2 -13.8,0.6z" fill="#454ff6" stroke="#454ff6"/><path d="M416.8,828.2l8.5,-0.3 -10.6,0.2 -13.4,0.5z" fill="#4254fa" stroke="#4254fa"/><path d="M410.7,828.4l-15.5,0.3z" fill="#3d5afd" stroke="#3d5afd"/><path d="M404.9,828.4l-15.5,0.4z" fill="#385fff" stroke="#385fff"/><path d="M399.4,828.4l7.7,0 -23.3,0.4z" fill="#2f65ff" stroke="#2f65ff"/><path d="M394.2,828.3l7.4,0.1 -17.8,0.4 -5.2,-0.1z" fill="#1b6bff" stroke="#1b6bff"/><path d="M389.2,828.2l7.2,0.1 -17.8,0.4 -5,-0.1z" fill="#0071ff" stroke="#0071ff"/><path d="M384.4,828l7,0.1 -17.8,0.5 -4.9,-0.2z" fill="#0077ff" stroke="#0077ff"/><path d="M379.8,827.7l6.8,0.2 -17.9,0.5 -4.7,-0.2z" fill="#007dff" stroke="#007dff"/><path d="M375.3,827.4l2.2,0 4.5,0.3 -18,0.5 -3.5,-0.3z" fill="#0083fd" stroke="#0083fd"/><path d="M371,827.1l2.2,0 4.3,0.3 -16.5,0.4 2.1,-0.5z" fill="#0088f9" stroke="#0088f9"/><path d="M366.8,826.8l2.2,-0.1 4.2,0.4 -10.1,0.2 2.1,-0.5z" fill="#008df5" stroke="#008df5"/><path d="M366.5,826.5l2.5,0.2 -3.8,0.1z" fill="#0092f1" stroke="#0092f1"/><path d="M494.1,822.2l1.3,0.2 1.6,-0.3 -6,-2.5 -5.7,1.2z" fill="#4830c8" stroke="#4830c8"/><path d="M481,824.2l1.6,0.1 12.8,-1.9 -10.1,-1.6 -15.6,2.7z" fill="#4934d3" stroke="#4934d3"/><path d="M470.5,825.5l1.8,0.1 10.3,-1.3 -12.9,-0.8 -11.7,1.6z" fill="#4a39dd" stroke="#4a39dd"/><path d="M461.6,826.5l1.8,0 8.9,-0.9 -14.3,-0.5 -9.6,1.1z" fill="#4a3ee5" stroke="#4a3ee5"/><path d="M453.6,827.1l1.9,0 7.9,-0.6 -14.8,-0.3 -8.7,0.8z" fill="#4944ec" stroke="#4944ec"/><path d="M446.3,827.6l9.2,-0.5 -15.2,-0.1 -8,0.5z" fill="#4749f1" stroke="#4749f1"/><path d="M439.6,827.9l8.7,-0.3 -15,-0.1 -8,0.4z" fill="#454ff6" stroke="#454ff6"/><path d="M433.3,828.1l8.3,-0.2 -15.8,0 -6.9,0.3z" fill="#4254fa" stroke="#4254fa"/><path d="M427.5,828.2l-14.7,0.1z" fill="#3d5afd" stroke="#3d5afd"/><path d="M421.9,828.2l-14.8,0.2z" fill="#385fff" stroke="#385fff"/><path d="M416.5,828.1l7.5,0.1 -22.4,0.2z" fill="#2f65ff" stroke="#2f65ff"/><path d="M411.5,828l7.2,0.1 -17.1,0.3 -5.2,-0.1z" fill="#1b6bff" stroke="#1b6bff"/><path d="M406.6,827.8l7,0.2 -17.2,0.3 -5,-0.2z" fill="#0071ff" stroke="#0071ff"/><path d="M401.9,827.6l6.8,0.2 -17.3,0.3 -4.8,-0.2z" fill="#0077ff" stroke="#0077ff"/><path d="M397.3,827.3l2.2,0 3.9,0.3 -16.8,0.3 -4.6,-0.2z" fill="#007dff" stroke="#007dff"/><path d="M392.9,827l2.2,0 4.4,0.3 -1.7,0 -15.8,0.4 -4.5,-0.3z" fill="#0083fd" stroke="#0083fd"/><path d="M388.7,826.7l2.2,-0.1 4.2,0.4 -2.9,0.1 -14.7,0.3 -4.3,-0.3z" fill="#0088f9" stroke="#0088f9"/><path d="M384.5,826.3l2.2,0 4.2,0.3 -2.8,0.1 -14.9,0.4 -4.2,-0.4z" fill="#008df5" stroke="#008df5"/><path d="M380.5,825.9l2.2,0 4,0.4 -17.7,0.4 -2.5,-0.2 0.8,-0.2z" fill="#0092f1" stroke="#0092f1"/><path d="M376.5,825.5l2.3,-0.1 3.9,0.5 -15.4,0.4 2,-0.6z" fill="#0097ed" stroke="#0097ed"/><path d="M372.7,825l2.3,0 3.8,0.4 -9.5,0.3 1.9,-0.6z" fill="#009cea" stroke="#009cea"/><path d="M372.5,824.6l2.5,0.4 -3.8,0.1z" fill="#00a1e7" stroke="#00a1e7"/><path d="M498,822.8l1.1,0.1 -2.1,-0.8 -1.6,0.3z" fill="#4830c8" stroke="#4830c8"/><path d="M494.4,824.9l1.8,0.1 6.8,-0.9 -3.9,-1.2 -3.7,-0.5 -12.8,1.9z" fill="#4934d3" stroke="#4934d3"/><path d="M485.1,826l1.9,0 9.2,-1 -13.6,-0.7 -10.3,1.3z" fill="#4a39dd" stroke="#4a39dd"/><path d="M476.9,826.7l2,0 8.1,-0.7 -14.7,-0.4 -8.9,0.9z" fill="#4a3ee5" stroke="#4a3ee5"/><path d="M469.4,827.2l9.5,-0.5 -15.5,-0.2 -7.9,0.6z" fill="#4944ec" stroke="#4944ec"/><path d="M462.6,827.5l9,-0.4 -16.1,0 -7.2,0.5z" fill="#4749f1" stroke="#4749f1"/><path d="M456.2,827.7l8.6,-0.2 -16.5,0.1 -6.7,0.3z" fill="#454ff6" stroke="#454ff6"/><path d="M450.3,827.9l-14.9,0.2z" fill="#4254fa" stroke="#4254fa"/><path d="M444.6,827.9l-15.1,0.3z" fill="#3d5afd" stroke="#3d5afd"/><path d="M439.2,827.9l7.7,-0.1 -6.7,0.2 -16.2,0.2z" fill="#385fff" stroke="#385fff"/><path d="M434.1,827.7l7.4,0.1 -7.4,0.2 -15.4,0.1z" fill="#2f65ff" stroke="#2f65ff"/><path d="M429.1,827.6l7.3,0.1 -7.5,0.2 -10.2,0.2 -5.1,-0.1z" fill="#1b6bff" stroke="#1b6bff"/><path d="M424.4,827.4l2.3,-0.1 4.8,0.2 -7.9,0.3 -10,0.2 -4.9,-0.2z" fill="#0071ff" stroke="#0071ff"/><path d="M419.8,827.1l2.4,-0.1 4.5,0.3 -8.5,0.3 -9.5,0.2 -4.6,-0.2z" fill="#0077ff" stroke="#0077ff"/><path d="M415.4,826.8l2.3,-0.1 4.5,0.3 -7.9,0.3 -10.2,0.3 -4.6,-0.3z" fill="#007dff" stroke="#007dff"/><path d="M411.1,826.5l2.3,-0.1 4.3,0.3 -8.9,0.3 -9.3,0.3 -4.4,-0.3z" fill="#0083fd" stroke="#0083fd"/><path d="M406.9,826.1l2.4,-0.1 4.1,0.4 -8.7,0.3 -9.6,0.3 -4.2,-0.4z" fill="#0088f9" stroke="#0088f9"/><path d="M402.8,825.7l2.4,-0.1 4.1,0.4 -8.7,0.4 -9.7,0.2 -4.2,-0.3z" fill="#008df5" stroke="#008df5"/><path d="M398.9,825.3l2.4,-0.1 3.9,0.4 -8.8,0.4 -9.7,0.3 -4,-0.4z" fill="#0092f1" stroke="#0092f1"/><path d="M395,824.9l2.4,-0.1 3.9,0.4 -9.1,0.4 -9.5,0.3 -3.9,-0.5z" fill="#0097ed" stroke="#0097ed"/><path d="M391.3,824.4l2.4,-0.1 3.7,0.5 -8,0.3 -10.6,0.3 -3.8,-0.4z" fill="#009cea" stroke="#009cea"/><path d="M387.6,823.9l2.4,-0.1 3.7,0.5 -18.7,0.7 -2.5,-0.4 0.6,-0.2z" fill="#00a1e7" stroke="#00a1e7"/><path d="M384,823.4l2.4,-0.1 3.6,0.5 -16.9,0.6 1.7,-0.7z" fill="#00a5e4" stroke="#00a5e4"/><path d="M380.4,822.8l2.5,-0.1 3.5,0.6 -11.6,0.4 1.6,-0.7z" fill="#00aae1" stroke="#00aae1"/><path d="M379.4,822.2l3.5,0.5 -6.5,0.3 1.6,-0.8z" fill="#00aedc" stroke="#00aedc"/><path d="M378.4,822l1,0.2 -1.4,0z" fill="#00b1d7" stroke="#00b1d7"/><path d="M506.3,825l0.6,0 -3.9,-0.9 -6.8,0.9z" fill="#4934d3" stroke="#4934d3"/><path d="M502.3,825.7l6.7,-0.5 -2.1,-0.2 -10.7,0 -9.2,1z" fill="#4a39dd" stroke="#4a39dd"/><path d="M494.6,826.2l10.1,-0.7 -17.7,0.5 -8.1,0.7z" fill="#4a3ee5" stroke="#4a3ee5"/><path d="M487.6,826.6l9.5,-0.5 -18.2,0.6 -7.3,0.4z" fill="#4944ec" stroke="#4944ec"/><path d="M481.1,826.9l-16.3,0.6z" fill="#4749f1" stroke="#4749f1"/><path d="M475,827l8.6,-0.2 -9.8,0.4 -15.4,0.5z" fill="#454ff6" stroke="#454ff6"/><path d="M469.2,827.1l8.3,-0.2 -9.9,0.5 -15.1,0.4z" fill="#4254fa" stroke="#4254fa"/><path d="M463.7,827.1l8.1,-0.1 -9.1,0.4 -15.8,0.4z" fill="#3d5afd" stroke="#3d5afd"/><path d="M458.5,827l2.6,-0.2 5.2,0.1 -10.2,0.6 -9.2,0.3 -5.4,0z" fill="#385fff" stroke="#385fff"/><path d="M453.5,826.9l2.6,-0.2 5,0.1 -10.1,0.6 -9.5,0.4 -5.1,-0.1z" fill="#2f65ff" stroke="#2f65ff"/><path d="M448.7,826.7l2.6,-0.2 4.8,0.2 -10.4,0.6 -9.3,0.4 -4.9,-0.2z" fill="#1b6bff" stroke="#1b6bff"/><path d="M444,826.4l2.7,-0.1 4.6,0.2 -10.9,0.6 -8.9,0.4 -4.8,-0.2z" fill="#0071ff" stroke="#0071ff"/><path d="M439.5,826.1l2.7,-0.1 4.5,0.3 -10.2,0.6 -9.8,0.4 -4.5,-0.3z" fill="#0077ff" stroke="#0077ff"/><path d="M435.2,825.8l2.7,-0.1 4.3,0.3 -11.2,0.6 -8.8,0.4 -4.5,-0.3z" fill="#007dff" stroke="#007dff"/><path d="M431,825.5l2.6,-0.2 4.3,0.4 -11,0.6 -9.2,0.4 -4.3,-0.3z" fill="#0083fd" stroke="#0083fd"/><path d="M426.9,825.1l2.7,-0.2 4,0.4 -10.8,0.7 -9.4,0.4 -4.1,-0.4z" fill="#0088f9" stroke="#0088f9"/><path d="M422.9,824.7l2.7,-0.2 4,0.4 -11,0.7 -9.3,0.4 -4.1,-0.4z" fill="#008df5" stroke="#008df5"/><path d="M419,824.2l2.7,-0.1 3.9,0.4 -11.2,0.7 -9.2,0.4 -3.9,-0.4z" fill="#0092f1" stroke="#0092f1"/><path d="M415.2,823.8l2.7,-0.2 3.8,0.5 -11.5,0.7 -8.9,0.4 -3.9,-0.4z" fill="#0097ed" stroke="#0097ed"/><path d="M411.5,823.3l2.7,-0.2 3.7,0.5 -12,0.7 -8.5,0.5 -3.7,-0.5z" fill="#009cea" stroke="#009cea"/><path d="M407.9,822.8l2.7,-0.2 3.6,0.5 -11.2,0.7 -9.3,0.5 -3.7,-0.5z" fill="#00a1e7" stroke="#00a1e7"/><path d="M404.3,822.2l2.7,-0.1 3.6,0.5 -11.9,0.7 -8.7,0.5 -3.6,-0.5z" fill="#00a5e4" stroke="#00a5e4"/><path d="M400.8,821.7l2.7,-0.2 3.5,0.6 -11.2,0.7 -9.4,0.5 -3.5,-0.6z" fill="#00aae1" stroke="#00aae1"/><path d="M397.4,821.1l2.7,-0.2 3.4,0.6 -12.2,0.8 -8.4,0.4 -3.5,-0.5z" fill="#00aedc" stroke="#00aedc"/><path d="M394.1,820.5l2.7,-0.2 3.3,0.6 -19.1,1.2 -1.6,0.1 -1,-0.2 1.1,-0.6z" fill="#00b1d7" stroke="#00b1d7"/><path d="M390.8,819.9l2.7,-0.2 3.3,0.6 -17.3,1.1 1.3,-0.8z" fill="#00b5d1" stroke="#00b5d1"/><path d="M387.5,819.3l2.7,-0.2 3.3,0.6 -12.7,0.9 1.4,-0.9z" fill="#00b8ca" stroke="#00b8ca"/><path d="M384.3,818.7l2.8,-0.2 3.1,0.6 -8,0.6 1.2,-1z" fill="#00bbc4" stroke="#00bbc4"/><path d="M384.4,817.9l2.7,0.6 -3.7,0.2z" fill="#00bdbc" stroke="#00bdbc"/><path d="M509.8,825.3l0.9,-0.1 -1.7,0 -4.3,0.3z" fill="#4a39dd" stroke="#4a39dd"/><path d="M513.4,825l-16.3,1.1z" fill="#4a3ee5" stroke="#4a3ee5"/><path d="M509.5,825.1l5.4,-0.4 -1.4,0.3 -7.1,0.5 -16.3,1z" fill="#4944ec" stroke="#4944ec"/><path d="M503.1,825.3l9.4,-0.5 -12.1,1 -16.8,1z" fill="#4749f1" stroke="#4749f1"/><path d="M497.1,825.4l3,-0.2 6,-0.2 -13.2,1.1 -9.3,0.7 -6.1,0.1z" fill="#454ff6" stroke="#454ff6"/><path d="M491.4,825.5l3.1,-0.3 5.6,0 -12.1,1 -10.5,0.7 -5.7,0.1z" fill="#4254fa" stroke="#4254fa"/><path d="M486,825.4l3.1,-0.2 5.4,0 -12.9,1.1 -9.8,0.7 -5.5,-0.1z" fill="#3d5afd" stroke="#3d5afd"/><path d="M480.9,825.3l3,-0.2 5.2,0.1 -12.7,1 -10.1,0.7 -5.2,-0.1z" fill="#385fff" stroke="#385fff"/><path d="M475.9,825.2l3,-0.3 5,0.2 -12.6,1 -10.2,0.7 -5,-0.1z" fill="#2f65ff" stroke="#2f65ff"/><path d="M471.1,825l3.1,-0.3 4.7,0.2 -12.9,1.1 -9.9,0.7 -4.8,-0.2z" fill="#1b6bff" stroke="#1b6bff"/><path d="M466.5,824.7l3.1,-0.3 4.6,0.3 -13.6,1.1 -9.3,0.7 -4.6,-0.2z" fill="#0071ff" stroke="#0071ff"/><path d="M462.1,824.4l3.1,-0.3 4.4,0.3 -12.9,1.1 -10,0.8 -4.5,-0.3z" fill="#0077ff" stroke="#0077ff"/><path d="M457.8,824.1l3,-0.3 4.4,0.3 -12.6,1.1 -10.4,0.8 -4.3,-0.3z" fill="#007dff" stroke="#007dff"/><path d="M453.6,823.7l3.1,-0.2 4.1,0.3 -13.7,1.2 -9.2,0.7 -4.3,-0.4z" fill="#0083fd" stroke="#0083fd"/><path d="M449.6,823.3l3,-0.2 4.1,0.4 -13.7,1.1 -9.4,0.7 -4,-0.4z" fill="#0088f9" stroke="#0088f9"/><path d="M445.6,822.9l3,-0.3 4,0.5 -13.8,1.1 -9.2,0.7 -4,-0.4z" fill="#008df5" stroke="#008df5"/><path d="M441.7,822.5l3.1,-0.3 3.8,0.4 -12.6,1.1 -10.4,0.8 -3.9,-0.4z" fill="#0092f1" stroke="#0092f1"/><path d="M438,822l3,-0.3 3.8,0.5 -13.1,1.1 -10,0.8 -3.8,-0.5z" fill="#0097ed" stroke="#0097ed"/><path d="M434.3,821.5l3,-0.3 3.7,0.5 -13.6,1.2 -9.5,0.7 -3.7,-0.5z" fill="#009cea" stroke="#009cea"/><path d="M430.7,821l3,-0.3 3.6,0.5 -12.8,1.1 -10.3,0.8 -3.6,-0.5z" fill="#00a1e7" stroke="#00a1e7"/><path d="M427.1,820.4l3.1,-0.2 3.5,0.5 -13.5,1.2 -9.6,0.7 -3.6,-0.5z" fill="#00a5e4" stroke="#00a5e4"/><path d="M423.7,819.9l3,-0.3 3.5,0.6 -13,1.1 -10.2,0.8 -3.5,-0.6z" fill="#00aae1" stroke="#00aae1"/><path d="M420.3,819.3l3,-0.3 3.4,0.6 -13.9,1.2 -9.3,0.7 -3.4,-0.6z" fill="#00aedc" stroke="#00aedc"/><path d="M416.9,818.7l3.1,-0.3 3.3,0.6 -13.5,1.2 -9.7,0.7 -3.3,-0.6z" fill="#00b1d7" stroke="#00b1d7"/><path d="M413.7,818.1l3,-0.3 3.3,0.6 -13.2,1.2 -10,0.7 -3.3,-0.6z" fill="#00b5d1" stroke="#00b5d1"/><path d="M410.4,817.5l3.1,-0.3 3.2,0.6 -13,1.2 -10.2,0.7 -3.3,-0.6z" fill="#00b8ca" stroke="#00b8ca"/><path d="M407.3,816.9l3,-0.3 3.2,0.6 -12.8,1.1 -10.5,0.8 -3.1,-0.6z" fill="#00bbc4" stroke="#00bbc4"/><path d="M404.2,816.2l3,-0.3 3.1,0.7 -4.4,0.4 -18.8,1.5 -2.7,-0.6 0.2,-0.1z" fill="#00bdbc" stroke="#00bdbc"/><path d="M401.1,815.5l3,-0.2 3.1,0.6 -22.6,1.9 1.1,-1z" fill="#00bfb5" stroke="#00bfb5"/><path d="M398.1,814.9l3,-0.3 3,0.7 -18.4,1.5 1.1,-1z" fill="#00c1ae" stroke="#00c1ae"/><path d="M395.1,814.2l3,-0.3 3,0.7 -14.3,1.2 1,-1z" fill="#00c3a6" stroke="#00c3a6"/><path d="M392.2,813.5l3,-0.3 2.9,0.7 -10.3,0.9 1,-1z" fill="#00c69e" stroke="#00c69e"/><path d="M389.6,812.9l2.7,-0.4 2.9,0.7 -6.4,0.6z" fill="#00c895" stroke="#00c895"/><path d="M390.4,812l1.9,0.5 -2.5,0.2z" fill="#00ca8c" stroke="#00ca8c"/><path d="M515.6,824.5l-3.1,0.3z" fill="#4944ec" stroke="#4944ec"/><path d="M515.6,824.1l2,-0.2 -1.9,0.6 -3.2,0.3 -6.4,0.2z" fill="#4749f1" stroke="#4749f1"/><path d="M516.3,823.5l3,-0.3 -1.7,0.7 -4,0.4 -7.5,0.7 -6,0.2z" fill="#454ff6" stroke="#454ff6"/><path d="M517.4,822.8l3.5,-0.4 -1.6,0.8 -8,0.9 -11.2,1.1 -5.6,0z" fill="#4254fa" stroke="#4254fa"/><path d="M512,822.8l3.5,-0.4 5.4,0 -16,1.8 -10.4,1 -5.4,0z" fill="#3d5afd" stroke="#3d5afd"/><path d="M506.8,822.7l3.5,-0.4 5.2,0.1 -15.7,1.7 -10.7,1.1 -5.2,-0.1z" fill="#385fff" stroke="#385fff"/><path d="M501.8,822.6l3.5,-0.4 5,0.1 -15.7,1.7 -10.7,1.1 -5,-0.2z" fill="#2f65ff" stroke="#2f65ff"/><path d="M497,822.4l3.5,-0.4 4.8,0.2 -15.9,1.7 -10.5,1 -4.7,-0.2z" fill="#1b6bff" stroke="#1b6bff"/><path d="M492.4,822.1l3.5,-0.4 4.6,0.3 -15.1,1.6 -11.2,1.1 -4.6,-0.3z" fill="#0071ff" stroke="#0071ff"/><path d="M487.9,821.8l3.5,-0.4 4.5,0.3 -15.9,1.7 -10.4,1 -4.4,-0.3z" fill="#0077ff" stroke="#0077ff"/><path d="M483.6,821.5l3.5,-0.4 4.3,0.3 -15.4,1.7 -10.8,1 -4.4,-0.3z" fill="#007dff" stroke="#007dff"/><path d="M479.4,821.1l3.4,-0.3 4.3,0.3 -15.2,1.6 -11.1,1.1 -4.1,-0.3z" fill="#0083fd" stroke="#0083fd"/><path d="M475.3,820.7l3.5,-0.3 4,0.4 -15.1,1.6 -11,1.1 -4.1,-0.4z" fill="#0088f9" stroke="#0088f9"/><path d="M471.3,820.3l3.5,-0.4 4,0.5 -15.3,1.6 -10.9,1.1 -4,-0.5z" fill="#008df5" stroke="#008df5"/><path d="M467.5,819.9l3.4,-0.4 3.9,0.4 -15.5,1.7 -10.7,1 -3.8,-0.4z" fill="#0092f1" stroke="#0092f1"/><path d="M463.7,819.4l3.4,-0.4 3.8,0.5 -14.5,1.6 -11.6,1.1 -3.8,-0.5z" fill="#0097ed" stroke="#0097ed"/><path d="M460,818.9l3.4,-0.4 3.7,0.5 -14.9,1.6 -11.2,1.1 -3.7,-0.5z" fill="#009cea" stroke="#009cea"/><path d="M456.4,818.4l3.4,-0.4 3.6,0.5 -15.5,1.7 -10.6,1 -3.6,-0.5z" fill="#00a1e7" stroke="#00a1e7"/><path d="M452.8,817.9l3.4,-0.4 3.6,0.5 -14.9,1.6 -11.2,1.1 -3.5,-0.5z" fill="#00a5e4" stroke="#00a5e4"/><path d="M449.3,817.3l3.4,-0.4 3.5,0.6 -15.6,1.7 -10.4,1 -3.5,-0.6z" fill="#00aae1" stroke="#00aae1"/><path d="M445.9,816.8l3.4,-0.4 3.4,0.5 -15.1,1.7 -10.9,1 -3.4,-0.6z" fill="#00aedc" stroke="#00aedc"/><path d="M442.6,816.2l3.4,-0.4 3.3,0.6 -14.7,1.5 -11.3,1.1 -3.3,-0.6z" fill="#00b1d7" stroke="#00b1d7"/><path d="M439.3,815.6l3.4,-0.4 3.3,0.6 -14.5,1.5 -11.5,1.1 -3.3,-0.6z" fill="#00b5d1" stroke="#00b5d1"/><path d="M436.1,814.9l3.4,-0.3 3.2,0.6 -15.6,1.6 -10.4,1 -3.2,-0.6z" fill="#00b8ca" stroke="#00b8ca"/><path d="M432.9,814.3l3.4,-0.4 3.2,0.7 -15.5,1.6 -10.5,1 -3.2,-0.6z" fill="#00bbc4" stroke="#00bbc4"/><path d="M429.8,813.7l3.4,-0.4 3.1,0.6 -15.4,1.7 -10.6,1 -3.1,-0.7z" fill="#00bdbc" stroke="#00bdbc"/><path d="M426.7,813l3.4,-0.4 3.1,0.7 -15.4,1.6 -10.6,1 -3.1,-0.6z" fill="#00bfb5" stroke="#00bfb5"/><path d="M423.7,812.3l3.4,-0.3 3,0.6 -15.4,1.7 -10.6,1 -3,-0.7z" fill="#00c1ae" stroke="#00c1ae"/><path d="M420.7,811.6l3.4,-0.3 3,0.7 -15.6,1.6 -10.4,1 -3,-0.7z" fill="#00c3a6" stroke="#00c3a6"/><path d="M417.7,810.9l3.4,-0.3 3,0.7 -14.4,1.5 -11.6,1.1 -2.9,-0.7z" fill="#00c69e" stroke="#00c69e"/><path d="M414.8,810.2l3.4,-0.3 2.9,0.7 -14.5,1.5 -11.4,1.1 -2.9,-0.7z" fill="#00c895" stroke="#00c895"/><path d="M412,809.5l3.4,-0.3 2.8,0.7 -25.9,2.6 -1.9,-0.5 0.3,-0.3z" fill="#00ca8c" stroke="#00ca8c"/><path d="M409.2,808.8l3.3,-0.4 2.9,0.8 -24.7,2.5 0.9,-1.1z" fill="#00cb81" stroke="#00cb81"/><path d="M406.4,808.1l3.3,-0.4 2.8,0.7 -20.9,2.2 0.8,-1.1z" fill="#00cc76" stroke="#00cc76"/><path d="M403.6,807.3l3.4,-0.4 2.7,0.8 -17.3,1.8 0.9,-1.1z" fill="#00cd6a" stroke="#00cd6a"/><path d="M400.9,806.6l3.4,-0.4 2.7,0.7 -13.7,1.5 0.8,-1.1z" fill="#00cd5e" stroke="#00cd5e"/><path d="M398.2,805.8l3.4,-0.4 2.7,0.8 -10.2,1.1 0.8,-1.2z" fill="#3ecc51" stroke="#3ecc51"/><path d="M395.6,805l3.3,-0.3 2.7,0.7 -6.7,0.7z" fill="#67cb44" stroke="#67cb44"/><path d="M396.4,803.9l2.5,0.8 -3.3,0.3z" fill="#82c936" stroke="#82c936"/><path d="M519,822l3.3,-0.4 -1.4,0.8 -5.4,0z" fill="#3d5afd" stroke="#3d5afd"/><path d="M521.1,821l2.6,-0.3 -1.4,0.9 -1.3,0.1 -5.5,0.7 -5.2,-0.1z" fill="#385fff" stroke="#385fff"/><path d="M523.4,820l1.5,-0.2 -1.2,0.9 -5.2,0.7 -8.2,0.9 -5,-0.1z" fill="#2f65ff" stroke="#2f65ff"/><path d="M526.1,818.9l-1.2,0.9 -7.7,1 -11.9,1.4 -4.8,-0.2z" fill="#1b6bff" stroke="#1b6bff"/><path d="M521.3,818.7l3.8,-0.5 1.8,0.1 -0.7,0.6 -13,1.6 -12.7,1.5 -4.6,-0.3z" fill="#0071ff" stroke="#0071ff"/><path d="M516.8,818.4l3.8,-0.5 4.5,0.3 -17.3,2.1 -11.9,1.4 -4.5,-0.3z" fill="#0077ff" stroke="#0077ff"/><path d="M512.4,818.1l3.8,-0.5 4.4,0.3 -16.8,2.1 -12.4,1.4 -4.3,-0.3z" fill="#007dff" stroke="#007dff"/><path d="M508.1,817.8l3.8,-0.5 4.3,0.3 -16.5,2 -12.6,1.5 -4.3,-0.3z" fill="#0083fd" stroke="#0083fd"/><path d="M504,817.4l3.7,-0.5 4.2,0.4 -16.3,2 -12.8,1.5 -4,-0.4z" fill="#0088f9" stroke="#0088f9"/><path d="M499.9,817l3.8,-0.5 4,0.4 -16.3,2 -12.6,1.5 -4,-0.5z" fill="#008df5" stroke="#008df5"/><path d="M496,816.6l3.7,-0.5 4,0.4 -16.5,2 -12.4,1.4 -3.9,-0.4z" fill="#0092f1" stroke="#0092f1"/><path d="M492.2,816.1l3.7,-0.5 3.8,0.5 -16.7,2 -12.1,1.4 -3.8,-0.5z" fill="#0097ed" stroke="#0097ed"/><path d="M488.4,815.6l3.7,-0.4 3.8,0.4 -17.1,2.1 -11.7,1.3 -3.7,-0.5z" fill="#009cea" stroke="#009cea"/><path d="M484.8,815.1l3.7,-0.4 3.6,0.5 -16.3,1.9 -12.4,1.4 -3.6,-0.5z" fill="#00a1e7" stroke="#00a1e7"/><path d="M481.2,814.6l3.7,-0.5 3.6,0.6 -17,2 -11.7,1.3 -3.6,-0.5z" fill="#00a5e4" stroke="#00a5e4"/><path d="M477.7,814.1l3.6,-0.5 3.6,0.5 -16.4,2 -12.3,1.4 -3.5,-0.6z" fill="#00aae1" stroke="#00aae1"/><path d="M474.2,813.5l3.7,-0.5 3.4,0.6 -17.1,2.1 -11.5,1.2 -3.4,-0.5z" fill="#00aedc" stroke="#00aedc"/><path d="M470.8,812.9l3.7,-0.4 3.4,0.5 -16.7,2 -11.9,1.4 -3.3,-0.6z" fill="#00b1d7" stroke="#00b1d7"/><path d="M467.5,812.3l3.7,-0.4 3.3,0.6 -16.4,1.9 -12.1,1.4 -3.3,-0.6z" fill="#00b5d1" stroke="#00b5d1"/><path d="M464.2,811.7l3.7,-0.4 3.3,0.6 -16.2,1.9 -12.3,1.4 -3.2,-0.6z" fill="#00b8ca" stroke="#00b8ca"/><path d="M461,811.1l3.7,-0.5 3.2,0.7 -15.9,1.9 -12.5,1.4 -3.2,-0.7z" fill="#00bbc4" stroke="#00bbc4"/><path d="M457.9,810.4l3.7,-0.4 3.1,0.6 -15.8,1.9 -12.6,1.4 -3.1,-0.6z" fill="#00bdbc" stroke="#00bdbc"/><path d="M454.8,809.8l3.6,-0.5 3.2,0.7 -15.8,1.9 -12.6,1.4 -3.1,-0.7z" fill="#00bfb5" stroke="#00bfb5"/><path d="M451.7,809.1l3.7,-0.4 3,0.6 -15.8,1.9 -12.5,1.4 -3,-0.6z" fill="#00c1ae" stroke="#00c1ae"/><path d="M448.7,808.4l3.7,-0.4 3,0.7 -15.9,1.9 -12.4,1.4 -3,-0.7z" fill="#00c3a6" stroke="#00c3a6"/><path d="M445.8,807.8l3.6,-0.5 3,0.7 -16,1.9 -12.3,1.4 -3,-0.7z" fill="#00c69e" stroke="#00c69e"/><path d="M442.8,807.1l3.7,-0.5 2.9,0.7 -16.2,1.9 -12.1,1.4 -2.9,-0.7z" fill="#00c895" stroke="#00c895"/><path d="M440,806.3l3.6,-0.4 2.9,0.7 -16.5,2 -11.8,1.3 -2.8,-0.7z" fill="#00ca8c" stroke="#00ca8c"/><path d="M437.1,805.6l3.6,-0.4 2.9,0.7 -16.7,2 -11.5,1.3 -2.9,-0.8z" fill="#00cb81" stroke="#00cb81"/><path d="M434.3,804.9l3.6,-0.4 2.8,0.7 -15.7,1.8 -12.5,1.4 -2.8,-0.7z" fill="#00cc76" stroke="#00cc76"/><path d="M431.5,804.2l3.7,-0.5 2.7,0.8 -16.1,1.9 -12.1,1.3 -2.7,-0.8z" fill="#00cd6a" stroke="#00cd6a"/><path d="M428.8,803.4l3.6,-0.4 2.8,0.7 -16.6,2 -11.6,1.2 -2.7,-0.7z" fill="#00cd5e" stroke="#00cd5e"/><path d="M426.1,802.6l3.6,-0.4 2.7,0.8 -15.7,1.8 -12.4,1.4 -2.7,-0.8z" fill="#3ecc51" stroke="#3ecc51"/><path d="M423.4,801.9l3.6,-0.5 2.7,0.8 -16.2,1.9 -11.9,1.3 -2.7,-0.7z" fill="#67cb44" stroke="#67cb44"/><path d="M420.8,801.1l3.6,-0.4 2.6,0.7 -12.8,1.6 -15.3,1.7 -2.5,-0.8z" fill="#82c936" stroke="#82c936"/><path d="M418.2,800.3l3.6,-0.4 2.6,0.8 -28,3.2 0.7,-1.2z" fill="#9ac727" stroke="#9ac727"/><path d="M415.6,799.5l3.6,-0.4 2.6,0.8 -24.7,2.8 0.7,-1.1z" fill="#afc517" stroke="#afc517"/><path d="M413,798.7l3.6,-0.4 2.6,0.8 -21.4,2.5 0.7,-1.2z" fill="#c2c205" stroke="#c2c205"/><path d="M410.5,797.9l3.6,-0.4 2.5,0.8 -18.1,2.1 0.7,-1.2z" fill="#d3c000" stroke="#d3c000"/><path d="M408,797.1l3.6,-0.4 2.5,0.8 -14.9,1.7 0.7,-1.2z" fill="#e3bd00" stroke="#e3bd00"/><path d="M405.5,796.3l3.6,-0.4 2.5,0.8 -11.7,1.3 0.6,-1.1z" fill="#f1bb0a" stroke="#f1bb0a"/><path d="M403,795.5l3.6,-0.5 2.5,0.9 -8.6,1 0.7,-1.2z" fill="#fcba1c" stroke="#fcba1c"/><path d="M401.6,795l0.2,-0.5 2.4,-0.3 2.4,0.8 -5.4,0.7z" fill="#ffba2b" stroke="#ffba2b"/><path d="M402.3,793.5l1.9,0.7 -2.4,0.3z" fill="#ffbc2d" stroke="#ffbc2d"/><path d="M525.1,818.2l2.2,-0.3 -0.4,0.4z" fill="#0071ff" stroke="#0071ff"/><path d="M528.2,817l-0.9,0.9 -2.2,0.3 -4.5,-0.3z" fill="#0077ff" stroke="#0077ff"/><path d="M527.6,816.2l1.9,-0.3 -1.1,1 -2.6,0.4 -5.2,0.6 -4.4,-0.3z" fill="#007dff" stroke="#007dff"/><path d="M527.2,815.3l3.3,-0.4 -1,1 -7.8,1 -5.5,0.7 -4.3,-0.3z" fill="#0083fd" stroke="#0083fd"/><path d="M530.8,814l0.7,-0.1 -1,1 -9,1.2 -9.6,1.2 -4.2,-0.4z" fill="#0088f9" stroke="#0088f9"/><path d="M530.6,813.1l1.9,-0.3 -1,1.1 -14.1,1.8 -9.7,1.2 -4,-0.4z" fill="#008df5" stroke="#008df5"/><path d="M526.6,812.7l3.9,-0.5 2.4,0.2 -0.4,0.4 -19.3,2.5 -9.5,1.2 -4,-0.4z" fill="#0092f1" stroke="#0092f1"/><path d="M522.6,812.2l3.9,-0.5 4,0.5 -21.5,2.7 -9.3,1.2 -3.8,-0.5z" fill="#0097ed" stroke="#0097ed"/><path d="M518.8,811.8l3.9,-0.5 3.8,0.4 -20.4,2.7 -10.2,1.2 -3.8,-0.4z" fill="#009cea" stroke="#009cea"/><path d="M515.1,811.3l3.9,-0.5 3.7,0.5 -20.9,2.7 -9.7,1.2 -3.6,-0.5z" fill="#00a1e7" stroke="#00a1e7"/><path d="M511.5,810.8l3.8,-0.5 3.7,0.5 -17.6,2.2 -12.9,1.7 -3.6,-0.6z" fill="#00a5e4" stroke="#00a5e4"/><path d="M507.9,810.3l3.9,-0.5 3.5,0.5 -20.7,2.6 -9.7,1.2 -3.6,-0.5z" fill="#00aae1" stroke="#00aae1"/><path d="M504.4,809.7l3.9,-0.5 3.5,0.6 -17.7,2.2 -12.8,1.6 -3.4,-0.6z" fill="#00aedc" stroke="#00aedc"/><path d="M501,809.2l3.8,-0.5 3.5,0.5 -17.2,2.2 -13.2,1.6 -3.4,-0.5z" fill="#00b1d7" stroke="#00b1d7"/><path d="M497.6,808.6l3.9,-0.5 3.3,0.6 -20.6,2.6 -9.7,1.2 -3.3,-0.6z" fill="#00b5d1" stroke="#00b5d1"/><path d="M494.3,808l3.9,-0.5 3.3,0.6 -17.8,2.2 -12.5,1.6 -3.3,-0.6z" fill="#00b8ca" stroke="#00b8ca"/><path d="M491.1,807.4l3.8,-0.5 3.3,0.6 -17.6,2.2 -12.7,1.6 -3.2,-0.7z" fill="#00bbc4" stroke="#00bbc4"/><path d="M487.9,806.7l3.8,-0.5 3.2,0.7 -17.3,2.2 -12.9,1.5 -3.1,-0.6z" fill="#00bdbc" stroke="#00bdbc"/><path d="M484.7,806.1l3.9,-0.5 3.1,0.6 -17.2,2.2 -12.9,1.6 -3.2,-0.7z" fill="#00bfb5" stroke="#00bfb5"/><path d="M481.6,805.4l3.9,-0.5 3.1,0.7 -17.3,2.2 -12.9,1.5 -3,-0.6z" fill="#00c1ae" stroke="#00c1ae"/><path d="M478.6,804.8l3.8,-0.5 3.1,0.6 -17.3,2.2 -12.8,1.6 -3,-0.7z" fill="#00c3a6" stroke="#00c3a6"/><path d="M475.6,804.1l3.8,-0.5 3,0.7 -17.3,2.2 -12.7,1.5 -3,-0.7z" fill="#00c69e" stroke="#00c69e"/><path d="M472.6,803.4l3.9,-0.5 2.9,0.7 -17.5,2.2 -12.5,1.5 -2.9,-0.7z" fill="#00c895" stroke="#00c895"/><path d="M469.7,802.7l3.8,-0.5 3,0.7 -17.7,2.2 -12.3,1.5 -2.9,-0.7z" fill="#00ca8c" stroke="#00ca8c"/><path d="M466.9,802l3.8,-0.5 2.8,0.7 -16.6,2.1 -13.3,1.6 -2.9,-0.7z" fill="#00cb81" stroke="#00cb81"/><path d="M464,801.2l3.8,-0.4 2.9,0.7 -17,2.1 -13,1.6 -2.8,-0.7z" fill="#00cc76" stroke="#00cc76"/><path d="M461.2,800.5l3.8,-0.5 2.8,0.8 -17.2,2.1 -12.7,1.6 -2.7,-0.8z" fill="#00cd6a" stroke="#00cd6a"/><path d="M458.5,799.8l3.8,-0.5 2.7,0.7 -17.6,2.2 -12.2,1.5 -2.8,-0.7z" fill="#00cd5e" stroke="#00cd5e"/><path d="M455.7,799l3.8,-0.5 2.8,0.8 -16.9,2.1 -13,1.6 -2.7,-0.8z" fill="#3ecc51" stroke="#3ecc51"/><path d="M453,798.3l3.8,-0.5 2.7,0.7 -17.3,2.2 -12.5,1.5 -2.7,-0.8z" fill="#67cb44" stroke="#67cb44"/><path d="M450.4,797.5l3.8,-0.5 2.6,0.8 -16.5,2 -13.3,1.6 -2.6,-0.7z" fill="#82c936" stroke="#82c936"/><path d="M447.7,796.7l3.8,-0.5 2.7,0.8 -17.1,2.1 -12.7,1.6 -2.6,-0.8z" fill="#9ac727" stroke="#9ac727"/><path d="M445.1,795.9l3.8,-0.5 2.6,0.8 -16.4,2.1 -13.3,1.6 -2.6,-0.8z" fill="#afc517" stroke="#afc517"/><path d="M442.5,795.1l3.8,-0.4 2.6,0.7 -17,2.2 -12.7,1.5 -2.6,-0.8z" fill="#c2c205" stroke="#c2c205"/><path d="M440,794.3l3.8,-0.4 2.5,0.8 -16.4,2 -13.3,1.6 -2.5,-0.8z" fill="#d3c000" stroke="#d3c000"/><path d="M437.5,793.5l3.7,-0.5 2.6,0.9 -17.1,2.1 -12.6,1.5 -2.5,-0.8z" fill="#e3bd00" stroke="#e3bd00"/><path d="M435,792.7l3.7,-0.5 2.5,0.8 -16.5,2.1 -13.1,1.6 -2.5,-0.8z" fill="#f1bb0a" stroke="#f1bb0a"/><path d="M432.5,791.9l3.8,-0.5 2.4,0.8 -17.2,2.2 -12.4,1.5 -2.5,-0.9z" fill="#fcba1c" stroke="#fcba1c"/><path d="M430.1,791.1l3.7,-0.5 2.5,0.8 -16.8,2.1 -12.9,1.5 -2.4,-0.8z" fill="#ffba2b" stroke="#ffba2b"/><path d="M427.6,790.2l3.8,-0.5 2.4,0.9 -29.6,3.6 -1.9,-0.7 0.2,-0.2z" fill="#ffbc2d" stroke="#ffbc2d"/><path d="M425.2,789.4l3.8,-0.5 2.4,0.8 -28.9,3.6 0.6,-1.2z" fill="#ffc127" stroke="#ffc127"/><path d="M422.9,788.5l3.7,-0.4 2.4,0.8 -25.9,3.2 0.6,-1.2z" fill="#ffc71d" stroke="#ffc71d"/><path d="M420.5,787.7l3.8,-0.5 2.3,0.9 -22.9,2.8 0.6,-1.2z" fill="#ffcd09" stroke="#ffcd09"/><path d="M418.2,786.8l3.7,-0.4 2.4,0.8 -20,2.5 0.6,-1.2z" fill="#ffd300" stroke="#ffd300"/><path d="M415.8,786l3.8,-0.5 2.3,0.9 -17,2.1 0.6,-1.3z" fill="#ffda00" stroke="#ffda00"/><path d="M413.5,785.1l3.8,-0.5 2.3,0.9 -14.1,1.7 0.6,-1.2z" fill="#fde000" stroke="#fde000"/><path d="M411.3,784.2l3.7,-0.5 2.3,0.9 -11.2,1.4 0.5,-1.2z" fill="#fae600" stroke="#fae600"/><path d="M409,783.3l3.8,-0.4 2.2,0.8 -8.4,1.1 0.6,-1.2z" fill="#f9ec00" stroke="#f9ec00"/><path d="M407.6,782.8l0.1,-0.5 2.8,-0.3 2.3,0.9 -5.6,0.7z" fill="#f8f200" stroke="#f8f200"/><path d="M408.3,781.1l2.2,0.9 -2.8,0.3z" fill="#f8f800" stroke="#f8f800"/></g>
<g font-family="Liberation Serif, serif" font-size="6.9" fill="#1a1a1a" stroke="#1a1a1a" stroke-width="0.18">
<text x="412.6" y="885.6">-5</text>
<text x="474.9" y="868.9">0</text>
<text x="537.2" y="852.2">5</text>
<text x="402.7" y="884.8" text-anchor="end">-5</text>
<text x="354.9" y="863" text-anchor="end">0</text>
<text x="307.1" y="841.3" text-anchor="end">5</text>
<text x="307.6" y="814.6" text-anchor="end">100</text>
<text x="307.6" y="795.8" text-anchor="end">200</text>
<text x="307.6" y="777" text-anchor="end">300</text>
<text x="307.6" y="758.2" text-anchor="end">400</text>
<text x="307.6" y="739.3" text-anchor="end">500</text>
<path d="M532.9,842.7L408.3,876.1L312.7,832.6L312.7,737.6M408.3,876.1l2,0.9M470.6,859.4l2,0.9M532.9,842.7l2,0.9M408.3,876.1l-2.1,0.6M360.5,854.3l-2.1,0.6M312.7,832.6l-2.1,0.6M312.7,812.9h-2.5M312.7,794.1h-2.5M312.7,775.3h-2.5M312.7,756.5h-2.5M312.7,737.6h-2.5" fill="none" stroke="#646464" stroke-width="0.75"/>
<text x="421.9" y="702" text-anchor="middle" font-size="7.3">F17</text>
<text x="458.6" y="885.9" text-anchor="middle" font-size="7.6">x<tspan dy="2" font-size="5.4">1</tspan></text>
<text x="364" y="882.8" text-anchor="middle" font-size="7.6">x<tspan dy="2" font-size="5.4">2</tspan></text>
<text transform="translate(289.8,785.1) rotate(-90)" text-anchor="middle" font-size="7.4">F17( x<tspan dy="2" font-size="5.4">1</tspan><tspan dy="-2" font-size="7.4"> , x</tspan><tspan dy="2" font-size="5.4">2</tspan><tspan dy="-2" font-size="7.4"> )</tspan></text>
</g>
<text x="276" y="224.8" text-anchor="middle" font-family="Liberation Serif, serif" font-size="12.5" fill="#111">(<tspan font-weight="bold">g</tspan>)</text>
<text x="276" y="454.0" text-anchor="middle" font-family="Liberation Serif, serif" font-size="12.5" fill="#111">(<tspan font-weight="bold">h</tspan>)</text>
<text x="276" y="683.3" text-anchor="middle" font-family="Liberation Serif, serif" font-size="12.5" fill="#111">(<tspan font-weight="bold">i</tspan>)</text>
<text x="276" y="912.8" text-anchor="middle" font-family="Liberation Serif, serif" font-size="12.5" fill="#111">(<tspan font-weight="normal">j</tspan>)</text>
</svg>
</body></html>
